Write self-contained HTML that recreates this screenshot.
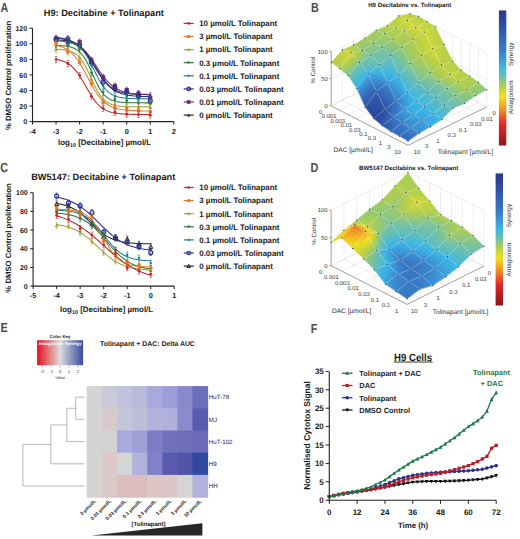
<!DOCTYPE html><html><head><meta charset="utf-8"><style>html,body{margin:0;padding:0;background:#fff;overflow:hidden}svg{display:block}text{font-family:"Liberation Sans",sans-serif;text-rendering:geometricPrecision}</style></head><body>
<svg width="520" height="539" viewBox="0 0 520 539">
<rect width="520" height="539" fill="#fff"/>
<polyline points="56.05,39.79 57.65,39.89 59.24,40.02 60.84,40.17 62.44,40.35 64.03,40.56 65.63,40.82 67.23,41.13 68.82,41.51 70.42,41.95 72.02,42.47 73.61,43.09 75.21,43.83 76.81,44.69 78.40,45.69 80.00,46.84 81.60,48.17 83.19,49.69 84.79,51.39 86.39,53.29 87.98,55.38 89.58,57.63 91.18,60.04 92.77,62.56 94.37,65.17 95.97,67.80 97.56,70.43 99.16,72.99 100.76,75.45 102.35,77.77 103.95,79.92 105.54,81.90 107.14,83.68 108.74,85.27 110.33,86.67 111.93,87.90 113.53,88.96 115.12,89.88 116.72,90.66 118.32,91.32 119.91,91.89 121.51,92.36 123.11,92.76 124.70,93.09 126.30,93.37 127.90,93.60 129.49,93.80 131.09,93.96 132.69,94.09 134.28,94.21 135.88,94.30 137.48,94.37 139.07,94.44 140.67,94.49 142.27,94.53 143.86,94.57 145.46,94.60 147.06,94.63 148.65,94.65 150.25,94.66" fill="none" stroke="#222222" stroke-width="1.05"/>
<polyline points="56.05,38.26 57.65,38.40 59.24,38.57 60.84,38.77 62.44,39.01 64.03,39.29 65.63,39.62 67.23,40.00 68.82,40.44 70.42,40.95 72.02,41.55 73.61,42.24 75.21,43.04 76.81,43.95 78.40,44.99 80.00,46.16 81.60,47.49 83.19,48.96 84.79,50.59 86.39,52.38 87.98,54.31 89.58,56.39 91.18,58.58 92.77,60.88 94.37,63.24 95.97,65.65 97.56,68.06 99.16,70.44 100.76,72.76 102.35,75.00 103.95,77.11 105.54,79.10 107.14,80.93 108.74,82.61 110.33,84.14 111.93,85.51 113.53,86.74 115.12,87.82 116.72,88.77 118.32,89.60 119.91,90.33 121.51,90.96 123.11,91.50 124.70,91.96 126.30,92.37 127.90,92.71 129.49,93.00 131.09,93.25 132.69,93.46 134.28,93.64 135.88,93.80 137.48,93.93 139.07,94.04 140.67,94.13 142.27,94.21 143.86,94.28 145.46,94.34 147.06,94.39 148.65,94.43 150.25,94.46" fill="none" stroke="#6d2a77" stroke-width="1.05"/>
<polyline points="56.05,37.41 57.65,37.59 59.24,37.80 60.84,38.05 62.44,38.35 64.03,38.69 65.63,39.09 67.23,39.56 68.82,40.11 70.42,40.75 72.02,41.49 73.61,42.34 75.21,43.31 76.81,44.42 78.40,45.68 80.00,47.09 81.60,48.67 83.19,50.42 84.79,52.34 86.39,54.41 87.98,56.63 89.58,58.99 91.18,61.44 92.77,63.97 94.37,66.53 95.97,69.10 97.56,71.63 99.16,74.09 100.76,76.45 102.35,78.68 103.95,80.77 105.54,82.69 107.14,84.45 108.74,86.04 110.33,87.47 111.93,88.74 113.53,89.86 115.12,90.84 116.72,91.70 118.32,92.44 119.91,93.08 121.51,93.64 123.11,94.11 124.70,94.52 126.30,94.87 127.90,95.17 129.49,95.42 131.09,95.63 132.69,95.82 134.28,95.97 135.88,96.10 137.48,96.21 139.07,96.31 140.67,96.39 142.27,96.45 143.86,96.51 145.46,96.56 147.06,96.60 148.65,96.63 150.25,96.66" fill="none" stroke="#2b2f8f" stroke-width="1.05"/>
<polyline points="56.05,40.95 57.65,41.01 59.24,41.10 60.84,41.20 62.44,41.33 64.03,41.50 65.63,41.70 67.23,41.96 68.82,42.27 70.42,42.66 72.02,43.14 73.61,43.74 75.21,44.46 76.81,45.35 78.40,46.41 80.00,47.70 81.60,49.22 83.19,51.00 84.79,53.07 86.39,55.42 87.98,58.04 89.58,60.92 91.18,64.00 92.77,67.22 94.37,70.50 95.97,73.77 97.56,76.93 99.16,79.92 100.76,82.69 102.35,85.19 103.95,87.40 105.54,89.33 107.14,90.99 108.74,92.40 110.33,93.58 111.93,94.56 113.53,95.36 115.12,96.02 116.72,96.56 118.32,97.00 119.91,97.35 121.51,97.64 123.11,97.87 124.70,98.05 126.30,98.20 127.90,98.32 129.49,98.41 131.09,98.49 132.69,98.55 134.28,98.59 135.88,98.63 137.48,98.66 139.07,98.69 140.67,98.71 142.27,98.72 143.86,98.74 145.46,98.75 147.06,98.75 148.65,98.76 150.25,98.77" fill="none" stroke="#1e7b89" stroke-width="1.05"/>
<polyline points="56.05,45.38 57.65,45.44 59.24,45.50 60.84,45.59 62.44,45.70 64.03,45.85 65.63,46.03 67.23,46.27 68.82,46.56 70.42,46.94 72.02,47.42 73.61,48.02 75.21,48.77 76.81,49.71 78.40,50.87 80.00,52.28 81.60,53.99 83.19,56.02 84.79,58.39 86.39,61.11 87.98,64.14 89.58,67.45 91.18,70.95 92.77,74.54 94.37,78.12 95.97,81.58 97.56,84.81 99.16,87.76 100.76,90.38 102.35,92.65 103.95,94.59 105.54,96.21 107.14,97.55 108.74,98.64 110.33,99.52 111.93,100.22 113.53,100.79 115.12,101.23 116.72,101.59 118.32,101.87 119.91,102.08 121.51,102.25 123.11,102.39 124.70,102.49 126.30,102.58 127.90,102.64 129.49,102.69 131.09,102.73 132.69,102.76 134.28,102.78 135.88,102.80 137.48,102.81 139.07,102.83 140.67,102.83 142.27,102.84 143.86,102.85 145.46,102.85 147.06,102.85 148.65,102.86 150.25,102.86" fill="none" stroke="#2b7a3b" stroke-width="1.05"/>
<polyline points="56.05,49.21 57.65,49.29 59.24,49.38 60.84,49.51 62.44,49.67 64.03,49.87 65.63,50.12 67.23,50.44 68.82,50.84 70.42,51.34 72.02,51.97 73.61,52.75 75.21,53.71 76.81,54.89 78.40,56.31 80.00,58.02 81.60,60.04 83.19,62.38 84.79,65.05 86.39,68.02 87.98,71.25 89.58,74.66 91.18,78.16 92.77,81.65 94.37,85.04 95.97,88.24 97.56,91.17 99.16,93.79 100.76,96.09 102.35,98.06 103.95,99.73 105.54,101.12 107.14,102.27 108.74,103.20 110.33,103.96 111.93,104.56 113.53,105.05 115.12,105.44 116.72,105.75 118.32,105.99 119.91,106.18 121.51,106.34 123.11,106.46 124.70,106.55 126.30,106.63 127.90,106.68 129.49,106.73 131.09,106.77 132.69,106.79 134.28,106.82 135.88,106.83 137.48,106.85 139.07,106.86 140.67,106.87 142.27,106.87 143.86,106.88 145.46,106.88 147.06,106.89 148.65,106.89 150.25,106.89" fill="none" stroke="#a5a23a" stroke-width="1.05"/>
<polyline points="56.05,45.10 57.65,45.47 59.24,45.89 60.84,46.40 62.44,46.99 64.03,47.69 65.63,48.51 67.23,49.45 68.82,50.55 70.42,51.81 72.02,53.26 73.61,54.89 75.21,56.73 76.81,58.78 78.40,61.04 80.00,63.50 81.60,66.14 83.19,68.94 84.79,71.87 86.39,74.87 87.98,77.91 89.58,80.94 91.18,83.91 92.77,86.78 94.37,89.50 95.97,92.05 97.56,94.40 99.16,96.56 100.76,98.50 102.35,100.23 103.95,101.77 105.54,103.11 107.14,104.29 108.74,105.31 110.33,106.18 111.93,106.93 113.53,107.58 115.12,108.12 116.72,108.59 118.32,108.98 119.91,109.31 121.51,109.59 123.11,109.83 124.70,110.03 126.30,110.19 127.90,110.33 129.49,110.45 131.09,110.55 132.69,110.63 134.28,110.70 135.88,110.76 137.48,110.81 139.07,110.85 140.67,110.88 142.27,110.91 143.86,110.93 145.46,110.95 147.06,110.97 148.65,110.98 150.25,111.00" fill="none" stroke="#e57a2c" stroke-width="1.05"/>
<polyline points="56.05,59.48 57.65,59.76 59.24,60.10 60.84,60.51 62.44,61.00 64.03,61.59 65.63,62.29 67.23,63.12 68.82,64.10 70.42,65.25 72.02,66.59 73.61,68.13 75.21,69.88 76.81,71.85 78.40,74.03 80.00,76.42 81.60,78.97 83.19,81.67 84.79,84.46 86.39,87.28 87.98,90.09 89.58,92.82 91.18,95.43 92.77,97.87 94.37,100.13 95.97,102.17 97.56,104.00 99.16,105.61 100.76,107.02 102.35,108.23 103.95,109.27 105.54,110.15 107.14,110.89 108.74,111.52 110.33,112.04 111.93,112.47 113.53,112.84 115.12,113.13 116.72,113.38 118.32,113.59 119.91,113.75 121.51,113.89 123.11,114.00 124.70,114.10 126.30,114.17 127.90,114.24 129.49,114.29 131.09,114.33 132.69,114.37 134.28,114.39 135.88,114.42 137.48,114.44 139.07,114.45 140.67,114.46 142.27,114.47 143.86,114.48 145.46,114.49 147.06,114.50 148.65,114.50 150.25,114.50" fill="none" stroke="#c1272d" stroke-width="1.05"/>
<line x1="56.05" y1="37.66" x2="56.05" y2="43.66" stroke="#222222" stroke-width="0.6"/>
<line x1="54.85" y1="37.66" x2="57.25" y2="37.66" stroke="#222222" stroke-width="0.6"/>
<line x1="54.85" y1="43.66" x2="57.25" y2="43.66" stroke="#222222" stroke-width="0.6"/>
<polygon points="56.05,38.86 57.85,42.10 54.25,42.10" fill="#222222"/>
<line x1="67.83" y1="38.44" x2="67.83" y2="44.44" stroke="#222222" stroke-width="0.6"/>
<line x1="66.62" y1="38.44" x2="69.03" y2="38.44" stroke="#222222" stroke-width="0.6"/>
<line x1="66.62" y1="44.44" x2="69.03" y2="44.44" stroke="#222222" stroke-width="0.6"/>
<polygon points="67.83,39.64 69.62,42.88 66.03,42.88" fill="#222222"/>
<line x1="79.60" y1="41.55" x2="79.60" y2="47.55" stroke="#222222" stroke-width="0.6"/>
<line x1="78.40" y1="41.55" x2="80.80" y2="41.55" stroke="#222222" stroke-width="0.6"/>
<line x1="78.40" y1="47.55" x2="80.80" y2="47.55" stroke="#222222" stroke-width="0.6"/>
<polygon points="79.60,42.75 81.40,45.99 77.80,45.99" fill="#222222"/>
<line x1="91.38" y1="58.67" x2="91.38" y2="64.67" stroke="#222222" stroke-width="0.6"/>
<line x1="90.17" y1="58.67" x2="92.58" y2="58.67" stroke="#222222" stroke-width="0.6"/>
<line x1="90.17" y1="64.67" x2="92.58" y2="64.67" stroke="#222222" stroke-width="0.6"/>
<polygon points="91.38,59.87 93.17,63.11 89.58,63.11" fill="#222222"/>
<line x1="103.15" y1="75.79" x2="103.15" y2="81.79" stroke="#222222" stroke-width="0.6"/>
<line x1="101.95" y1="75.79" x2="104.35" y2="75.79" stroke="#222222" stroke-width="0.6"/>
<line x1="101.95" y1="81.79" x2="104.35" y2="81.79" stroke="#222222" stroke-width="0.6"/>
<polygon points="103.15,76.99 104.95,80.23 101.35,80.23" fill="#222222"/>
<line x1="114.92" y1="85.91" x2="114.92" y2="91.91" stroke="#222222" stroke-width="0.6"/>
<line x1="113.72" y1="85.91" x2="116.12" y2="85.91" stroke="#222222" stroke-width="0.6"/>
<line x1="113.72" y1="91.91" x2="116.12" y2="91.91" stroke="#222222" stroke-width="0.6"/>
<polygon points="114.92,87.11 116.72,90.35 113.12,90.35" fill="#222222"/>
<line x1="126.70" y1="89.80" x2="126.70" y2="95.80" stroke="#222222" stroke-width="0.6"/>
<line x1="125.50" y1="89.80" x2="127.90" y2="89.80" stroke="#222222" stroke-width="0.6"/>
<line x1="125.50" y1="95.80" x2="127.90" y2="95.80" stroke="#222222" stroke-width="0.6"/>
<polygon points="126.70,91.00 128.50,94.24 124.90,94.24" fill="#222222"/>
<line x1="138.48" y1="91.36" x2="138.48" y2="97.36" stroke="#222222" stroke-width="0.6"/>
<line x1="137.28" y1="91.36" x2="139.68" y2="91.36" stroke="#222222" stroke-width="0.6"/>
<line x1="137.28" y1="97.36" x2="139.68" y2="97.36" stroke="#222222" stroke-width="0.6"/>
<polygon points="138.48,92.56 140.28,95.80 136.68,95.80" fill="#222222"/>
<line x1="150.25" y1="92.92" x2="150.25" y2="98.92" stroke="#222222" stroke-width="0.6"/>
<line x1="149.05" y1="92.92" x2="151.45" y2="92.92" stroke="#222222" stroke-width="0.6"/>
<line x1="149.05" y1="98.92" x2="151.45" y2="98.92" stroke="#222222" stroke-width="0.6"/>
<polygon points="150.25,94.12 152.05,97.36 148.45,97.36" fill="#222222"/>
<line x1="56.05" y1="35.48" x2="56.05" y2="41.48" stroke="#6d2a77" stroke-width="0.6"/>
<line x1="54.85" y1="35.48" x2="57.25" y2="35.48" stroke="#6d2a77" stroke-width="0.6"/>
<line x1="54.85" y1="41.48" x2="57.25" y2="41.48" stroke="#6d2a77" stroke-width="0.6"/>
<rect x="53.98" y="36.41" width="4.14" height="4.14" fill="#6d2a77"/>
<line x1="67.83" y1="39.29" x2="67.83" y2="45.29" stroke="#6d2a77" stroke-width="0.6"/>
<line x1="66.62" y1="39.29" x2="69.03" y2="39.29" stroke="#6d2a77" stroke-width="0.6"/>
<line x1="66.62" y1="45.29" x2="69.03" y2="45.29" stroke="#6d2a77" stroke-width="0.6"/>
<rect x="65.76" y="40.22" width="4.14" height="4.14" fill="#6d2a77"/>
<line x1="79.60" y1="38.90" x2="79.60" y2="44.90" stroke="#6d2a77" stroke-width="0.6"/>
<line x1="78.40" y1="38.90" x2="80.80" y2="38.90" stroke="#6d2a77" stroke-width="0.6"/>
<line x1="78.40" y1="44.90" x2="80.80" y2="44.90" stroke="#6d2a77" stroke-width="0.6"/>
<rect x="77.53" y="39.83" width="4.14" height="4.14" fill="#6d2a77"/>
<line x1="91.38" y1="57.43" x2="91.38" y2="63.43" stroke="#6d2a77" stroke-width="0.6"/>
<line x1="90.17" y1="57.43" x2="92.58" y2="57.43" stroke="#6d2a77" stroke-width="0.6"/>
<line x1="90.17" y1="63.43" x2="92.58" y2="63.43" stroke="#6d2a77" stroke-width="0.6"/>
<rect x="89.31" y="58.36" width="4.14" height="4.14" fill="#6d2a77"/>
<line x1="103.15" y1="74.39" x2="103.15" y2="80.39" stroke="#6d2a77" stroke-width="0.6"/>
<line x1="101.95" y1="74.39" x2="104.35" y2="74.39" stroke="#6d2a77" stroke-width="0.6"/>
<line x1="101.95" y1="80.39" x2="104.35" y2="80.39" stroke="#6d2a77" stroke-width="0.6"/>
<rect x="101.08" y="75.32" width="4.14" height="4.14" fill="#6d2a77"/>
<line x1="114.92" y1="83.03" x2="114.92" y2="89.03" stroke="#6d2a77" stroke-width="0.6"/>
<line x1="113.72" y1="83.03" x2="116.12" y2="83.03" stroke="#6d2a77" stroke-width="0.6"/>
<line x1="113.72" y1="89.03" x2="116.12" y2="89.03" stroke="#6d2a77" stroke-width="0.6"/>
<rect x="112.86" y="83.96" width="4.14" height="4.14" fill="#6d2a77"/>
<line x1="126.70" y1="87.08" x2="126.70" y2="93.08" stroke="#6d2a77" stroke-width="0.6"/>
<line x1="125.50" y1="87.08" x2="127.90" y2="87.08" stroke="#6d2a77" stroke-width="0.6"/>
<line x1="125.50" y1="93.08" x2="127.90" y2="93.08" stroke="#6d2a77" stroke-width="0.6"/>
<rect x="124.63" y="88.01" width="4.14" height="4.14" fill="#6d2a77"/>
<line x1="138.48" y1="90.58" x2="138.48" y2="96.58" stroke="#6d2a77" stroke-width="0.6"/>
<line x1="137.28" y1="90.58" x2="139.68" y2="90.58" stroke="#6d2a77" stroke-width="0.6"/>
<line x1="137.28" y1="96.58" x2="139.68" y2="96.58" stroke="#6d2a77" stroke-width="0.6"/>
<rect x="136.41" y="91.51" width="4.14" height="4.14" fill="#6d2a77"/>
<line x1="150.25" y1="94.63" x2="150.25" y2="100.63" stroke="#6d2a77" stroke-width="0.6"/>
<line x1="149.05" y1="94.63" x2="151.45" y2="94.63" stroke="#6d2a77" stroke-width="0.6"/>
<line x1="149.05" y1="100.63" x2="151.45" y2="100.63" stroke="#6d2a77" stroke-width="0.6"/>
<rect x="148.18" y="95.56" width="4.14" height="4.14" fill="#6d2a77"/>
<line x1="56.05" y1="36.18" x2="56.05" y2="42.18" stroke="#2b2f8f" stroke-width="0.6"/>
<line x1="54.85" y1="36.18" x2="57.25" y2="36.18" stroke="#2b2f8f" stroke-width="0.6"/>
<line x1="54.85" y1="42.18" x2="57.25" y2="42.18" stroke="#2b2f8f" stroke-width="0.6"/>
<circle cx="56.05" cy="39.18" r="1.98" fill="none" stroke="#2b2f8f" stroke-width="1.2"/>
<line x1="67.83" y1="35.79" x2="67.83" y2="41.79" stroke="#2b2f8f" stroke-width="0.6"/>
<line x1="66.62" y1="35.79" x2="69.03" y2="35.79" stroke="#2b2f8f" stroke-width="0.6"/>
<line x1="66.62" y1="41.79" x2="69.03" y2="41.79" stroke="#2b2f8f" stroke-width="0.6"/>
<circle cx="67.83" cy="38.79" r="1.98" fill="none" stroke="#2b2f8f" stroke-width="1.2"/>
<line x1="79.60" y1="42.02" x2="79.60" y2="48.02" stroke="#2b2f8f" stroke-width="0.6"/>
<line x1="78.40" y1="42.02" x2="80.80" y2="42.02" stroke="#2b2f8f" stroke-width="0.6"/>
<line x1="78.40" y1="48.02" x2="80.80" y2="48.02" stroke="#2b2f8f" stroke-width="0.6"/>
<circle cx="79.60" cy="45.02" r="1.98" fill="none" stroke="#2b2f8f" stroke-width="1.2"/>
<line x1="91.38" y1="59.29" x2="91.38" y2="65.29" stroke="#2b2f8f" stroke-width="0.6"/>
<line x1="90.17" y1="59.29" x2="92.58" y2="59.29" stroke="#2b2f8f" stroke-width="0.6"/>
<line x1="90.17" y1="65.29" x2="92.58" y2="65.29" stroke="#2b2f8f" stroke-width="0.6"/>
<circle cx="91.38" cy="62.29" r="1.98" fill="none" stroke="#2b2f8f" stroke-width="1.2"/>
<line x1="103.15" y1="78.98" x2="103.15" y2="84.98" stroke="#2b2f8f" stroke-width="0.6"/>
<line x1="101.95" y1="78.98" x2="104.35" y2="78.98" stroke="#2b2f8f" stroke-width="0.6"/>
<line x1="101.95" y1="84.98" x2="104.35" y2="84.98" stroke="#2b2f8f" stroke-width="0.6"/>
<circle cx="103.15" cy="81.98" r="1.98" fill="none" stroke="#2b2f8f" stroke-width="1.2"/>
<line x1="114.92" y1="85.13" x2="114.92" y2="91.13" stroke="#2b2f8f" stroke-width="0.6"/>
<line x1="113.72" y1="85.13" x2="116.12" y2="85.13" stroke="#2b2f8f" stroke-width="0.6"/>
<line x1="113.72" y1="91.13" x2="116.12" y2="91.13" stroke="#2b2f8f" stroke-width="0.6"/>
<circle cx="114.92" cy="88.13" r="1.98" fill="none" stroke="#2b2f8f" stroke-width="1.2"/>
<line x1="126.70" y1="88.79" x2="126.70" y2="94.79" stroke="#2b2f8f" stroke-width="0.6"/>
<line x1="125.50" y1="88.79" x2="127.90" y2="88.79" stroke="#2b2f8f" stroke-width="0.6"/>
<line x1="125.50" y1="94.79" x2="127.90" y2="94.79" stroke="#2b2f8f" stroke-width="0.6"/>
<circle cx="126.70" cy="91.79" r="1.98" fill="none" stroke="#2b2f8f" stroke-width="1.2"/>
<line x1="138.48" y1="92.92" x2="138.48" y2="98.92" stroke="#2b2f8f" stroke-width="0.6"/>
<line x1="137.28" y1="92.92" x2="139.68" y2="92.92" stroke="#2b2f8f" stroke-width="0.6"/>
<line x1="137.28" y1="98.92" x2="139.68" y2="98.92" stroke="#2b2f8f" stroke-width="0.6"/>
<circle cx="138.48" cy="95.92" r="1.98" fill="none" stroke="#2b2f8f" stroke-width="1.2"/>
<line x1="150.25" y1="97.90" x2="150.25" y2="103.90" stroke="#2b2f8f" stroke-width="0.6"/>
<line x1="149.05" y1="97.90" x2="151.45" y2="97.90" stroke="#2b2f8f" stroke-width="0.6"/>
<line x1="149.05" y1="103.90" x2="151.45" y2="103.90" stroke="#2b2f8f" stroke-width="0.6"/>
<circle cx="150.25" cy="100.90" r="1.98" fill="none" stroke="#2b2f8f" stroke-width="1.2"/>
<line x1="56.05" y1="37.81" x2="56.05" y2="43.81" stroke="#1e7b89" stroke-width="0.6"/>
<line x1="54.85" y1="37.81" x2="57.25" y2="37.81" stroke="#1e7b89" stroke-width="0.6"/>
<line x1="54.85" y1="43.81" x2="57.25" y2="43.81" stroke="#1e7b89" stroke-width="0.6"/>
<polygon points="56.05,39.28 57.58,40.81 56.05,42.34 54.52,40.81" fill="#1e7b89"/>
<line x1="67.83" y1="39.99" x2="67.83" y2="45.99" stroke="#1e7b89" stroke-width="0.6"/>
<line x1="66.62" y1="39.99" x2="69.03" y2="39.99" stroke="#1e7b89" stroke-width="0.6"/>
<line x1="66.62" y1="45.99" x2="69.03" y2="45.99" stroke="#1e7b89" stroke-width="0.6"/>
<polygon points="67.83,41.46 69.36,42.99 67.83,44.52 66.30,42.99" fill="#1e7b89"/>
<line x1="79.60" y1="43.10" x2="79.60" y2="49.10" stroke="#1e7b89" stroke-width="0.6"/>
<line x1="78.40" y1="43.10" x2="80.80" y2="43.10" stroke="#1e7b89" stroke-width="0.6"/>
<line x1="78.40" y1="49.10" x2="80.80" y2="49.10" stroke="#1e7b89" stroke-width="0.6"/>
<polygon points="79.60,44.57 81.13,46.10 79.60,47.63 78.07,46.10" fill="#1e7b89"/>
<line x1="91.38" y1="62.10" x2="91.38" y2="68.10" stroke="#1e7b89" stroke-width="0.6"/>
<line x1="90.17" y1="62.10" x2="92.58" y2="62.10" stroke="#1e7b89" stroke-width="0.6"/>
<line x1="90.17" y1="68.10" x2="92.58" y2="68.10" stroke="#1e7b89" stroke-width="0.6"/>
<polygon points="91.38,63.57 92.91,65.10 91.38,66.63 89.84,65.10" fill="#1e7b89"/>
<line x1="103.15" y1="83.03" x2="103.15" y2="89.03" stroke="#1e7b89" stroke-width="0.6"/>
<line x1="101.95" y1="83.03" x2="104.35" y2="83.03" stroke="#1e7b89" stroke-width="0.6"/>
<line x1="101.95" y1="89.03" x2="104.35" y2="89.03" stroke="#1e7b89" stroke-width="0.6"/>
<polygon points="103.15,84.50 104.68,86.03 103.15,87.56 101.62,86.03" fill="#1e7b89"/>
<line x1="114.92" y1="92.92" x2="114.92" y2="98.92" stroke="#1e7b89" stroke-width="0.6"/>
<line x1="113.72" y1="92.92" x2="116.12" y2="92.92" stroke="#1e7b89" stroke-width="0.6"/>
<line x1="113.72" y1="98.92" x2="116.12" y2="98.92" stroke="#1e7b89" stroke-width="0.6"/>
<polygon points="114.92,94.39 116.45,95.92 114.92,97.45 113.39,95.92" fill="#1e7b89"/>
<line x1="126.70" y1="93.93" x2="126.70" y2="99.93" stroke="#1e7b89" stroke-width="0.6"/>
<line x1="125.50" y1="93.93" x2="127.90" y2="93.93" stroke="#1e7b89" stroke-width="0.6"/>
<line x1="125.50" y1="99.93" x2="127.90" y2="99.93" stroke="#1e7b89" stroke-width="0.6"/>
<polygon points="126.70,95.40 128.23,96.93 126.70,98.46 125.17,96.93" fill="#1e7b89"/>
<line x1="138.48" y1="96.03" x2="138.48" y2="102.03" stroke="#1e7b89" stroke-width="0.6"/>
<line x1="137.28" y1="96.03" x2="139.68" y2="96.03" stroke="#1e7b89" stroke-width="0.6"/>
<line x1="137.28" y1="102.03" x2="139.68" y2="102.03" stroke="#1e7b89" stroke-width="0.6"/>
<polygon points="138.48,97.50 140.01,99.03 138.48,100.56 136.95,99.03" fill="#1e7b89"/>
<line x1="150.25" y1="96.81" x2="150.25" y2="102.81" stroke="#1e7b89" stroke-width="0.6"/>
<line x1="149.05" y1="96.81" x2="151.45" y2="96.81" stroke="#1e7b89" stroke-width="0.6"/>
<line x1="149.05" y1="102.81" x2="151.45" y2="102.81" stroke="#1e7b89" stroke-width="0.6"/>
<polygon points="150.25,98.28 151.78,99.81 150.25,101.34 148.72,99.81" fill="#1e7b89"/>
<line x1="56.05" y1="43.88" x2="56.05" y2="49.88" stroke="#2b7a3b" stroke-width="0.6"/>
<line x1="54.85" y1="43.88" x2="57.25" y2="43.88" stroke="#2b7a3b" stroke-width="0.6"/>
<line x1="54.85" y1="49.88" x2="57.25" y2="49.88" stroke="#2b7a3b" stroke-width="0.6"/>
<polygon points="56.05,48.68 57.85,45.44 54.25,45.44" fill="#2b7a3b"/>
<line x1="67.83" y1="43.18" x2="67.83" y2="49.18" stroke="#2b7a3b" stroke-width="0.6"/>
<line x1="66.62" y1="43.18" x2="69.03" y2="43.18" stroke="#2b7a3b" stroke-width="0.6"/>
<line x1="66.62" y1="49.18" x2="69.03" y2="49.18" stroke="#2b7a3b" stroke-width="0.6"/>
<polygon points="67.83,47.98 69.62,44.74 66.03,44.74" fill="#2b7a3b"/>
<line x1="79.60" y1="46.61" x2="79.60" y2="52.61" stroke="#2b7a3b" stroke-width="0.6"/>
<line x1="78.40" y1="46.61" x2="80.80" y2="46.61" stroke="#2b7a3b" stroke-width="0.6"/>
<line x1="78.40" y1="52.61" x2="80.80" y2="52.61" stroke="#2b7a3b" stroke-width="0.6"/>
<polygon points="79.60,51.41 81.40,48.17 77.80,48.17" fill="#2b7a3b"/>
<line x1="91.38" y1="70.11" x2="91.38" y2="76.11" stroke="#2b7a3b" stroke-width="0.6"/>
<line x1="90.17" y1="70.11" x2="92.58" y2="70.11" stroke="#2b7a3b" stroke-width="0.6"/>
<line x1="90.17" y1="76.11" x2="92.58" y2="76.11" stroke="#2b7a3b" stroke-width="0.6"/>
<polygon points="91.38,74.91 93.17,71.67 89.58,71.67" fill="#2b7a3b"/>
<line x1="103.15" y1="89.49" x2="103.15" y2="95.49" stroke="#2b7a3b" stroke-width="0.6"/>
<line x1="101.95" y1="89.49" x2="104.35" y2="89.49" stroke="#2b7a3b" stroke-width="0.6"/>
<line x1="101.95" y1="95.49" x2="104.35" y2="95.49" stroke="#2b7a3b" stroke-width="0.6"/>
<polygon points="103.15,94.29 104.95,91.05 101.35,91.05" fill="#2b7a3b"/>
<line x1="114.92" y1="97.20" x2="114.92" y2="103.20" stroke="#2b7a3b" stroke-width="0.6"/>
<line x1="113.72" y1="97.20" x2="116.12" y2="97.20" stroke="#2b7a3b" stroke-width="0.6"/>
<line x1="113.72" y1="103.20" x2="116.12" y2="103.20" stroke="#2b7a3b" stroke-width="0.6"/>
<polygon points="114.92,102.00 116.72,98.76 113.12,98.76" fill="#2b7a3b"/>
<line x1="126.70" y1="98.21" x2="126.70" y2="104.21" stroke="#2b7a3b" stroke-width="0.6"/>
<line x1="125.50" y1="98.21" x2="127.90" y2="98.21" stroke="#2b7a3b" stroke-width="0.6"/>
<line x1="125.50" y1="104.21" x2="127.90" y2="104.21" stroke="#2b7a3b" stroke-width="0.6"/>
<polygon points="126.70,103.01 128.50,99.77 124.90,99.77" fill="#2b7a3b"/>
<line x1="138.48" y1="100.70" x2="138.48" y2="106.70" stroke="#2b7a3b" stroke-width="0.6"/>
<line x1="137.28" y1="100.70" x2="139.68" y2="100.70" stroke="#2b7a3b" stroke-width="0.6"/>
<line x1="137.28" y1="106.70" x2="139.68" y2="106.70" stroke="#2b7a3b" stroke-width="0.6"/>
<polygon points="138.48,105.50 140.28,102.26 136.68,102.26" fill="#2b7a3b"/>
<line x1="150.25" y1="101.79" x2="150.25" y2="107.79" stroke="#2b7a3b" stroke-width="0.6"/>
<line x1="149.05" y1="101.79" x2="151.45" y2="101.79" stroke="#2b7a3b" stroke-width="0.6"/>
<line x1="149.05" y1="107.79" x2="151.45" y2="107.79" stroke="#2b7a3b" stroke-width="0.6"/>
<polygon points="150.25,106.59 152.05,103.35 148.45,103.35" fill="#2b7a3b"/>
<line x1="56.05" y1="46.53" x2="56.05" y2="52.53" stroke="#a5a23a" stroke-width="0.6"/>
<line x1="54.85" y1="46.53" x2="57.25" y2="46.53" stroke="#a5a23a" stroke-width="0.6"/>
<line x1="54.85" y1="52.53" x2="57.25" y2="52.53" stroke="#a5a23a" stroke-width="0.6"/>
<polygon points="56.05,47.73 57.85,50.97 54.25,50.97" fill="#a5a23a"/>
<line x1="67.83" y1="47.39" x2="67.83" y2="53.39" stroke="#a5a23a" stroke-width="0.6"/>
<line x1="66.62" y1="47.39" x2="69.03" y2="47.39" stroke="#a5a23a" stroke-width="0.6"/>
<line x1="66.62" y1="53.39" x2="69.03" y2="53.39" stroke="#a5a23a" stroke-width="0.6"/>
<polygon points="67.83,48.59 69.62,51.83 66.03,51.83" fill="#a5a23a"/>
<line x1="79.60" y1="54.31" x2="79.60" y2="60.31" stroke="#a5a23a" stroke-width="0.6"/>
<line x1="78.40" y1="54.31" x2="80.80" y2="54.31" stroke="#a5a23a" stroke-width="0.6"/>
<line x1="78.40" y1="60.31" x2="80.80" y2="60.31" stroke="#a5a23a" stroke-width="0.6"/>
<polygon points="79.60,55.51 81.40,58.75 77.80,58.75" fill="#a5a23a"/>
<line x1="91.38" y1="75.79" x2="91.38" y2="81.79" stroke="#a5a23a" stroke-width="0.6"/>
<line x1="90.17" y1="75.79" x2="92.58" y2="75.79" stroke="#a5a23a" stroke-width="0.6"/>
<line x1="90.17" y1="81.79" x2="92.58" y2="81.79" stroke="#a5a23a" stroke-width="0.6"/>
<polygon points="91.38,76.99 93.17,80.23 89.58,80.23" fill="#a5a23a"/>
<line x1="103.15" y1="96.03" x2="103.15" y2="102.03" stroke="#a5a23a" stroke-width="0.6"/>
<line x1="101.95" y1="96.03" x2="104.35" y2="96.03" stroke="#a5a23a" stroke-width="0.6"/>
<line x1="101.95" y1="102.03" x2="104.35" y2="102.03" stroke="#a5a23a" stroke-width="0.6"/>
<polygon points="103.15,97.23 104.95,100.47 101.35,100.47" fill="#a5a23a"/>
<line x1="114.92" y1="101.48" x2="114.92" y2="107.48" stroke="#a5a23a" stroke-width="0.6"/>
<line x1="113.72" y1="101.48" x2="116.12" y2="101.48" stroke="#a5a23a" stroke-width="0.6"/>
<line x1="113.72" y1="107.48" x2="116.12" y2="107.48" stroke="#a5a23a" stroke-width="0.6"/>
<polygon points="114.92,102.68 116.72,105.92 113.12,105.92" fill="#a5a23a"/>
<line x1="126.70" y1="103.27" x2="126.70" y2="109.27" stroke="#a5a23a" stroke-width="0.6"/>
<line x1="125.50" y1="103.27" x2="127.90" y2="103.27" stroke="#a5a23a" stroke-width="0.6"/>
<line x1="125.50" y1="109.27" x2="127.90" y2="109.27" stroke="#a5a23a" stroke-width="0.6"/>
<polygon points="126.70,104.47 128.50,107.71 124.90,107.71" fill="#a5a23a"/>
<line x1="138.48" y1="104.20" x2="138.48" y2="110.20" stroke="#a5a23a" stroke-width="0.6"/>
<line x1="137.28" y1="104.20" x2="139.68" y2="104.20" stroke="#a5a23a" stroke-width="0.6"/>
<line x1="137.28" y1="110.20" x2="139.68" y2="110.20" stroke="#a5a23a" stroke-width="0.6"/>
<polygon points="138.48,105.40 140.28,108.64 136.68,108.64" fill="#a5a23a"/>
<line x1="150.25" y1="104.67" x2="150.25" y2="110.67" stroke="#a5a23a" stroke-width="0.6"/>
<line x1="149.05" y1="104.67" x2="151.45" y2="104.67" stroke="#a5a23a" stroke-width="0.6"/>
<line x1="149.05" y1="110.67" x2="151.45" y2="110.67" stroke="#a5a23a" stroke-width="0.6"/>
<polygon points="150.25,105.87 152.05,109.11 148.45,109.11" fill="#a5a23a"/>
<line x1="56.05" y1="40.77" x2="56.05" y2="46.77" stroke="#e57a2c" stroke-width="0.6"/>
<line x1="54.85" y1="40.77" x2="57.25" y2="40.77" stroke="#e57a2c" stroke-width="0.6"/>
<line x1="54.85" y1="46.77" x2="57.25" y2="46.77" stroke="#e57a2c" stroke-width="0.6"/>
<rect x="54.43" y="42.15" width="3.24" height="3.24" fill="#e57a2c"/>
<line x1="67.83" y1="48.86" x2="67.83" y2="54.86" stroke="#e57a2c" stroke-width="0.6"/>
<line x1="66.62" y1="48.86" x2="69.03" y2="48.86" stroke="#e57a2c" stroke-width="0.6"/>
<line x1="66.62" y1="54.86" x2="69.03" y2="54.86" stroke="#e57a2c" stroke-width="0.6"/>
<rect x="66.20" y="50.24" width="3.24" height="3.24" fill="#e57a2c"/>
<line x1="79.60" y1="59.29" x2="79.60" y2="65.29" stroke="#e57a2c" stroke-width="0.6"/>
<line x1="78.40" y1="59.29" x2="80.80" y2="59.29" stroke="#e57a2c" stroke-width="0.6"/>
<line x1="78.40" y1="65.29" x2="80.80" y2="65.29" stroke="#e57a2c" stroke-width="0.6"/>
<rect x="77.98" y="60.67" width="3.24" height="3.24" fill="#e57a2c"/>
<line x1="91.38" y1="80.46" x2="91.38" y2="86.46" stroke="#e57a2c" stroke-width="0.6"/>
<line x1="90.17" y1="80.46" x2="92.58" y2="80.46" stroke="#e57a2c" stroke-width="0.6"/>
<line x1="90.17" y1="86.46" x2="92.58" y2="86.46" stroke="#e57a2c" stroke-width="0.6"/>
<rect x="89.75" y="81.84" width="3.24" height="3.24" fill="#e57a2c"/>
<line x1="103.15" y1="99.61" x2="103.15" y2="105.61" stroke="#e57a2c" stroke-width="0.6"/>
<line x1="101.95" y1="99.61" x2="104.35" y2="99.61" stroke="#e57a2c" stroke-width="0.6"/>
<line x1="101.95" y1="105.61" x2="104.35" y2="105.61" stroke="#e57a2c" stroke-width="0.6"/>
<rect x="101.53" y="100.99" width="3.24" height="3.24" fill="#e57a2c"/>
<line x1="114.92" y1="104.67" x2="114.92" y2="110.67" stroke="#e57a2c" stroke-width="0.6"/>
<line x1="113.72" y1="104.67" x2="116.12" y2="104.67" stroke="#e57a2c" stroke-width="0.6"/>
<line x1="113.72" y1="110.67" x2="116.12" y2="110.67" stroke="#e57a2c" stroke-width="0.6"/>
<rect x="113.30" y="106.05" width="3.24" height="3.24" fill="#e57a2c"/>
<line x1="126.70" y1="106.15" x2="126.70" y2="112.15" stroke="#e57a2c" stroke-width="0.6"/>
<line x1="125.50" y1="106.15" x2="127.90" y2="106.15" stroke="#e57a2c" stroke-width="0.6"/>
<line x1="125.50" y1="112.15" x2="127.90" y2="112.15" stroke="#e57a2c" stroke-width="0.6"/>
<rect x="125.08" y="107.53" width="3.24" height="3.24" fill="#e57a2c"/>
<line x1="138.48" y1="107.70" x2="138.48" y2="113.70" stroke="#e57a2c" stroke-width="0.6"/>
<line x1="137.28" y1="107.70" x2="139.68" y2="107.70" stroke="#e57a2c" stroke-width="0.6"/>
<line x1="137.28" y1="113.70" x2="139.68" y2="113.70" stroke="#e57a2c" stroke-width="0.6"/>
<rect x="136.86" y="109.08" width="3.24" height="3.24" fill="#e57a2c"/>
<line x1="150.25" y1="108.72" x2="150.25" y2="114.72" stroke="#e57a2c" stroke-width="0.6"/>
<line x1="149.05" y1="108.72" x2="151.45" y2="108.72" stroke="#e57a2c" stroke-width="0.6"/>
<line x1="149.05" y1="114.72" x2="151.45" y2="114.72" stroke="#e57a2c" stroke-width="0.6"/>
<rect x="148.63" y="110.10" width="3.24" height="3.24" fill="#e57a2c"/>
<line x1="56.05" y1="56.57" x2="56.05" y2="62.57" stroke="#c1272d" stroke-width="0.6"/>
<line x1="54.85" y1="56.57" x2="57.25" y2="56.57" stroke="#c1272d" stroke-width="0.6"/>
<line x1="54.85" y1="62.57" x2="57.25" y2="62.57" stroke="#c1272d" stroke-width="0.6"/>
<circle cx="56.05" cy="59.57" r="1.44" fill="#c1272d"/>
<line x1="67.83" y1="60.54" x2="67.83" y2="66.54" stroke="#c1272d" stroke-width="0.6"/>
<line x1="66.62" y1="60.54" x2="69.03" y2="60.54" stroke="#c1272d" stroke-width="0.6"/>
<line x1="66.62" y1="66.54" x2="69.03" y2="66.54" stroke="#c1272d" stroke-width="0.6"/>
<circle cx="67.83" cy="63.54" r="1.44" fill="#c1272d"/>
<line x1="79.60" y1="72.37" x2="79.60" y2="78.37" stroke="#c1272d" stroke-width="0.6"/>
<line x1="78.40" y1="72.37" x2="80.80" y2="72.37" stroke="#c1272d" stroke-width="0.6"/>
<line x1="78.40" y1="78.37" x2="80.80" y2="78.37" stroke="#c1272d" stroke-width="0.6"/>
<circle cx="79.60" cy="75.37" r="1.44" fill="#c1272d"/>
<line x1="91.38" y1="93.38" x2="91.38" y2="99.38" stroke="#c1272d" stroke-width="0.6"/>
<line x1="90.17" y1="93.38" x2="92.58" y2="93.38" stroke="#c1272d" stroke-width="0.6"/>
<line x1="90.17" y1="99.38" x2="92.58" y2="99.38" stroke="#c1272d" stroke-width="0.6"/>
<circle cx="91.38" cy="96.38" r="1.44" fill="#c1272d"/>
<line x1="103.15" y1="105.37" x2="103.15" y2="111.37" stroke="#c1272d" stroke-width="0.6"/>
<line x1="101.95" y1="105.37" x2="104.35" y2="105.37" stroke="#c1272d" stroke-width="0.6"/>
<line x1="101.95" y1="111.37" x2="104.35" y2="111.37" stroke="#c1272d" stroke-width="0.6"/>
<circle cx="103.15" cy="108.37" r="1.44" fill="#c1272d"/>
<line x1="114.92" y1="109.26" x2="114.92" y2="115.26" stroke="#c1272d" stroke-width="0.6"/>
<line x1="113.72" y1="109.26" x2="116.12" y2="109.26" stroke="#c1272d" stroke-width="0.6"/>
<line x1="113.72" y1="115.26" x2="116.12" y2="115.26" stroke="#c1272d" stroke-width="0.6"/>
<circle cx="114.92" cy="112.26" r="1.44" fill="#c1272d"/>
<line x1="126.70" y1="111.21" x2="126.70" y2="117.21" stroke="#c1272d" stroke-width="0.6"/>
<line x1="125.50" y1="111.21" x2="127.90" y2="111.21" stroke="#c1272d" stroke-width="0.6"/>
<line x1="125.50" y1="117.21" x2="127.90" y2="117.21" stroke="#c1272d" stroke-width="0.6"/>
<circle cx="126.70" cy="114.21" r="1.44" fill="#c1272d"/>
<line x1="138.48" y1="111.60" x2="138.48" y2="117.60" stroke="#c1272d" stroke-width="0.6"/>
<line x1="137.28" y1="111.60" x2="139.68" y2="111.60" stroke="#c1272d" stroke-width="0.6"/>
<line x1="137.28" y1="117.60" x2="139.68" y2="117.60" stroke="#c1272d" stroke-width="0.6"/>
<circle cx="138.48" cy="114.60" r="1.44" fill="#c1272d"/>
<line x1="150.25" y1="112.22" x2="150.25" y2="118.22" stroke="#c1272d" stroke-width="0.6"/>
<line x1="149.05" y1="112.22" x2="151.45" y2="112.22" stroke="#c1272d" stroke-width="0.6"/>
<line x1="149.05" y1="118.22" x2="151.45" y2="118.22" stroke="#c1272d" stroke-width="0.6"/>
<circle cx="150.25" cy="115.22" r="1.44" fill="#c1272d"/>
<line x1="32.50" y1="28.20" x2="32.50" y2="122.10" stroke="#222" stroke-width="1.1"/>
<line x1="32.00" y1="121.60" x2="173.80" y2="121.60" stroke="#222" stroke-width="1.1"/>
<line x1="29.50" y1="121.60" x2="32.50" y2="121.60" stroke="#222" stroke-width="1"/>
<text x="27.10" y="124.20" font-size="7.0" text-anchor="end" font-weight="bold" fill="#1a1a1a" >0</text>
<line x1="29.50" y1="106.03" x2="32.50" y2="106.03" stroke="#222" stroke-width="1"/>
<text x="27.10" y="108.63" font-size="7.0" text-anchor="end" font-weight="bold" fill="#1a1a1a" >20</text>
<line x1="29.50" y1="90.47" x2="32.50" y2="90.47" stroke="#222" stroke-width="1"/>
<text x="27.10" y="93.07" font-size="7.0" text-anchor="end" font-weight="bold" fill="#1a1a1a" >40</text>
<line x1="29.50" y1="74.90" x2="32.50" y2="74.90" stroke="#222" stroke-width="1"/>
<text x="27.10" y="77.50" font-size="7.0" text-anchor="end" font-weight="bold" fill="#1a1a1a" >60</text>
<line x1="29.50" y1="59.34" x2="32.50" y2="59.34" stroke="#222" stroke-width="1"/>
<text x="27.10" y="61.94" font-size="7.0" text-anchor="end" font-weight="bold" fill="#1a1a1a" >80</text>
<line x1="29.50" y1="43.77" x2="32.50" y2="43.77" stroke="#222" stroke-width="1"/>
<text x="27.10" y="46.37" font-size="7.0" text-anchor="end" font-weight="bold" fill="#1a1a1a" >100</text>
<line x1="29.50" y1="28.20" x2="32.50" y2="28.20" stroke="#222" stroke-width="1"/>
<text x="27.10" y="30.80" font-size="7.0" text-anchor="end" font-weight="bold" fill="#1a1a1a" >120</text>
<line x1="32.50" y1="121.60" x2="32.50" y2="124.60" stroke="#222" stroke-width="1"/>
<text x="32.50" y="133.90" font-size="7.3" text-anchor="middle" font-weight="bold" fill="#1a1a1a" >-4</text>
<line x1="56.05" y1="121.60" x2="56.05" y2="124.60" stroke="#222" stroke-width="1"/>
<text x="56.05" y="133.90" font-size="7.3" text-anchor="middle" font-weight="bold" fill="#1a1a1a" >-3</text>
<line x1="79.60" y1="121.60" x2="79.60" y2="124.60" stroke="#222" stroke-width="1"/>
<text x="79.60" y="133.90" font-size="7.3" text-anchor="middle" font-weight="bold" fill="#1a1a1a" >-2</text>
<line x1="103.15" y1="121.60" x2="103.15" y2="124.60" stroke="#222" stroke-width="1"/>
<text x="103.15" y="133.90" font-size="7.3" text-anchor="middle" font-weight="bold" fill="#1a1a1a" >-1</text>
<line x1="126.70" y1="121.60" x2="126.70" y2="124.60" stroke="#222" stroke-width="1"/>
<text x="126.70" y="133.90" font-size="7.3" text-anchor="middle" font-weight="bold" fill="#1a1a1a" >0</text>
<line x1="150.25" y1="121.60" x2="150.25" y2="124.60" stroke="#222" stroke-width="1"/>
<text x="150.25" y="133.90" font-size="7.3" text-anchor="middle" font-weight="bold" fill="#1a1a1a" >1</text>
<line x1="173.80" y1="121.60" x2="173.80" y2="124.60" stroke="#222" stroke-width="1"/>
<text x="173.80" y="133.90" font-size="7.3" text-anchor="middle" font-weight="bold" fill="#1a1a1a" >2</text>
<text x="43.80" y="16.20" font-size="9.2" text-anchor="start" font-weight="bold" fill="#1a1a1a" >H9: Decitabine + Tolinapant</text>
<text x="104.60" y="144.70" font-size="7.9" text-anchor="middle" font-weight="bold" fill="#1a1a1a" >log<tspan font-size="5.5" dy="2">10</tspan><tspan dy="-2"> [Decitabine] µmol/L</tspan></text>
<text x="11.20" y="75.40" font-size="7.75" text-anchor="middle" font-weight="bold" fill="#1a1a1a" transform="rotate(-90 11.2 75.4)" >% DMSO Control proliferation</text>
<line x1="183.70" y1="23.40" x2="193.70" y2="23.40" stroke="#c1272d" stroke-width="1.2"/>
<circle cx="188.70" cy="23.40" r="1.28" fill="#c1272d"/>
<text x="199.20" y="26.20" font-size="7.9" text-anchor="start" font-weight="bold" fill="#1a1a1a" >10 µmol/L Tolinapant</text>
<line x1="183.70" y1="36.50" x2="193.70" y2="36.50" stroke="#e57a2c" stroke-width="1.2"/>
<rect x="187.26" y="35.06" width="2.88" height="2.88" fill="#e57a2c"/>
<text x="199.20" y="39.30" font-size="7.9" text-anchor="start" font-weight="bold" fill="#1a1a1a" >3 µmol/L Tolinapant</text>
<line x1="183.70" y1="49.60" x2="193.70" y2="49.60" stroke="#a5a23a" stroke-width="1.2"/>
<polygon points="188.70,48.00 190.30,50.88 187.10,50.88" fill="#a5a23a"/>
<text x="199.20" y="52.40" font-size="7.9" text-anchor="start" font-weight="bold" fill="#1a1a1a" >1 µmol/L Tolinapant</text>
<line x1="183.70" y1="62.70" x2="193.70" y2="62.70" stroke="#2b7a3b" stroke-width="1.2"/>
<polygon points="188.70,64.30 190.30,61.42 187.10,61.42" fill="#2b7a3b"/>
<text x="199.20" y="65.50" font-size="7.9" text-anchor="start" font-weight="bold" fill="#1a1a1a" >0.3 µmol/L Tolinapant</text>
<line x1="183.70" y1="75.80" x2="193.70" y2="75.80" stroke="#1e7b89" stroke-width="1.2"/>
<polygon points="188.70,74.44 190.06,75.80 188.70,77.16 187.34,75.80" fill="#1e7b89"/>
<text x="199.20" y="78.60" font-size="7.9" text-anchor="start" font-weight="bold" fill="#1a1a1a" >0.1 µmol/L Tolinapant</text>
<line x1="183.70" y1="88.90" x2="193.70" y2="88.90" stroke="#2b2f8f" stroke-width="1.2"/>
<circle cx="188.70" cy="88.90" r="1.76" fill="none" stroke="#2b2f8f" stroke-width="1.2"/>
<text x="199.20" y="91.70" font-size="7.9" text-anchor="start" font-weight="bold" fill="#1a1a1a" >0.03 µmol/L Tolinapant</text>
<line x1="183.70" y1="102.00" x2="193.70" y2="102.00" stroke="#6d2a77" stroke-width="1.2"/>
<rect x="186.86" y="100.16" width="3.68" height="3.68" fill="#6d2a77"/>
<text x="199.20" y="104.80" font-size="7.9" text-anchor="start" font-weight="bold" fill="#1a1a1a" >0.01 µmol/L Tolinapant</text>
<line x1="183.70" y1="115.10" x2="193.70" y2="115.10" stroke="#222222" stroke-width="1.2"/>
<polygon points="188.70,113.50 190.30,116.38 187.10,116.38" fill="#222222"/>
<text x="199.20" y="117.90" font-size="7.9" text-anchor="start" font-weight="bold" fill="#1a1a1a" >0 µmol/L Tolinapant</text>
<text transform="translate(0.5 12.3) scale(0.82 1)" font-size="13.2" font-weight="bold" fill="#4d4d4d">A</text>
<polyline points="56.63,203.42 58.23,203.67 59.82,203.97 61.42,204.30 63.01,204.68 64.61,205.12 66.20,205.61 67.80,206.16 69.39,206.78 70.99,207.48 72.58,208.25 74.18,209.11 75.77,210.06 77.37,211.09 78.96,212.21 80.56,213.42 82.15,214.71 83.75,216.08 85.34,217.51 86.94,219.00 88.54,220.53 90.13,222.09 91.73,223.65 93.32,225.20 94.92,226.73 96.51,228.22 98.11,229.66 99.70,231.02 101.30,232.32 102.89,233.53 104.49,234.65 106.08,235.68 107.68,236.63 109.27,237.49 110.87,238.26 112.46,238.96 114.06,239.58 115.65,240.14 117.25,240.63 118.84,241.06 120.44,241.44 122.04,241.78 123.63,242.07 125.23,242.33 126.82,242.55 128.42,242.75 130.01,242.92 131.61,243.07 133.20,243.20 134.80,243.31 136.39,243.40 137.99,243.49 139.58,243.56 141.18,243.62 142.77,243.68 144.37,243.72 145.96,243.76 147.56,243.80 149.15,243.83 150.75,243.85" fill="none" stroke="#222222" stroke-width="1.05"/>
<polyline points="56.63,197.15 58.23,197.46 59.82,197.81 61.42,198.20 63.01,198.62 64.61,199.09 66.20,199.60 67.80,200.16 69.39,200.77 70.99,201.44 72.58,202.16 74.18,202.95 75.77,203.80 77.37,204.71 78.96,205.70 80.56,206.75 82.15,207.87 83.75,209.06 85.34,210.31 86.94,211.62 88.54,213.00 90.13,214.43 91.73,215.91 93.32,217.42 94.92,218.98 96.51,220.55 98.11,222.14 99.70,223.73 101.30,225.32 102.89,226.90 104.49,228.45 106.08,229.97 107.68,231.44 109.27,232.87 110.87,234.24 112.46,235.56 114.06,236.81 115.65,238.00 117.25,239.11 118.84,240.16 120.44,241.14 122.04,242.06 123.63,242.91 125.23,243.69 126.82,244.41 128.42,245.08 130.01,245.69 131.61,246.25 133.20,246.76 134.80,247.22 136.39,247.65 137.99,248.03 139.58,248.38 141.18,248.70 142.77,248.98 144.37,249.24 145.96,249.47 147.56,249.68 149.15,249.87 150.75,250.04" fill="none" stroke="#2b2f8f" stroke-width="1.05"/>
<polyline points="56.63,210.20 58.23,210.27 59.82,210.36 61.42,210.46 63.01,210.58 64.61,210.72 66.20,210.88 67.80,211.07 69.39,211.29 70.99,211.54 72.58,211.84 74.18,212.18 75.77,212.57 77.37,213.03 78.96,213.56 80.56,214.16 82.15,214.85 83.75,215.63 85.34,216.52 86.94,217.51 88.54,218.63 90.13,219.87 91.73,221.24 93.32,222.73 94.92,224.35 96.51,226.09 98.11,227.93 99.70,229.86 101.30,231.85 102.89,233.90 104.49,235.97 106.08,238.03 107.68,240.06 109.27,242.03 110.87,243.93 112.46,245.73 114.06,247.41 115.65,248.98 117.25,250.43 118.84,251.74 120.44,252.93 122.04,254.00 123.63,254.95 125.23,255.79 126.82,256.54 128.42,257.19 130.01,257.76 131.61,258.26 133.20,258.69 134.80,259.06 136.39,259.38 137.99,259.66 139.58,259.90 141.18,260.11 142.77,260.28 144.37,260.43 145.96,260.56 147.56,260.67 149.15,260.77 150.75,260.85" fill="none" stroke="#1e7b89" stroke-width="1.05"/>
<polyline points="56.63,213.14 58.23,213.27 59.82,213.43 61.42,213.60 63.01,213.80 64.61,214.02 66.20,214.27 67.80,214.55 69.39,214.87 70.99,215.22 72.58,215.62 74.18,216.07 75.77,216.57 77.37,217.13 78.96,217.76 80.56,218.45 82.15,219.21 83.75,220.05 85.34,220.98 86.94,221.99 88.54,223.10 90.13,224.29 91.73,225.58 93.32,226.96 94.92,228.44 96.51,229.99 98.11,231.63 99.70,233.34 101.30,235.12 102.89,236.94 104.49,238.80 106.08,240.67 107.68,242.56 109.27,244.43 110.87,246.28 112.46,248.09 114.06,249.84 115.65,251.53 117.25,253.14 118.84,254.68 120.44,256.12 122.04,257.47 123.63,258.73 125.23,259.90 126.82,260.98 128.42,261.96 130.01,262.86 131.61,263.68 133.20,264.42 134.80,265.09 136.39,265.69 137.99,266.23 139.58,266.71 141.18,267.15 142.77,267.53 144.37,267.88 145.96,268.18 147.56,268.45 149.15,268.69 150.75,268.91" fill="none" stroke="#2b7a3b" stroke-width="1.05"/>
<polyline points="56.63,224.64 58.23,224.86 59.82,225.12 61.42,225.40 63.01,225.71 64.61,226.07 66.20,226.46 67.80,226.91 69.39,227.40 70.99,227.94 72.58,228.54 74.18,229.20 75.77,229.93 77.37,230.73 78.96,231.60 80.56,232.54 82.15,233.56 83.75,234.65 85.34,235.81 86.94,237.04 88.54,238.34 90.13,239.71 91.73,241.12 93.32,242.57 94.92,244.07 96.51,245.58 98.11,247.10 99.70,248.62 101.30,250.13 102.89,251.61 104.49,253.05 106.08,254.45 107.68,255.79 109.27,257.07 110.87,258.28 112.46,259.42 114.06,260.48 115.65,261.47 117.25,262.39 118.84,263.23 120.44,264.01 122.04,264.71 123.63,265.36 125.23,265.94 126.82,266.46 128.42,266.94 130.01,267.36 131.61,267.74 133.20,268.08 134.80,268.39 136.39,268.66 137.99,268.90 139.58,269.12 141.18,269.31 142.77,269.48 144.37,269.63 145.96,269.76 147.56,269.88 149.15,269.98 150.75,270.07" fill="none" stroke="#a5a23a" stroke-width="1.05"/>
<polyline points="56.63,209.31 58.23,209.35 59.82,209.40 61.42,209.45 63.01,209.52 64.61,209.60 66.20,209.70 67.80,209.82 69.39,209.97 70.99,210.15 72.58,210.36 74.18,210.62 75.77,210.94 77.37,211.31 78.96,211.76 80.56,212.30 82.15,212.94 83.75,213.70 85.34,214.60 86.94,215.65 88.54,216.88 90.13,218.29 91.73,219.91 93.32,221.74 94.92,223.78 96.51,226.03 98.11,228.48 99.70,231.08 101.30,233.82 102.89,236.63 104.49,239.47 106.08,242.29 107.68,245.03 109.27,247.65 110.87,250.10 112.46,252.36 114.06,254.41 115.65,256.25 117.25,257.88 118.84,259.30 120.44,260.54 122.04,261.60 123.63,262.50 125.23,263.27 126.82,263.92 128.42,264.46 130.01,264.92 131.61,265.30 133.20,265.61 134.80,265.87 136.39,266.09 137.99,266.27 139.58,266.42 141.18,266.54 142.77,266.64 144.37,266.73 145.96,266.79 147.56,266.85 149.15,266.90 150.75,266.94" fill="none" stroke="#e57a2c" stroke-width="1.05"/>
<polyline points="56.63,215.81 58.23,216.28 59.82,216.78 61.42,217.31 63.01,217.88 64.61,218.48 66.20,219.12 67.80,219.80 69.39,220.52 70.99,221.28 72.58,222.08 74.18,222.93 75.77,223.82 77.37,224.75 78.96,225.73 80.56,226.75 82.15,227.82 83.75,228.92 85.34,230.07 86.94,231.26 88.54,232.49 90.13,233.76 91.73,235.05 93.32,236.38 94.92,237.74 96.51,239.12 98.11,240.52 99.70,241.93 101.30,243.36 102.89,244.79 104.49,246.23 106.08,247.66 107.68,249.09 109.27,250.51 110.87,251.91 112.46,253.29 114.06,254.65 115.65,255.98 117.25,257.28 118.84,258.55 120.44,259.78 122.04,260.97 123.63,262.13 125.23,263.24 126.82,264.31 128.42,265.33 130.01,266.31 131.61,267.25 133.20,268.14 134.80,268.99 136.39,269.80 137.99,270.56 139.58,271.29 141.18,271.97 142.77,272.61 144.37,273.22 145.96,273.79 147.56,274.33 149.15,274.83 150.75,275.30" fill="none" stroke="#c1272d" stroke-width="1.05"/>
<line x1="56.63" y1="200.91" x2="56.63" y2="206.91" stroke="#222222" stroke-width="0.6"/>
<line x1="55.43" y1="200.91" x2="57.83" y2="200.91" stroke="#222222" stroke-width="0.6"/>
<line x1="55.43" y1="206.91" x2="57.83" y2="206.91" stroke="#222222" stroke-width="0.6"/>
<polygon points="56.63,201.93 58.61,205.49 54.65,205.49" fill="none" stroke="#222222" stroke-width="1"/>
<line x1="68.40" y1="203.39" x2="68.40" y2="209.39" stroke="#222222" stroke-width="0.6"/>
<line x1="67.20" y1="203.39" x2="69.60" y2="203.39" stroke="#222222" stroke-width="0.6"/>
<line x1="67.20" y1="209.39" x2="69.60" y2="209.39" stroke="#222222" stroke-width="0.6"/>
<polygon points="68.40,204.41 70.38,207.97 66.42,207.97" fill="none" stroke="#222222" stroke-width="1"/>
<line x1="80.16" y1="209.03" x2="80.16" y2="215.03" stroke="#222222" stroke-width="0.6"/>
<line x1="78.96" y1="209.03" x2="81.36" y2="209.03" stroke="#222222" stroke-width="0.6"/>
<line x1="78.96" y1="215.03" x2="81.36" y2="215.03" stroke="#222222" stroke-width="0.6"/>
<polygon points="80.16,210.05 82.14,213.62 78.18,213.62" fill="none" stroke="#222222" stroke-width="1"/>
<line x1="91.93" y1="220.84" x2="91.93" y2="226.84" stroke="#222222" stroke-width="0.6"/>
<line x1="90.73" y1="220.84" x2="93.13" y2="220.84" stroke="#222222" stroke-width="0.6"/>
<line x1="90.73" y1="226.84" x2="93.13" y2="226.84" stroke="#222222" stroke-width="0.6"/>
<polygon points="91.93,221.86 93.91,225.43 89.95,225.43" fill="none" stroke="#222222" stroke-width="1"/>
<line x1="103.69" y1="233.78" x2="103.69" y2="239.78" stroke="#222222" stroke-width="0.6"/>
<line x1="102.49" y1="233.78" x2="104.89" y2="233.78" stroke="#222222" stroke-width="0.6"/>
<line x1="102.49" y1="239.78" x2="104.89" y2="239.78" stroke="#222222" stroke-width="0.6"/>
<polygon points="103.69,234.80 105.67,238.37 101.71,238.37" fill="none" stroke="#222222" stroke-width="1"/>
<line x1="115.46" y1="234.72" x2="115.46" y2="240.72" stroke="#222222" stroke-width="0.6"/>
<line x1="114.26" y1="234.72" x2="116.66" y2="234.72" stroke="#222222" stroke-width="0.6"/>
<line x1="114.26" y1="240.72" x2="116.66" y2="240.72" stroke="#222222" stroke-width="0.6"/>
<polygon points="115.46,235.74 117.44,239.30 113.48,239.30" fill="none" stroke="#222222" stroke-width="1"/>
<line x1="127.22" y1="236.21" x2="127.22" y2="242.21" stroke="#222222" stroke-width="0.6"/>
<line x1="126.02" y1="236.21" x2="128.42" y2="236.21" stroke="#222222" stroke-width="0.6"/>
<line x1="126.02" y1="242.21" x2="128.42" y2="242.21" stroke="#222222" stroke-width="0.6"/>
<polygon points="127.22,237.23 129.20,240.80 125.24,240.80" fill="none" stroke="#222222" stroke-width="1"/>
<line x1="138.99" y1="241.26" x2="138.99" y2="247.26" stroke="#222222" stroke-width="0.6"/>
<line x1="137.79" y1="241.26" x2="140.19" y2="241.26" stroke="#222222" stroke-width="0.6"/>
<line x1="137.79" y1="247.26" x2="140.19" y2="247.26" stroke="#222222" stroke-width="0.6"/>
<polygon points="138.99,242.28 140.97,245.84 137.01,245.84" fill="none" stroke="#222222" stroke-width="1"/>
<line x1="150.75" y1="243.78" x2="150.75" y2="249.78" stroke="#222222" stroke-width="0.6"/>
<line x1="149.55" y1="243.78" x2="151.95" y2="243.78" stroke="#222222" stroke-width="0.6"/>
<line x1="149.55" y1="249.78" x2="151.95" y2="249.78" stroke="#222222" stroke-width="0.6"/>
<polygon points="150.75,244.80 152.73,248.36 148.77,248.36" fill="none" stroke="#222222" stroke-width="1"/>
<line x1="56.63" y1="193.06" x2="56.63" y2="199.06" stroke="#2b2f8f" stroke-width="0.6"/>
<line x1="55.43" y1="193.06" x2="57.83" y2="193.06" stroke="#2b2f8f" stroke-width="0.6"/>
<line x1="55.43" y1="199.06" x2="57.83" y2="199.06" stroke="#2b2f8f" stroke-width="0.6"/>
<circle cx="56.63" cy="196.06" r="1.98" fill="none" stroke="#2b2f8f" stroke-width="1.2"/>
<line x1="68.40" y1="199.97" x2="68.40" y2="205.97" stroke="#2b2f8f" stroke-width="0.6"/>
<line x1="67.20" y1="199.97" x2="69.60" y2="199.97" stroke="#2b2f8f" stroke-width="0.6"/>
<line x1="67.20" y1="205.97" x2="69.60" y2="205.97" stroke="#2b2f8f" stroke-width="0.6"/>
<circle cx="68.40" cy="202.97" r="1.98" fill="none" stroke="#2b2f8f" stroke-width="1.2"/>
<line x1="80.16" y1="202.78" x2="80.16" y2="208.78" stroke="#2b2f8f" stroke-width="0.6"/>
<line x1="78.96" y1="202.78" x2="81.36" y2="202.78" stroke="#2b2f8f" stroke-width="0.6"/>
<line x1="78.96" y1="208.78" x2="81.36" y2="208.78" stroke="#2b2f8f" stroke-width="0.6"/>
<circle cx="80.16" cy="205.78" r="1.98" fill="none" stroke="#2b2f8f" stroke-width="1.2"/>
<line x1="91.93" y1="209.50" x2="91.93" y2="215.50" stroke="#2b2f8f" stroke-width="0.6"/>
<line x1="90.73" y1="209.50" x2="93.13" y2="209.50" stroke="#2b2f8f" stroke-width="0.6"/>
<line x1="90.73" y1="215.50" x2="93.13" y2="215.50" stroke="#2b2f8f" stroke-width="0.6"/>
<circle cx="91.93" cy="212.50" r="1.98" fill="none" stroke="#2b2f8f" stroke-width="1.2"/>
<line x1="103.69" y1="229.11" x2="103.69" y2="235.11" stroke="#2b2f8f" stroke-width="0.6"/>
<line x1="102.49" y1="229.11" x2="104.89" y2="229.11" stroke="#2b2f8f" stroke-width="0.6"/>
<line x1="102.49" y1="235.11" x2="104.89" y2="235.11" stroke="#2b2f8f" stroke-width="0.6"/>
<circle cx="103.69" cy="232.11" r="1.98" fill="none" stroke="#2b2f8f" stroke-width="1.2"/>
<line x1="115.46" y1="234.72" x2="115.46" y2="240.72" stroke="#2b2f8f" stroke-width="0.6"/>
<line x1="114.26" y1="234.72" x2="116.66" y2="234.72" stroke="#2b2f8f" stroke-width="0.6"/>
<line x1="114.26" y1="240.72" x2="116.66" y2="240.72" stroke="#2b2f8f" stroke-width="0.6"/>
<circle cx="115.46" cy="237.72" r="1.98" fill="none" stroke="#2b2f8f" stroke-width="1.2"/>
<line x1="127.22" y1="239.11" x2="127.22" y2="245.11" stroke="#2b2f8f" stroke-width="0.6"/>
<line x1="126.02" y1="239.11" x2="128.42" y2="239.11" stroke="#2b2f8f" stroke-width="0.6"/>
<line x1="126.02" y1="245.11" x2="128.42" y2="245.11" stroke="#2b2f8f" stroke-width="0.6"/>
<circle cx="127.22" cy="242.11" r="1.98" fill="none" stroke="#2b2f8f" stroke-width="1.2"/>
<line x1="138.99" y1="243.69" x2="138.99" y2="249.69" stroke="#2b2f8f" stroke-width="0.6"/>
<line x1="137.79" y1="243.69" x2="140.19" y2="243.69" stroke="#2b2f8f" stroke-width="0.6"/>
<line x1="137.79" y1="249.69" x2="140.19" y2="249.69" stroke="#2b2f8f" stroke-width="0.6"/>
<circle cx="138.99" cy="246.69" r="1.98" fill="none" stroke="#2b2f8f" stroke-width="1.2"/>
<line x1="150.75" y1="249.57" x2="150.75" y2="255.57" stroke="#2b2f8f" stroke-width="0.6"/>
<line x1="149.55" y1="249.57" x2="151.95" y2="249.57" stroke="#2b2f8f" stroke-width="0.6"/>
<line x1="149.55" y1="255.57" x2="151.95" y2="255.57" stroke="#2b2f8f" stroke-width="0.6"/>
<circle cx="150.75" cy="252.57" r="1.98" fill="none" stroke="#2b2f8f" stroke-width="1.2"/>
<line x1="56.63" y1="207.45" x2="56.63" y2="213.45" stroke="#1e7b89" stroke-width="0.6"/>
<line x1="55.43" y1="207.45" x2="57.83" y2="207.45" stroke="#1e7b89" stroke-width="0.6"/>
<line x1="55.43" y1="213.45" x2="57.83" y2="213.45" stroke="#1e7b89" stroke-width="0.6"/>
<polygon points="56.63,208.92 58.16,210.45 56.63,211.98 55.10,210.45" fill="#1e7b89"/>
<line x1="68.40" y1="208.15" x2="68.40" y2="214.15" stroke="#1e7b89" stroke-width="0.6"/>
<line x1="67.20" y1="208.15" x2="69.60" y2="208.15" stroke="#1e7b89" stroke-width="0.6"/>
<line x1="67.20" y1="214.15" x2="69.60" y2="214.15" stroke="#1e7b89" stroke-width="0.6"/>
<polygon points="68.40,209.62 69.93,211.15 68.40,212.68 66.87,211.15" fill="#1e7b89"/>
<line x1="80.16" y1="211.00" x2="80.16" y2="217.00" stroke="#1e7b89" stroke-width="0.6"/>
<line x1="78.96" y1="211.00" x2="81.36" y2="211.00" stroke="#1e7b89" stroke-width="0.6"/>
<line x1="78.96" y1="217.00" x2="81.36" y2="217.00" stroke="#1e7b89" stroke-width="0.6"/>
<polygon points="80.16,212.47 81.69,214.00 80.16,215.53 78.63,214.00" fill="#1e7b89"/>
<line x1="91.93" y1="217.91" x2="91.93" y2="223.91" stroke="#1e7b89" stroke-width="0.6"/>
<line x1="90.73" y1="217.91" x2="93.13" y2="217.91" stroke="#1e7b89" stroke-width="0.6"/>
<line x1="90.73" y1="223.91" x2="93.13" y2="223.91" stroke="#1e7b89" stroke-width="0.6"/>
<polygon points="91.93,219.38 93.46,220.91 91.93,222.44 90.40,220.91" fill="#1e7b89"/>
<line x1="103.69" y1="231.93" x2="103.69" y2="237.93" stroke="#1e7b89" stroke-width="0.6"/>
<line x1="102.49" y1="231.93" x2="104.89" y2="231.93" stroke="#1e7b89" stroke-width="0.6"/>
<line x1="102.49" y1="237.93" x2="104.89" y2="237.93" stroke="#1e7b89" stroke-width="0.6"/>
<polygon points="103.69,233.40 105.22,234.93 103.69,236.46 102.16,234.93" fill="#1e7b89"/>
<line x1="115.46" y1="247.14" x2="115.46" y2="253.14" stroke="#1e7b89" stroke-width="0.6"/>
<line x1="114.26" y1="247.14" x2="116.66" y2="247.14" stroke="#1e7b89" stroke-width="0.6"/>
<line x1="114.26" y1="253.14" x2="116.66" y2="253.14" stroke="#1e7b89" stroke-width="0.6"/>
<polygon points="115.46,248.61 116.99,250.14 115.46,251.67 113.93,250.14" fill="#1e7b89"/>
<line x1="127.22" y1="252.09" x2="127.22" y2="258.09" stroke="#1e7b89" stroke-width="0.6"/>
<line x1="126.02" y1="252.09" x2="128.42" y2="252.09" stroke="#1e7b89" stroke-width="0.6"/>
<line x1="126.02" y1="258.09" x2="128.42" y2="258.09" stroke="#1e7b89" stroke-width="0.6"/>
<polygon points="127.22,253.56 128.75,255.09 127.22,256.62 125.69,255.09" fill="#1e7b89"/>
<line x1="138.99" y1="255.08" x2="138.99" y2="261.08" stroke="#1e7b89" stroke-width="0.6"/>
<line x1="137.79" y1="255.08" x2="140.19" y2="255.08" stroke="#1e7b89" stroke-width="0.6"/>
<line x1="137.79" y1="261.08" x2="140.19" y2="261.08" stroke="#1e7b89" stroke-width="0.6"/>
<polygon points="138.99,256.55 140.52,258.08 138.99,259.61 137.46,258.08" fill="#1e7b89"/>
<line x1="150.75" y1="260.12" x2="150.75" y2="266.12" stroke="#1e7b89" stroke-width="0.6"/>
<line x1="149.55" y1="260.12" x2="151.95" y2="260.12" stroke="#1e7b89" stroke-width="0.6"/>
<line x1="149.55" y1="266.12" x2="151.95" y2="266.12" stroke="#1e7b89" stroke-width="0.6"/>
<polygon points="150.75,261.59 152.28,263.12 150.75,264.65 149.22,263.12" fill="#1e7b89"/>
<line x1="56.63" y1="209.31" x2="56.63" y2="215.31" stroke="#2b7a3b" stroke-width="0.6"/>
<line x1="55.43" y1="209.31" x2="57.83" y2="209.31" stroke="#2b7a3b" stroke-width="0.6"/>
<line x1="55.43" y1="215.31" x2="57.83" y2="215.31" stroke="#2b7a3b" stroke-width="0.6"/>
<polygon points="56.63,214.11 58.43,210.87 54.83,210.87" fill="#2b7a3b"/>
<line x1="68.40" y1="212.12" x2="68.40" y2="218.12" stroke="#2b7a3b" stroke-width="0.6"/>
<line x1="67.20" y1="212.12" x2="69.60" y2="212.12" stroke="#2b7a3b" stroke-width="0.6"/>
<line x1="67.20" y1="218.12" x2="69.60" y2="218.12" stroke="#2b7a3b" stroke-width="0.6"/>
<polygon points="68.40,216.92 70.20,213.68 66.60,213.68" fill="#2b7a3b"/>
<line x1="80.16" y1="215.85" x2="80.16" y2="221.85" stroke="#2b7a3b" stroke-width="0.6"/>
<line x1="78.96" y1="215.85" x2="81.36" y2="215.85" stroke="#2b7a3b" stroke-width="0.6"/>
<line x1="78.96" y1="221.85" x2="81.36" y2="221.85" stroke="#2b7a3b" stroke-width="0.6"/>
<polygon points="80.16,220.65 81.96,217.41 78.36,217.41" fill="#2b7a3b"/>
<line x1="91.93" y1="222.86" x2="91.93" y2="228.86" stroke="#2b7a3b" stroke-width="0.6"/>
<line x1="90.73" y1="222.86" x2="93.13" y2="222.86" stroke="#2b7a3b" stroke-width="0.6"/>
<line x1="90.73" y1="228.86" x2="93.13" y2="228.86" stroke="#2b7a3b" stroke-width="0.6"/>
<polygon points="91.93,227.66 93.73,224.42 90.13,224.42" fill="#2b7a3b"/>
<line x1="103.69" y1="234.53" x2="103.69" y2="240.53" stroke="#2b7a3b" stroke-width="0.6"/>
<line x1="102.49" y1="234.53" x2="104.89" y2="234.53" stroke="#2b7a3b" stroke-width="0.6"/>
<line x1="102.49" y1="240.53" x2="104.89" y2="240.53" stroke="#2b7a3b" stroke-width="0.6"/>
<polygon points="103.69,239.33 105.49,236.09 101.89,236.09" fill="#2b7a3b"/>
<line x1="115.46" y1="247.61" x2="115.46" y2="253.61" stroke="#2b7a3b" stroke-width="0.6"/>
<line x1="114.26" y1="247.61" x2="116.66" y2="247.61" stroke="#2b7a3b" stroke-width="0.6"/>
<line x1="114.26" y1="253.61" x2="116.66" y2="253.61" stroke="#2b7a3b" stroke-width="0.6"/>
<polygon points="115.46,252.41 117.26,249.17 113.66,249.17" fill="#2b7a3b"/>
<line x1="127.22" y1="259.56" x2="127.22" y2="265.56" stroke="#2b7a3b" stroke-width="0.6"/>
<line x1="126.02" y1="259.56" x2="128.42" y2="259.56" stroke="#2b7a3b" stroke-width="0.6"/>
<line x1="126.02" y1="265.56" x2="128.42" y2="265.56" stroke="#2b7a3b" stroke-width="0.6"/>
<polygon points="127.22,264.36 129.02,261.12 125.42,261.12" fill="#2b7a3b"/>
<line x1="138.99" y1="263.49" x2="138.99" y2="269.49" stroke="#2b7a3b" stroke-width="0.6"/>
<line x1="137.79" y1="263.49" x2="140.19" y2="263.49" stroke="#2b7a3b" stroke-width="0.6"/>
<line x1="137.79" y1="269.49" x2="140.19" y2="269.49" stroke="#2b7a3b" stroke-width="0.6"/>
<polygon points="138.99,268.29 140.79,265.05 137.19,265.05" fill="#2b7a3b"/>
<line x1="150.75" y1="265.35" x2="150.75" y2="271.35" stroke="#2b7a3b" stroke-width="0.6"/>
<line x1="149.55" y1="265.35" x2="151.95" y2="265.35" stroke="#2b7a3b" stroke-width="0.6"/>
<line x1="149.55" y1="271.35" x2="151.95" y2="271.35" stroke="#2b7a3b" stroke-width="0.6"/>
<polygon points="150.75,270.15 152.55,266.91 148.95,266.91" fill="#2b7a3b"/>
<line x1="56.63" y1="222.58" x2="56.63" y2="228.58" stroke="#a5a23a" stroke-width="0.6"/>
<line x1="55.43" y1="222.58" x2="57.83" y2="222.58" stroke="#a5a23a" stroke-width="0.6"/>
<line x1="55.43" y1="228.58" x2="57.83" y2="228.58" stroke="#a5a23a" stroke-width="0.6"/>
<polygon points="56.63,223.78 58.43,227.02 54.83,227.02" fill="#a5a23a"/>
<line x1="68.40" y1="222.58" x2="68.40" y2="228.58" stroke="#a5a23a" stroke-width="0.6"/>
<line x1="67.20" y1="222.58" x2="69.60" y2="222.58" stroke="#a5a23a" stroke-width="0.6"/>
<line x1="67.20" y1="228.58" x2="69.60" y2="228.58" stroke="#a5a23a" stroke-width="0.6"/>
<polygon points="68.40,223.78 70.20,227.02 66.60,227.02" fill="#a5a23a"/>
<line x1="80.16" y1="229.86" x2="80.16" y2="235.86" stroke="#a5a23a" stroke-width="0.6"/>
<line x1="78.96" y1="229.86" x2="81.36" y2="229.86" stroke="#a5a23a" stroke-width="0.6"/>
<line x1="78.96" y1="235.86" x2="81.36" y2="235.86" stroke="#a5a23a" stroke-width="0.6"/>
<polygon points="80.16,231.06 81.96,234.30 78.36,234.30" fill="#a5a23a"/>
<line x1="91.93" y1="238.30" x2="91.93" y2="244.30" stroke="#a5a23a" stroke-width="0.6"/>
<line x1="90.73" y1="238.30" x2="93.13" y2="238.30" stroke="#a5a23a" stroke-width="0.6"/>
<line x1="90.73" y1="244.30" x2="93.13" y2="244.30" stroke="#a5a23a" stroke-width="0.6"/>
<polygon points="91.93,239.50 93.73,242.74 90.13,242.74" fill="#a5a23a"/>
<line x1="103.69" y1="249.57" x2="103.69" y2="255.57" stroke="#a5a23a" stroke-width="0.6"/>
<line x1="102.49" y1="249.57" x2="104.89" y2="249.57" stroke="#a5a23a" stroke-width="0.6"/>
<line x1="102.49" y1="255.57" x2="104.89" y2="255.57" stroke="#a5a23a" stroke-width="0.6"/>
<polygon points="103.69,250.77 105.49,254.01 101.89,254.01" fill="#a5a23a"/>
<line x1="115.46" y1="257.98" x2="115.46" y2="263.98" stroke="#a5a23a" stroke-width="0.6"/>
<line x1="114.26" y1="257.98" x2="116.66" y2="257.98" stroke="#a5a23a" stroke-width="0.6"/>
<line x1="114.26" y1="263.98" x2="116.66" y2="263.98" stroke="#a5a23a" stroke-width="0.6"/>
<polygon points="115.46,259.18 117.26,262.42 113.66,262.42" fill="#a5a23a"/>
<line x1="127.22" y1="263.59" x2="127.22" y2="269.59" stroke="#a5a23a" stroke-width="0.6"/>
<line x1="126.02" y1="263.59" x2="128.42" y2="263.59" stroke="#a5a23a" stroke-width="0.6"/>
<line x1="126.02" y1="269.59" x2="128.42" y2="269.59" stroke="#a5a23a" stroke-width="0.6"/>
<polygon points="127.22,264.79 129.02,268.03 125.42,268.03" fill="#a5a23a"/>
<line x1="138.99" y1="266.04" x2="138.99" y2="272.04" stroke="#a5a23a" stroke-width="0.6"/>
<line x1="137.79" y1="266.04" x2="140.19" y2="266.04" stroke="#a5a23a" stroke-width="0.6"/>
<line x1="137.79" y1="272.04" x2="140.19" y2="272.04" stroke="#a5a23a" stroke-width="0.6"/>
<polygon points="138.99,267.24 140.79,270.48 137.19,270.48" fill="#a5a23a"/>
<line x1="150.75" y1="267.22" x2="150.75" y2="273.22" stroke="#a5a23a" stroke-width="0.6"/>
<line x1="149.55" y1="267.22" x2="151.95" y2="267.22" stroke="#a5a23a" stroke-width="0.6"/>
<line x1="149.55" y1="273.22" x2="151.95" y2="273.22" stroke="#a5a23a" stroke-width="0.6"/>
<polygon points="150.75,268.42 152.55,271.66 148.95,271.66" fill="#a5a23a"/>
<line x1="56.63" y1="204.64" x2="56.63" y2="210.64" stroke="#e57a2c" stroke-width="0.6"/>
<line x1="55.43" y1="204.64" x2="57.83" y2="204.64" stroke="#e57a2c" stroke-width="0.6"/>
<line x1="55.43" y1="210.64" x2="57.83" y2="210.64" stroke="#e57a2c" stroke-width="0.6"/>
<rect x="55.01" y="206.02" width="3.24" height="3.24" fill="#e57a2c"/>
<line x1="68.40" y1="208.66" x2="68.40" y2="214.66" stroke="#e57a2c" stroke-width="0.6"/>
<line x1="67.20" y1="208.66" x2="69.60" y2="208.66" stroke="#e57a2c" stroke-width="0.6"/>
<line x1="67.20" y1="214.66" x2="69.60" y2="214.66" stroke="#e57a2c" stroke-width="0.6"/>
<rect x="66.78" y="210.04" width="3.24" height="3.24" fill="#e57a2c"/>
<line x1="80.16" y1="210.43" x2="80.16" y2="216.43" stroke="#e57a2c" stroke-width="0.6"/>
<line x1="78.96" y1="210.43" x2="81.36" y2="210.43" stroke="#e57a2c" stroke-width="0.6"/>
<line x1="78.96" y1="216.43" x2="81.36" y2="216.43" stroke="#e57a2c" stroke-width="0.6"/>
<rect x="78.54" y="211.81" width="3.24" height="3.24" fill="#e57a2c"/>
<line x1="91.93" y1="214.54" x2="91.93" y2="220.54" stroke="#e57a2c" stroke-width="0.6"/>
<line x1="90.73" y1="214.54" x2="93.13" y2="214.54" stroke="#e57a2c" stroke-width="0.6"/>
<line x1="90.73" y1="220.54" x2="93.13" y2="220.54" stroke="#e57a2c" stroke-width="0.6"/>
<rect x="90.31" y="215.92" width="3.24" height="3.24" fill="#e57a2c"/>
<line x1="103.69" y1="237.05" x2="103.69" y2="243.05" stroke="#e57a2c" stroke-width="0.6"/>
<line x1="102.49" y1="237.05" x2="104.89" y2="237.05" stroke="#e57a2c" stroke-width="0.6"/>
<line x1="102.49" y1="243.05" x2="104.89" y2="243.05" stroke="#e57a2c" stroke-width="0.6"/>
<rect x="102.07" y="238.43" width="3.24" height="3.24" fill="#e57a2c"/>
<line x1="115.46" y1="252.09" x2="115.46" y2="258.09" stroke="#e57a2c" stroke-width="0.6"/>
<line x1="114.26" y1="252.09" x2="116.66" y2="252.09" stroke="#e57a2c" stroke-width="0.6"/>
<line x1="114.26" y1="258.09" x2="116.66" y2="258.09" stroke="#e57a2c" stroke-width="0.6"/>
<rect x="113.84" y="253.47" width="3.24" height="3.24" fill="#e57a2c"/>
<line x1="127.22" y1="260.40" x2="127.22" y2="266.40" stroke="#e57a2c" stroke-width="0.6"/>
<line x1="126.02" y1="260.40" x2="128.42" y2="260.40" stroke="#e57a2c" stroke-width="0.6"/>
<line x1="126.02" y1="266.40" x2="128.42" y2="266.40" stroke="#e57a2c" stroke-width="0.6"/>
<rect x="125.60" y="261.78" width="3.24" height="3.24" fill="#e57a2c"/>
<line x1="138.99" y1="262.55" x2="138.99" y2="268.55" stroke="#e57a2c" stroke-width="0.6"/>
<line x1="137.79" y1="262.55" x2="140.19" y2="262.55" stroke="#e57a2c" stroke-width="0.6"/>
<line x1="137.79" y1="268.55" x2="140.19" y2="268.55" stroke="#e57a2c" stroke-width="0.6"/>
<rect x="137.37" y="263.93" width="3.24" height="3.24" fill="#e57a2c"/>
<line x1="150.75" y1="265.54" x2="150.75" y2="271.54" stroke="#e57a2c" stroke-width="0.6"/>
<line x1="149.55" y1="265.54" x2="151.95" y2="265.54" stroke="#e57a2c" stroke-width="0.6"/>
<line x1="149.55" y1="271.54" x2="151.95" y2="271.54" stroke="#e57a2c" stroke-width="0.6"/>
<rect x="149.13" y="266.92" width="3.24" height="3.24" fill="#e57a2c"/>
<line x1="56.63" y1="212.49" x2="56.63" y2="218.49" stroke="#c1272d" stroke-width="0.6"/>
<line x1="55.43" y1="212.49" x2="57.83" y2="212.49" stroke="#c1272d" stroke-width="0.6"/>
<line x1="55.43" y1="218.49" x2="57.83" y2="218.49" stroke="#c1272d" stroke-width="0.6"/>
<circle cx="56.63" cy="215.49" r="1.44" fill="#c1272d"/>
<line x1="68.40" y1="216.32" x2="68.40" y2="222.32" stroke="#c1272d" stroke-width="0.6"/>
<line x1="67.20" y1="216.32" x2="69.60" y2="216.32" stroke="#c1272d" stroke-width="0.6"/>
<line x1="67.20" y1="222.32" x2="69.60" y2="222.32" stroke="#c1272d" stroke-width="0.6"/>
<circle cx="68.40" cy="219.32" r="1.44" fill="#c1272d"/>
<line x1="80.16" y1="225.47" x2="80.16" y2="231.47" stroke="#c1272d" stroke-width="0.6"/>
<line x1="78.96" y1="225.47" x2="81.36" y2="225.47" stroke="#c1272d" stroke-width="0.6"/>
<line x1="78.96" y1="231.47" x2="81.36" y2="231.47" stroke="#c1272d" stroke-width="0.6"/>
<circle cx="80.16" cy="228.47" r="1.44" fill="#c1272d"/>
<line x1="91.93" y1="232.10" x2="91.93" y2="238.10" stroke="#c1272d" stroke-width="0.6"/>
<line x1="90.73" y1="232.10" x2="93.13" y2="232.10" stroke="#c1272d" stroke-width="0.6"/>
<line x1="90.73" y1="238.10" x2="93.13" y2="238.10" stroke="#c1272d" stroke-width="0.6"/>
<circle cx="91.93" cy="235.10" r="1.44" fill="#c1272d"/>
<line x1="103.69" y1="241.82" x2="103.69" y2="247.82" stroke="#c1272d" stroke-width="0.6"/>
<line x1="102.49" y1="241.82" x2="104.89" y2="241.82" stroke="#c1272d" stroke-width="0.6"/>
<line x1="102.49" y1="247.82" x2="104.89" y2="247.82" stroke="#c1272d" stroke-width="0.6"/>
<circle cx="103.69" cy="244.82" r="1.44" fill="#c1272d"/>
<line x1="115.46" y1="250.50" x2="115.46" y2="256.50" stroke="#c1272d" stroke-width="0.6"/>
<line x1="114.26" y1="250.50" x2="116.66" y2="250.50" stroke="#c1272d" stroke-width="0.6"/>
<line x1="114.26" y1="256.50" x2="116.66" y2="256.50" stroke="#c1272d" stroke-width="0.6"/>
<circle cx="115.46" cy="253.50" r="1.44" fill="#c1272d"/>
<line x1="127.22" y1="264.70" x2="127.22" y2="270.70" stroke="#c1272d" stroke-width="0.6"/>
<line x1="126.02" y1="264.70" x2="128.42" y2="264.70" stroke="#c1272d" stroke-width="0.6"/>
<line x1="126.02" y1="270.70" x2="128.42" y2="270.70" stroke="#c1272d" stroke-width="0.6"/>
<circle cx="127.22" cy="267.70" r="1.44" fill="#c1272d"/>
<line x1="138.99" y1="268.06" x2="138.99" y2="274.06" stroke="#c1272d" stroke-width="0.6"/>
<line x1="137.79" y1="268.06" x2="140.19" y2="268.06" stroke="#c1272d" stroke-width="0.6"/>
<line x1="137.79" y1="274.06" x2="140.19" y2="274.06" stroke="#c1272d" stroke-width="0.6"/>
<circle cx="138.99" cy="271.06" r="1.44" fill="#c1272d"/>
<line x1="150.75" y1="271.33" x2="150.75" y2="277.33" stroke="#c1272d" stroke-width="0.6"/>
<line x1="149.55" y1="271.33" x2="151.95" y2="271.33" stroke="#c1272d" stroke-width="0.6"/>
<line x1="149.55" y1="277.33" x2="151.95" y2="277.33" stroke="#c1272d" stroke-width="0.6"/>
<circle cx="150.75" cy="274.33" r="1.44" fill="#c1272d"/>
<line x1="33.10" y1="192.70" x2="33.10" y2="286.60" stroke="#222" stroke-width="1.1"/>
<line x1="32.60" y1="286.10" x2="174.28" y2="286.10" stroke="#222" stroke-width="1.1"/>
<line x1="30.10" y1="286.10" x2="33.10" y2="286.10" stroke="#222" stroke-width="1"/>
<text x="27.70" y="288.70" font-size="7.0" text-anchor="end" font-weight="bold" fill="#1a1a1a" >0</text>
<line x1="30.10" y1="267.42" x2="33.10" y2="267.42" stroke="#222" stroke-width="1"/>
<text x="27.70" y="270.02" font-size="7.0" text-anchor="end" font-weight="bold" fill="#1a1a1a" >20</text>
<line x1="30.10" y1="248.74" x2="33.10" y2="248.74" stroke="#222" stroke-width="1"/>
<text x="27.70" y="251.34" font-size="7.0" text-anchor="end" font-weight="bold" fill="#1a1a1a" >40</text>
<line x1="30.10" y1="230.06" x2="33.10" y2="230.06" stroke="#222" stroke-width="1"/>
<text x="27.70" y="232.66" font-size="7.0" text-anchor="end" font-weight="bold" fill="#1a1a1a" >60</text>
<line x1="30.10" y1="211.38" x2="33.10" y2="211.38" stroke="#222" stroke-width="1"/>
<text x="27.70" y="213.98" font-size="7.0" text-anchor="end" font-weight="bold" fill="#1a1a1a" >80</text>
<line x1="30.10" y1="192.70" x2="33.10" y2="192.70" stroke="#222" stroke-width="1"/>
<text x="27.70" y="195.30" font-size="7.0" text-anchor="end" font-weight="bold" fill="#1a1a1a" >100</text>
<line x1="33.10" y1="286.10" x2="33.10" y2="289.10" stroke="#222" stroke-width="1"/>
<text x="33.10" y="298.40" font-size="7.3" text-anchor="middle" font-weight="bold" fill="#1a1a1a" >-5</text>
<line x1="56.63" y1="286.10" x2="56.63" y2="289.10" stroke="#222" stroke-width="1"/>
<text x="56.63" y="298.40" font-size="7.3" text-anchor="middle" font-weight="bold" fill="#1a1a1a" >-4</text>
<line x1="80.16" y1="286.10" x2="80.16" y2="289.10" stroke="#222" stroke-width="1"/>
<text x="80.16" y="298.40" font-size="7.3" text-anchor="middle" font-weight="bold" fill="#1a1a1a" >-3</text>
<line x1="103.69" y1="286.10" x2="103.69" y2="289.10" stroke="#222" stroke-width="1"/>
<text x="103.69" y="298.40" font-size="7.3" text-anchor="middle" font-weight="bold" fill="#1a1a1a" >-2</text>
<line x1="127.22" y1="286.10" x2="127.22" y2="289.10" stroke="#222" stroke-width="1"/>
<text x="127.22" y="298.40" font-size="7.3" text-anchor="middle" font-weight="bold" fill="#1a1a1a" >-1</text>
<line x1="150.75" y1="286.10" x2="150.75" y2="289.10" stroke="#222" stroke-width="1"/>
<text x="150.75" y="298.40" font-size="7.3" text-anchor="middle" font-weight="bold" fill="#1a1a1a" >0</text>
<line x1="174.28" y1="286.10" x2="174.28" y2="289.10" stroke="#222" stroke-width="1"/>
<text x="174.28" y="298.40" font-size="7.3" text-anchor="middle" font-weight="bold" fill="#1a1a1a" >1</text>
<text x="31.20" y="179.50" font-size="9.2" text-anchor="start" font-weight="bold" fill="#1a1a1a" >BW5147: Decitabine + Tolinapant</text>
<text x="106.60" y="311.50" font-size="7.9" text-anchor="middle" font-weight="bold" fill="#1a1a1a" >log<tspan font-size="5.5" dy="2">10</tspan><tspan dy="-2"> [Decitabine] µmol/L</tspan></text>
<text x="11.40" y="238.00" font-size="7.75" text-anchor="middle" font-weight="bold" fill="#1a1a1a" transform="rotate(-90 11.4 238)" >% DMSO Control proliferation</text>
<line x1="183.75" y1="187.50" x2="193.75" y2="187.50" stroke="#c1272d" stroke-width="1.2"/>
<circle cx="188.75" cy="187.50" r="1.28" fill="#c1272d"/>
<text x="199.25" y="190.30" font-size="7.9" text-anchor="start" font-weight="bold" fill="#1a1a1a" >10 µmol/L Tolinapant</text>
<line x1="183.75" y1="200.60" x2="193.75" y2="200.60" stroke="#e57a2c" stroke-width="1.2"/>
<rect x="187.31" y="199.16" width="2.88" height="2.88" fill="#e57a2c"/>
<text x="199.25" y="203.40" font-size="7.9" text-anchor="start" font-weight="bold" fill="#1a1a1a" >3 µmol/L Tolinapant</text>
<line x1="183.75" y1="213.70" x2="193.75" y2="213.70" stroke="#a5a23a" stroke-width="1.2"/>
<polygon points="188.75,212.10 190.35,214.98 187.15,214.98" fill="#a5a23a"/>
<text x="199.25" y="216.50" font-size="7.9" text-anchor="start" font-weight="bold" fill="#1a1a1a" >1 µmol/L Tolinapant</text>
<line x1="183.75" y1="226.80" x2="193.75" y2="226.80" stroke="#2b7a3b" stroke-width="1.2"/>
<polygon points="188.75,228.40 190.35,225.52 187.15,225.52" fill="#2b7a3b"/>
<text x="199.25" y="229.60" font-size="7.9" text-anchor="start" font-weight="bold" fill="#1a1a1a" >0.3 µmol/L Tolinapant</text>
<line x1="183.75" y1="239.90" x2="193.75" y2="239.90" stroke="#1e7b89" stroke-width="1.2"/>
<polygon points="188.75,238.54 190.11,239.90 188.75,241.26 187.39,239.90" fill="#1e7b89"/>
<text x="199.25" y="242.70" font-size="7.9" text-anchor="start" font-weight="bold" fill="#1a1a1a" >0.1 µmol/L Tolinapant</text>
<line x1="183.75" y1="253.00" x2="193.75" y2="253.00" stroke="#2b2f8f" stroke-width="1.2"/>
<circle cx="188.75" cy="253.00" r="1.76" fill="none" stroke="#2b2f8f" stroke-width="1.2"/>
<text x="199.25" y="255.80" font-size="7.9" text-anchor="start" font-weight="bold" fill="#1a1a1a" >0.03 µmol/L Tolinapant</text>
<line x1="183.75" y1="266.10" x2="193.75" y2="266.10" stroke="#222222" stroke-width="1.2"/>
<polygon points="188.75,264.34 190.51,267.51 186.99,267.51" fill="none" stroke="#222222" stroke-width="1"/>
<text x="199.25" y="268.90" font-size="7.9" text-anchor="start" font-weight="bold" fill="#1a1a1a" >0 µmol/L Tolinapant</text>
<text transform="translate(0.3 171.8) scale(0.82 1)" font-size="13.2" font-weight="bold" fill="#4d4d4d">C</text>
<path d="M331.20 105.80L410.00 67.30 M339.73 110.20L418.53 71.70 M348.27 114.60L427.07 76.10 M356.80 119.00L435.60 80.50 M365.33 123.40L444.13 84.90 M373.87 127.80L452.67 89.30 M382.40 132.20L461.20 93.70 M390.93 136.60L469.73 98.10 M399.47 141.00L478.27 102.50 M408.00 145.40L486.80 106.90 M331.20 105.80L408.00 145.40 M342.46 100.30L419.26 139.90 M353.71 94.80L430.51 134.40 M364.97 89.30L441.77 128.90 M376.23 83.80L453.03 123.40 M387.49 78.30L464.29 117.90 M398.74 72.80L475.54 112.40 M410.00 67.30L486.80 106.90 M331.20 105.80L331.20 51.60 M342.46 100.30L342.46 46.10 M353.71 94.80L353.71 40.60 M364.97 89.30L364.97 35.10 M376.23 83.80L376.23 29.60 M387.49 78.30L387.49 24.10 M398.74 72.80L398.74 18.60 M410.00 67.30L410.00 13.10 M331.20 105.80L410.00 67.30L486.80 106.90 M331.20 78.70L410.00 40.20L486.80 79.80 M331.20 51.60L410.00 13.10L486.80 52.70 M410.00 67.30L410.00 13.10 M418.53 71.70L418.53 17.50 M427.07 76.10L427.07 21.90 M435.60 80.50L435.60 26.30 M444.13 84.90L444.13 30.70 M452.67 89.30L452.67 35.10 M461.20 93.70L461.20 39.50 M469.73 98.10L469.73 43.90 M478.27 102.50L478.27 48.30 M486.80 106.90L486.80 52.70" stroke="#dcdcdc" stroke-width="0.5" fill="none"/>
<path d="M398.7 15.9L407.3 20.5L418.5 16.3L410.0 13.9Z" fill="#c0d244" stroke="#c0d244" stroke-width="0.8"/>
<path d="M407.3 20.5L415.8 27.7L427.1 21.6L418.5 16.3Z" fill="#c6d440" stroke="#c6d440" stroke-width="0.8"/>
<path d="M387.5 25.7L396.0 28.1L407.3 20.5L398.7 15.9Z" fill="#bed246" stroke="#bed246" stroke-width="0.8"/>
<path d="M415.8 27.7L424.3 32.1L435.6 26.8L427.1 21.6Z" fill="#c6d43f" stroke="#c6d43f" stroke-width="0.8"/>
<path d="M396.0 28.1L404.6 30.8L415.8 27.7L407.3 20.5Z" fill="#c6d43f" stroke="#c6d43f" stroke-width="0.8"/>
<path d="M376.2 30.3L384.8 33.4L396.0 28.1L387.5 25.7Z" fill="#aece54" stroke="#aece54" stroke-width="0.8"/>
<path d="M424.3 32.1L432.9 48.7L444.1 44.5L435.6 26.8Z" fill="#c2d343" stroke="#c2d343" stroke-width="0.8"/>
<path d="M404.6 30.8L413.1 39.1L424.3 32.1L415.8 27.7Z" fill="#c4d441" stroke="#c4d441" stroke-width="0.8"/>
<path d="M384.8 33.4L393.3 39.1L404.6 30.8L396.0 28.1Z" fill="#b0ce50" stroke="#b0ce50" stroke-width="0.8"/>
<path d="M365.0 38.1L373.5 43.4L384.8 33.4L376.2 30.3Z" fill="#a1cb65" stroke="#a1cb65" stroke-width="0.8"/>
<path d="M432.9 48.7L441.4 65.0L452.7 61.3L444.1 44.5Z" fill="#bcd147" stroke="#bcd147" stroke-width="0.8"/>
<path d="M413.1 39.1L421.6 55.2L432.9 48.7L424.3 32.1Z" fill="#c2d342" stroke="#c2d342" stroke-width="0.8"/>
<path d="M393.3 39.1L401.8 47.2L413.1 39.1L404.6 30.8Z" fill="#abcd57" stroke="#abcd57" stroke-width="0.8"/>
<path d="M373.5 43.4L382.0 47.2L393.3 39.1L384.8 33.4Z" fill="#98c973" stroke="#98c973" stroke-width="0.8"/>
<path d="M441.4 65.0L449.9 74.4L461.2 70.2L452.7 61.3Z" fill="#bcd147" stroke="#bcd147" stroke-width="0.8"/>
<path d="M353.7 45.0L362.2 50.5L373.5 43.4L365.0 38.1Z" fill="#9dca6c" stroke="#9dca6c" stroke-width="0.8"/>
<path d="M421.6 55.2L430.2 72.7L441.4 65.0L432.9 48.7Z" fill="#bad148" stroke="#bad148" stroke-width="0.8"/>
<path d="M401.8 47.2L410.4 63.6L421.6 55.2L413.1 39.1Z" fill="#a6cc5e" stroke="#a6cc5e" stroke-width="0.8"/>
<path d="M382.0 47.2L390.6 55.2L401.8 47.2L393.3 39.1Z" fill="#8cc685" stroke="#8cc685" stroke-width="0.8"/>
<path d="M449.9 74.4L458.5 81.6L469.7 76.1L461.2 70.2Z" fill="#bad148" stroke="#bad148" stroke-width="0.8"/>
<path d="M362.2 50.5L370.8 55.2L382.0 47.2L373.5 43.4Z" fill="#87c68c" stroke="#87c68c" stroke-width="0.8"/>
<path d="M430.2 72.7L438.7 81.4L449.9 74.4L441.4 65.0Z" fill="#b0ce50" stroke="#b0ce50" stroke-width="0.8"/>
<path d="M342.5 50.0L351.0 52.7L362.2 50.5L353.7 45.0Z" fill="#b8d04a" stroke="#b8d04a" stroke-width="0.8"/>
<path d="M410.4 63.6L418.9 82.4L430.2 72.7L421.6 55.2Z" fill="#95c877" stroke="#95c877" stroke-width="0.8"/>
<path d="M390.6 55.2L399.1 74.9L410.4 63.6L401.8 47.2Z" fill="#78c3a0" stroke="#78c3a0" stroke-width="0.8"/>
<path d="M458.5 81.6L467.0 89.7L478.3 82.3L469.7 76.1Z" fill="#aece53" stroke="#aece53" stroke-width="0.8"/>
<path d="M370.8 55.2L379.3 64.6L390.6 55.2L382.0 47.2Z" fill="#72c1a8" stroke="#72c1a8" stroke-width="0.8"/>
<path d="M438.7 81.4L447.2 88.3L458.5 81.6L449.9 74.4Z" fill="#a6cc5e" stroke="#a6cc5e" stroke-width="0.8"/>
<path d="M351.0 52.7L359.5 62.3L370.8 55.2L362.2 50.5Z" fill="#9dca6c" stroke="#9dca6c" stroke-width="0.8"/>
<path d="M418.9 82.4L427.4 92.3L438.7 81.4L430.2 72.7Z" fill="#7bc39d" stroke="#7bc39d" stroke-width="0.8"/>
<path d="M331.2 62.3L339.7 68.6L351.0 52.7L342.5 50.0Z" fill="#c0d244" stroke="#c0d244" stroke-width="0.8"/>
<path d="M399.1 74.9L407.6 92.1L418.9 82.4L410.4 63.6Z" fill="#62bebb" stroke="#62bebb" stroke-width="0.8"/>
<path d="M467.0 89.7L475.5 95.7L486.8 89.8L478.3 82.3Z" fill="#98c973" stroke="#98c973" stroke-width="0.8"/>
<path d="M379.3 64.6L387.8 82.6L399.1 74.9L390.6 55.2Z" fill="#4ebad1" stroke="#4ebad1" stroke-width="0.8"/>
<path d="M447.2 88.3L455.8 95.6L467.0 89.7L458.5 81.6Z" fill="#9aca6f" stroke="#9aca6f" stroke-width="0.8"/>
<path d="M359.5 62.3L368.1 73.6L379.3 64.6L370.8 55.2Z" fill="#66bfb7" stroke="#66bfb7" stroke-width="0.8"/>
<path d="M427.4 92.3L436.0 97.4L447.2 88.3L438.7 81.4Z" fill="#71c1aa" stroke="#71c1aa" stroke-width="0.8"/>
<path d="M339.7 68.6L348.3 75.6L359.5 62.3L351.0 52.7Z" fill="#a4cc61" stroke="#a4cc61" stroke-width="0.8"/>
<path d="M407.6 92.1L416.2 100.8L427.4 92.3L418.9 82.4Z" fill="#52bacd" stroke="#52bacd" stroke-width="0.8"/>
<path d="M387.8 82.6L396.4 101.1L407.6 92.1L399.1 74.9Z" fill="#3ba1db" stroke="#3ba1db" stroke-width="0.8"/>
<path d="M455.8 95.6L464.3 103.5L475.5 95.7L467.0 89.7Z" fill="#8ec781" stroke="#8ec781" stroke-width="0.8"/>
<path d="M368.1 73.6L376.6 91.3L387.8 82.6L379.3 64.6Z" fill="#3b9bd8" stroke="#3b9bd8" stroke-width="0.8"/>
<path d="M436.0 97.4L444.5 105.0L455.8 95.6L447.2 88.3Z" fill="#72c1a8" stroke="#72c1a8" stroke-width="0.8"/>
<path d="M348.3 75.6L356.8 88.3L368.1 73.6L359.5 62.3Z" fill="#57bcc7" stroke="#57bcc7" stroke-width="0.8"/>
<path d="M416.2 100.8L424.7 106.7L436.0 97.4L427.4 92.3Z" fill="#50bacf" stroke="#50bacf" stroke-width="0.8"/>
<path d="M396.4 101.1L404.9 109.3L416.2 100.8L407.6 92.1Z" fill="#3ba1db" stroke="#3ba1db" stroke-width="0.8"/>
<path d="M376.6 91.3L385.1 109.1L396.4 101.1L387.8 82.6Z" fill="#366dbd" stroke="#366dbd" stroke-width="0.8"/>
<path d="M444.5 105.0L453.0 108.2L464.3 103.5L455.8 95.6Z" fill="#71c1aa" stroke="#71c1aa" stroke-width="0.8"/>
<path d="M356.8 88.3L365.3 107.2L376.6 91.3L368.1 73.6Z" fill="#3977c4" stroke="#3977c4" stroke-width="0.8"/>
<path d="M424.7 106.7L433.2 113.6L444.5 105.0L436.0 97.4Z" fill="#52bacd" stroke="#52bacd" stroke-width="0.8"/>
<path d="M404.9 109.3L413.4 114.9L424.7 106.7L416.2 100.8Z" fill="#3cb1e3" stroke="#3cb1e3" stroke-width="0.8"/>
<path d="M385.1 109.1L393.7 117.0L404.9 109.3L396.4 101.1Z" fill="#3873c1" stroke="#3873c1" stroke-width="0.8"/>
<path d="M365.3 107.2L373.9 118.6L385.1 109.1L376.6 91.3Z" fill="#2e4fa7" stroke="#2e4fa7" stroke-width="0.8"/>
<path d="M433.2 113.6L441.8 119.4L453.0 108.2L444.5 105.0Z" fill="#54bbcb" stroke="#54bbcb" stroke-width="0.8"/>
<path d="M413.4 114.9L422.0 120.0L433.2 113.6L424.7 106.7Z" fill="#3cafe2" stroke="#3cafe2" stroke-width="0.8"/>
<path d="M393.7 117.0L402.2 122.4L413.4 114.9L404.9 109.3Z" fill="#3b92d3" stroke="#3b92d3" stroke-width="0.8"/>
<path d="M373.9 118.6L382.4 125.7L393.7 117.0L385.1 109.1Z" fill="#2f55ac" stroke="#2f55ac" stroke-width="0.8"/>
<path d="M422.0 120.0L430.5 126.7L441.8 119.4L433.2 113.6Z" fill="#3cb0e3" stroke="#3cb0e3" stroke-width="0.8"/>
<path d="M402.2 122.4L410.7 127.9L422.0 120.0L413.4 114.9Z" fill="#3b98d6" stroke="#3b98d6" stroke-width="0.8"/>
<path d="M382.4 125.7L390.9 131.5L402.2 122.4L393.7 117.0Z" fill="#356bbc" stroke="#356bbc" stroke-width="0.8"/>
<path d="M410.7 127.9L419.3 133.0L430.5 126.7L422.0 120.0Z" fill="#3b98d6" stroke="#3b98d6" stroke-width="0.8"/>
<path d="M390.9 131.5L399.5 136.1L410.7 127.9L402.2 122.4Z" fill="#3875c3" stroke="#3875c3" stroke-width="0.8"/>
<path d="M399.5 136.1L408.0 141.0L419.3 133.0L410.7 127.9Z" fill="#3875c3" stroke="#3875c3" stroke-width="0.8"/>
<path d="M407.7 14.3L409.5 14.9L411.7 14.4L410.0 13.9Z" fill="#b9d149"/>
<path d="M409.5 14.9L411.2 15.4L413.4 14.9L411.7 14.4Z" fill="#b9d149"/>
<path d="M405.5 14.7L407.2 15.4L409.5 14.9L407.7 14.3Z" fill="#bbd148"/>
<path d="M411.2 15.4L412.9 16.0L415.1 15.3L413.4 14.9Z" fill="#bad149"/>
<path d="M407.2 15.4L408.9 16.0L411.2 15.4L409.5 14.9Z" fill="#bcd147"/>
<path d="M403.2 15.1L405.0 15.8L407.2 15.4L405.5 14.7Z" fill="#bdd246"/>
<path d="M412.9 16.0L414.6 16.6L416.8 15.8L415.1 15.3Z" fill="#bad149"/>
<path d="M408.9 16.0L410.6 16.7L412.9 16.0L411.2 15.4Z" fill="#bdd246"/>
<path d="M405.0 15.8L406.7 16.6L408.9 16.0L407.2 15.4Z" fill="#bed245"/>
<path d="M401.0 15.5L402.7 16.3L405.0 15.8L403.2 15.1Z" fill="#bfd245"/>
<path d="M414.6 16.6L416.3 17.1L418.5 16.3L416.8 15.8Z" fill="#bad148"/>
<path d="M410.6 16.7L412.3 17.3L414.6 16.6L412.9 16.0Z" fill="#bed246"/>
<path d="M406.7 16.6L408.4 17.3L410.6 16.7L408.9 16.0Z" fill="#c0d244"/>
<path d="M402.7 16.3L404.4 17.2L406.7 16.6L405.0 15.8Z" fill="#c1d343"/>
<path d="M416.3 17.1L418.0 18.3L420.2 17.4L418.5 16.3Z" fill="#bad148"/>
<path d="M398.7 15.9L400.4 16.8L402.7 16.3L401.0 15.5Z" fill="#c1d344"/>
<path d="M412.3 17.3L414.0 18.0L416.3 17.1L414.6 16.6Z" fill="#bfd245"/>
<path d="M408.4 17.3L410.1 18.1L412.3 17.3L410.6 16.7Z" fill="#c2d343"/>
<path d="M404.4 17.2L406.1 18.0L408.4 17.3L406.7 16.6Z" fill="#c3d342"/>
<path d="M418.0 18.3L419.7 19.4L421.9 18.4L420.2 17.4Z" fill="#bbd148"/>
<path d="M400.4 16.8L402.2 17.7L404.4 17.2L402.7 16.3Z" fill="#c4d341"/>
<path d="M414.0 18.0L415.7 19.2L418.0 18.3L416.3 17.1Z" fill="#bfd244"/>
<path d="M396.5 17.9L398.2 18.7L400.4 16.8L398.7 15.9Z" fill="#c0d244"/>
<path d="M410.1 18.1L411.8 18.8L414.0 18.0L412.3 17.3Z" fill="#c3d342"/>
<path d="M406.1 18.0L407.8 18.8L410.1 18.1L408.4 17.3Z" fill="#c5d440"/>
<path d="M419.7 19.4L421.4 20.6L423.7 19.5L421.9 18.4Z" fill="#bbd148"/>
<path d="M402.2 17.7L403.9 18.7L406.1 18.0L404.4 17.2Z" fill="#c6d43f"/>
<path d="M415.7 19.2L417.4 20.4L419.7 19.4L418.0 18.3Z" fill="#c0d244"/>
<path d="M398.2 18.7L399.9 19.5L402.2 17.7L400.4 16.8Z" fill="#c3d342"/>
<path d="M411.8 18.8L413.5 20.1L415.7 19.2L414.0 18.0Z" fill="#c4d441"/>
<path d="M394.2 19.8L395.9 20.6L398.2 18.7L396.5 17.9Z" fill="#bdd247"/>
<path d="M407.8 18.8L409.5 19.7L411.8 18.8L410.1 18.1Z" fill="#c8d53e"/>
<path d="M421.4 20.6L423.1 21.7L425.4 20.6L423.7 19.5Z" fill="#bbd148"/>
<path d="M403.9 18.7L405.6 19.6L407.8 18.8L406.1 18.0Z" fill="#c9d53d"/>
<path d="M417.4 20.4L419.2 21.6L421.4 20.6L419.7 19.4Z" fill="#c0d344"/>
<path d="M399.9 19.5L401.6 20.4L403.9 18.7L402.2 17.7Z" fill="#c6d43f"/>
<path d="M413.5 20.1L415.2 21.4L417.4 20.4L415.7 19.2Z" fill="#c5d440"/>
<path d="M395.9 20.6L397.7 21.3L399.9 19.5L398.2 18.7Z" fill="#bfd245"/>
<path d="M409.5 19.7L411.2 21.0L413.5 20.1L411.8 18.8Z" fill="#c9d53d"/>
<path d="M392.0 21.8L393.7 22.4L395.9 20.6L394.2 19.8Z" fill="#b9d149"/>
<path d="M423.1 21.7L424.8 22.8L427.1 21.6L425.4 20.6Z" fill="#bbd148"/>
<path d="M405.6 19.6L407.3 20.5L409.5 19.7L407.8 18.8Z" fill="#ccd63b"/>
<path d="M419.2 21.6L420.9 22.9L423.1 21.7L421.4 20.6Z" fill="#c1d343"/>
<path d="M401.6 20.4L403.3 21.2L405.6 19.6L403.9 18.7Z" fill="#c9d53d"/>
<path d="M415.2 21.4L416.9 22.7L419.2 21.6L417.4 20.4Z" fill="#c6d440"/>
<path d="M397.7 21.3L399.4 22.1L401.6 20.4L399.9 19.5Z" fill="#c2d342"/>
<path d="M411.2 21.0L412.9 22.4L415.2 21.4L413.5 20.1Z" fill="#cad53c"/>
<path d="M393.7 22.4L395.4 23.1L397.7 21.3L395.9 20.6Z" fill="#bcd147"/>
<path d="M424.8 22.8L426.5 23.9L428.8 22.7L427.1 21.6Z" fill="#bbd148"/>
<path d="M407.3 20.5L409.0 22.0L411.2 21.0L409.5 19.7Z" fill="#ced739"/>
<path d="M389.7 23.8L391.4 24.3L393.7 22.4L392.0 21.8Z" fill="#b6d04c"/>
<path d="M420.9 22.9L422.6 24.1L424.8 22.8L423.1 21.7Z" fill="#c1d343"/>
<path d="M403.3 21.2L405.0 22.0L407.3 20.5L405.6 19.6Z" fill="#ccd63b"/>
<path d="M416.9 22.7L418.6 24.0L420.9 22.9L419.2 21.6Z" fill="#c7d43f"/>
<path d="M399.4 22.1L401.1 22.8L403.3 21.2L401.6 20.4Z" fill="#c5d440"/>
<path d="M412.9 22.4L414.6 23.8L416.9 22.7L415.2 21.4Z" fill="#ccd63b"/>
<path d="M426.5 23.9L428.2 24.9L430.5 23.7L428.8 22.7Z" fill="#bbd148"/>
<path d="M395.4 23.1L397.1 23.8L399.4 22.1L397.7 21.3Z" fill="#bed246"/>
<path d="M409.0 22.0L410.7 23.4L412.9 22.4L411.2 21.0Z" fill="#d0d738"/>
<path d="M422.6 24.1L424.3 25.0L426.5 23.9L424.8 22.8Z" fill="#c1d343"/>
<path d="M391.4 24.3L393.2 24.9L395.4 23.1L393.7 22.4Z" fill="#b8d04a"/>
<path d="M405.0 22.0L406.7 23.3L409.0 22.0L407.3 20.5Z" fill="#ced739"/>
<path d="M387.5 25.7L389.2 26.2L391.4 24.3L389.7 23.8Z" fill="#b2cf4e"/>
<path d="M418.6 24.0L420.3 25.3L422.6 24.1L420.9 22.9Z" fill="#c8d53e"/>
<path d="M401.1 22.8L402.8 23.6L405.0 22.0L403.3 21.2Z" fill="#c7d53e"/>
<path d="M414.6 23.8L416.4 25.1L418.6 24.0L416.9 22.7Z" fill="#cdd63a"/>
<path d="M397.1 23.8L398.8 24.4L401.1 22.8L399.4 22.1Z" fill="#c0d344"/>
<path d="M428.2 24.9L429.9 25.9L432.2 24.8L430.5 23.7Z" fill="#bbd148"/>
<path d="M410.7 23.4L412.4 24.8L414.6 23.8L412.9 22.4Z" fill="#d1d737"/>
<path d="M393.2 24.9L394.9 25.5L397.1 23.8L395.4 23.1Z" fill="#bad148"/>
<path d="M424.3 25.0L426.0 26.0L428.2 24.9L426.5 23.9Z" fill="#c1d343"/>
<path d="M406.7 23.3L408.4 24.6L410.7 23.4L409.0 22.0Z" fill="#d0d738"/>
<path d="M389.2 26.2L390.9 26.7L393.2 24.9L391.4 24.3Z" fill="#b4cf4d"/>
<path d="M420.3 25.3L422.0 26.2L424.3 25.0L422.6 24.1Z" fill="#c8d53e"/>
<path d="M402.8 23.6L404.5 24.6L406.7 23.3L405.0 22.0Z" fill="#c9d53d"/>
<path d="M385.2 26.6L386.9 27.1L389.2 26.2L387.5 25.7Z" fill="#b0ce50"/>
<path d="M416.4 25.1L418.1 26.5L420.3 25.3L418.6 24.0Z" fill="#ced63a"/>
<path d="M398.8 24.4L400.5 25.1L402.8 23.6L401.1 22.8Z" fill="#c3d342"/>
<path d="M429.9 25.9L431.6 26.9L433.9 25.8L432.2 24.8Z" fill="#bbd148"/>
<path d="M412.4 24.8L414.1 26.3L416.4 25.1L414.6 23.8Z" fill="#d3d836"/>
<path d="M394.9 25.5L396.6 26.0L398.8 24.4L397.1 23.8Z" fill="#bcd147"/>
<path d="M426.0 26.0L427.7 27.0L429.9 25.9L428.2 24.9Z" fill="#c0d344"/>
<path d="M408.4 24.6L410.1 25.8L412.4 24.8L410.7 23.4Z" fill="#d1d737"/>
<path d="M422.0 26.2L423.7 27.2L426.0 26.0L424.3 25.0Z" fill="#c7d43f"/>
<path d="M390.9 26.7L392.6 27.2L394.9 25.5L393.2 24.9Z" fill="#b6d04c"/>
<path d="M404.5 24.6L406.2 25.7L408.4 24.6L406.7 23.3Z" fill="#cad53c"/>
<path d="M386.9 27.1L388.6 27.7L390.9 26.7L389.2 26.2Z" fill="#b1ce4f"/>
<path d="M418.1 26.5L419.8 27.4L422.0 26.2L420.3 25.3Z" fill="#ced63a"/>
<path d="M431.6 26.9L433.3 27.9L435.6 26.8L433.9 25.8Z" fill="#bad148"/>
<path d="M400.5 25.1L402.2 26.0L404.5 24.6L402.8 23.6Z" fill="#c4d441"/>
<path d="M383.0 27.6L384.7 28.1L386.9 27.1L385.2 26.6Z" fill="#aece53"/>
<path d="M414.1 26.3L415.8 27.7L418.1 26.5L416.4 25.1Z" fill="#d4d835"/>
<path d="M396.6 26.0L398.3 26.6L400.5 25.1L398.8 24.4Z" fill="#bed245"/>
<path d="M427.7 27.0L429.4 28.0L431.6 26.9L429.9 25.9Z" fill="#c0d244"/>
<path d="M410.1 25.8L411.9 27.1L414.1 26.3L412.4 24.8Z" fill="#d3d836"/>
<path d="M392.6 27.2L394.3 27.6L396.6 26.0L394.9 25.5Z" fill="#b8d04a"/>
<path d="M423.7 27.2L425.4 28.1L427.7 27.0L426.0 26.0Z" fill="#c6d43f"/>
<path d="M406.2 25.7L407.9 26.8L410.1 25.8L408.4 24.6Z" fill="#ccd63b"/>
<path d="M388.6 27.7L390.4 28.2L392.6 27.2L390.9 26.7Z" fill="#b3cf4e"/>
<path d="M419.8 27.4L421.5 28.3L423.7 27.2L422.0 26.2Z" fill="#cdd63a"/>
<path d="M433.3 27.9L435.1 31.4L437.3 30.4L435.6 26.8Z" fill="#bad149"/>
<path d="M402.2 26.0L403.9 26.9L406.2 25.7L404.5 24.6Z" fill="#c5d440"/>
<path d="M384.7 28.1L386.4 28.6L388.6 27.7L386.9 27.1Z" fill="#afce51"/>
<path d="M415.8 27.7L417.5 28.6L419.8 27.4L418.1 26.5Z" fill="#d4d835"/>
<path d="M398.3 26.6L400.0 27.3L402.2 26.0L400.5 25.1Z" fill="#bfd244"/>
<path d="M429.4 28.0L431.1 29.0L433.3 27.9L431.6 26.9Z" fill="#bfd244"/>
<path d="M380.7 28.5L382.4 29.0L384.7 28.1L383.0 27.6Z" fill="#accd56"/>
<path d="M411.9 27.1L413.6 28.3L415.8 27.7L414.1 26.3Z" fill="#d4d835"/>
<path d="M394.3 27.6L396.0 28.1L398.3 26.6L396.6 26.0Z" fill="#bad149"/>
<path d="M425.4 28.1L427.1 29.1L429.4 28.0L427.7 27.0Z" fill="#c5d440"/>
<path d="M407.9 26.8L409.6 27.9L411.9 27.1L410.1 25.8Z" fill="#cdd63a"/>
<path d="M390.4 28.2L392.1 28.7L394.3 27.6L392.6 27.2Z" fill="#b4cf4d"/>
<path d="M421.5 28.3L423.2 29.2L425.4 28.1L423.7 27.2Z" fill="#ccd63b"/>
<path d="M403.9 26.9L405.6 27.8L407.9 26.8L406.2 25.7Z" fill="#c6d43f"/>
<path d="M435.1 31.4L436.8 34.9L439.0 33.9L437.3 30.4Z" fill="#b8d04a"/>
<path d="M386.4 28.6L388.1 29.2L390.4 28.2L388.6 27.7Z" fill="#b0ce50"/>
<path d="M417.5 28.6L419.2 29.5L421.5 28.3L419.8 27.4Z" fill="#d3d836"/>
<path d="M431.1 29.0L432.8 32.4L435.1 31.4L433.3 27.9Z" fill="#bfd245"/>
<path d="M400.0 27.3L401.7 28.0L403.9 26.9L402.2 26.0Z" fill="#c0d244"/>
<path d="M382.4 29.0L384.1 29.6L386.4 28.6L384.7 28.1Z" fill="#adcd55"/>
<path d="M413.6 28.3L415.3 29.4L417.5 28.6L415.8 27.7Z" fill="#d4d835"/>
<path d="M427.1 29.1L428.8 30.0L431.1 29.0L429.4 28.0Z" fill="#c4d441"/>
<path d="M396.0 28.1L397.7 28.7L400.0 27.3L398.3 26.6Z" fill="#bad148"/>
<path d="M378.5 29.4L380.2 30.0L382.4 29.0L380.7 28.5Z" fill="#aacd59"/>
<path d="M409.6 27.9L411.3 28.9L413.6 28.3L411.9 27.1Z" fill="#ced63a"/>
<path d="M392.1 28.7L393.8 29.2L396.0 28.1L394.3 27.6Z" fill="#b6d04c"/>
<path d="M423.2 29.2L424.9 30.2L427.1 29.1L425.4 28.1Z" fill="#cad53c"/>
<path d="M405.6 27.8L407.3 28.7L409.6 27.9L407.9 26.8Z" fill="#c7d43f"/>
<path d="M436.8 34.9L438.5 38.4L440.7 37.4L439.0 33.9Z" fill="#b7d04b"/>
<path d="M388.1 29.2L389.8 29.7L392.1 28.7L390.4 28.2Z" fill="#b2ce4f"/>
<path d="M419.2 29.5L420.9 30.4L423.2 29.2L421.5 28.3Z" fill="#d1d737"/>
<path d="M432.8 32.4L434.5 35.8L436.8 34.9L435.1 31.4Z" fill="#bed246"/>
<path d="M401.7 28.0L403.4 28.7L405.6 27.8L403.9 26.9Z" fill="#c0d344"/>
<path d="M384.1 29.6L385.9 30.2L388.1 29.2L386.4 28.6Z" fill="#aece54"/>
<path d="M415.3 29.4L417.0 30.4L419.2 29.5L417.5 28.6Z" fill="#d2d836"/>
<path d="M428.8 30.0L430.6 33.4L432.8 32.4L431.1 29.0Z" fill="#c4d441"/>
<path d="M397.7 28.7L399.4 29.2L401.7 28.0L400.0 27.3Z" fill="#bbd148"/>
<path d="M380.2 30.0L381.9 30.6L384.1 29.6L382.4 29.0Z" fill="#aacd59"/>
<path d="M411.3 28.9L413.0 30.1L415.3 29.4L413.6 28.3Z" fill="#ced63a"/>
<path d="M393.8 29.2L395.5 29.8L397.7 28.7L396.0 28.1Z" fill="#b6d04b"/>
<path d="M424.9 30.2L426.6 31.1L428.8 30.0L427.1 29.1Z" fill="#c9d53d"/>
<path d="M376.2 30.3L377.9 30.9L380.2 30.0L378.5 29.4Z" fill="#a7cc5c"/>
<path d="M407.3 28.7L409.1 29.6L411.3 28.9L409.6 27.9Z" fill="#c8d53e"/>
<path d="M438.5 38.4L440.2 41.9L442.4 41.0L440.7 37.4Z" fill="#b5d04c"/>
<path d="M389.8 29.7L391.5 30.2L393.8 29.2L392.1 28.7Z" fill="#b3cf4e"/>
<path d="M420.9 30.4L422.6 31.2L424.9 30.2L423.2 29.2Z" fill="#d0d738"/>
<path d="M403.4 28.7L405.1 29.5L407.3 28.7L405.6 27.8Z" fill="#c1d343"/>
<path d="M434.5 35.8L436.2 39.3L438.5 38.4L436.8 34.9Z" fill="#bcd147"/>
<path d="M385.9 30.2L387.6 30.7L389.8 29.7L388.1 29.2Z" fill="#afce52"/>
<path d="M417.0 30.4L418.7 31.4L420.9 30.4L419.2 29.5Z" fill="#d1d737"/>
<path d="M399.4 29.2L401.1 29.7L403.4 28.7L401.7 28.0Z" fill="#bbd148"/>
<path d="M430.6 33.4L432.3 36.8L434.5 35.8L432.8 32.4Z" fill="#c3d342"/>
<path d="M413.0 30.1L414.7 31.3L417.0 30.4L415.3 29.4Z" fill="#ccd63b"/>
<path d="M381.9 30.6L383.6 31.2L385.9 30.2L384.1 29.6Z" fill="#abcd58"/>
<path d="M395.5 29.8L397.2 30.5L399.4 29.2L397.7 28.7Z" fill="#b6d04b"/>
<path d="M426.6 31.1L428.3 34.4L430.6 33.4L428.8 30.0Z" fill="#c9d53e"/>
<path d="M409.1 29.6L410.8 30.9L413.0 30.1L411.3 28.9Z" fill="#c7d53f"/>
<path d="M440.2 41.9L441.9 45.3L444.1 44.5L442.4 41.0Z" fill="#b4cf4d"/>
<path d="M377.9 30.9L379.6 31.5L381.9 30.6L380.2 30.0Z" fill="#a8cc5c"/>
<path d="M391.5 30.2L393.2 31.0L395.5 29.8L393.8 29.2Z" fill="#b3cf4e"/>
<path d="M422.6 31.2L424.3 32.1L426.6 31.1L424.9 30.2Z" fill="#ced739"/>
<path d="M374.0 31.9L375.7 32.6L377.9 30.9L376.2 30.3Z" fill="#a6cc5e"/>
<path d="M436.2 39.3L437.9 42.7L440.2 41.9L438.5 38.4Z" fill="#bbd148"/>
<path d="M405.1 29.5L406.8 30.2L409.1 29.6L407.3 28.7Z" fill="#c1d343"/>
<path d="M387.6 30.7L389.3 31.3L391.5 30.2L389.8 29.7Z" fill="#b0ce51"/>
<path d="M418.7 31.4L420.4 32.5L422.6 31.2L420.9 30.4Z" fill="#cfd739"/>
<path d="M401.1 29.7L402.8 30.3L405.1 29.5L403.4 28.7Z" fill="#bbd148"/>
<path d="M432.3 36.8L434.0 40.2L436.2 39.3L434.5 35.8Z" fill="#c2d343"/>
<path d="M383.6 31.2L385.3 31.8L387.6 30.7L385.9 30.2Z" fill="#abcd57"/>
<path d="M414.7 31.3L416.4 32.5L418.7 31.4L417.0 30.4Z" fill="#cad53c"/>
<path d="M397.2 30.5L398.9 31.1L401.1 29.7L399.4 29.2Z" fill="#b6d04b"/>
<path d="M428.3 34.4L430.0 37.8L432.3 36.8L430.6 33.4Z" fill="#c8d53e"/>
<path d="M441.9 45.3L443.6 48.7L445.8 47.9L444.1 44.5Z" fill="#b3cf4e"/>
<path d="M379.6 31.5L381.3 32.2L383.6 31.2L381.9 30.6Z" fill="#a8cc5c"/>
<path d="M410.8 30.9L412.5 32.3L414.7 31.3L413.0 30.1Z" fill="#c6d440"/>
<path d="M393.2 31.0L394.9 31.8L397.2 30.5L395.5 29.8Z" fill="#b3cf4e"/>
<path d="M424.3 32.1L426.0 35.4L428.3 34.4L426.6 31.1Z" fill="#ced63a"/>
<path d="M375.7 32.6L377.4 33.3L379.6 31.5L377.9 30.9Z" fill="#a6cc5f"/>
<path d="M437.9 42.7L439.6 46.2L441.9 45.3L440.2 41.9Z" fill="#bad148"/>
<path d="M406.8 30.2L408.5 31.7L410.8 30.9L409.1 29.6Z" fill="#c1d343"/>
<path d="M389.3 31.3L391.0 32.2L393.2 31.0L391.5 30.2Z" fill="#b0ce50"/>
<path d="M420.4 32.5L422.1 33.5L424.3 32.1L422.6 31.2Z" fill="#ced63a"/>
<path d="M371.7 33.4L373.4 34.2L375.7 32.6L374.0 31.9Z" fill="#a6cc5f"/>
<path d="M402.8 30.3L404.6 30.8L406.8 30.2L405.1 29.5Z" fill="#bbd148"/>
<path d="M434.0 40.2L435.7 43.6L437.9 42.7L436.2 39.3Z" fill="#c1d343"/>
<path d="M385.3 31.8L387.0 32.3L389.3 31.3L387.6 30.7Z" fill="#accd56"/>
<path d="M416.4 32.5L418.1 33.7L420.4 32.5L418.7 31.4Z" fill="#c9d53d"/>
<path d="M398.9 31.1L400.6 31.8L402.8 30.3L401.1 29.7Z" fill="#b6d04b"/>
<path d="M430.0 37.8L431.7 41.1L434.0 40.2L432.3 36.8Z" fill="#c8d53e"/>
<path d="M443.6 48.7L445.3 52.0L447.5 51.2L445.8 47.9Z" fill="#b3cf4e"/>
<path d="M381.3 32.2L383.1 32.8L385.3 31.8L383.6 31.2Z" fill="#a8cc5c"/>
<path d="M412.5 32.3L414.2 33.6L416.4 32.5L414.7 31.3Z" fill="#c4d441"/>
<path d="M394.9 31.8L396.6 32.5L398.9 31.1L397.2 30.5Z" fill="#b3cf4e"/>
<path d="M426.0 35.4L427.8 38.7L430.0 37.8L428.3 34.4Z" fill="#cdd63a"/>
<path d="M439.6 46.2L441.3 49.5L443.6 48.7L441.9 45.3Z" fill="#b9d149"/>
<path d="M377.4 33.3L379.1 34.0L381.3 32.2L379.6 31.5Z" fill="#a5cc5f"/>
<path d="M408.5 31.7L410.2 33.2L412.5 32.3L410.8 30.9Z" fill="#bfd245"/>
<path d="M391.0 32.2L392.7 33.1L394.9 31.8L393.2 31.0Z" fill="#b0ce50"/>
<path d="M422.1 33.5L423.8 36.8L426.0 35.4L424.3 32.1Z" fill="#cdd63a"/>
<path d="M373.4 34.2L375.1 35.0L377.4 33.3L375.7 32.6Z" fill="#a5cc61"/>
<path d="M435.7 43.6L437.4 47.0L439.6 46.2L437.9 42.7Z" fill="#c0d344"/>
<path d="M404.6 30.8L406.3 32.4L408.5 31.7L406.8 30.2Z" fill="#bad148"/>
<path d="M418.1 33.7L419.8 34.9L422.1 33.5L420.4 32.5Z" fill="#c7d53f"/>
<path d="M387.0 32.3L388.7 33.4L391.0 32.2L389.3 31.3Z" fill="#accd56"/>
<path d="M369.5 35.0L371.2 35.9L373.4 34.2L371.7 33.4Z" fill="#a5cc5f"/>
<path d="M400.6 31.8L402.3 32.4L404.6 30.8L402.8 30.3Z" fill="#b6d04b"/>
<path d="M431.7 41.1L433.4 44.5L435.7 43.6L434.0 40.2Z" fill="#c7d53f"/>
<path d="M445.3 52.0L447.0 55.4L449.3 54.6L447.5 51.2Z" fill="#b2cf4e"/>
<path d="M383.1 32.8L384.8 33.4L387.0 32.3L385.3 31.8Z" fill="#a8cc5b"/>
<path d="M414.2 33.6L415.9 35.0L418.1 33.7L416.4 32.5Z" fill="#c2d342"/>
<path d="M396.6 32.5L398.3 33.3L400.6 31.8L398.9 31.1Z" fill="#b3cf4e"/>
<path d="M427.8 38.7L429.5 42.0L431.7 41.1L430.0 37.8Z" fill="#cdd63a"/>
<path d="M441.3 49.5L443.0 52.8L445.3 52.0L443.6 48.7Z" fill="#b8d04a"/>
<path d="M379.1 34.0L380.8 34.7L383.1 32.8L381.3 32.2Z" fill="#a5cc60"/>
<path d="M410.2 33.2L411.9 34.7L414.2 33.6L412.5 32.3Z" fill="#bed246"/>
<path d="M392.7 33.1L394.4 34.0L396.6 32.5L394.9 31.8Z" fill="#b0ce50"/>
<path d="M423.8 36.8L425.5 40.1L427.8 38.7L426.0 35.4Z" fill="#cdd63a"/>
<path d="M437.4 47.0L439.1 50.3L441.3 49.5L439.6 46.2Z" fill="#bfd245"/>
<path d="M375.1 35.0L376.8 35.8L379.1 34.0L377.4 33.3Z" fill="#a3cb62"/>
<path d="M406.3 32.4L408.0 34.1L410.2 33.2L408.5 31.7Z" fill="#b9d049"/>
<path d="M419.8 34.9L421.5 38.2L423.8 36.8L422.1 33.5Z" fill="#c7d43f"/>
<path d="M388.7 33.4L390.4 34.4L392.7 33.1L391.0 32.2Z" fill="#accd56"/>
<path d="M371.2 35.9L372.9 36.7L375.1 35.0L373.4 34.2Z" fill="#a3cb62"/>
<path d="M402.3 32.4L404.0 34.1L406.3 32.4L404.6 30.8Z" fill="#b6d04c"/>
<path d="M433.4 44.5L435.1 47.8L437.4 47.0L435.7 43.6Z" fill="#c7d43f"/>
<path d="M447.0 55.4L448.7 58.7L451.0 57.9L449.3 54.6Z" fill="#b2cf4e"/>
<path d="M415.9 35.0L417.6 36.3L419.8 34.9L418.1 33.7Z" fill="#c1d343"/>
<path d="M384.8 33.4L386.5 34.5L388.7 33.4L387.0 32.3Z" fill="#a8cc5b"/>
<path d="M367.2 36.5L368.9 37.5L371.2 35.9L369.5 35.0Z" fill="#a5cc60"/>
<path d="M398.3 33.3L400.0 34.1L402.3 32.4L400.6 31.8Z" fill="#b3cf4e"/>
<path d="M429.5 42.0L431.2 45.4L433.4 44.5L431.7 41.1Z" fill="#cdd63a"/>
<path d="M380.8 34.7L382.5 35.4L384.8 33.4L383.1 32.8Z" fill="#a5cc61"/>
<path d="M443.0 52.8L444.8 56.1L447.0 55.4L445.3 52.0Z" fill="#b7d04b"/>
<path d="M411.9 34.7L413.6 36.2L415.9 35.0L414.2 33.6Z" fill="#bcd147"/>
<path d="M394.4 34.0L396.1 34.9L398.3 33.3L396.6 32.5Z" fill="#b0ce50"/>
<path d="M425.5 40.1L427.2 43.4L429.5 42.0L427.8 38.7Z" fill="#cdd63a"/>
<path d="M439.1 50.3L440.8 53.6L443.0 52.8L441.3 49.5Z" fill="#bed246"/>
<path d="M376.8 35.8L378.6 36.6L380.8 34.7L379.1 34.0Z" fill="#a2cb64"/>
<path d="M408.0 34.1L409.7 35.8L411.9 34.7L410.2 33.2Z" fill="#b7d04b"/>
<path d="M421.5 38.2L423.3 41.5L425.5 40.1L423.8 36.8Z" fill="#c7d53f"/>
<path d="M390.4 34.4L392.1 35.4L394.4 34.0L392.7 33.1Z" fill="#accd56"/>
<path d="M372.9 36.7L374.6 37.6L376.8 35.8L375.1 35.0Z" fill="#a2cb65"/>
<path d="M435.1 47.8L436.8 51.1L439.1 50.3L437.4 47.0Z" fill="#c5d440"/>
<path d="M404.0 34.1L405.7 35.7L408.0 34.1L406.3 32.4Z" fill="#b4cf4d"/>
<path d="M417.6 36.3L419.3 39.6L421.5 38.2L419.8 34.9Z" fill="#c0d344"/>
<path d="M448.7 58.7L450.4 62.0L452.7 61.3L451.0 57.9Z" fill="#b2ce4f"/>
<path d="M386.5 34.5L388.2 35.7L390.4 34.4L388.7 33.4Z" fill="#a8cc5b"/>
<path d="M368.9 37.5L370.6 38.5L372.9 36.7L371.2 35.9Z" fill="#a2cb64"/>
<path d="M400.0 34.1L401.8 35.7L404.0 34.1L402.3 32.4Z" fill="#b2cf4e"/>
<path d="M431.2 45.4L432.9 48.7L435.1 47.8L433.4 44.5Z" fill="#cdd63a"/>
<path d="M382.5 35.4L384.2 36.5L386.5 34.5L384.8 33.4Z" fill="#a4cc61"/>
<path d="M444.8 56.1L446.5 59.5L448.7 58.7L447.0 55.4Z" fill="#b6d04b"/>
<path d="M413.6 36.2L415.3 37.7L417.6 36.3L415.9 35.0Z" fill="#bad148"/>
<path d="M365.0 38.1L366.7 39.1L368.9 37.5L367.2 36.5Z" fill="#a5cc61"/>
<path d="M396.1 34.9L397.8 35.7L400.0 34.1L398.3 33.3Z" fill="#b0ce50"/>
<path d="M427.2 43.4L428.9 46.7L431.2 45.4L429.5 42.0Z" fill="#cdd63a"/>
<path d="M378.6 36.6L380.3 37.4L382.5 35.4L380.8 34.7Z" fill="#a1cb66"/>
<path d="M440.8 53.6L442.5 56.9L444.8 56.1L443.0 52.8Z" fill="#bcd147"/>
<path d="M409.7 35.8L411.4 37.4L413.6 36.2L411.9 34.7Z" fill="#b6d04c"/>
<path d="M392.1 35.4L393.8 36.4L396.1 34.9L394.4 34.0Z" fill="#accd56"/>
<path d="M423.3 41.5L425.0 44.7L427.2 43.4L425.5 40.1Z" fill="#c8d53e"/>
<path d="M374.6 37.6L376.3 38.5L378.6 36.6L376.8 35.8Z" fill="#a0cb68"/>
<path d="M436.8 51.1L438.5 54.4L440.8 53.6L439.1 50.3Z" fill="#c3d342"/>
<path d="M405.7 35.7L407.4 37.4L409.7 35.8L408.0 34.1Z" fill="#b2cf4e"/>
<path d="M450.4 62.0L452.1 63.8L454.4 63.1L452.7 61.3Z" fill="#b2cf4e"/>
<path d="M419.3 39.6L421.0 42.8L423.3 41.5L421.5 38.2Z" fill="#c1d343"/>
<path d="M388.2 35.7L389.9 36.8L392.1 35.4L390.4 34.4Z" fill="#a8cc5b"/>
<path d="M370.6 38.5L372.3 39.5L374.6 37.6L372.9 36.7Z" fill="#a0cb68"/>
<path d="M401.8 35.7L403.5 37.4L405.7 35.7L404.0 34.1Z" fill="#b1ce4f"/>
<path d="M432.9 48.7L434.6 51.9L436.8 51.1L435.1 47.8Z" fill="#cbd63b"/>
<path d="M384.2 36.5L385.9 37.5L388.2 35.7L386.5 34.5Z" fill="#a4cb62"/>
<path d="M415.3 37.7L417.0 40.9L419.3 39.6L417.6 36.3Z" fill="#bad148"/>
<path d="M446.5 59.5L448.2 62.8L450.4 62.0L448.7 58.7Z" fill="#b5cf4c"/>
<path d="M366.7 39.1L368.4 40.2L370.6 38.5L368.9 37.5Z" fill="#a1cb66"/>
<path d="M397.8 35.7L399.5 37.4L401.8 35.7L400.0 34.1Z" fill="#afce51"/>
<path d="M428.9 46.7L430.6 50.0L432.9 48.7L431.2 45.4Z" fill="#ced63a"/>
<path d="M380.3 37.4L382.0 38.4L384.2 36.5L382.5 35.4Z" fill="#a0cb67"/>
<path d="M442.5 56.9L444.2 60.2L446.5 59.5L444.8 56.1Z" fill="#bad148"/>
<path d="M411.4 37.4L413.1 39.1L415.3 37.7L413.6 36.2Z" fill="#b4cf4d"/>
<path d="M362.7 39.5L364.4 40.5L366.7 39.1L365.0 38.1Z" fill="#a4cc61"/>
<path d="M425.0 44.7L426.7 48.0L428.9 46.7L427.2 43.4Z" fill="#c8d53e"/>
<path d="M393.8 36.4L395.5 37.4L397.8 35.7L396.1 34.9Z" fill="#accd56"/>
<path d="M376.3 38.5L378.0 39.4L380.3 37.4L378.6 36.6Z" fill="#9eca6b"/>
<path d="M407.4 37.4L409.1 39.1L411.4 37.4L409.7 35.8Z" fill="#b1ce4f"/>
<path d="M438.5 54.4L440.2 57.7L442.5 56.9L440.8 53.6Z" fill="#c1d343"/>
<path d="M452.1 63.8L453.8 65.6L456.1 64.8L454.4 63.1Z" fill="#b4cf4d"/>
<path d="M389.9 36.8L391.6 37.9L393.8 36.4L392.1 35.4Z" fill="#a8cc5b"/>
<path d="M421.0 42.8L422.7 46.1L425.0 44.7L423.3 41.5Z" fill="#c2d342"/>
<path d="M372.3 39.5L374.0 40.4L376.3 38.5L374.6 37.6Z" fill="#9dca6c"/>
<path d="M403.5 37.4L405.2 39.0L407.4 37.4L405.7 35.7Z" fill="#afce51"/>
<path d="M434.6 51.9L436.3 55.2L438.5 54.4L436.8 51.1Z" fill="#c8d53e"/>
<path d="M448.2 62.8L449.9 64.6L452.1 63.8L450.4 62.0Z" fill="#b6d04c"/>
<path d="M385.9 37.5L387.6 38.6L389.9 36.8L388.2 35.7Z" fill="#a3cb62"/>
<path d="M417.0 40.9L418.8 44.2L421.0 42.8L419.3 39.6Z" fill="#bbd148"/>
<path d="M368.4 40.2L370.1 41.3L372.3 39.5L370.6 38.5Z" fill="#9eca6b"/>
<path d="M430.6 50.0L432.3 53.3L434.6 51.9L432.9 48.7Z" fill="#ccd63b"/>
<path d="M399.5 37.4L401.2 39.0L403.5 37.4L401.8 35.7Z" fill="#adcd54"/>
<path d="M382.0 38.4L383.7 39.4L385.9 37.5L384.2 36.5Z" fill="#9fca69"/>
<path d="M413.1 39.1L414.8 42.3L417.0 40.9L415.3 37.7Z" fill="#b4cf4d"/>
<path d="M444.2 60.2L445.9 63.5L448.2 62.8L446.5 59.5Z" fill="#b9d049"/>
<path d="M364.4 40.5L366.1 41.6L368.4 40.2L366.7 39.1Z" fill="#a1cb66"/>
<path d="M426.7 48.0L428.4 51.3L430.6 50.0L428.9 46.7Z" fill="#c9d53e"/>
<path d="M395.5 37.4L397.3 39.0L399.5 37.4L397.8 35.7Z" fill="#abcd57"/>
<path d="M378.0 39.4L379.7 40.3L382.0 38.4L380.3 37.4Z" fill="#9cca6d"/>
<path d="M409.1 39.1L410.8 40.7L413.1 39.1L411.4 37.4Z" fill="#afce51"/>
<path d="M440.2 57.7L442.0 61.0L444.2 60.2L442.5 56.9Z" fill="#bfd245"/>
<path d="M360.5 40.8L362.2 41.9L364.4 40.5L362.7 39.5Z" fill="#a4cc61"/>
<path d="M453.8 65.6L455.5 67.4L457.8 66.6L456.1 64.8Z" fill="#b6d04c"/>
<path d="M422.7 46.1L424.4 49.3L426.7 48.0L425.0 44.7Z" fill="#c3d342"/>
<path d="M391.6 37.9L393.3 39.1L395.5 37.4L393.8 36.4Z" fill="#a8cc5b"/>
<path d="M374.0 40.4L375.8 41.4L378.0 39.4L376.3 38.5Z" fill="#9ac970"/>
<path d="M405.2 39.0L406.9 40.7L409.1 39.1L407.4 37.4Z" fill="#adcd54"/>
<path d="M436.3 55.2L438.0 58.5L440.2 57.7L438.5 54.4Z" fill="#c6d440"/>
<path d="M387.6 38.6L389.3 39.6L391.6 37.9L389.9 36.8Z" fill="#a3cb63"/>
<path d="M449.9 64.6L451.6 66.4L453.8 65.6L452.1 63.8Z" fill="#b7d04b"/>
<path d="M418.8 44.2L420.5 47.4L422.7 46.1L421.0 42.8Z" fill="#bcd147"/>
<path d="M370.1 41.3L371.8 42.3L374.0 40.4L372.3 39.5Z" fill="#9ac970"/>
<path d="M432.3 53.3L434.0 56.6L436.3 55.2L434.6 51.9Z" fill="#c9d53e"/>
<path d="M401.2 39.0L402.9 40.7L405.2 39.0L403.5 37.4Z" fill="#abcd57"/>
<path d="M445.9 63.5L447.6 65.4L449.9 64.6L448.2 62.8Z" fill="#b9d049"/>
<path d="M383.7 39.4L385.4 40.3L387.6 38.6L385.9 37.5Z" fill="#9eca6b"/>
<path d="M414.8 42.3L416.5 45.5L418.8 44.2L417.0 40.9Z" fill="#b5d04c"/>
<path d="M366.1 41.6L367.8 42.7L370.1 41.3L368.4 40.2Z" fill="#9dca6c"/>
<path d="M428.4 51.3L430.1 54.6L432.3 53.3L430.6 50.0Z" fill="#c7d43f"/>
<path d="M397.3 39.0L399.0 40.7L401.2 39.0L399.5 37.4Z" fill="#a9cd5a"/>
<path d="M379.7 40.3L381.4 41.2L383.7 39.4L382.0 38.4Z" fill="#9ac970"/>
<path d="M410.8 40.7L412.5 43.9L414.8 42.3L413.1 39.1Z" fill="#afce52"/>
<path d="M442.0 61.0L443.7 64.3L445.9 63.5L444.2 60.2Z" fill="#bcd147"/>
<path d="M455.5 67.4L457.2 69.2L459.5 68.4L457.8 66.6Z" fill="#b7d04b"/>
<path d="M362.2 41.9L363.9 43.0L366.1 41.6L364.4 40.5Z" fill="#a1cb66"/>
<path d="M424.4 49.3L426.1 52.6L428.4 51.3L426.7 48.0Z" fill="#c4d441"/>
<path d="M393.3 39.1L395.0 40.7L397.3 39.0L395.5 37.4Z" fill="#a7cc5d"/>
<path d="M375.8 41.4L377.5 42.2L379.7 40.3L378.0 39.4Z" fill="#97c974"/>
<path d="M406.9 40.7L408.6 42.3L410.8 40.7L409.1 39.1Z" fill="#abcd57"/>
<path d="M438.0 58.5L439.7 61.8L442.0 61.0L440.2 57.7Z" fill="#c3d342"/>
<path d="M358.2 42.2L359.9 43.3L362.2 41.9L360.5 40.8Z" fill="#a4cc61"/>
<path d="M389.3 39.6L391.0 40.7L393.3 39.1L391.6 37.9Z" fill="#a3cb63"/>
<path d="M451.6 66.4L453.3 68.2L455.5 67.4L453.8 65.6Z" fill="#b9d049"/>
<path d="M420.5 47.4L422.2 50.7L424.4 49.3L422.7 46.1Z" fill="#bed246"/>
<path d="M371.8 42.3L373.5 43.4L375.8 41.4L374.0 40.4Z" fill="#97c975"/>
<path d="M402.9 40.7L404.6 42.3L406.9 40.7L405.2 39.0Z" fill="#a9cd5a"/>
<path d="M434.0 56.6L435.7 59.9L438.0 58.5L436.3 55.2Z" fill="#c5d440"/>
<path d="M385.4 40.3L387.1 41.3L389.3 39.6L387.6 38.6Z" fill="#9cca6c"/>
<path d="M447.6 65.4L449.3 67.2L451.6 66.4L449.9 64.6Z" fill="#bad148"/>
<path d="M416.5 45.5L418.2 48.8L420.5 47.4L418.8 44.2Z" fill="#b7d04b"/>
<path d="M367.8 42.7L369.5 43.7L371.8 42.3L370.1 41.3Z" fill="#99c972"/>
<path d="M430.1 54.6L431.8 58.0L434.0 56.6L432.3 53.3Z" fill="#c3d342"/>
<path d="M399.0 40.7L400.7 42.3L402.9 40.7L401.2 39.0Z" fill="#a7cc5d"/>
<path d="M381.4 41.2L383.1 42.1L385.4 40.3L383.7 39.4Z" fill="#98c973"/>
<path d="M412.5 43.9L414.2 47.2L416.5 45.5L414.8 42.3Z" fill="#b0ce50"/>
<path d="M443.7 64.3L445.4 66.1L447.6 65.4L445.9 63.5Z" fill="#bcd147"/>
<path d="M363.9 43.0L365.6 44.1L367.8 42.7L366.1 41.6Z" fill="#9dca6c"/>
<path d="M426.1 52.6L427.8 56.0L430.1 54.6L428.4 51.3Z" fill="#c2d342"/>
<path d="M457.2 69.2L458.9 71.0L461.2 70.2L459.5 68.4Z" fill="#b9d049"/>
<path d="M395.0 40.7L396.7 42.3L399.0 40.7L397.3 39.0Z" fill="#a5cc5f"/>
<path d="M408.6 42.3L410.3 45.6L412.5 43.9L410.8 40.7Z" fill="#abcd58"/>
<path d="M377.5 42.2L379.2 43.1L381.4 41.2L379.7 40.3Z" fill="#95c877"/>
<path d="M439.7 61.8L441.4 65.0L443.7 64.3L442.0 61.0Z" fill="#c0d244"/>
<path d="M359.9 43.3L361.6 44.4L363.9 43.0L362.2 41.9Z" fill="#a1cb66"/>
<path d="M453.3 68.2L455.0 70.1L457.2 69.2L455.5 67.4Z" fill="#bad148"/>
<path d="M391.0 40.7L392.8 42.3L395.0 40.7L393.3 39.1Z" fill="#a1cb65"/>
<path d="M422.2 50.7L423.9 53.9L426.1 52.6L424.4 49.3Z" fill="#bfd245"/>
<path d="M373.5 43.4L375.2 44.2L377.5 42.2L375.8 41.4Z" fill="#93c87a"/>
<path d="M404.6 42.3L406.3 43.9L408.6 42.3L406.9 40.7Z" fill="#a7cc5d"/>
<path d="M435.7 59.9L437.5 63.3L439.7 61.8L438.0 58.5Z" fill="#c2d343"/>
<path d="M356.0 43.6L357.7 44.7L359.9 43.3L358.2 42.2Z" fill="#a4cc61"/>
<path d="M387.1 41.3L388.8 42.3L391.0 40.7L389.3 39.6Z" fill="#9bca6e"/>
<path d="M449.3 67.2L451.0 69.1L453.3 68.2L451.6 66.4Z" fill="#bcd147"/>
<path d="M418.2 48.8L419.9 52.0L422.2 50.7L420.5 47.4Z" fill="#b8d04a"/>
<path d="M369.5 43.7L371.3 44.8L373.5 43.4L371.8 42.3Z" fill="#95c877"/>
<path d="M431.8 58.0L433.5 61.4L435.7 59.9L434.0 56.6Z" fill="#c0d244"/>
<path d="M400.7 42.3L402.4 43.9L404.6 42.3L402.9 40.7Z" fill="#a5cc5f"/>
<path d="M383.1 42.1L384.8 43.0L387.1 41.3L385.4 40.3Z" fill="#96c976"/>
<path d="M414.2 47.2L416.0 50.4L418.2 48.8L416.5 45.5Z" fill="#b2ce4f"/>
<path d="M445.4 66.1L447.1 68.0L449.3 67.2L447.6 65.4Z" fill="#bed246"/>
<path d="M458.9 71.0L460.7 72.3L462.9 71.4L461.2 70.2Z" fill="#b9d049"/>
<path d="M365.6 44.1L367.3 45.2L369.5 43.7L367.8 42.7Z" fill="#99c972"/>
<path d="M427.8 56.0L429.5 59.4L431.8 58.0L430.1 54.6Z" fill="#bed246"/>
<path d="M396.7 42.3L398.4 43.9L400.7 42.3L399.0 40.7Z" fill="#a3cb62"/>
<path d="M379.2 43.1L380.9 43.9L383.1 42.1L381.4 41.2Z" fill="#92c87b"/>
<path d="M410.3 45.6L412.0 48.8L414.2 47.2L412.5 43.9Z" fill="#abcd57"/>
<path d="M441.4 65.0L443.1 66.9L445.4 66.1L443.7 64.3Z" fill="#bfd245"/>
<path d="M361.6 44.4L363.3 45.5L365.6 44.1L363.9 43.0Z" fill="#9dca6c"/>
<path d="M423.9 53.9L425.6 57.3L427.8 56.0L426.1 52.6Z" fill="#bdd246"/>
<path d="M455.0 70.1L456.7 71.9L458.9 71.0L457.2 69.2Z" fill="#bcd147"/>
<path d="M392.8 42.3L394.5 43.9L396.7 42.3L395.0 40.7Z" fill="#9fcb68"/>
<path d="M406.3 43.9L408.0 47.2L410.3 45.6L408.6 42.3Z" fill="#a6cc5e"/>
<path d="M375.2 44.2L376.9 44.9L379.2 43.1L377.5 42.2Z" fill="#90c77f"/>
<path d="M437.5 63.3L439.2 66.6L441.4 65.0L439.7 61.8Z" fill="#bed245"/>
<path d="M357.7 44.7L359.4 45.8L361.6 44.4L359.9 43.3Z" fill="#a1cb66"/>
<path d="M451.0 69.1L452.7 70.9L455.0 70.1L453.3 68.2Z" fill="#bed246"/>
<path d="M388.8 42.3L390.5 43.9L392.8 42.3L391.0 40.7Z" fill="#99c971"/>
<path d="M419.9 52.0L421.6 55.2L423.9 53.9L422.2 50.7Z" fill="#bad149"/>
<path d="M371.3 44.8L373.0 45.6L375.2 44.2L373.5 43.4Z" fill="#91c87d"/>
<path d="M433.5 61.4L435.2 64.7L437.5 63.3L435.7 59.9Z" fill="#bcd147"/>
<path d="M402.4 43.9L404.1 45.6L406.3 43.9L404.6 42.3Z" fill="#a3cb62"/>
<path d="M384.8 43.0L386.5 43.9L388.8 42.3L387.1 41.3Z" fill="#94c879"/>
<path d="M416.0 50.4L417.7 53.6L419.9 52.0L418.2 48.8Z" fill="#b3cf4e"/>
<path d="M353.7 45.0L355.4 46.1L357.7 44.7L356.0 43.6Z" fill="#a4cc61"/>
<path d="M447.1 68.0L448.8 69.9L451.0 69.1L449.3 67.2Z" fill="#bfd245"/>
<path d="M460.7 72.3L462.4 73.5L464.6 72.6L462.9 71.4Z" fill="#b7d04b"/>
<path d="M367.3 45.2L369.0 46.2L371.3 44.8L369.5 43.7Z" fill="#95c877"/>
<path d="M429.5 59.4L431.2 62.8L433.5 61.4L431.8 58.0Z" fill="#bad148"/>
<path d="M398.4 43.9L400.1 45.6L402.4 43.9L400.7 42.3Z" fill="#a1cb65"/>
<path d="M380.9 43.9L382.6 44.7L384.8 43.0L383.1 42.1Z" fill="#8fc77f"/>
<path d="M412.0 48.8L413.7 52.1L416.0 50.4L414.2 47.2Z" fill="#accd56"/>
<path d="M443.1 66.9L444.8 68.8L447.1 68.0L445.4 66.1Z" fill="#c1d343"/>
<path d="M456.7 71.9L458.4 73.2L460.7 72.3L458.9 71.0Z" fill="#bcd147"/>
<path d="M363.3 45.5L365.0 46.6L367.3 45.2L365.6 44.1Z" fill="#99c972"/>
<path d="M425.6 57.3L427.3 60.8L429.5 59.4L427.8 56.0Z" fill="#b9d049"/>
<path d="M394.5 43.9L396.2 45.6L398.4 43.9L396.7 42.3Z" fill="#9dca6b"/>
<path d="M376.9 44.9L378.6 45.7L380.9 43.9L379.2 43.1Z" fill="#8cc784"/>
<path d="M408.0 47.2L409.7 50.5L412.0 48.8L410.3 45.6Z" fill="#a6cc5e"/>
<path d="M439.2 66.6L440.9 68.4L443.1 66.9L441.4 65.0Z" fill="#bdd246"/>
<path d="M359.4 45.8L361.1 46.9L363.3 45.5L361.6 44.4Z" fill="#9dca6c"/>
<path d="M421.6 55.2L423.3 58.7L425.6 57.3L423.9 53.9Z" fill="#b8d04a"/>
<path d="M452.7 70.9L454.4 72.7L456.7 71.9L455.0 70.1Z" fill="#bfd245"/>
<path d="M390.5 43.9L392.2 45.6L394.5 43.9L392.8 42.3Z" fill="#97c974"/>
<path d="M373.0 45.6L374.7 46.4L376.9 44.9L375.2 44.2Z" fill="#8dc783"/>
<path d="M404.1 45.6L405.8 48.8L408.0 47.2L406.3 43.9Z" fill="#a2cb64"/>
<path d="M435.2 64.7L436.9 68.1L439.2 66.6L437.5 63.3Z" fill="#b8d04a"/>
<path d="M386.5 43.9L388.2 45.6L390.5 43.9L388.8 42.3Z" fill="#92c87c"/>
<path d="M417.7 53.6L419.4 56.9L421.6 55.2L419.9 52.0Z" fill="#b4cf4d"/>
<path d="M448.8 69.9L450.5 71.7L452.7 70.9L451.0 69.1Z" fill="#c1d343"/>
<path d="M355.4 46.1L357.1 47.2L359.4 45.8L357.7 44.7Z" fill="#a1cb66"/>
<path d="M462.4 73.5L464.1 74.8L466.3 73.8L464.6 72.6Z" fill="#b5cf4c"/>
<path d="M369.0 46.2L370.7 47.1L373.0 45.6L371.3 44.8Z" fill="#91c87d"/>
<path d="M431.2 62.8L432.9 66.2L435.2 64.7L433.5 61.4Z" fill="#b6d04c"/>
<path d="M400.1 45.6L401.8 47.2L404.1 45.6L402.4 43.9Z" fill="#a0cb68"/>
<path d="M351.5 46.0L353.2 47.0L355.4 46.1L353.7 45.0Z" fill="#a8cc5c"/>
<path d="M382.6 44.7L384.3 45.6L386.5 43.9L384.8 43.0Z" fill="#8dc783"/>
<path d="M413.7 52.1L415.4 55.3L417.7 53.6L416.0 50.4Z" fill="#adcd54"/>
<path d="M444.8 68.8L446.5 70.7L448.8 69.9L447.1 68.0Z" fill="#c2d342"/>
<path d="M365.0 46.6L366.8 47.6L369.0 46.2L367.3 45.2Z" fill="#95c877"/>
<path d="M458.4 73.2L460.1 74.5L462.4 73.5L460.7 72.3Z" fill="#bad149"/>
<path d="M396.2 45.6L397.9 47.2L400.1 45.6L398.4 43.9Z" fill="#9bca6e"/>
<path d="M427.3 60.8L429.0 64.3L431.2 62.8L429.5 59.4Z" fill="#b4cf4d"/>
<path d="M378.6 45.7L380.3 46.4L382.6 44.7L380.9 43.9Z" fill="#89c689"/>
<path d="M409.7 50.5L411.5 53.7L413.7 52.1L412.0 48.8Z" fill="#a6cc5e"/>
<path d="M440.9 68.4L442.6 70.3L444.8 68.8L443.1 66.9Z" fill="#bfd245"/>
<path d="M454.4 72.7L456.2 74.1L458.4 73.2L456.7 71.9Z" fill="#bfd245"/>
<path d="M361.1 46.9L362.8 48.0L365.0 46.6L363.3 45.5Z" fill="#99c972"/>
<path d="M423.3 58.7L425.0 62.2L427.3 60.8L425.6 57.3Z" fill="#b3cf4d"/>
<path d="M392.2 45.6L393.9 47.2L396.2 45.6L394.5 43.9Z" fill="#94c878"/>
<path d="M374.7 46.4L376.4 47.2L378.6 45.7L376.9 44.9Z" fill="#89c689"/>
<path d="M436.9 68.1L438.6 69.9L440.9 68.4L439.2 66.6Z" fill="#b7d04b"/>
<path d="M405.8 48.8L407.5 52.1L409.7 50.5L408.0 47.2Z" fill="#a1cb65"/>
<path d="M419.4 56.9L421.1 60.4L423.3 58.7L421.6 55.2Z" fill="#b2cf4e"/>
<path d="M388.2 45.6L390.0 47.2L392.2 45.6L390.5 43.9Z" fill="#8fc780"/>
<path d="M450.5 71.7L452.2 73.6L454.4 72.7L452.7 70.9Z" fill="#c2d342"/>
<path d="M357.1 47.2L358.8 48.3L361.1 46.9L359.4 45.8Z" fill="#9dca6c"/>
<path d="M464.1 74.8L465.8 76.0L468.0 75.0L466.3 73.8Z" fill="#b3cf4d"/>
<path d="M370.7 47.1L372.4 47.9L374.7 46.4L373.0 45.6Z" fill="#8cc784"/>
<path d="M401.8 47.2L403.5 50.5L405.8 48.8L404.1 45.6Z" fill="#9eca6a"/>
<path d="M432.9 66.2L434.7 69.6L436.9 68.1L435.2 64.7Z" fill="#b2cf4e"/>
<path d="M353.2 47.0L354.9 48.0L357.1 47.2L355.4 46.1Z" fill="#a5cc60"/>
<path d="M384.3 45.6L386.0 47.2L388.2 45.6L386.5 43.9Z" fill="#8ac688"/>
<path d="M415.4 55.3L417.1 58.5L419.4 56.9L417.7 53.6Z" fill="#aece53"/>
<path d="M446.5 70.7L448.2 72.6L450.5 71.7L448.8 69.9Z" fill="#c4d441"/>
<path d="M366.8 47.6L368.5 48.5L370.7 47.1L369.0 46.2Z" fill="#91c87d"/>
<path d="M460.1 74.5L461.8 75.8L464.1 74.8L462.4 73.5Z" fill="#b8d04a"/>
<path d="M397.9 47.2L399.6 48.8L401.8 47.2L400.1 45.6Z" fill="#99c971"/>
<path d="M429.0 64.3L430.7 67.7L432.9 66.2L431.2 62.8Z" fill="#b0ce50"/>
<path d="M349.2 47.0L350.9 47.9L353.2 47.0L351.5 46.0Z" fill="#afce52"/>
<path d="M380.3 46.4L382.0 47.2L384.3 45.6L382.6 44.7Z" fill="#85c58e"/>
<path d="M411.5 53.7L413.2 57.0L415.4 55.3L413.7 52.1Z" fill="#a6cc5e"/>
<path d="M442.6 70.3L444.3 72.1L446.5 70.7L444.8 68.8Z" fill="#c0d344"/>
<path d="M456.2 74.1L457.9 75.4L460.1 74.5L458.4 73.2Z" fill="#bcd147"/>
<path d="M362.8 48.0L364.5 49.1L366.8 47.6L365.0 46.6Z" fill="#95c877"/>
<path d="M393.9 47.2L395.6 48.8L397.9 47.2L396.2 45.6Z" fill="#92c87c"/>
<path d="M425.0 62.2L426.7 65.7L429.0 64.3L427.3 60.8Z" fill="#afce52"/>
<path d="M376.4 47.2L378.1 48.0L380.3 46.4L378.6 45.7Z" fill="#85c58f"/>
<path d="M438.6 69.9L440.3 71.8L442.6 70.3L440.9 68.4Z" fill="#b7d04a"/>
<path d="M407.5 52.1L409.2 55.4L411.5 53.7L409.7 50.5Z" fill="#a1cb66"/>
<path d="M421.1 60.4L422.8 64.0L425.0 62.2L423.3 58.7Z" fill="#adcd55"/>
<path d="M452.2 73.6L453.9 75.0L456.2 74.1L454.4 72.7Z" fill="#c2d343"/>
<path d="M390.0 47.2L391.7 48.8L393.9 47.2L392.2 45.6Z" fill="#8cc685"/>
<path d="M358.8 48.3L360.5 49.4L362.8 48.0L361.1 46.9Z" fill="#99c972"/>
<path d="M372.4 47.9L374.1 48.7L376.4 47.2L374.7 46.4Z" fill="#88c68a"/>
<path d="M434.7 69.6L436.4 71.4L438.6 69.9L436.9 68.1Z" fill="#b0ce50"/>
<path d="M465.8 76.0L467.5 77.2L469.7 76.1L468.0 75.0Z" fill="#b2ce4f"/>
<path d="M403.5 50.5L405.2 53.7L407.5 52.1L405.8 48.8Z" fill="#9cca6d"/>
<path d="M417.1 58.5L418.8 62.2L421.1 60.4L419.4 56.9Z" fill="#abcd57"/>
<path d="M354.9 48.0L356.6 49.0L358.8 48.3L357.1 47.2Z" fill="#a2cb64"/>
<path d="M386.0 47.2L387.7 48.8L390.0 47.2L388.2 45.6Z" fill="#86c58c"/>
<path d="M448.2 72.6L449.9 74.4L452.2 73.6L450.5 71.7Z" fill="#c6d440"/>
<path d="M368.5 48.5L370.2 49.4L372.4 47.9L370.7 47.1Z" fill="#8cc685"/>
<path d="M399.6 48.8L401.3 52.2L403.5 50.5L401.8 47.2Z" fill="#97c975"/>
<path d="M461.8 75.8L463.5 77.1L465.8 76.0L464.1 74.8Z" fill="#b6d04c"/>
<path d="M430.7 67.7L432.4 71.2L434.7 69.6L432.9 66.2Z" fill="#abcd57"/>
<path d="M350.9 47.9L352.6 48.7L354.9 48.0L353.2 47.0Z" fill="#aece52"/>
<path d="M382.0 47.2L383.7 48.8L386.0 47.2L384.3 45.6Z" fill="#82c493"/>
<path d="M413.2 57.0L414.9 60.2L417.1 58.5L415.4 55.3Z" fill="#a6cc5e"/>
<path d="M444.3 72.1L446.0 74.0L448.2 72.6L446.5 70.7Z" fill="#c1d343"/>
<path d="M364.5 49.1L366.2 50.0L368.5 48.5L366.8 47.6Z" fill="#90c77e"/>
<path d="M457.9 75.4L459.6 76.8L461.8 75.8L460.1 74.5Z" fill="#bad148"/>
<path d="M395.6 48.8L397.3 50.4L399.6 48.8L397.9 47.2Z" fill="#8fc77f"/>
<path d="M426.7 65.7L428.4 69.2L430.7 67.7L429.0 64.3Z" fill="#a9cd5a"/>
<path d="M347.0 48.0L348.7 48.8L350.9 47.9L349.2 47.0Z" fill="#b5cf4c"/>
<path d="M378.1 48.0L379.8 48.8L382.0 47.2L380.3 46.4Z" fill="#81c494"/>
<path d="M440.3 71.8L442.0 73.6L444.3 72.1L442.6 70.3Z" fill="#b8d04a"/>
<path d="M409.2 55.4L410.9 58.6L413.2 57.0L411.5 53.7Z" fill="#a0cb68"/>
<path d="M391.7 48.8L393.4 50.4L395.6 48.8L393.9 47.2Z" fill="#89c689"/>
<path d="M422.8 64.0L424.5 67.5L426.7 65.7L425.0 62.2Z" fill="#a7cc5d"/>
<path d="M453.9 75.0L455.6 76.4L457.9 75.4L456.2 74.1Z" fill="#bfd245"/>
<path d="M360.5 49.4L362.2 50.5L364.5 49.1L362.8 48.0Z" fill="#95c877"/>
<path d="M467.5 77.2L469.2 78.6L471.4 77.4L469.7 76.1Z" fill="#b0ce50"/>
<path d="M374.1 48.7L375.8 49.6L378.1 48.0L376.4 47.2Z" fill="#83c591"/>
<path d="M436.4 71.4L438.1 73.2L440.3 71.8L438.6 69.9Z" fill="#b0ce50"/>
<path d="M405.2 53.7L406.9 57.0L409.2 55.4L407.5 52.1Z" fill="#9bca6f"/>
<path d="M418.8 62.2L420.5 65.8L422.8 64.0L421.1 60.4Z" fill="#a4cc61"/>
<path d="M356.6 49.0L358.3 49.9L360.5 49.4L358.8 48.3Z" fill="#a0cb68"/>
<path d="M387.7 48.8L389.4 50.4L391.7 48.8L390.0 47.2Z" fill="#83c591"/>
<path d="M449.9 74.4L451.6 75.9L453.9 75.0L452.2 73.6Z" fill="#c5d440"/>
<path d="M370.2 49.4L371.9 50.3L374.1 48.7L372.4 47.9Z" fill="#87c68b"/>
<path d="M401.3 52.2L403.0 55.6L405.2 53.7L403.5 50.5Z" fill="#94c878"/>
<path d="M432.4 71.2L434.1 72.9L436.4 71.4L434.7 69.6Z" fill="#a8cc5c"/>
<path d="M463.5 77.1L465.2 78.3L467.5 77.2L465.8 76.0Z" fill="#b3cf4d"/>
<path d="M414.9 60.2L416.6 63.9L418.8 62.2L417.1 58.5Z" fill="#a3cb63"/>
<path d="M352.6 48.7L354.3 49.6L356.6 49.0L354.9 48.0Z" fill="#aece53"/>
<path d="M383.7 48.8L385.5 50.4L387.7 48.8L386.0 47.2Z" fill="#7ec498"/>
<path d="M446.0 74.0L447.7 75.8L449.9 74.4L448.2 72.6Z" fill="#c3d342"/>
<path d="M366.2 50.0L367.9 50.9L370.2 49.4L368.5 48.5Z" fill="#8bc685"/>
<path d="M397.3 50.4L399.0 53.9L401.3 52.2L399.6 48.8Z" fill="#8cc784"/>
<path d="M459.6 76.8L461.3 78.1L463.5 77.1L461.8 75.8Z" fill="#b8d04a"/>
<path d="M428.4 69.2L430.2 72.7L432.4 71.2L430.7 67.7Z" fill="#a3cb62"/>
<path d="M348.7 48.8L350.4 49.5L352.6 48.7L350.9 47.9Z" fill="#b6d04b"/>
<path d="M379.8 48.8L381.5 50.5L383.7 48.8L382.0 47.2Z" fill="#7dc39a"/>
<path d="M442.0 73.6L443.7 75.4L446.0 74.0L444.3 72.1Z" fill="#b9d04a"/>
<path d="M410.9 58.6L412.6 61.9L414.9 60.2L413.2 57.0Z" fill="#9fca69"/>
<path d="M393.4 50.4L395.1 52.0L397.3 50.4L395.6 48.8Z" fill="#86c58d"/>
<path d="M424.5 67.5L426.2 71.1L428.4 69.2L426.7 65.7Z" fill="#a1cb66"/>
<path d="M455.6 76.4L457.3 77.8L459.6 76.8L457.9 75.4Z" fill="#bcd147"/>
<path d="M362.2 50.5L364.0 51.4L366.2 50.0L364.5 49.1Z" fill="#90c77e"/>
<path d="M344.7 49.0L346.4 49.7L348.7 48.8L347.0 48.0Z" fill="#bbd148"/>
<path d="M469.2 78.6L470.9 79.9L473.1 78.6L471.4 77.4Z" fill="#aece53"/>
<path d="M375.8 49.6L377.5 50.4L379.8 48.8L378.1 48.0Z" fill="#7fc497"/>
<path d="M438.1 73.2L439.8 75.0L442.0 73.6L440.3 71.8Z" fill="#b0ce50"/>
<path d="M406.9 57.0L408.7 60.3L410.9 58.6L409.2 55.4Z" fill="#99c971"/>
<path d="M420.5 65.8L422.2 69.4L424.5 67.5L422.8 64.0Z" fill="#9eca6a"/>
<path d="M358.3 49.9L360.0 50.9L362.2 50.5L360.5 49.4Z" fill="#9dca6b"/>
<path d="M389.4 50.4L391.1 52.0L393.4 50.4L391.7 48.8Z" fill="#80c496"/>
<path d="M451.6 75.9L453.4 77.3L455.6 76.4L453.9 75.0Z" fill="#c2d343"/>
<path d="M465.2 78.3L466.9 79.7L469.2 78.6L467.5 77.2Z" fill="#b1ce4f"/>
<path d="M371.9 50.3L373.6 51.1L375.8 49.6L374.1 48.7Z" fill="#82c492"/>
<path d="M403.0 55.6L404.7 59.0L406.9 57.0L405.2 53.7Z" fill="#92c87c"/>
<path d="M434.1 72.9L435.8 74.7L438.1 73.2L436.4 71.4Z" fill="#a7cc5d"/>
<path d="M416.6 63.9L418.3 67.5L420.5 65.8L418.8 62.2Z" fill="#9cca6d"/>
<path d="M447.7 75.8L449.4 77.3L451.6 75.9L449.9 74.4Z" fill="#c2d343"/>
<path d="M354.3 49.6L356.0 50.5L358.3 49.9L356.6 49.0Z" fill="#aece53"/>
<path d="M385.5 50.4L387.2 52.0L389.4 50.4L387.7 48.8Z" fill="#7ac39e"/>
<path d="M367.9 50.9L369.6 51.8L371.9 50.3L370.2 49.4Z" fill="#86c58d"/>
<path d="M399.0 53.9L400.7 57.5L403.0 55.6L401.3 52.2Z" fill="#89c689"/>
<path d="M430.2 72.7L431.9 74.4L434.1 72.9L432.4 71.2Z" fill="#a0cb68"/>
<path d="M461.3 78.1L463.0 79.4L465.2 78.3L463.5 77.1Z" fill="#b5cf4c"/>
<path d="M350.4 49.5L352.1 50.3L354.3 49.6L352.6 48.7Z" fill="#b8d04a"/>
<path d="M381.5 50.5L383.2 52.1L385.5 50.4L383.7 48.8Z" fill="#79c3a0"/>
<path d="M412.6 61.9L414.3 65.6L416.6 63.9L414.9 60.2Z" fill="#9bca6e"/>
<path d="M443.7 75.4L445.4 77.2L447.7 75.8L446.0 74.0Z" fill="#b9d149"/>
<path d="M395.1 52.0L396.8 55.7L399.0 53.9L397.3 50.4Z" fill="#82c492"/>
<path d="M426.2 71.1L427.9 74.6L430.2 72.7L428.4 69.2Z" fill="#9bca6f"/>
<path d="M457.3 77.8L459.0 79.2L461.3 78.1L459.6 76.8Z" fill="#bad149"/>
<path d="M364.0 51.4L365.7 52.4L367.9 50.9L366.2 50.0Z" fill="#8bc686"/>
<path d="M346.4 49.7L348.1 50.3L350.4 49.5L348.7 48.8Z" fill="#bed245"/>
<path d="M377.5 50.4L379.2 52.1L381.5 50.5L379.8 48.8Z" fill="#7bc39d"/>
<path d="M439.8 75.0L441.5 76.8L443.7 75.4L442.0 73.6Z" fill="#b0ce50"/>
<path d="M470.9 79.9L472.6 81.2L474.9 79.9L473.1 78.6Z" fill="#accd56"/>
<path d="M408.7 60.3L410.4 63.6L412.6 61.9L410.9 58.6Z" fill="#98c973"/>
<path d="M360.0 50.9L361.7 52.1L364.0 51.4L362.2 50.5Z" fill="#98c973"/>
<path d="M391.1 52.0L392.8 53.6L395.1 52.0L393.4 50.4Z" fill="#7cc39b"/>
<path d="M422.2 69.4L423.9 73.0L426.2 71.1L424.5 67.5Z" fill="#98c973"/>
<path d="M453.4 77.3L455.1 78.8L457.3 77.8L455.6 76.4Z" fill="#bfd245"/>
<path d="M342.5 50.0L344.2 50.5L346.4 49.7L344.7 49.0Z" fill="#c0d344"/>
<path d="M373.6 51.1L375.3 52.0L377.5 50.4L375.8 49.6Z" fill="#7dc499"/>
<path d="M466.9 79.7L468.6 81.1L470.9 79.9L469.2 78.6Z" fill="#afce51"/>
<path d="M404.7 59.0L406.4 62.4L408.7 60.3L406.9 57.0Z" fill="#8fc780"/>
<path d="M435.8 74.7L437.5 76.5L439.8 75.0L438.1 73.2Z" fill="#a6cc5e"/>
<path d="M418.3 67.5L420.0 71.2L422.2 69.4L420.5 65.8Z" fill="#95c876"/>
<path d="M449.4 77.3L451.1 78.7L453.4 77.3L451.6 75.9Z" fill="#bed245"/>
<path d="M356.0 50.5L357.7 51.4L360.0 50.9L358.3 49.9Z" fill="#adcd54"/>
<path d="M387.2 52.0L388.9 53.6L391.1 52.0L389.4 50.4Z" fill="#77c2a3"/>
<path d="M463.0 79.4L464.7 80.9L466.9 79.7L465.2 78.3Z" fill="#b3cf4e"/>
<path d="M369.6 51.8L371.3 52.7L373.6 51.1L371.9 50.3Z" fill="#81c494"/>
<path d="M400.7 57.5L402.4 61.0L404.7 59.0L403.0 55.6Z" fill="#85c58e"/>
<path d="M431.9 74.4L433.6 76.2L435.8 74.7L434.1 72.9Z" fill="#9eca6a"/>
<path d="M445.4 77.2L447.1 78.6L449.4 77.3L447.7 75.8Z" fill="#b8d04a"/>
<path d="M352.1 50.3L353.8 51.1L356.0 50.5L354.3 49.6Z" fill="#bad149"/>
<path d="M383.2 52.1L384.9 53.8L387.2 52.0L385.5 50.4Z" fill="#75c2a5"/>
<path d="M414.3 65.6L416.0 69.3L418.3 67.5L416.6 63.9Z" fill="#94c879"/>
<path d="M396.8 55.7L398.5 59.4L400.7 57.5L399.0 53.9Z" fill="#7dc49a"/>
<path d="M427.9 74.6L429.6 76.4L431.9 74.4L430.2 72.7Z" fill="#97c975"/>
<path d="M365.7 52.4L367.4 53.3L369.6 51.8L367.9 50.9Z" fill="#85c58e"/>
<path d="M459.0 79.2L460.7 80.5L463.0 79.4L461.3 78.1Z" fill="#b7d04b"/>
<path d="M348.1 50.3L349.8 51.0L352.1 50.3L350.4 49.5Z" fill="#c2d343"/>
<path d="M379.2 52.1L380.9 53.8L383.2 52.1L381.5 50.5Z" fill="#77c2a3"/>
<path d="M410.4 63.6L412.1 67.3L414.3 65.6L412.6 61.9Z" fill="#93c87a"/>
<path d="M441.5 76.8L443.2 78.6L445.4 77.2L443.7 75.4Z" fill="#b0ce50"/>
<path d="M472.6 81.2L474.3 82.5L476.6 81.1L474.9 79.9Z" fill="#aacd59"/>
<path d="M392.8 53.6L394.5 57.4L396.8 55.7L395.1 52.0Z" fill="#78c2a1"/>
<path d="M361.7 52.1L363.4 53.2L365.7 52.4L364.0 51.4Z" fill="#91c87d"/>
<path d="M423.9 73.0L425.6 76.6L427.9 74.6L426.2 71.1Z" fill="#91c87c"/>
<path d="M455.1 78.8L456.8 80.2L459.0 79.2L457.3 77.8Z" fill="#bcd147"/>
<path d="M375.3 52.0L377.0 53.8L379.2 52.1L377.5 50.4Z" fill="#79c3a0"/>
<path d="M344.2 50.5L345.9 51.1L348.1 50.3L346.4 49.7Z" fill="#c6d440"/>
<path d="M406.4 62.4L408.1 65.8L410.4 63.6L408.7 60.3Z" fill="#8dc783"/>
<path d="M437.5 76.5L439.2 78.2L441.5 76.8L439.8 75.0Z" fill="#a6cc5f"/>
<path d="M468.6 81.1L470.4 82.5L472.6 81.2L470.9 79.9Z" fill="#adcd55"/>
<path d="M357.7 51.4L359.5 52.7L361.7 52.1L360.0 50.9Z" fill="#a8cc5c"/>
<path d="M388.9 53.6L390.6 55.2L392.8 53.6L391.1 52.0Z" fill="#74c2a7"/>
<path d="M420.0 71.2L421.7 74.9L423.9 73.0L422.2 69.4Z" fill="#8fc780"/>
<path d="M451.1 78.7L452.8 80.1L455.1 78.8L453.4 77.3Z" fill="#bbd148"/>
<path d="M371.3 52.7L373.0 53.6L375.3 52.0L373.6 51.1Z" fill="#7cc39c"/>
<path d="M464.7 80.9L466.4 82.4L468.6 81.1L466.9 79.7Z" fill="#b0ce50"/>
<path d="M340.2 52.5L341.9 53.1L344.2 50.5L342.5 50.0Z" fill="#c1d343"/>
<path d="M402.4 61.0L404.2 64.6L406.4 62.4L404.7 59.0Z" fill="#81c494"/>
<path d="M433.6 76.2L435.3 77.9L437.5 76.5L435.8 74.7Z" fill="#9dca6c"/>
<path d="M353.8 51.1L355.5 51.8L357.7 51.4L356.0 50.5Z" fill="#bbd148"/>
<path d="M447.1 78.6L448.9 80.1L451.1 78.7L449.4 77.3Z" fill="#b5cf4c"/>
<path d="M384.9 53.8L386.6 55.5L388.9 53.6L387.2 52.0Z" fill="#72c1a8"/>
<path d="M416.0 69.3L417.7 73.0L420.0 71.2L418.3 67.5Z" fill="#8dc783"/>
<path d="M398.5 59.4L400.2 63.0L402.4 61.0L400.7 57.5Z" fill="#78c2a0"/>
<path d="M429.6 76.4L431.3 78.2L433.6 76.2L431.9 74.4Z" fill="#94c878"/>
<path d="M460.7 80.5L462.4 82.1L464.7 80.9L463.0 79.4Z" fill="#b4cf4d"/>
<path d="M367.4 53.3L369.1 54.3L371.3 52.7L369.6 51.8Z" fill="#7fc496"/>
<path d="M443.2 78.6L444.9 80.0L447.1 78.6L445.4 77.2Z" fill="#aece53"/>
<path d="M474.3 82.5L476.0 83.8L478.3 82.3L476.6 81.1Z" fill="#a7cc5c"/>
<path d="M349.8 51.0L351.5 51.6L353.8 51.1L352.1 50.3Z" fill="#c5d440"/>
<path d="M380.9 53.8L382.7 55.6L384.9 53.8L383.2 52.1Z" fill="#74c2a6"/>
<path d="M412.1 67.3L413.8 71.1L416.0 69.3L414.3 65.6Z" fill="#8cc685"/>
<path d="M425.6 76.6L427.4 78.4L429.6 76.4L427.9 74.6Z" fill="#8dc783"/>
<path d="M363.4 53.2L365.1 54.3L367.4 53.3L365.7 52.4Z" fill="#89c688"/>
<path d="M394.5 57.4L396.2 61.2L398.5 59.4L396.8 55.7Z" fill="#73c1a8"/>
<path d="M456.8 80.2L458.5 81.6L460.7 80.5L459.0 79.2Z" fill="#b9d049"/>
<path d="M408.1 65.8L409.8 69.5L412.1 67.3L410.4 63.6Z" fill="#87c68b"/>
<path d="M345.9 51.1L347.6 51.6L349.8 51.0L348.1 50.3Z" fill="#cbd63c"/>
<path d="M377.0 53.8L378.7 55.6L380.9 53.8L379.2 52.1Z" fill="#75c2a5"/>
<path d="M439.2 78.2L440.9 80.0L443.2 78.6L441.5 76.8Z" fill="#a5cc60"/>
<path d="M470.4 82.5L472.1 83.9L474.3 82.5L472.6 81.2Z" fill="#aacd59"/>
<path d="M390.6 55.2L392.3 59.2L394.5 57.4L392.8 53.6Z" fill="#70c1ab"/>
<path d="M359.5 52.7L361.2 54.0L363.4 53.2L361.7 52.1Z" fill="#9dca6b"/>
<path d="M421.7 74.9L423.4 78.5L425.6 76.6L423.9 73.0Z" fill="#88c68a"/>
<path d="M452.8 80.1L454.5 81.6L456.8 80.2L455.1 78.8Z" fill="#b8d04a"/>
<path d="M373.0 53.6L374.7 55.4L377.0 53.8L375.3 52.0Z" fill="#77c2a3"/>
<path d="M341.9 53.1L343.6 53.8L345.9 51.1L344.2 50.5Z" fill="#c7d43f"/>
<path d="M404.2 64.6L405.9 68.1L408.1 65.8L406.4 62.4Z" fill="#7ec499"/>
<path d="M435.3 77.9L437.0 79.7L439.2 78.2L437.5 76.5Z" fill="#9bca6e"/>
<path d="M466.4 82.4L468.1 83.8L470.4 82.5L468.6 81.1Z" fill="#aece54"/>
<path d="M355.5 51.8L357.2 53.4L359.5 52.7L357.7 51.4Z" fill="#b6d04b"/>
<path d="M386.6 55.5L388.3 57.1L390.6 55.2L388.9 53.6Z" fill="#6fc1ab"/>
<path d="M448.9 80.1L450.6 81.5L452.8 80.1L451.1 78.7Z" fill="#b2ce4f"/>
<path d="M417.7 73.0L419.4 76.7L421.7 74.9L420.0 71.2Z" fill="#86c58d"/>
<path d="M400.2 63.0L401.9 66.7L404.2 64.6L402.4 61.0Z" fill="#74c2a6"/>
<path d="M431.3 78.2L433.0 80.0L435.3 77.9L433.6 76.2Z" fill="#92c87b"/>
<path d="M462.4 82.1L464.1 83.6L466.4 82.4L464.7 80.9Z" fill="#b2ce4f"/>
<path d="M338.0 54.9L339.7 55.7L341.9 53.1L340.2 52.5Z" fill="#bdd246"/>
<path d="M369.1 54.3L370.8 55.2L373.0 53.6L371.3 52.7Z" fill="#7ac39f"/>
<path d="M476.0 83.8L477.7 85.2L480.0 83.8L478.3 82.3Z" fill="#a3cb63"/>
<path d="M351.5 51.6L353.2 52.3L355.5 51.8L353.8 51.1Z" fill="#c9d53e"/>
<path d="M444.9 80.0L446.6 81.4L448.9 80.1L447.1 78.6Z" fill="#aacd58"/>
<path d="M382.7 55.6L384.4 57.3L386.6 55.5L384.9 53.8Z" fill="#71c1aa"/>
<path d="M413.8 71.1L415.5 74.9L417.7 73.0L416.0 69.3Z" fill="#84c590"/>
<path d="M427.4 78.4L429.1 80.3L431.3 78.2L429.6 76.4Z" fill="#8ac688"/>
<path d="M365.1 54.3L366.8 55.5L369.1 54.3L367.4 53.3Z" fill="#82c493"/>
<path d="M396.2 61.2L397.9 65.0L400.2 63.0L398.5 59.4Z" fill="#6ec0ad"/>
<path d="M458.5 81.6L460.2 83.3L462.4 82.1L460.7 80.5Z" fill="#b6d04c"/>
<path d="M409.8 69.5L411.5 73.2L413.8 71.1L412.1 67.3Z" fill="#80c496"/>
<path d="M440.9 80.0L442.6 81.4L444.9 80.0L443.2 78.6Z" fill="#a2cb64"/>
<path d="M472.1 83.9L473.8 85.3L476.0 83.8L474.3 82.5Z" fill="#a8cc5c"/>
<path d="M347.6 51.6L349.3 52.2L351.5 51.6L349.8 51.0Z" fill="#d1d738"/>
<path d="M378.7 55.6L380.4 57.3L382.7 55.6L380.9 53.8Z" fill="#72c1a8"/>
<path d="M423.4 78.5L425.1 80.4L427.4 78.4L425.6 76.6Z" fill="#83c592"/>
<path d="M361.2 54.0L362.9 55.4L365.1 54.3L363.4 53.2Z" fill="#93c87a"/>
<path d="M392.3 59.2L394.0 63.1L396.2 61.2L394.5 57.4Z" fill="#6ac0b1"/>
<path d="M454.5 81.6L456.2 83.0L458.5 81.6L456.8 80.2Z" fill="#b5cf4c"/>
<path d="M405.9 68.1L407.6 71.7L409.8 69.5L408.1 65.8Z" fill="#78c2a1"/>
<path d="M343.6 53.8L345.3 54.5L347.6 51.6L345.9 51.1Z" fill="#cdd63a"/>
<path d="M374.7 55.4L376.4 57.3L378.7 55.6L377.0 53.8Z" fill="#74c2a6"/>
<path d="M437.0 79.7L438.7 81.4L440.9 80.0L439.2 78.2Z" fill="#9ac970"/>
<path d="M468.1 83.8L469.8 85.3L472.1 83.9L470.4 82.5Z" fill="#abcd58"/>
<path d="M388.3 57.1L390.0 61.0L392.3 59.2L390.6 55.2Z" fill="#6bc0b1"/>
<path d="M357.2 53.4L358.9 54.9L361.2 54.0L359.5 52.7Z" fill="#aacd58"/>
<path d="M450.6 81.5L452.3 82.9L454.5 81.6L452.8 80.1Z" fill="#aece53"/>
<path d="M419.4 76.7L421.1 80.5L423.4 78.5L421.7 74.9Z" fill="#7ec498"/>
<path d="M401.9 66.7L403.6 70.4L405.9 68.1L404.2 64.6Z" fill="#71c1aa"/>
<path d="M433.0 80.0L434.7 81.8L437.0 79.7L435.3 77.9Z" fill="#90c77f"/>
<path d="M339.7 55.7L341.4 56.6L343.6 53.8L341.9 53.1Z" fill="#c2d343"/>
<path d="M370.8 55.2L372.5 57.1L374.7 55.4L373.0 53.6Z" fill="#75c2a5"/>
<path d="M464.1 83.6L465.8 85.1L468.1 83.8L466.4 82.4Z" fill="#afce52"/>
<path d="M353.2 52.3L354.9 54.0L357.2 53.4L355.5 51.8Z" fill="#c4d341"/>
<path d="M384.4 57.3L386.1 59.0L388.3 57.1L386.6 55.5Z" fill="#6ec0ad"/>
<path d="M446.6 81.4L448.3 82.8L450.6 81.5L448.9 80.1Z" fill="#a6cc5e"/>
<path d="M477.7 85.2L479.4 86.7L481.7 85.3L480.0 83.8Z" fill="#9bca6e"/>
<path d="M415.5 74.9L417.2 78.6L419.4 76.7L417.7 73.0Z" fill="#7cc39b"/>
<path d="M366.8 55.5L368.5 56.6L370.8 55.2L369.1 54.3Z" fill="#7bc39d"/>
<path d="M397.9 65.0L399.6 68.8L401.9 66.7L400.2 63.0Z" fill="#6abfb2"/>
<path d="M429.1 80.3L430.8 82.1L433.0 80.0L431.3 78.2Z" fill="#86c58c"/>
<path d="M335.7 57.4L337.4 58.3L339.7 55.7L338.0 54.9Z" fill="#bad149"/>
<path d="M460.2 83.3L461.9 84.9L464.1 83.6L462.4 82.1Z" fill="#b3cf4e"/>
<path d="M473.8 85.3L475.5 86.6L477.7 85.2L476.0 83.8Z" fill="#a3cb63"/>
<path d="M349.3 52.2L351.0 52.7L353.2 52.3L351.5 51.6Z" fill="#d6d933"/>
<path d="M380.4 57.3L382.1 59.1L384.4 57.3L382.7 55.6Z" fill="#6fc1ab"/>
<path d="M411.5 73.2L413.2 76.9L415.5 74.9L413.8 71.1Z" fill="#78c2a0"/>
<path d="M442.6 81.4L444.4 82.8L446.6 81.4L444.9 80.0Z" fill="#9fca69"/>
<path d="M425.1 80.4L426.8 82.3L429.1 80.3L427.4 78.4Z" fill="#7fc497"/>
<path d="M456.2 83.0L457.9 84.6L460.2 83.3L458.5 81.6Z" fill="#b2cf4f"/>
<path d="M362.9 55.4L364.6 56.7L366.8 55.5L365.1 54.3Z" fill="#89c689"/>
<path d="M394.0 63.1L395.7 67.0L397.9 65.0L396.2 61.2Z" fill="#65beb7"/>
<path d="M407.6 71.7L409.3 75.4L411.5 73.2L409.8 69.5Z" fill="#72c1a8"/>
<path d="M438.7 81.4L440.4 82.8L442.6 81.4L440.9 80.0Z" fill="#97c974"/>
<path d="M469.8 85.3L471.5 86.7L473.8 85.3L472.1 83.9Z" fill="#a8cc5c"/>
<path d="M345.3 54.5L347.0 55.2L349.3 52.2L347.6 51.6Z" fill="#d3d836"/>
<path d="M376.4 57.3L378.2 59.1L380.4 57.3L378.7 55.6Z" fill="#71c1aa"/>
<path d="M358.9 54.9L360.6 56.4L362.9 55.4L361.2 54.0Z" fill="#9dca6c"/>
<path d="M390.0 61.0L391.7 64.9L394.0 63.1L392.3 59.2Z" fill="#64beb9"/>
<path d="M421.1 80.5L422.9 82.4L425.1 80.4L423.4 78.5Z" fill="#79c3a0"/>
<path d="M452.3 82.9L454.0 84.3L456.2 83.0L454.5 81.6Z" fill="#aacd58"/>
<path d="M403.6 70.4L405.3 73.9L407.6 71.7L405.9 68.1Z" fill="#6cc0af"/>
<path d="M434.7 81.8L436.4 83.6L438.7 81.4L437.0 79.7Z" fill="#8dc782"/>
<path d="M341.4 56.6L343.1 57.4L345.3 54.5L343.6 53.8Z" fill="#c6d43f"/>
<path d="M372.5 57.1L374.2 59.0L376.4 57.3L374.7 55.4Z" fill="#72c1a8"/>
<path d="M465.8 85.1L467.6 86.7L469.8 85.3L468.1 83.8Z" fill="#abcd57"/>
<path d="M479.4 86.7L481.1 88.1L483.4 86.8L481.7 85.3Z" fill="#94c879"/>
<path d="M386.1 59.0L387.8 62.8L390.0 61.0L388.3 57.1Z" fill="#68bfb4"/>
<path d="M354.9 54.0L356.7 55.7L358.9 54.9L357.2 53.4Z" fill="#b6d04c"/>
<path d="M448.3 82.8L450.0 84.3L452.3 82.9L450.6 81.5Z" fill="#a2cb64"/>
<path d="M417.2 78.6L418.9 82.4L421.1 80.5L419.4 76.7Z" fill="#75c2a5"/>
<path d="M430.8 82.1L432.5 83.9L434.7 81.8L433.0 80.0Z" fill="#83c591"/>
<path d="M368.5 56.6L370.2 58.6L372.5 57.1L370.8 55.2Z" fill="#75c2a5"/>
<path d="M399.6 68.8L401.4 72.7L403.6 70.4L401.9 66.7Z" fill="#65bfb7"/>
<path d="M337.4 58.3L339.1 59.3L341.4 56.6L339.7 55.7Z" fill="#bdd246"/>
<path d="M461.9 84.9L463.6 86.5L465.8 85.1L464.1 83.6Z" fill="#b0ce51"/>
<path d="M382.1 59.1L383.8 60.9L386.1 59.0L384.4 57.3Z" fill="#6dc0af"/>
<path d="M351.0 52.7L352.7 54.6L354.9 54.0L353.2 52.3Z" fill="#d1d738"/>
<path d="M413.2 76.9L414.9 80.6L417.2 78.6L415.5 74.9Z" fill="#72c1a8"/>
<path d="M444.4 82.8L446.1 84.2L448.3 82.8L446.6 81.4Z" fill="#9bca6f"/>
<path d="M475.5 86.6L477.2 88.0L479.4 86.7L477.7 85.2Z" fill="#9cca6c"/>
<path d="M333.5 59.8L335.2 60.9L337.4 58.3L335.7 57.4Z" fill="#b6d04c"/>
<path d="M364.6 56.7L366.3 58.0L368.5 56.6L366.8 55.5Z" fill="#7ec498"/>
<path d="M395.7 67.0L397.4 71.0L399.6 68.8L397.9 65.0Z" fill="#60bdbd"/>
<path d="M426.8 82.3L428.5 84.2L430.8 82.1L429.1 80.3Z" fill="#7bc39d"/>
<path d="M457.9 84.6L459.6 86.1L461.9 84.9L460.2 83.3Z" fill="#afce52"/>
<path d="M471.5 86.7L473.2 88.1L475.5 86.6L473.8 85.3Z" fill="#a3cb62"/>
<path d="M347.0 55.2L348.7 55.9L351.0 52.7L349.3 52.2Z" fill="#d8d932"/>
<path d="M378.2 59.1L379.9 60.9L382.1 59.1L380.4 57.3Z" fill="#6ec0ad"/>
<path d="M409.3 75.4L411.0 79.0L413.2 76.9L411.5 73.2Z" fill="#6dc0ae"/>
<path d="M440.4 82.8L442.1 84.2L444.4 82.8L442.6 81.4Z" fill="#93c87a"/>
<path d="M360.6 56.4L362.3 57.9L364.6 56.7L362.9 55.4Z" fill="#8fc780"/>
<path d="M454.0 84.3L455.7 85.9L457.9 84.6L456.2 83.0Z" fill="#a7cc5d"/>
<path d="M391.7 64.9L393.4 68.7L395.7 67.0L394.0 63.1Z" fill="#5dbdc1"/>
<path d="M422.9 82.4L424.6 84.3L426.8 82.3L425.1 80.4Z" fill="#74c2a6"/>
<path d="M405.3 73.9L407.0 77.5L409.3 75.4L407.6 71.7Z" fill="#67bfb5"/>
<path d="M436.4 83.6L438.1 84.9L440.4 82.8L438.7 81.4Z" fill="#8bc686"/>
<path d="M467.6 86.7L469.3 88.2L471.5 86.7L469.8 85.3Z" fill="#a8cc5c"/>
<path d="M343.1 57.4L344.8 58.3L347.0 55.2L345.3 54.5Z" fill="#cbd63c"/>
<path d="M374.2 59.0L375.9 60.9L378.2 59.1L376.4 57.3Z" fill="#6fc1ab"/>
<path d="M481.1 88.1L482.8 89.5L485.1 88.3L483.4 86.8Z" fill="#8dc783"/>
<path d="M356.7 55.7L358.4 57.4L360.6 56.4L358.9 54.9Z" fill="#a6cc5e"/>
<path d="M387.8 62.8L389.5 66.6L391.7 64.9L390.0 61.0Z" fill="#5fbdbf"/>
<path d="M418.9 82.4L420.6 84.4L422.9 82.4L421.1 80.5Z" fill="#70c1aa"/>
<path d="M450.0 84.3L451.7 85.7L454.0 84.3L452.3 82.9Z" fill="#9fca69"/>
<path d="M401.4 72.7L403.1 76.1L405.3 73.9L403.6 70.4Z" fill="#61bebc"/>
<path d="M432.5 83.9L434.2 85.8L436.4 83.6L434.7 81.8Z" fill="#80c495"/>
<path d="M339.1 59.3L340.8 60.3L343.1 57.4L341.4 56.6Z" fill="#c0d244"/>
<path d="M370.2 58.6L371.9 60.5L374.2 59.0L372.5 57.1Z" fill="#71c1aa"/>
<path d="M463.6 86.5L465.3 88.1L467.6 86.7L465.8 85.1Z" fill="#accd56"/>
<path d="M383.8 60.9L385.5 64.6L387.8 62.8L386.1 59.0Z" fill="#65bfb7"/>
<path d="M477.2 88.0L478.9 89.4L481.1 88.1L479.4 86.7Z" fill="#96c976"/>
<path d="M352.7 54.6L354.4 56.6L356.7 55.7L354.9 54.0Z" fill="#c0d344"/>
<path d="M414.9 80.6L416.6 84.3L418.9 82.4L417.2 78.6Z" fill="#6dc0af"/>
<path d="M446.1 84.2L447.8 85.6L450.0 84.3L448.3 82.8Z" fill="#97c974"/>
<path d="M428.5 84.2L430.2 86.1L432.5 83.9L430.8 82.1Z" fill="#77c2a3"/>
<path d="M366.3 58.0L368.0 60.1L370.2 58.6L368.5 56.6Z" fill="#75c2a5"/>
<path d="M397.4 71.0L399.1 74.9L401.4 72.7L399.6 68.8Z" fill="#5abcc4"/>
<path d="M335.2 60.9L336.9 62.1L339.1 59.3L337.4 58.3Z" fill="#b8d04a"/>
<path d="M459.6 86.1L461.3 87.7L463.6 86.5L461.9 84.9Z" fill="#accd56"/>
<path d="M379.9 60.9L381.6 62.8L383.8 60.9L382.1 59.1Z" fill="#6bc0b0"/>
<path d="M348.7 55.9L350.4 57.7L352.7 54.6L351.0 52.7Z" fill="#d3d836"/>
<path d="M411.0 79.0L412.7 82.6L414.9 80.6L413.2 76.9Z" fill="#68bfb4"/>
<path d="M442.1 84.2L443.8 85.6L446.1 84.2L444.4 82.8Z" fill="#8fc780"/>
<path d="M473.2 88.1L474.9 89.4L477.2 88.0L475.5 86.6Z" fill="#9eca6b"/>
<path d="M362.3 57.9L364.0 59.5L366.3 58.0L364.6 56.7Z" fill="#82c493"/>
<path d="M331.2 62.3L332.9 63.5L335.2 60.9L333.5 59.8Z" fill="#b2cf4f"/>
<path d="M393.4 68.7L395.1 72.6L397.4 71.0L395.7 67.0Z" fill="#56bbc9"/>
<path d="M455.7 85.9L457.4 87.4L459.6 86.1L457.9 84.6Z" fill="#a5cc60"/>
<path d="M424.6 84.3L426.3 86.3L428.5 84.2L426.8 82.3Z" fill="#71c1aa"/>
<path d="M407.0 77.5L408.7 81.1L411.0 79.0L409.3 75.4Z" fill="#62bebb"/>
<path d="M438.1 84.9L439.8 86.2L442.1 84.2L440.4 82.8Z" fill="#87c68b"/>
<path d="M469.3 88.2L471.0 89.5L473.2 88.1L471.5 86.7Z" fill="#a4cb62"/>
<path d="M344.8 58.3L346.5 59.1L348.7 55.9L347.0 55.2Z" fill="#cfd738"/>
<path d="M375.9 60.9L377.6 62.8L379.9 60.9L378.2 59.1Z" fill="#6dc0af"/>
<path d="M358.4 57.4L360.1 59.2L362.3 57.9L360.6 56.4Z" fill="#96c976"/>
<path d="M451.7 85.7L453.4 87.2L455.7 85.9L454.0 84.3Z" fill="#9cca6d"/>
<path d="M482.8 89.5L484.5 91.0L486.8 89.8L485.1 88.3Z" fill="#85c58e"/>
<path d="M389.5 66.6L391.2 70.4L393.4 68.7L391.7 64.9Z" fill="#55bbc9"/>
<path d="M420.6 84.4L422.3 86.4L424.6 84.3L422.9 82.4Z" fill="#6cc0af"/>
<path d="M434.2 85.8L435.9 87.0L438.1 84.9L436.4 83.6Z" fill="#7ec499"/>
<path d="M403.1 76.1L404.8 79.6L407.0 77.5L405.3 73.9Z" fill="#5cbdc2"/>
<path d="M340.8 60.3L342.5 61.3L344.8 58.3L343.1 57.4Z" fill="#c3d342"/>
<path d="M371.9 60.5L373.6 62.5L375.9 60.9L374.2 59.0Z" fill="#6dc0ae"/>
<path d="M465.3 88.1L467.0 89.7L469.3 88.2L467.6 86.7Z" fill="#a8cc5b"/>
<path d="M478.9 89.4L480.6 90.8L482.8 89.5L481.1 88.1Z" fill="#8fc77f"/>
<path d="M385.5 64.6L387.2 68.3L389.5 66.6L387.8 62.8Z" fill="#5abcc4"/>
<path d="M416.6 84.3L418.4 86.3L420.6 84.4L418.9 82.4Z" fill="#68bfb4"/>
<path d="M354.4 56.6L356.1 58.5L358.4 57.4L356.7 55.7Z" fill="#b0ce50"/>
<path d="M447.8 85.6L449.5 87.0L451.7 85.7L450.0 84.3Z" fill="#93c87a"/>
<path d="M399.1 74.9L400.8 78.3L403.1 76.1L401.4 72.7Z" fill="#55bbc9"/>
<path d="M430.2 86.1L431.9 87.9L434.2 85.8L432.5 83.9Z" fill="#74c2a6"/>
<path d="M336.9 62.1L338.6 63.2L340.8 60.3L339.1 59.3Z" fill="#bad149"/>
<path d="M368.0 60.1L369.7 62.1L371.9 60.5L370.2 58.6Z" fill="#6fc1ac"/>
<path d="M461.3 87.7L463.1 89.3L465.3 88.1L463.6 86.5Z" fill="#a8cc5b"/>
<path d="M381.6 62.8L383.3 66.4L385.5 64.6L383.8 60.9Z" fill="#63beba"/>
<path d="M474.9 89.4L476.6 90.7L478.9 89.4L477.2 88.0Z" fill="#98c973"/>
<path d="M350.4 57.7L352.2 59.5L354.4 56.6L352.7 54.6Z" fill="#c2d343"/>
<path d="M412.7 82.6L414.4 86.3L416.6 84.3L414.9 80.6Z" fill="#62bebb"/>
<path d="M443.8 85.6L445.5 87.0L447.8 85.6L446.1 84.2Z" fill="#8bc685"/>
<path d="M364.0 59.5L365.7 61.6L368.0 60.1L366.3 58.0Z" fill="#76c2a4"/>
<path d="M395.1 72.6L396.9 76.5L399.1 74.9L397.4 71.0Z" fill="#4fbad1"/>
<path d="M332.9 63.5L334.6 64.8L336.9 62.1L335.2 60.9Z" fill="#b3cf4e"/>
<path d="M426.3 86.3L428.0 88.2L430.2 86.1L428.5 84.2Z" fill="#6dc0ae"/>
<path d="M457.4 87.4L459.1 89.0L461.3 87.7L459.6 86.1Z" fill="#a3cb63"/>
<path d="M408.7 81.1L410.4 84.6L412.7 82.6L411.0 79.0Z" fill="#5dbdc0"/>
<path d="M439.8 86.2L441.6 87.5L443.8 85.6L442.1 84.2Z" fill="#84c590"/>
<path d="M346.5 59.1L348.2 60.8L350.4 57.7L348.7 55.9Z" fill="#cad53c"/>
<path d="M377.6 62.8L379.3 64.6L381.6 62.8L379.9 60.9Z" fill="#6abfb2"/>
<path d="M471.0 89.5L472.7 90.7L474.9 89.4L473.2 88.1Z" fill="#9fca69"/>
<path d="M360.1 59.2L361.8 60.9L364.0 59.5L362.3 57.9Z" fill="#85c58e"/>
<path d="M391.2 70.4L392.9 74.2L395.1 72.6L393.4 68.7Z" fill="#4cb9d4"/>
<path d="M453.4 87.2L455.1 88.7L457.4 87.4L455.7 85.9Z" fill="#9bca6e"/>
<path d="M422.3 86.4L424.0 88.3L426.3 86.3L424.6 84.3Z" fill="#68bfb4"/>
<path d="M435.9 87.0L437.6 88.2L439.8 86.2L438.1 84.9Z" fill="#7cc39c"/>
<path d="M404.8 79.6L406.5 83.1L408.7 81.1L407.0 77.5Z" fill="#57bcc7"/>
<path d="M342.5 61.3L344.2 62.3L346.5 59.1L344.8 58.3Z" fill="#c6d43f"/>
<path d="M373.6 62.5L375.4 64.5L377.6 62.8L375.9 60.9Z" fill="#69bfb3"/>
<path d="M467.0 89.7L468.7 90.9L471.0 89.5L469.3 88.2Z" fill="#a4cc61"/>
<path d="M356.1 58.5L357.8 60.4L360.1 59.2L358.4 57.4Z" fill="#9cca6d"/>
<path d="M387.2 68.3L388.9 72.1L391.2 70.4L389.5 66.6Z" fill="#4ebad1"/>
<path d="M418.4 86.3L420.1 88.2L422.3 86.4L420.6 84.4Z" fill="#64beb8"/>
<path d="M449.5 87.0L451.2 88.5L453.4 87.2L451.7 85.7Z" fill="#91c87d"/>
<path d="M480.6 90.8L482.3 92.1L484.5 91.0L482.8 89.5Z" fill="#89c689"/>
<path d="M431.9 87.9L433.6 89.1L435.9 87.0L434.2 85.8Z" fill="#72c1a9"/>
<path d="M400.8 78.3L402.5 81.8L404.8 79.6L403.1 76.1Z" fill="#51bace"/>
<path d="M463.1 89.3L464.8 90.9L467.0 89.7L465.3 88.1Z" fill="#a5cc60"/>
<path d="M338.6 63.2L340.3 64.3L342.5 61.3L340.8 60.3Z" fill="#bcd147"/>
<path d="M369.7 62.1L371.4 64.1L373.6 62.5L371.9 60.5Z" fill="#69bfb2"/>
<path d="M476.6 90.7L478.3 92.0L480.6 90.8L478.9 89.4Z" fill="#92c87b"/>
<path d="M383.3 66.4L385.0 70.1L387.2 68.3L385.5 64.6Z" fill="#55bbca"/>
<path d="M414.4 86.3L416.1 88.1L418.4 86.3L416.6 84.3Z" fill="#5ebdbf"/>
<path d="M352.2 59.5L353.9 61.4L356.1 58.5L354.4 56.6Z" fill="#b1ce4f"/>
<path d="M445.5 87.0L447.2 88.3L449.5 87.0L447.8 85.6Z" fill="#87c68b"/>
<path d="M396.9 76.5L398.6 79.9L400.8 78.3L399.1 74.9Z" fill="#49b9d8"/>
<path d="M334.6 64.8L336.3 66.1L338.6 63.2L336.9 62.1Z" fill="#b3cf4e"/>
<path d="M365.7 61.6L367.4 63.7L369.7 62.1L368.0 60.1Z" fill="#6ec0ad"/>
<path d="M428.0 88.2L429.7 90.1L431.9 87.9L430.2 86.1Z" fill="#6ac0b2"/>
<path d="M459.1 89.0L460.8 90.5L463.1 89.3L461.3 87.7Z" fill="#a1cb66"/>
<path d="M410.4 84.6L412.1 88.2L414.4 86.3L412.7 82.6Z" fill="#58bcc6"/>
<path d="M441.6 87.5L443.3 88.8L445.5 87.0L443.8 85.6Z" fill="#81c494"/>
<path d="M472.7 90.7L474.4 92.0L476.6 90.7L474.9 89.4Z" fill="#9ac970"/>
<path d="M379.3 64.6L381.0 68.2L383.3 66.4L381.6 62.8Z" fill="#60bdbd"/>
<path d="M348.2 60.8L349.9 62.5L352.2 59.5L350.4 57.7Z" fill="#bbd148"/>
<path d="M361.8 60.9L363.5 63.1L365.7 61.6L364.0 59.5Z" fill="#76c2a4"/>
<path d="M392.9 74.2L394.6 78.0L396.9 76.5L395.1 72.6Z" fill="#43b7de"/>
<path d="M424.0 88.3L425.7 90.3L428.0 88.2L426.3 86.3Z" fill="#64beb8"/>
<path d="M455.1 88.7L456.8 90.2L459.1 89.0L457.4 87.4Z" fill="#9aca6f"/>
<path d="M437.6 88.2L439.3 89.5L441.6 87.5L439.8 86.2Z" fill="#79c39f"/>
<path d="M375.4 64.5L377.1 66.4L379.3 64.6L377.6 62.8Z" fill="#65bfb7"/>
<path d="M406.5 83.1L408.2 86.6L410.4 84.6L408.7 81.1Z" fill="#52bbcd"/>
<path d="M344.2 62.3L345.9 63.9L348.2 60.8L346.5 59.1Z" fill="#c1d343"/>
<path d="M468.7 90.9L470.4 92.1L472.7 90.7L471.0 89.5Z" fill="#a0cb67"/>
<path d="M388.9 72.1L390.6 75.8L392.9 74.2L391.2 70.4Z" fill="#43b7df"/>
<path d="M357.8 60.4L359.5 62.3L361.8 60.9L360.1 59.2Z" fill="#89c689"/>
<path d="M420.1 88.2L421.8 90.1L424.0 88.3L422.3 86.4Z" fill="#60bebd"/>
<path d="M451.2 88.5L452.9 90.0L455.1 88.7L453.4 87.2Z" fill="#91c87c"/>
<path d="M433.6 89.1L435.3 90.3L437.6 88.2L435.9 87.0Z" fill="#71c1a9"/>
<path d="M464.8 90.9L466.5 92.1L468.7 90.9L467.0 89.7Z" fill="#a2cb65"/>
<path d="M402.5 81.8L404.2 85.2L406.5 83.1L404.8 79.6Z" fill="#4cb9d3"/>
<path d="M340.3 64.3L342.0 65.4L344.2 62.3L342.5 61.3Z" fill="#bdd246"/>
<path d="M371.4 64.1L373.1 66.2L375.4 64.5L373.6 62.5Z" fill="#63beb9"/>
<path d="M353.9 61.4L355.6 63.2L357.8 60.4L356.1 58.5Z" fill="#9dca6b"/>
<path d="M385.0 70.1L386.7 73.7L388.9 72.1L387.2 68.3Z" fill="#47b8da"/>
<path d="M416.1 88.1L417.8 90.0L420.1 88.2L418.4 86.3Z" fill="#5cbdc2"/>
<path d="M447.2 88.3L448.9 89.8L451.2 88.5L449.5 87.0Z" fill="#86c58d"/>
<path d="M478.3 92.0L480.0 93.3L482.3 92.1L480.6 90.8Z" fill="#8cc784"/>
<path d="M398.6 79.9L400.3 83.4L402.5 81.8L400.8 78.3Z" fill="#44b8dd"/>
<path d="M336.3 66.1L338.0 67.4L340.3 64.3L338.6 63.2Z" fill="#b4cf4d"/>
<path d="M429.7 90.1L431.4 91.2L433.6 89.1L431.9 87.9Z" fill="#68bfb4"/>
<path d="M460.8 90.5L462.5 92.1L464.8 90.9L463.1 89.3Z" fill="#9fca69"/>
<path d="M367.4 63.7L369.1 65.8L371.4 64.1L369.7 62.1Z" fill="#66bfb7"/>
<path d="M412.1 88.2L413.8 90.0L416.1 88.1L414.4 86.3Z" fill="#55bbca"/>
<path d="M474.4 92.0L476.1 93.3L478.3 92.0L476.6 90.7Z" fill="#95c877"/>
<path d="M443.3 88.8L445.0 90.2L447.2 88.3L445.5 87.0Z" fill="#7dc499"/>
<path d="M349.9 62.5L351.6 64.2L353.9 61.4L352.2 59.5Z" fill="#abcd58"/>
<path d="M381.0 68.2L382.7 71.8L385.0 70.1L383.3 66.4Z" fill="#50bacf"/>
<path d="M394.6 78.0L396.3 81.5L398.6 79.9L396.9 76.5Z" fill="#3cb5e6"/>
<path d="M363.5 63.1L365.2 65.2L367.4 63.7L365.7 61.6Z" fill="#6cc0af"/>
<path d="M425.7 90.3L427.4 92.3L429.7 90.1L428.0 88.2Z" fill="#60bdbd"/>
<path d="M456.8 90.2L458.5 91.7L460.8 90.5L459.1 89.0Z" fill="#99c971"/>
<path d="M377.1 66.4L378.8 70.0L381.0 68.2L379.3 64.6Z" fill="#5abcc4"/>
<path d="M439.3 89.5L441.0 90.7L443.3 88.8L441.6 87.5Z" fill="#77c2a2"/>
<path d="M408.2 86.6L409.9 90.1L412.1 88.2L410.4 84.6Z" fill="#4ebad2"/>
<path d="M345.9 63.9L347.6 65.5L349.9 62.5L348.2 60.8Z" fill="#b4cf4d"/>
<path d="M470.4 92.1L472.1 93.3L474.4 92.0L472.7 90.7Z" fill="#9cca6d"/>
<path d="M390.6 75.8L392.4 79.5L394.6 78.0L392.9 74.2Z" fill="#3cb3e4"/>
<path d="M421.8 90.1L423.5 92.1L425.7 90.3L424.0 88.3Z" fill="#5cbdc1"/>
<path d="M359.5 62.3L361.2 64.6L363.5 63.1L361.8 60.9Z" fill="#77c2a3"/>
<path d="M452.9 90.0L454.6 91.5L456.8 90.2L455.1 88.7Z" fill="#92c87c"/>
<path d="M435.3 90.3L437.1 91.5L439.3 89.5L437.6 88.2Z" fill="#71c1aa"/>
<path d="M342.0 65.4L343.7 67.0L345.9 63.9L344.2 62.3Z" fill="#b8d04a"/>
<path d="M373.1 66.2L374.8 68.2L377.1 66.4L375.4 64.5Z" fill="#5dbdc0"/>
<path d="M404.2 85.2L405.9 88.6L408.2 86.6L406.5 83.1Z" fill="#48b8d9"/>
<path d="M466.5 92.1L468.2 93.4L470.4 92.1L468.7 90.9Z" fill="#9eca6b"/>
<path d="M386.7 73.7L388.4 77.4L390.6 75.8L388.9 72.1Z" fill="#3cb4e5"/>
<path d="M355.6 63.2L357.3 65.0L359.5 62.3L357.8 60.4Z" fill="#89c689"/>
<path d="M417.8 90.0L419.5 91.9L421.8 90.1L420.1 88.2Z" fill="#59bcc5"/>
<path d="M448.9 89.8L450.6 91.3L452.9 90.0L451.2 88.5Z" fill="#87c68b"/>
<path d="M462.5 92.1L464.2 93.4L466.5 92.1L464.8 90.9Z" fill="#9cca6d"/>
<path d="M400.3 83.4L402.0 86.9L404.2 85.2L402.5 81.8Z" fill="#3fb7e3"/>
<path d="M338.0 67.4L339.7 68.6L342.0 65.4L340.3 64.3Z" fill="#b4cf4d"/>
<path d="M369.1 65.8L370.9 67.9L373.1 66.2L371.4 64.1Z" fill="#5ebdc0"/>
<path d="M431.4 91.2L433.1 92.3L435.3 90.3L433.6 89.1Z" fill="#68bfb3"/>
<path d="M413.8 90.0L415.6 91.9L417.8 90.0L416.1 88.1Z" fill="#53bbcc"/>
<path d="M445.0 90.2L446.7 91.6L448.9 89.8L447.2 88.3Z" fill="#7dc39a"/>
<path d="M351.6 64.2L353.3 65.9L355.6 63.2L353.9 61.4Z" fill="#98c972"/>
<path d="M476.1 93.3L477.8 94.5L480.0 93.3L478.3 92.0Z" fill="#90c77f"/>
<path d="M382.7 71.8L384.4 75.4L386.7 73.7L385.0 70.1Z" fill="#40b7e2"/>
<path d="M396.3 81.5L398.0 85.1L400.3 83.4L398.6 79.9Z" fill="#3cb1e3"/>
<path d="M427.4 92.3L429.1 93.3L431.4 91.2L429.7 90.1Z" fill="#5fbdbf"/>
<path d="M458.5 91.7L460.3 93.2L462.5 92.1L460.8 90.5Z" fill="#98c972"/>
<path d="M365.2 65.2L366.9 67.4L369.1 65.8L367.4 63.7Z" fill="#62bebb"/>
<path d="M409.9 90.1L411.6 91.9L413.8 90.0L412.1 88.2Z" fill="#4bb9d5"/>
<path d="M378.8 70.0L380.5 73.6L382.7 71.8L381.0 68.2Z" fill="#47b8da"/>
<path d="M441.0 90.7L442.7 92.0L445.0 90.2L443.3 88.8Z" fill="#75c2a5"/>
<path d="M472.1 93.3L473.8 94.5L476.1 93.3L474.4 92.0Z" fill="#97c974"/>
<path d="M347.6 65.5L349.4 67.1L351.6 64.2L349.9 62.5Z" fill="#a4cc62"/>
<path d="M392.4 79.5L394.1 83.1L396.3 81.5L394.6 78.0Z" fill="#3cace1"/>
<path d="M423.5 92.1L425.2 94.0L427.4 92.3L425.7 90.3Z" fill="#59bcc5"/>
<path d="M361.2 64.6L362.9 66.8L365.2 65.2L363.5 63.1Z" fill="#6ac0b1"/>
<path d="M454.6 91.5L456.3 92.9L458.5 91.7L456.8 90.2Z" fill="#92c87c"/>
<path d="M374.8 68.2L376.5 71.8L378.8 70.0L377.1 66.4Z" fill="#50bad0"/>
<path d="M437.1 91.5L438.8 92.6L441.0 90.7L439.3 89.5Z" fill="#70c1ab"/>
<path d="M468.2 93.4L469.9 94.7L472.1 93.3L470.4 92.1Z" fill="#9ac970"/>
<path d="M343.7 67.0L345.4 68.5L347.6 65.5L345.9 63.9Z" fill="#accd56"/>
<path d="M405.9 88.6L407.6 92.1L409.9 90.1L408.2 86.6Z" fill="#43b8de"/>
<path d="M388.4 77.4L390.1 81.1L392.4 79.5L390.6 75.8Z" fill="#3cabe0"/>
<path d="M419.5 91.9L421.2 93.8L423.5 92.1L421.8 90.1Z" fill="#56bbc8"/>
<path d="M357.3 65.0L359.0 67.3L361.2 64.6L359.5 62.3Z" fill="#76c2a4"/>
<path d="M450.6 91.3L452.3 92.7L454.6 91.5L452.9 90.0Z" fill="#89c689"/>
<path d="M370.9 67.9L372.6 70.0L374.8 68.2L373.1 66.2Z" fill="#56bbc9"/>
<path d="M339.7 68.6L341.4 70.0L343.7 67.0L342.0 65.4Z" fill="#b0ce51"/>
<path d="M402.0 86.9L403.7 90.4L405.9 88.6L404.2 85.2Z" fill="#3cb4e5"/>
<path d="M433.1 92.3L434.8 93.4L437.1 91.5L435.3 90.3Z" fill="#69bfb3"/>
<path d="M464.2 93.4L465.9 94.8L468.2 93.4L466.5 92.1Z" fill="#98c973"/>
<path d="M415.6 91.9L417.3 93.7L419.5 91.9L417.8 90.0Z" fill="#52bacd"/>
<path d="M446.7 91.6L448.4 93.1L450.6 91.3L448.9 89.8Z" fill="#7fc497"/>
<path d="M353.3 65.9L355.0 67.6L357.3 65.0L355.6 63.2Z" fill="#86c58d"/>
<path d="M384.4 75.4L386.1 79.0L388.4 77.4L386.7 73.7Z" fill="#3caee2"/>
<path d="M460.3 93.2L462.0 94.7L464.2 93.4L462.5 92.1Z" fill="#96c976"/>
<path d="M398.0 85.1L399.7 88.6L402.0 86.9L400.3 83.4Z" fill="#3cade1"/>
<path d="M366.9 67.4L368.6 69.6L370.9 67.9L369.1 65.8Z" fill="#58bcc6"/>
<path d="M429.1 93.3L430.8 94.4L433.1 92.3L431.4 91.2Z" fill="#60bdbd"/>
<path d="M442.7 92.0L444.4 93.5L446.7 91.6L445.0 90.2Z" fill="#75c2a5"/>
<path d="M411.6 91.9L413.3 93.7L415.6 91.9L413.8 90.0Z" fill="#4bb9d5"/>
<path d="M349.4 67.1L351.1 68.7L353.3 65.9L351.6 64.2Z" fill="#93c879"/>
<path d="M380.5 73.6L382.2 77.2L384.4 75.4L382.7 71.8Z" fill="#3cb1e3"/>
<path d="M473.8 94.5L475.5 95.7L477.8 94.5L476.1 93.3Z" fill="#93c87a"/>
<path d="M394.1 83.1L395.8 86.7L398.0 85.1L396.3 81.5Z" fill="#3ba7de"/>
<path d="M425.2 94.0L426.9 95.1L429.1 93.3L427.4 92.3Z" fill="#57bcc7"/>
<path d="M456.3 92.9L458.0 94.4L460.3 93.2L458.5 91.7Z" fill="#92c87c"/>
<path d="M362.9 66.8L364.6 69.1L366.9 67.4L365.2 65.2Z" fill="#5ebdbf"/>
<path d="M469.9 94.7L471.6 96.0L473.8 94.5L472.1 93.3Z" fill="#96c976"/>
<path d="M407.6 92.1L409.3 93.8L411.6 91.9L409.9 90.1Z" fill="#42b7e0"/>
<path d="M345.4 68.5L347.1 70.0L349.4 67.1L347.6 65.5Z" fill="#9dca6b"/>
<path d="M376.5 71.8L378.2 75.4L380.5 73.6L378.8 70.0Z" fill="#3cb5e5"/>
<path d="M438.8 92.6L440.5 93.8L442.7 92.0L441.0 90.7Z" fill="#6fc1ac"/>
<path d="M390.1 81.1L391.8 84.7L394.1 83.1L392.4 79.5Z" fill="#3ba3dc"/>
<path d="M421.2 93.8L422.9 95.7L425.2 94.0L423.5 92.1Z" fill="#54bbcb"/>
<path d="M359.0 67.3L360.7 69.6L362.9 66.8L361.2 64.6Z" fill="#69bfb3"/>
<path d="M452.3 92.7L454.0 94.2L456.3 92.9L454.6 91.5Z" fill="#8ac687"/>
<path d="M372.6 70.0L374.3 73.6L376.5 71.8L374.8 68.2Z" fill="#45b8db"/>
<path d="M465.9 94.8L467.6 96.1L469.9 94.7L468.2 93.4Z" fill="#94c879"/>
<path d="M341.4 70.0L343.1 71.4L345.4 68.5L343.7 67.0Z" fill="#a3cb63"/>
<path d="M403.7 90.4L405.4 93.9L407.6 92.1L405.9 88.6Z" fill="#3cb1e3"/>
<path d="M434.8 93.4L436.5 94.5L438.8 92.6L437.1 91.5Z" fill="#69bfb3"/>
<path d="M417.3 93.7L419.0 95.6L421.2 93.8L419.5 91.9Z" fill="#50bacf"/>
<path d="M448.4 93.1L450.1 94.6L452.3 92.7L450.6 91.3Z" fill="#81c495"/>
<path d="M355.0 67.6L356.7 70.0L359.0 67.3L357.3 65.0Z" fill="#74c2a6"/>
<path d="M386.1 79.0L387.8 82.6L390.1 81.1L388.4 77.4Z" fill="#3ba3dc"/>
<path d="M368.6 69.6L370.3 71.8L372.6 70.0L370.9 67.9Z" fill="#4ebad1"/>
<path d="M399.7 88.6L401.4 92.1L403.7 90.4L402.0 86.9Z" fill="#3ca8df"/>
<path d="M430.8 94.4L432.5 95.4L434.8 93.4L433.1 92.3Z" fill="#61bebc"/>
<path d="M462.0 94.7L463.7 96.1L465.9 94.8L464.2 93.4Z" fill="#92c87b"/>
<path d="M444.4 93.5L446.1 94.9L448.4 93.1L446.7 91.6Z" fill="#77c2a3"/>
<path d="M382.2 77.2L383.9 80.8L386.1 79.0L384.4 75.4Z" fill="#3ba4dd"/>
<path d="M413.3 93.7L415.0 95.5L417.3 93.7L415.6 91.9Z" fill="#4ab9d6"/>
<path d="M351.1 68.7L352.8 70.3L355.0 67.6L353.3 65.9Z" fill="#83c591"/>
<path d="M395.8 86.7L397.5 90.3L399.7 88.6L398.0 85.1Z" fill="#3ba1db"/>
<path d="M426.9 95.1L428.6 96.1L430.8 94.4L429.1 93.3Z" fill="#59bcc5"/>
<path d="M458.0 94.4L459.7 95.9L462.0 94.7L460.3 93.2Z" fill="#90c77e"/>
<path d="M364.6 69.1L366.4 71.3L368.6 69.6L366.9 67.4Z" fill="#52bbcd"/>
<path d="M440.5 93.8L442.2 95.3L444.4 93.5L442.7 92.0Z" fill="#6fc1ab"/>
<path d="M409.3 93.8L411.1 95.6L413.3 93.7L411.6 91.9Z" fill="#42b7df"/>
<path d="M347.1 70.0L348.8 71.5L351.1 68.7L349.4 67.1Z" fill="#8fc780"/>
<path d="M378.2 75.4L379.9 78.9L382.2 77.2L380.5 73.6Z" fill="#3ba6de"/>
<path d="M471.6 96.0L473.3 97.3L475.5 95.7L473.8 94.5Z" fill="#92c87b"/>
<path d="M391.8 84.7L393.5 88.3L395.8 86.7L394.1 83.1Z" fill="#3b9dd9"/>
<path d="M422.9 95.7L424.6 96.8L426.9 95.1L425.2 94.0Z" fill="#53bbcc"/>
<path d="M454.0 94.2L455.8 95.6L458.0 94.4L456.3 92.9Z" fill="#8cc685"/>
<path d="M360.7 69.6L362.4 71.9L364.6 69.1L362.9 66.8Z" fill="#5cbdc2"/>
<path d="M467.6 96.1L469.3 97.5L471.6 96.0L469.9 94.7Z" fill="#90c77e"/>
<path d="M405.4 93.9L407.1 95.6L409.3 93.8L407.6 92.1Z" fill="#3cb0e3"/>
<path d="M374.3 73.6L376.0 77.1L378.2 75.4L376.5 71.8Z" fill="#3cace1"/>
<path d="M343.1 71.4L344.9 72.8L347.1 70.0L345.4 68.5Z" fill="#96c975"/>
<path d="M436.5 94.5L438.2 95.6L440.5 93.8L438.8 92.6Z" fill="#69bfb3"/>
<path d="M419.0 95.6L420.7 97.4L422.9 95.7L421.2 93.8Z" fill="#4fbad1"/>
<path d="M387.8 82.6L389.6 86.3L391.8 84.7L390.1 81.1Z" fill="#3b9ad7"/>
<path d="M450.1 94.6L451.8 96.0L454.0 94.2L452.3 92.7Z" fill="#83c592"/>
<path d="M356.7 70.0L358.4 72.4L360.7 69.6L359.0 67.3Z" fill="#67bfb5"/>
<path d="M370.3 71.8L372.0 75.3L374.3 73.6L372.6 70.0Z" fill="#3cb6e6"/>
<path d="M463.7 96.1L465.4 97.5L467.6 96.1L465.9 94.8Z" fill="#8ec781"/>
<path d="M401.4 92.1L403.1 95.7L405.4 93.9L403.7 90.4Z" fill="#3ba4dd"/>
<path d="M432.5 95.4L434.3 96.4L436.5 94.5L434.8 93.4Z" fill="#62bebb"/>
<path d="M415.0 95.5L416.7 97.3L419.0 95.6L417.3 93.7Z" fill="#4ab9d6"/>
<path d="M383.9 80.8L385.6 84.3L387.8 82.6L386.1 79.0Z" fill="#3b98d6"/>
<path d="M446.1 94.9L447.8 96.4L450.1 94.6L448.4 93.1Z" fill="#79c3a0"/>
<path d="M352.8 70.3L354.5 72.7L356.7 70.0L355.0 67.6Z" fill="#73c1a8"/>
<path d="M397.5 90.3L399.2 93.9L401.4 92.1L399.7 88.6Z" fill="#3b9cd9"/>
<path d="M428.6 96.1L430.3 97.2L432.5 95.4L430.8 94.4Z" fill="#5abcc4"/>
<path d="M366.4 71.3L368.1 73.6L370.3 71.8L368.6 69.6Z" fill="#46b8da"/>
<path d="M459.7 95.9L461.4 97.4L463.7 96.1L462.0 94.7Z" fill="#8cc784"/>
<path d="M442.2 95.3L443.9 96.8L446.1 94.9L444.4 93.5Z" fill="#71c1aa"/>
<path d="M348.8 71.5L350.5 73.0L352.8 70.3L351.1 68.7Z" fill="#80c495"/>
<path d="M379.9 78.9L381.6 82.5L383.9 80.8L382.2 77.2Z" fill="#3b98d6"/>
<path d="M411.1 95.6L412.8 97.3L415.0 95.5L413.3 93.7Z" fill="#43b8de"/>
<path d="M393.5 88.3L395.2 92.0L397.5 90.3L395.8 86.7Z" fill="#3b96d6"/>
<path d="M424.6 96.8L426.3 97.9L428.6 96.1L426.9 95.1Z" fill="#54bbcb"/>
<path d="M455.8 95.6L457.5 97.2L459.7 95.9L458.0 94.4Z" fill="#8ac687"/>
<path d="M362.4 71.9L364.1 74.2L366.4 71.3L364.6 69.1Z" fill="#4ebad1"/>
<path d="M407.1 95.6L408.8 97.3L411.1 95.6L409.3 93.8Z" fill="#3cb2e4"/>
<path d="M344.9 72.8L346.6 74.2L348.8 71.5L347.1 70.0Z" fill="#8ac687"/>
<path d="M376.0 77.1L377.7 80.7L379.9 78.9L378.2 75.4Z" fill="#3b9bd8"/>
<path d="M438.2 95.6L439.9 97.1L442.2 95.3L440.5 93.8Z" fill="#6abfb2"/>
<path d="M469.3 97.5L471.0 98.8L473.3 97.3L471.6 96.0Z" fill="#8cc784"/>
<path d="M420.7 97.4L422.4 98.5L424.6 96.8L422.9 95.7Z" fill="#4ebad1"/>
<path d="M451.8 96.0L453.5 97.5L455.8 95.6L454.0 94.2Z" fill="#84c58f"/>
<path d="M389.6 86.3L391.3 90.0L393.5 88.3L391.8 84.7Z" fill="#3b92d4"/>
<path d="M358.4 72.4L360.1 74.7L362.4 71.9L360.7 69.6Z" fill="#59bcc5"/>
<path d="M465.4 97.5L467.1 98.9L469.3 97.5L467.6 96.1Z" fill="#8ac687"/>
<path d="M403.1 95.7L404.8 97.4L407.1 95.6L405.4 93.9Z" fill="#3ba3dc"/>
<path d="M372.0 75.3L373.7 78.9L376.0 77.1L374.3 73.6Z" fill="#3ba3dc"/>
<path d="M434.3 96.4L436.0 97.4L438.2 95.6L436.5 94.5Z" fill="#63beba"/>
<path d="M385.6 84.3L387.3 88.0L389.6 86.3L387.8 82.6Z" fill="#3b8dd1"/>
<path d="M416.7 97.3L418.4 99.1L420.7 97.4L419.0 95.6Z" fill="#4ab9d6"/>
<path d="M447.8 96.4L449.5 97.9L451.8 96.0L450.1 94.6Z" fill="#7bc39d"/>
<path d="M354.5 72.7L356.2 75.1L358.4 72.4L356.7 70.0Z" fill="#65beb7"/>
<path d="M368.1 73.6L369.8 77.1L372.0 75.3L370.3 71.8Z" fill="#3cafe2"/>
<path d="M399.2 93.9L400.9 97.5L403.1 95.7L401.4 92.1Z" fill="#3b97d6"/>
<path d="M430.3 97.2L432.0 98.2L434.3 96.4L432.5 95.4Z" fill="#5bbcc2"/>
<path d="M461.4 97.4L463.1 98.9L465.4 97.5L463.7 96.1Z" fill="#88c689"/>
<path d="M412.8 97.3L414.5 99.0L416.7 97.3L415.0 95.5Z" fill="#44b8dd"/>
<path d="M350.5 73.0L352.2 75.4L354.5 72.7L352.8 70.3Z" fill="#71c1aa"/>
<path d="M381.6 82.5L383.3 86.1L385.6 84.3L383.9 80.8Z" fill="#3a89cf"/>
<path d="M443.9 96.8L445.6 98.3L447.8 96.4L446.1 94.9Z" fill="#72c1a8"/>
<path d="M395.2 92.0L396.9 95.6L399.2 93.9L397.5 90.3Z" fill="#3b90d2"/>
<path d="M426.3 97.9L428.0 99.0L430.3 97.2L428.6 96.1Z" fill="#55bbca"/>
<path d="M364.1 74.2L365.8 76.5L368.1 73.6L366.4 71.3Z" fill="#41b7e0"/>
<path d="M457.5 97.2L459.2 98.8L461.4 97.4L459.7 95.9Z" fill="#86c58c"/>
<path d="M377.7 80.7L379.4 84.3L381.6 82.5L379.9 78.9Z" fill="#3b8bd0"/>
<path d="M346.6 74.2L348.3 75.6L350.5 73.0L348.8 71.5Z" fill="#7dc49a"/>
<path d="M408.8 97.3L410.5 99.0L412.8 97.3L411.1 95.6Z" fill="#3cb4e5"/>
<path d="M439.9 97.1L441.6 98.6L443.9 96.8L442.2 95.3Z" fill="#6bc0b0"/>
<path d="M422.4 98.5L424.1 99.6L426.3 97.9L424.6 96.8Z" fill="#4fbad0"/>
<path d="M453.5 97.5L455.2 98.9L457.5 97.2L455.8 95.6Z" fill="#84c590"/>
<path d="M391.3 90.0L393.0 93.7L395.2 92.0L393.5 88.3Z" fill="#3b8bd0"/>
<path d="M360.1 74.7L361.8 77.1L364.1 74.2L362.4 71.9Z" fill="#4cb9d4"/>
<path d="M404.8 97.4L406.5 99.1L408.8 97.3L407.1 95.6Z" fill="#3ba7de"/>
<path d="M373.7 78.9L375.4 82.5L377.7 80.7L376.0 77.1Z" fill="#3b91d3"/>
<path d="M436.0 97.4L437.7 98.9L439.9 97.1L438.2 95.6Z" fill="#64beb9"/>
<path d="M467.1 98.9L468.8 100.4L471.0 98.8L469.3 97.5Z" fill="#86c58c"/>
<path d="M418.4 99.1L420.1 100.2L422.4 98.5L420.7 97.4Z" fill="#4ab9d6"/>
<path d="M387.3 88.0L389.0 91.7L391.3 90.0L389.6 86.3Z" fill="#3a86cd"/>
<path d="M449.5 97.9L451.2 99.4L453.5 97.5L451.8 96.0Z" fill="#7dc39a"/>
<path d="M356.2 75.1L357.9 77.6L360.1 74.7L358.4 72.4Z" fill="#57bcc7"/>
<path d="M400.9 97.5L402.6 99.2L404.8 97.4L403.1 95.7Z" fill="#3b97d6"/>
<path d="M463.1 98.9L464.8 100.4L467.1 98.9L465.4 97.5Z" fill="#84c58f"/>
<path d="M369.8 77.1L371.5 80.7L373.7 78.9L372.0 75.3Z" fill="#3b9ad8"/>
<path d="M432.0 98.2L433.7 99.3L436.0 97.4L434.3 96.4Z" fill="#5dbdc1"/>
<path d="M383.3 86.1L385.1 89.7L387.3 88.0L385.6 84.3Z" fill="#3a7ec9"/>
<path d="M414.5 99.0L416.2 100.8L418.4 99.1L416.7 97.3Z" fill="#45b8dc"/>
<path d="M352.2 75.4L353.9 77.9L356.2 75.1L354.5 72.7Z" fill="#63beba"/>
<path d="M445.6 98.3L447.3 99.8L449.5 97.9L447.8 96.4Z" fill="#74c2a6"/>
<path d="M365.8 76.5L367.5 80.1L369.8 77.1L368.1 73.6Z" fill="#3caae0"/>
<path d="M396.9 95.6L398.6 99.3L400.9 97.5L399.2 93.9Z" fill="#3a8acf"/>
<path d="M428.0 99.0L429.8 100.0L432.0 98.2L430.3 97.2Z" fill="#56bbc8"/>
<path d="M459.2 98.8L460.9 100.3L463.1 98.9L461.4 97.4Z" fill="#83c592"/>
<path d="M410.5 99.0L412.2 100.8L414.5 99.0L412.8 97.3Z" fill="#3cb6e6"/>
<path d="M379.4 84.3L381.1 87.8L383.3 86.1L381.6 82.5Z" fill="#3a7bc7"/>
<path d="M348.3 75.6L350.0 78.2L352.2 75.4L350.5 73.0Z" fill="#70c1ab"/>
<path d="M441.6 98.6L443.3 100.1L445.6 98.3L443.9 96.8Z" fill="#6dc0af"/>
<path d="M424.1 99.6L425.8 100.7L428.0 99.0L426.3 97.9Z" fill="#50bacf"/>
<path d="M455.2 98.9L456.9 100.3L459.2 98.8L457.5 97.2Z" fill="#80c496"/>
<path d="M361.8 77.1L363.6 79.4L365.8 76.5L364.1 74.2Z" fill="#3eb6e3"/>
<path d="M393.0 93.7L394.7 97.4L396.9 95.6L395.2 92.0Z" fill="#3a84cc"/>
<path d="M375.4 82.5L377.1 86.0L379.4 84.3L377.7 80.7Z" fill="#3a7ec9"/>
<path d="M406.5 99.1L408.3 100.8L410.5 99.0L408.8 97.3Z" fill="#3cabe0"/>
<path d="M437.7 98.9L439.4 100.5L441.6 98.6L439.9 97.1Z" fill="#65bfb7"/>
<path d="M451.2 99.4L453.0 100.6L455.2 98.9L453.5 97.5Z" fill="#7cc39b"/>
<path d="M420.1 100.2L421.8 101.4L424.1 99.6L422.4 98.5Z" fill="#4ab9d6"/>
<path d="M389.0 91.7L390.7 95.3L393.0 93.7L391.3 90.0Z" fill="#3a7ec9"/>
<path d="M357.9 77.6L359.6 80.0L361.8 77.1L360.1 74.7Z" fill="#49b9d7"/>
<path d="M402.6 99.2L404.3 100.8L406.5 99.1L404.8 97.4Z" fill="#3b9cd9"/>
<path d="M433.7 99.3L435.4 100.8L437.7 98.9L436.0 97.4Z" fill="#5ebdbf"/>
<path d="M371.5 80.7L373.2 84.2L375.4 82.5L373.7 78.9Z" fill="#3a86cd"/>
<path d="M464.8 100.4L466.5 101.9L468.8 100.4L467.1 98.9Z" fill="#81c495"/>
<path d="M416.2 100.8L417.9 102.0L420.1 100.2L418.4 99.1Z" fill="#45b8db"/>
<path d="M385.1 89.7L386.8 93.4L389.0 91.7L387.3 88.0Z" fill="#3979c6"/>
<path d="M447.3 99.8L449.0 101.3L451.2 99.4L449.5 97.9Z" fill="#75c2a5"/>
<path d="M353.9 77.9L355.6 80.4L357.9 77.6L356.2 75.1Z" fill="#55bbca"/>
<path d="M398.6 99.3L400.3 100.9L402.6 99.2L400.9 97.5Z" fill="#3a8acf"/>
<path d="M460.9 100.3L462.6 101.9L464.8 100.4L463.1 98.9Z" fill="#7fc497"/>
<path d="M367.5 80.1L369.2 83.7L371.5 80.7L369.8 77.1Z" fill="#3b94d4"/>
<path d="M429.8 100.0L431.5 101.1L433.7 99.3L432.0 98.2Z" fill="#57bcc7"/>
<path d="M381.1 87.8L382.8 91.4L385.1 89.7L383.3 86.1Z" fill="#3875c3"/>
<path d="M412.2 100.8L413.9 102.5L416.2 100.8L414.5 99.0Z" fill="#3eb6e3"/>
<path d="M350.0 78.2L351.7 80.7L353.9 77.9L352.2 75.4Z" fill="#61bebc"/>
<path d="M443.3 100.1L445.0 101.6L447.3 99.8L445.6 98.3Z" fill="#6ec0ad"/>
<path d="M425.8 100.7L427.5 101.9L429.8 100.0L428.0 99.0Z" fill="#51bace"/>
<path d="M456.9 100.3L458.6 101.7L460.9 100.3L459.2 98.8Z" fill="#7cc39b"/>
<path d="M363.6 79.4L365.3 83.1L367.5 80.1L365.8 76.5Z" fill="#3ba7de"/>
<path d="M394.7 97.4L396.4 101.1L398.6 99.3L396.9 95.6Z" fill="#3a7dc8"/>
<path d="M408.3 100.8L410.0 102.5L412.2 100.8L410.5 99.0Z" fill="#3caee2"/>
<path d="M377.1 86.0L378.8 89.6L381.1 87.8L379.4 84.3Z" fill="#3874c2"/>
<path d="M439.4 100.5L441.1 102.0L443.3 100.1L441.6 98.6Z" fill="#67bfb5"/>
<path d="M421.8 101.4L423.5 102.5L425.8 100.7L424.1 99.6Z" fill="#4bb9d5"/>
<path d="M359.6 80.0L361.3 82.4L363.6 79.4L361.8 77.1Z" fill="#3cb6e6"/>
<path d="M390.7 95.3L392.4 99.0L394.7 97.4L393.0 93.7Z" fill="#3979c6"/>
<path d="M453.0 100.6L454.7 101.8L456.9 100.3L455.2 98.9Z" fill="#79c3a0"/>
<path d="M373.2 84.2L374.9 87.8L377.1 86.0L375.4 82.5Z" fill="#3977c4"/>
<path d="M404.3 100.8L406.0 102.5L408.3 100.8L406.5 99.1Z" fill="#3ba1db"/>
<path d="M435.4 100.8L437.1 102.3L439.4 100.5L437.7 98.9Z" fill="#5fbdbe"/>
<path d="M449.0 101.3L450.7 102.3L453.0 100.6L451.2 99.4Z" fill="#75c2a5"/>
<path d="M417.9 102.0L419.6 103.1L421.8 101.4L420.1 100.2Z" fill="#46b8db"/>
<path d="M386.8 93.4L388.5 97.0L390.7 95.3L389.0 91.7Z" fill="#3875c3"/>
<path d="M355.6 80.4L357.3 82.9L359.6 80.0L357.9 77.6Z" fill="#47b8da"/>
<path d="M400.3 100.9L402.0 102.6L404.3 100.8L402.6 99.2Z" fill="#3b91d3"/>
<path d="M431.5 101.1L433.2 102.6L435.4 100.8L433.7 99.3Z" fill="#58bcc6"/>
<path d="M369.2 83.7L370.9 87.3L373.2 84.2L371.5 80.7Z" fill="#3a7ec9"/>
<path d="M462.6 101.9L464.3 103.5L466.5 101.9L464.8 100.4Z" fill="#7bc39d"/>
<path d="M413.9 102.5L415.6 103.7L417.9 102.0L416.2 100.8Z" fill="#40b7e2"/>
<path d="M382.8 91.4L384.5 95.1L386.8 93.4L385.1 89.7Z" fill="#3771c0"/>
<path d="M351.7 80.7L353.4 83.2L355.6 80.4L353.9 77.9Z" fill="#53bbcc"/>
<path d="M445.0 101.6L446.7 103.1L449.0 101.3L447.3 99.8Z" fill="#6fc1ab"/>
<path d="M458.6 101.7L460.3 103.0L462.6 101.9L460.9 100.3Z" fill="#79c3a0"/>
<path d="M427.5 101.9L429.2 103.0L431.5 101.1L429.8 100.0Z" fill="#51bace"/>
<path d="M396.4 101.1L398.1 102.7L400.3 100.9L398.6 99.3Z" fill="#3a7dc9"/>
<path d="M365.3 83.1L367.0 86.7L369.2 83.7L367.5 80.1Z" fill="#3b90d2"/>
<path d="M378.8 89.6L380.5 93.2L382.8 91.4L381.1 87.8Z" fill="#366dbd"/>
<path d="M410.0 102.5L411.7 104.2L413.9 102.5L412.2 100.8Z" fill="#3cb2e4"/>
<path d="M441.1 102.0L442.8 103.5L445.0 101.6L443.3 100.1Z" fill="#68bfb4"/>
<path d="M454.7 101.8L456.4 103.0L458.6 101.7L456.9 100.3Z" fill="#76c2a4"/>
<path d="M423.5 102.5L425.2 103.7L427.5 101.9L425.8 100.7Z" fill="#4bb9d5"/>
<path d="M361.3 82.4L363.0 86.1L365.3 83.1L363.6 79.4Z" fill="#3ba5dd"/>
<path d="M392.4 99.0L394.1 102.7L396.4 101.1L394.7 97.4Z" fill="#3875c3"/>
<path d="M406.0 102.5L407.7 104.2L410.0 102.5L408.3 100.8Z" fill="#3ba7de"/>
<path d="M374.9 87.8L376.6 91.3L378.8 89.6L377.1 86.0Z" fill="#366dbd"/>
<path d="M437.1 102.3L438.8 103.7L441.1 102.0L439.4 100.5Z" fill="#60bebd"/>
<path d="M419.6 103.1L421.3 104.3L423.5 102.5L421.8 101.4Z" fill="#46b8db"/>
<path d="M357.3 82.9L359.1 85.3L361.3 82.4L359.6 80.0Z" fill="#3cb4e5"/>
<path d="M388.5 97.0L390.2 100.6L392.4 99.0L390.7 95.3Z" fill="#3771c0"/>
<path d="M450.7 102.3L452.4 103.3L454.7 101.8L453.0 100.6Z" fill="#73c1a8"/>
<path d="M370.9 87.3L372.6 90.9L374.9 87.8L373.2 84.2Z" fill="#3772c1"/>
<path d="M402.0 102.6L403.8 104.3L406.0 102.5L404.3 100.8Z" fill="#3b98d7"/>
<path d="M433.2 102.6L434.9 104.0L437.1 102.3L435.4 100.8Z" fill="#58bcc6"/>
<path d="M415.6 103.7L417.3 104.8L419.6 103.1L417.9 102.0Z" fill="#40b7e1"/>
<path d="M384.5 95.1L386.2 98.7L388.5 97.0L386.8 93.4Z" fill="#366dbd"/>
<path d="M446.7 103.1L448.5 104.0L450.7 102.3L449.0 101.3Z" fill="#6fc1ac"/>
<path d="M353.4 83.2L355.1 85.7L357.3 82.9L355.6 80.4Z" fill="#44b8dc"/>
<path d="M429.2 103.0L430.9 104.4L433.2 102.6L431.5 101.1Z" fill="#52bacd"/>
<path d="M460.3 103.0L462.0 104.4L464.3 103.5L462.6 101.9Z" fill="#75c2a5"/>
<path d="M398.1 102.7L399.8 104.4L402.0 102.6L400.3 100.9Z" fill="#3a86cd"/>
<path d="M367.0 86.7L368.7 90.4L370.9 87.3L369.2 83.7Z" fill="#397ac7"/>
<path d="M411.7 104.2L413.4 105.3L415.6 103.7L413.9 102.5Z" fill="#3cb4e5"/>
<path d="M380.5 93.2L382.3 96.7L384.5 95.1L382.8 91.4Z" fill="#3569ba"/>
<path d="M442.8 103.5L444.5 105.0L446.7 103.1L445.0 101.6Z" fill="#6abfb2"/>
<path d="M456.4 103.0L458.1 104.2L460.3 103.0L458.6 101.7Z" fill="#73c1a7"/>
<path d="M394.1 102.7L395.8 104.3L398.1 102.7L396.4 101.1Z" fill="#3876c3"/>
<path d="M425.2 103.7L427.0 104.8L429.2 103.0L427.5 101.9Z" fill="#4cb9d4"/>
<path d="M363.0 86.1L364.7 89.8L367.0 86.7L365.3 83.1Z" fill="#3b8bd0"/>
<path d="M376.6 91.3L378.3 94.9L380.5 93.2L378.8 89.6Z" fill="#3465b7"/>
<path d="M407.7 104.2L409.4 105.9L411.7 104.2L410.0 102.5Z" fill="#3cace1"/>
<path d="M438.8 103.7L440.5 105.2L442.8 103.5L441.1 102.0Z" fill="#61bebb"/>
<path d="M452.4 103.3L454.1 104.3L456.4 103.0L454.7 101.8Z" fill="#71c1aa"/>
<path d="M359.1 85.3L360.8 89.1L363.0 86.1L361.3 82.4Z" fill="#3ba2dc"/>
<path d="M421.3 104.3L423.0 105.5L425.2 103.7L423.5 102.5Z" fill="#46b8db"/>
<path d="M390.2 100.6L391.9 104.3L394.1 102.7L392.4 99.0Z" fill="#366dbd"/>
<path d="M403.8 104.3L405.5 105.9L407.7 104.2L406.0 102.5Z" fill="#3b9fda"/>
<path d="M372.6 90.9L374.3 94.5L376.6 91.3L374.9 87.8Z" fill="#3467b8"/>
<path d="M434.9 104.0L436.6 105.5L438.8 103.7L437.1 102.3Z" fill="#59bcc5"/>
<path d="M417.3 104.8L419.0 106.0L421.3 104.3L419.6 103.1Z" fill="#40b7e1"/>
<path d="M355.1 85.7L356.8 88.3L359.1 85.3L357.3 82.9Z" fill="#3cb2e4"/>
<path d="M386.2 98.7L387.9 102.3L390.2 100.6L388.5 97.0Z" fill="#3569ba"/>
<path d="M448.5 104.0L450.2 104.8L452.4 103.3L450.7 102.3Z" fill="#6dc0ae"/>
<path d="M430.9 104.4L432.6 105.8L434.9 104.0L433.2 102.6Z" fill="#52bacd"/>
<path d="M368.7 90.4L370.4 94.0L372.6 90.9L370.9 87.3Z" fill="#366ebe"/>
<path d="M399.8 104.4L401.5 106.0L403.8 104.3L402.0 102.6Z" fill="#3b8fd2"/>
<path d="M413.4 105.3L415.1 106.5L417.3 104.8L415.6 103.7Z" fill="#3cb4e5"/>
<path d="M382.3 96.7L384.0 100.3L386.2 98.7L384.5 95.1Z" fill="#3465b7"/>
<path d="M444.5 105.0L446.2 105.7L448.5 104.0L446.7 103.1Z" fill="#6abfb2"/>
<path d="M427.0 104.8L428.7 106.2L430.9 104.4L429.2 103.0Z" fill="#4cb9d4"/>
<path d="M395.8 104.3L397.5 105.9L399.8 104.4L398.1 102.7Z" fill="#3a7bc7"/>
<path d="M458.1 104.2L459.8 105.4L462.0 104.4L460.3 103.0Z" fill="#71c1aa"/>
<path d="M364.7 89.8L366.4 93.5L368.7 90.4L367.0 86.7Z" fill="#3977c4"/>
<path d="M409.4 105.9L411.1 107.0L413.4 105.3L411.7 104.2Z" fill="#3cafe2"/>
<path d="M378.3 94.9L380.0 98.4L382.3 96.7L380.5 93.2Z" fill="#3361b4"/>
<path d="M440.5 105.2L442.2 106.7L444.5 105.0L442.8 103.5Z" fill="#63beba"/>
<path d="M454.1 104.3L455.8 105.3L458.1 104.2L456.4 103.0Z" fill="#6ec0ad"/>
<path d="M391.9 104.3L393.6 105.9L395.8 104.3L394.1 102.7Z" fill="#366ebe"/>
<path d="M360.8 89.1L362.5 92.8L364.7 89.8L363.0 86.1Z" fill="#3a87ce"/>
<path d="M423.0 105.5L424.7 106.7L427.0 104.8L425.2 103.7Z" fill="#46b8db"/>
<path d="M374.3 94.5L376.0 97.8L378.3 94.9L376.6 91.3Z" fill="#325fb3"/>
<path d="M405.5 105.9L407.2 107.6L409.4 105.9L407.7 104.2Z" fill="#3ba6de"/>
<path d="M436.6 105.5L438.3 107.0L440.5 105.2L438.8 103.7Z" fill="#5abcc4"/>
<path d="M356.8 88.3L358.5 92.1L360.8 89.1L359.1 85.3Z" fill="#3b9fda"/>
<path d="M419.0 106.0L420.7 107.1L423.0 105.5L421.3 104.3Z" fill="#41b7e1"/>
<path d="M387.9 102.3L389.6 105.9L391.9 104.3L390.2 100.6Z" fill="#3464b7"/>
<path d="M450.2 104.8L451.9 105.6L454.1 104.3L452.4 103.3Z" fill="#6bc0b0"/>
<path d="M432.6 105.8L434.3 107.3L436.6 105.5L434.9 104.0Z" fill="#52bacd"/>
<path d="M401.5 106.0L403.2 107.6L405.5 105.9L403.8 104.3Z" fill="#3b98d6"/>
<path d="M370.4 94.0L372.1 97.7L374.3 94.5L372.6 90.9Z" fill="#3362b5"/>
<path d="M415.1 106.5L416.8 107.7L419.0 106.0L417.3 104.8Z" fill="#3cb5e6"/>
<path d="M384.0 100.3L385.7 103.9L387.9 102.3L386.2 98.7Z" fill="#3260b4"/>
<path d="M446.2 105.7L447.9 106.3L450.2 104.8L448.5 104.0Z" fill="#68bfb4"/>
<path d="M428.7 106.2L430.4 107.6L432.6 105.8L430.9 104.4Z" fill="#4bb9d5"/>
<path d="M366.4 93.5L368.1 97.2L370.4 94.0L368.7 90.4Z" fill="#356abb"/>
<path d="M397.5 105.9L399.2 107.6L401.5 106.0L399.8 104.4Z" fill="#3a84cc"/>
<path d="M411.1 107.0L412.8 108.2L415.1 106.5L413.4 105.3Z" fill="#3cb0e3"/>
<path d="M442.2 106.7L444.0 107.5L446.2 105.7L444.5 105.0Z" fill="#63beba"/>
<path d="M380.0 98.4L381.7 102.0L384.0 100.3L382.3 96.7Z" fill="#315db1"/>
<path d="M424.7 106.7L426.4 108.0L428.7 106.2L427.0 104.8Z" fill="#46b8db"/>
<path d="M393.6 105.9L395.3 107.5L397.5 105.9L395.8 104.3Z" fill="#3874c2"/>
<path d="M455.8 105.3L457.5 106.3L459.8 105.4L458.1 104.2Z" fill="#6cc0af"/>
<path d="M362.5 92.8L364.2 96.5L366.4 93.5L364.7 89.8Z" fill="#3874c2"/>
<path d="M407.2 107.6L408.9 108.7L411.1 107.0L409.4 105.9Z" fill="#3cabe0"/>
<path d="M376.0 97.8L377.8 101.1L380.0 98.4L378.3 94.9Z" fill="#315bb0"/>
<path d="M438.3 107.0L440.0 108.5L442.2 106.7L440.5 105.2Z" fill="#5abcc4"/>
<path d="M389.6 105.9L391.3 107.5L393.6 105.9L391.9 104.3Z" fill="#3466b8"/>
<path d="M451.9 105.6L453.6 106.4L455.8 105.3L454.1 104.3Z" fill="#6abfb2"/>
<path d="M358.5 92.1L360.2 95.8L362.5 92.8L360.8 89.1Z" fill="#3a83cc"/>
<path d="M420.7 107.1L422.5 108.3L424.7 106.7L423.0 105.5Z" fill="#41b7e0"/>
<path d="M372.1 97.7L373.8 100.7L376.0 97.8L374.3 94.5Z" fill="#315ab0"/>
<path d="M434.3 107.3L436.0 108.7L438.3 107.0L436.6 105.5Z" fill="#52bacd"/>
<path d="M403.2 107.6L404.9 109.3L407.2 107.6L405.5 105.9Z" fill="#3ba1db"/>
<path d="M416.8 107.7L418.5 108.8L420.7 107.1L419.0 106.0Z" fill="#3cb6e6"/>
<path d="M385.7 103.9L387.4 107.5L389.6 105.9L387.9 102.3Z" fill="#315cb1"/>
<path d="M447.9 106.3L449.6 106.9L451.9 105.6L450.2 104.8Z" fill="#66bfb6"/>
<path d="M399.2 107.6L401.0 109.2L403.2 107.6L401.5 106.0Z" fill="#3b8ed1"/>
<path d="M430.4 107.6L432.1 109.1L434.3 107.3L432.6 105.8Z" fill="#4ab9d6"/>
<path d="M368.1 97.2L369.8 100.9L372.1 97.7L370.4 94.0Z" fill="#325eb2"/>
<path d="M412.8 108.2L414.5 109.3L416.8 107.7L415.1 106.5Z" fill="#3cb1e4"/>
<path d="M381.7 102.0L383.4 105.5L385.7 103.9L384.0 100.3Z" fill="#3058ae"/>
<path d="M444.0 107.5L445.7 108.2L447.9 106.3L446.2 105.7Z" fill="#62bebb"/>
<path d="M426.4 108.0L428.1 109.4L430.4 107.6L428.7 106.2Z" fill="#44b8dc"/>
<path d="M364.2 96.5L365.9 100.3L368.1 97.2L366.4 93.5Z" fill="#3467b8"/>
<path d="M395.3 107.5L397.0 109.1L399.2 107.6L397.5 105.9Z" fill="#3979c6"/>
<path d="M408.9 108.7L410.6 109.9L412.8 108.2L411.1 107.0Z" fill="#3cace1"/>
<path d="M440.0 108.5L441.7 109.3L444.0 107.5L442.2 106.7Z" fill="#5abcc3"/>
<path d="M377.8 101.1L379.5 104.4L381.7 102.0L380.0 98.4Z" fill="#3057ad"/>
<path d="M422.5 108.3L424.2 109.6L426.4 108.0L424.7 106.7Z" fill="#40b7e1"/>
<path d="M391.3 107.5L393.0 109.1L395.3 107.5L393.6 105.9Z" fill="#366cbd"/>
<path d="M360.2 95.8L361.9 99.6L364.2 96.5L362.5 92.8Z" fill="#3771c0"/>
<path d="M453.6 106.4L455.3 107.3L457.5 106.3L455.8 105.3Z" fill="#68bfb4"/>
<path d="M436.0 108.7L437.7 110.2L440.0 108.5L438.3 107.0Z" fill="#52bacd"/>
<path d="M404.9 109.3L406.6 110.4L408.9 108.7L407.2 107.6Z" fill="#3ba6de"/>
<path d="M373.8 100.7L375.5 103.8L377.8 101.1L376.0 97.8Z" fill="#3057ad"/>
<path d="M387.4 107.5L389.1 109.1L391.3 107.5L389.6 105.9Z" fill="#325eb2"/>
<path d="M449.6 106.9L451.3 107.6L453.6 106.4L451.9 105.6Z" fill="#65beb8"/>
<path d="M418.5 108.8L420.2 110.0L422.5 108.3L420.7 107.1Z" fill="#3cb6e6"/>
<path d="M369.8 100.9L371.5 103.6L373.8 100.7L372.1 97.7Z" fill="#3056ac"/>
<path d="M401.0 109.2L402.7 110.8L404.9 109.3L403.2 107.6Z" fill="#3b99d7"/>
<path d="M432.1 109.1L433.8 110.5L436.0 108.7L434.3 107.3Z" fill="#4ab9d6"/>
<path d="M414.5 109.3L416.2 110.5L418.5 108.8L416.8 107.7Z" fill="#3cb2e4"/>
<path d="M445.7 108.2L447.4 109.0L449.6 106.9L447.9 106.3Z" fill="#61bebc"/>
<path d="M383.4 105.5L385.1 109.1L387.4 107.5L385.7 103.9Z" fill="#2f54ab"/>
<path d="M397.0 109.1L398.7 110.7L401.0 109.2L399.2 107.6Z" fill="#3a83cb"/>
<path d="M365.9 100.3L367.6 104.0L369.8 100.9L368.1 97.2Z" fill="#3159af"/>
<path d="M428.1 109.4L429.8 110.8L432.1 109.1L430.4 107.6Z" fill="#43b8de"/>
<path d="M410.6 109.9L412.3 111.0L414.5 109.3L412.8 108.2Z" fill="#3cade2"/>
<path d="M379.5 104.4L381.2 107.7L383.4 105.5L381.7 102.0Z" fill="#2f52aa"/>
<path d="M441.7 109.3L443.4 110.1L445.7 108.2L444.0 107.5Z" fill="#5abcc4"/>
<path d="M424.2 109.6L425.9 110.9L428.1 109.4L426.4 108.0Z" fill="#3eb7e3"/>
<path d="M361.9 99.6L363.6 103.4L365.9 100.3L364.2 96.5Z" fill="#3363b6"/>
<path d="M393.0 109.1L394.7 110.7L397.0 109.1L395.3 107.5Z" fill="#3873c1"/>
<path d="M437.7 110.2L439.4 111.1L441.7 109.3L440.0 108.5Z" fill="#52bbcd"/>
<path d="M406.6 110.4L408.3 111.5L410.6 109.9L408.9 108.7Z" fill="#3ca8df"/>
<path d="M375.5 103.8L377.2 106.8L379.5 104.4L377.8 101.1Z" fill="#2f53aa"/>
<path d="M420.2 110.0L421.9 111.2L424.2 109.6L422.5 108.3Z" fill="#3cb6e6"/>
<path d="M389.1 109.1L390.8 110.7L393.0 109.1L391.3 107.5Z" fill="#3465b7"/>
<path d="M451.3 107.6L453.0 108.2L455.3 107.3L453.6 106.4Z" fill="#63beb9"/>
<path d="M402.7 110.8L404.4 111.9L406.6 110.4L404.9 109.3Z" fill="#3b9fda"/>
<path d="M433.8 110.5L435.5 111.9L437.7 110.2L436.0 108.7Z" fill="#49b9d7"/>
<path d="M371.5 103.6L373.2 106.4L375.5 103.8L373.8 100.7Z" fill="#2f52aa"/>
<path d="M447.4 109.0L449.1 109.7L451.3 107.6L449.6 106.9Z" fill="#60bdbd"/>
<path d="M385.1 109.1L386.8 110.7L389.1 109.1L387.4 107.5Z" fill="#3056ac"/>
<path d="M416.2 110.5L418.0 111.6L420.2 110.0L418.5 108.8Z" fill="#3cb3e5"/>
<path d="M367.6 104.0L369.3 106.6L371.5 103.6L369.8 100.9Z" fill="#2e51a9"/>
<path d="M398.7 110.7L400.4 112.4L402.7 110.8L401.0 109.2Z" fill="#3b8ed1"/>
<path d="M429.8 110.8L431.5 112.2L433.8 110.5L432.1 109.1Z" fill="#42b7df"/>
<path d="M412.3 111.0L414.0 112.1L416.2 110.5L414.5 109.3Z" fill="#3cafe2"/>
<path d="M443.4 110.1L445.1 111.0L447.4 109.0L445.7 108.2Z" fill="#5abcc4"/>
<path d="M381.2 107.7L382.9 111.0L385.1 109.1L383.4 105.5Z" fill="#2e4fa6"/>
<path d="M394.7 110.7L396.5 112.3L398.7 110.7L397.0 109.1Z" fill="#3979c6"/>
<path d="M363.6 103.4L365.3 107.2L367.6 104.0L365.9 100.3Z" fill="#2f55ab"/>
<path d="M425.9 110.9L427.6 112.3L429.8 110.8L428.1 109.4Z" fill="#3db6e5"/>
<path d="M439.4 111.1L441.2 112.1L443.4 110.1L441.7 109.3Z" fill="#53bbcc"/>
<path d="M408.3 111.5L410.0 112.7L412.3 111.0L410.6 109.9Z" fill="#3ca9e0"/>
<path d="M377.2 106.8L378.9 109.8L381.2 107.7L379.5 104.4Z" fill="#2e4fa7"/>
<path d="M421.9 111.2L423.6 112.4L425.9 110.9L424.2 109.6Z" fill="#3cb4e5"/>
<path d="M390.8 110.7L392.5 112.3L394.7 110.7L393.0 109.1Z" fill="#366cbd"/>
<path d="M435.5 111.9L437.2 112.9L439.4 111.1L437.7 110.2Z" fill="#4ab9d6"/>
<path d="M404.4 111.9L406.1 113.1L408.3 111.5L406.6 110.4Z" fill="#3ba1db"/>
<path d="M373.2 106.4L375.0 109.2L377.2 106.8L375.5 103.8Z" fill="#2e4fa7"/>
<path d="M418.0 111.6L419.7 112.8L421.9 111.2L420.2 110.0Z" fill="#3cb3e4"/>
<path d="M386.8 110.7L388.5 112.2L390.8 110.7L389.1 109.1Z" fill="#325eb2"/>
<path d="M449.1 109.7L450.8 110.5L453.0 108.2L451.3 107.6Z" fill="#5fbdbf"/>
<path d="M400.4 112.4L402.1 113.5L404.4 111.9L402.7 110.8Z" fill="#3b95d5"/>
<path d="M369.3 106.6L371.0 109.1L373.2 106.4L371.5 103.6Z" fill="#2e4ea6"/>
<path d="M431.5 112.2L433.2 113.6L435.5 111.9L433.8 110.5Z" fill="#41b7e0"/>
<path d="M445.1 111.0L446.8 111.8L449.1 109.7L447.4 109.0Z" fill="#5abcc4"/>
<path d="M382.9 111.0L384.6 112.5L386.8 110.7L385.1 109.1Z" fill="#2e50a8"/>
<path d="M414.0 112.1L415.7 113.3L418.0 111.6L416.2 110.5Z" fill="#3cb0e3"/>
<path d="M365.3 107.2L367.0 109.5L369.3 106.6L367.6 104.0Z" fill="#2d4da4"/>
<path d="M396.5 112.3L398.2 113.9L400.4 112.4L398.7 110.7Z" fill="#3a84cc"/>
<path d="M427.6 112.3L429.3 113.6L431.5 112.2L429.8 110.8Z" fill="#3cb5e6"/>
<path d="M441.2 112.1L442.9 113.0L445.1 111.0L443.4 110.1Z" fill="#54bbcb"/>
<path d="M410.0 112.7L411.7 113.8L414.0 112.1L412.3 111.0Z" fill="#3cabe0"/>
<path d="M378.9 109.8L380.6 112.9L382.9 111.0L381.2 107.7Z" fill="#2d4ca3"/>
<path d="M392.5 112.3L394.2 113.9L396.5 112.3L394.7 110.7Z" fill="#3874c2"/>
<path d="M423.6 112.4L425.3 113.7L427.6 112.3L425.9 110.9Z" fill="#3cb3e4"/>
<path d="M406.1 113.1L407.8 114.2L410.0 112.7L408.3 111.5Z" fill="#3ba3dc"/>
<path d="M437.2 112.9L438.9 114.0L441.2 112.1L439.4 111.1Z" fill="#4bb9d4"/>
<path d="M375.0 109.2L376.7 112.0L378.9 109.8L377.2 106.8Z" fill="#2d4ca3"/>
<path d="M419.7 112.8L421.4 113.9L423.6 112.4L421.9 111.2Z" fill="#3cb1e3"/>
<path d="M388.5 112.2L390.2 113.8L392.5 112.3L390.8 110.7Z" fill="#3466b8"/>
<path d="M433.2 113.6L434.9 114.8L437.2 112.9L435.5 111.9Z" fill="#42b7e0"/>
<path d="M402.1 113.5L403.8 114.6L406.1 113.1L404.4 111.9Z" fill="#3b98d6"/>
<path d="M371.0 109.1L372.7 111.6L375.0 109.2L373.2 106.4Z" fill="#2d4ca3"/>
<path d="M415.7 113.3L417.4 114.4L419.7 112.8L418.0 111.6Z" fill="#3cb0e3"/>
<path d="M384.6 112.5L386.3 114.1L388.5 112.2L386.8 110.7Z" fill="#3058ae"/>
<path d="M446.8 111.8L448.5 112.7L450.8 110.5L449.1 109.7Z" fill="#5abcc4"/>
<path d="M398.2 113.9L399.9 115.0L402.1 113.5L400.4 112.4Z" fill="#3b8cd0"/>
<path d="M367.0 109.5L368.7 111.8L371.0 109.1L369.3 106.6Z" fill="#2d4ba1"/>
<path d="M429.3 113.6L431.0 114.9L433.2 113.6L431.5 112.2Z" fill="#3cb4e5"/>
<path d="M442.9 113.0L444.6 114.0L446.8 111.8L445.1 111.0Z" fill="#54bbca"/>
<path d="M380.6 112.9L382.3 114.4L384.6 112.5L382.9 111.0Z" fill="#2e4da4"/>
<path d="M411.7 113.8L413.4 114.9L415.7 113.3L414.0 112.1Z" fill="#3cade1"/>
<path d="M394.2 113.9L395.9 115.5L398.2 113.9L396.5 112.3Z" fill="#3a7bc7"/>
<path d="M425.3 113.7L427.0 114.9L429.3 113.6L427.6 112.3Z" fill="#3cb1e3"/>
<path d="M438.9 114.0L440.6 115.0L442.9 113.0L441.2 112.1Z" fill="#4dbad3"/>
<path d="M407.8 114.2L409.5 115.3L411.7 113.8L410.0 112.7Z" fill="#3ba5dd"/>
<path d="M376.7 112.0L378.4 114.8L380.6 112.9L378.9 109.8Z" fill="#2d49a0"/>
<path d="M390.2 113.8L392.0 115.4L394.2 113.9L392.5 112.3Z" fill="#366ebe"/>
<path d="M421.4 113.9L423.1 115.1L425.3 113.7L423.6 112.4Z" fill="#3cafe2"/>
<path d="M403.8 114.6L405.5 115.7L407.8 114.2L406.1 113.1Z" fill="#3b9ad8"/>
<path d="M372.7 111.6L374.4 114.2L376.7 112.0L375.0 109.2Z" fill="#2d49a0"/>
<path d="M434.9 114.8L436.7 115.9L438.9 114.0L437.2 112.9Z" fill="#44b8dd"/>
<path d="M417.4 114.4L419.1 115.4L421.4 113.9L419.7 112.8Z" fill="#3cade1"/>
<path d="M386.3 114.1L388.0 115.6L390.2 113.8L388.5 112.2Z" fill="#3260b3"/>
<path d="M431.0 114.9L432.7 116.1L434.9 114.8L433.2 113.6Z" fill="#3cb5e5"/>
<path d="M399.9 115.0L401.6 116.1L403.8 114.6L402.1 113.5Z" fill="#3b8fd2"/>
<path d="M368.7 111.8L370.5 114.0L372.7 111.6L371.0 109.1Z" fill="#2d499f"/>
<path d="M444.6 114.0L446.3 114.9L448.5 112.7L446.8 111.8Z" fill="#55bbca"/>
<path d="M413.4 114.9L415.2 115.9L417.4 114.4L415.7 113.3Z" fill="#3cace1"/>
<path d="M382.3 114.4L384.0 115.9L386.3 114.1L384.6 112.5Z" fill="#2f53aa"/>
<path d="M395.9 115.5L397.6 116.5L399.9 115.0L398.2 113.9Z" fill="#3a82cb"/>
<path d="M427.0 114.9L428.7 116.2L431.0 114.9L429.3 113.6Z" fill="#3cb0e3"/>
<path d="M440.6 115.0L442.3 116.1L444.6 114.0L442.9 113.0Z" fill="#4fbad1"/>
<path d="M378.4 114.8L380.1 116.3L382.3 114.4L380.6 112.9Z" fill="#2d4aa1"/>
<path d="M409.5 115.3L411.2 116.4L413.4 114.9L411.7 113.8Z" fill="#3ba7de"/>
<path d="M392.0 115.4L393.7 117.0L395.9 115.5L394.2 113.9Z" fill="#3876c3"/>
<path d="M423.1 115.1L424.8 116.3L427.0 114.9L425.3 113.7Z" fill="#3cade1"/>
<path d="M405.5 115.7L407.2 116.8L409.5 115.3L407.8 114.2Z" fill="#3b9dd9"/>
<path d="M436.7 115.9L438.4 117.1L440.6 115.0L438.9 114.0Z" fill="#47b8da"/>
<path d="M374.4 114.2L376.1 116.7L378.4 114.8L376.7 112.0Z" fill="#2c479d"/>
<path d="M388.0 115.6L389.7 117.2L392.0 115.4L390.2 113.8Z" fill="#3467b9"/>
<path d="M419.1 115.4L420.8 116.5L423.1 115.1L421.4 113.9Z" fill="#3cabe0"/>
<path d="M401.6 116.1L403.3 117.2L405.5 115.7L403.8 114.6Z" fill="#3b92d3"/>
<path d="M432.7 116.1L434.4 117.3L436.7 115.9L434.9 114.8Z" fill="#3db6e5"/>
<path d="M370.5 114.0L372.2 116.3L374.4 114.2L372.7 111.6Z" fill="#2c469c"/>
<path d="M415.2 115.9L416.9 116.9L419.1 115.4L417.4 114.4Z" fill="#3caae0"/>
<path d="M384.0 115.9L385.7 117.4L388.0 115.6L386.3 114.1Z" fill="#315aaf"/>
<path d="M397.6 116.5L399.3 117.6L401.6 116.1L399.9 115.0Z" fill="#3a86cd"/>
<path d="M428.7 116.2L430.4 117.4L432.7 116.1L431.0 114.9Z" fill="#3cb0e3"/>
<path d="M411.2 116.4L412.9 117.5L415.2 115.9L413.4 114.9Z" fill="#3ba7de"/>
<path d="M442.3 116.1L444.0 117.1L446.3 114.9L444.6 114.0Z" fill="#50bacf"/>
<path d="M380.1 116.3L381.8 117.8L384.0 115.9L382.3 114.4Z" fill="#2e4fa7"/>
<path d="M393.7 117.0L395.4 118.1L397.6 116.5L395.9 115.5Z" fill="#3a7ac7"/>
<path d="M424.8 116.3L426.5 117.4L428.7 116.2L427.0 114.9Z" fill="#3cabe0"/>
<path d="M438.4 117.1L440.1 118.2L442.3 116.1L440.6 115.0Z" fill="#49b9d7"/>
<path d="M376.1 116.7L377.8 118.1L380.1 116.3L378.4 114.8Z" fill="#2d489e"/>
<path d="M407.2 116.8L408.9 117.9L411.2 116.4L409.5 115.3Z" fill="#3b9fda"/>
<path d="M389.7 117.2L391.4 118.7L393.7 117.0L392.0 115.4Z" fill="#376fbf"/>
<path d="M420.8 116.5L422.5 117.6L424.8 116.3L423.1 115.1Z" fill="#3ca9df"/>
<path d="M434.4 117.3L436.1 118.4L438.4 117.1L436.7 115.9Z" fill="#40b7e1"/>
<path d="M403.3 117.2L405.0 118.3L407.2 116.8L405.5 115.7Z" fill="#3b95d5"/>
<path d="M372.2 116.3L373.9 118.6L376.1 116.7L374.4 114.2Z" fill="#2c4499"/>
<path d="M385.7 117.4L387.4 119.0L389.7 117.2L388.0 115.6Z" fill="#3361b4"/>
<path d="M416.9 116.9L418.6 118.0L420.8 116.5L419.1 115.4Z" fill="#3ba7de"/>
<path d="M399.3 117.6L401.0 118.7L403.3 117.2L401.6 116.1Z" fill="#3a89cf"/>
<path d="M430.4 117.4L432.1 118.6L434.4 117.3L432.7 116.1Z" fill="#3cb2e4"/>
<path d="M412.9 117.5L414.6 118.5L416.9 116.9L415.2 115.9Z" fill="#3ba5dd"/>
<path d="M381.8 117.8L383.5 119.2L385.7 117.4L384.0 115.9Z" fill="#2f55ac"/>
<path d="M426.5 117.4L428.2 118.7L430.4 117.4L428.7 116.2Z" fill="#3cabe0"/>
<path d="M395.4 118.1L397.1 119.2L399.3 117.6L397.6 116.5Z" fill="#3a7dc8"/>
<path d="M408.9 117.9L410.7 119.0L412.9 117.5L411.2 116.4Z" fill="#3ba0db"/>
<path d="M377.8 118.1L379.5 119.6L381.8 117.8L380.1 116.3Z" fill="#2d4ca3"/>
<path d="M440.1 118.2L441.8 119.4L444.0 117.1L442.3 116.1Z" fill="#4bb9d4"/>
<path d="M391.4 118.7L393.1 119.8L395.4 118.1L393.7 117.0Z" fill="#3874c2"/>
<path d="M422.5 117.6L424.2 118.7L426.5 117.4L424.8 116.3Z" fill="#3ba6de"/>
<path d="M436.1 118.4L437.8 119.6L440.1 118.2L438.4 117.1Z" fill="#43b7de"/>
<path d="M373.9 118.6L375.6 120.0L377.8 118.1L376.1 116.7Z" fill="#2c459a"/>
<path d="M405.0 118.3L406.7 119.4L408.9 117.9L407.2 116.8Z" fill="#3b98d6"/>
<path d="M387.4 119.0L389.2 120.5L391.4 118.7L389.7 117.2Z" fill="#3568b9"/>
<path d="M418.6 118.0L420.3 119.0L422.5 117.6L420.8 116.5Z" fill="#3ba4dd"/>
<path d="M401.0 118.7L402.7 119.8L405.0 118.3L403.3 117.2Z" fill="#3b8cd0"/>
<path d="M432.1 118.6L433.9 119.8L436.1 118.4L434.4 117.3Z" fill="#3cb4e5"/>
<path d="M383.5 119.2L385.2 120.7L387.4 119.0L385.7 117.4Z" fill="#315bb0"/>
<path d="M414.6 118.5L416.3 119.5L418.6 118.0L416.9 116.9Z" fill="#3ba2dc"/>
<path d="M397.1 119.2L398.8 120.3L401.0 118.7L399.3 117.6Z" fill="#3a80ca"/>
<path d="M428.2 118.7L429.9 120.0L432.1 118.6L430.4 117.4Z" fill="#3caee2"/>
<path d="M410.7 119.0L412.4 120.0L414.6 118.5L412.9 117.5Z" fill="#3b9fda"/>
<path d="M379.5 119.6L381.2 121.0L383.5 119.2L381.8 117.8Z" fill="#2e50a8"/>
<path d="M424.2 118.7L425.9 120.0L428.2 118.7L426.5 117.4Z" fill="#3ba6de"/>
<path d="M393.1 119.8L394.8 120.9L397.1 119.2L395.4 118.1Z" fill="#3876c4"/>
<path d="M406.7 119.4L408.4 120.5L410.7 119.0L408.9 117.9Z" fill="#3b99d7"/>
<path d="M437.8 119.6L439.5 120.8L441.8 119.4L440.1 118.2Z" fill="#46b8db"/>
<path d="M375.6 120.0L377.3 121.4L379.5 119.6L377.8 118.1Z" fill="#2d489e"/>
<path d="M389.2 120.5L390.9 121.6L393.1 119.8L391.4 118.7Z" fill="#366dbd"/>
<path d="M420.3 119.0L422.0 120.0L424.2 118.7L422.5 117.6Z" fill="#3ba2db"/>
<path d="M433.9 119.8L435.6 121.1L437.8 119.6L436.1 118.4Z" fill="#3db6e5"/>
<path d="M402.7 119.8L404.4 120.9L406.7 119.4L405.0 118.3Z" fill="#3b90d2"/>
<path d="M385.2 120.7L386.9 122.2L389.2 120.5L387.4 119.0Z" fill="#3361b4"/>
<path d="M416.3 119.5L418.0 120.5L420.3 119.0L418.6 118.0Z" fill="#3ba0db"/>
<path d="M429.9 120.0L431.6 121.2L433.9 119.8L432.1 118.6Z" fill="#3cb0e3"/>
<path d="M398.8 120.3L400.5 121.3L402.7 119.8L401.0 118.7Z" fill="#3a84cc"/>
<path d="M381.2 121.0L382.9 122.5L385.2 120.7L383.5 119.2Z" fill="#2f54ab"/>
<path d="M412.4 120.0L414.1 121.1L416.3 119.5L414.6 118.5Z" fill="#3b9dd9"/>
<path d="M394.8 120.9L396.5 122.0L398.8 120.3L397.1 119.2Z" fill="#3979c6"/>
<path d="M425.9 120.0L427.6 121.3L429.9 120.0L428.2 118.7Z" fill="#3ca9df"/>
<path d="M408.4 120.5L410.1 121.6L412.4 120.0L410.7 119.0Z" fill="#3b98d7"/>
<path d="M377.3 121.4L379.0 122.9L381.2 121.0L379.5 119.6Z" fill="#2d4ba2"/>
<path d="M422.0 120.0L423.7 121.3L425.9 120.0L424.2 118.7Z" fill="#3ba2db"/>
<path d="M390.9 121.6L392.6 122.7L394.8 120.9L393.1 119.8Z" fill="#376fbf"/>
<path d="M404.4 120.9L406.1 122.0L408.4 120.5L406.7 119.4Z" fill="#3b92d3"/>
<path d="M435.6 121.1L437.3 122.3L439.5 120.8L437.8 119.6Z" fill="#40b7e1"/>
<path d="M386.9 122.2L388.6 123.3L390.9 121.6L389.2 120.5Z" fill="#3465b7"/>
<path d="M418.0 120.5L419.7 121.6L422.0 120.0L420.3 119.0Z" fill="#3b9ed9"/>
<path d="M431.6 121.2L433.3 122.5L435.6 121.1L433.9 119.8Z" fill="#3cb2e4"/>
<path d="M400.5 121.3L402.2 122.4L404.4 120.9L402.7 119.8Z" fill="#3a88ce"/>
<path d="M382.9 122.5L384.7 124.0L386.9 122.2L385.2 120.7Z" fill="#3159af"/>
<path d="M414.1 121.1L415.8 122.1L418.0 120.5L416.3 119.5Z" fill="#3b9cd8"/>
<path d="M427.6 121.3L429.4 122.6L431.6 121.2L429.9 120.0Z" fill="#3cace1"/>
<path d="M396.5 122.0L398.2 123.1L400.5 121.3L398.8 120.3Z" fill="#3a7bc7"/>
<path d="M379.0 122.9L380.7 124.3L382.9 122.5L381.2 121.0Z" fill="#2e4ea6"/>
<path d="M410.1 121.6L411.8 122.6L414.1 121.1L412.4 120.0Z" fill="#3b98d6"/>
<path d="M392.6 122.7L394.3 123.8L396.5 122.0L394.8 120.9Z" fill="#3772c1"/>
<path d="M423.7 121.3L425.4 122.7L427.6 121.3L425.9 120.0Z" fill="#3ba4dd"/>
<path d="M406.1 122.0L407.9 123.1L410.1 121.6L408.4 120.5Z" fill="#3b92d3"/>
<path d="M419.7 121.6L421.4 122.8L423.7 121.3L422.0 120.0Z" fill="#3b9ed9"/>
<path d="M388.6 123.3L390.3 124.5L392.6 122.7L390.9 121.6Z" fill="#3568b9"/>
<path d="M402.2 122.4L403.9 123.5L406.1 122.0L404.4 120.9Z" fill="#3a8acf"/>
<path d="M433.3 122.5L435.0 123.8L437.3 122.3L435.6 121.1Z" fill="#3cb5e5"/>
<path d="M384.7 124.0L386.4 125.1L388.6 123.3L386.9 122.2Z" fill="#325db2"/>
<path d="M415.8 122.1L417.5 123.1L419.7 121.6L418.0 120.5Z" fill="#3b9ad8"/>
<path d="M429.4 122.6L431.1 123.9L433.3 122.5L431.6 121.2Z" fill="#3caee2"/>
<path d="M398.2 123.1L399.9 124.2L402.2 122.4L400.5 121.3Z" fill="#3a7ec9"/>
<path d="M380.7 124.3L382.4 125.7L384.7 124.0L382.9 122.5Z" fill="#2f52a9"/>
<path d="M411.8 122.6L413.5 123.7L415.8 122.1L414.1 121.1Z" fill="#3b97d6"/>
<path d="M425.4 122.7L427.1 124.0L429.4 122.6L427.6 121.3Z" fill="#3ba7de"/>
<path d="M394.3 123.8L396.0 124.9L398.2 123.1L396.5 122.0Z" fill="#3874c2"/>
<path d="M407.9 123.1L409.6 124.2L411.8 122.6L410.1 121.6Z" fill="#3b92d4"/>
<path d="M390.3 124.5L392.0 125.6L394.3 123.8L392.6 122.7Z" fill="#356bbc"/>
<path d="M421.4 122.8L423.1 124.1L425.4 122.7L423.7 121.3Z" fill="#3ba0db"/>
<path d="M403.9 123.5L405.6 124.6L407.9 123.1L406.1 122.0Z" fill="#3b8cd0"/>
<path d="M417.5 123.1L419.2 124.4L421.4 122.8L419.7 121.6Z" fill="#3b9ad8"/>
<path d="M386.4 125.1L388.1 126.2L390.3 124.5L388.6 123.3Z" fill="#3361b4"/>
<path d="M399.9 124.2L401.6 125.3L403.9 123.5L402.2 122.4Z" fill="#3a81ca"/>
<path d="M431.1 123.9L432.8 125.2L435.0 123.8L433.3 122.5Z" fill="#3cb1e3"/>
<path d="M382.4 125.7L384.1 126.8L386.4 125.1L384.7 124.0Z" fill="#3056ac"/>
<path d="M413.5 123.7L415.2 124.7L417.5 123.1L415.8 122.1Z" fill="#3b97d6"/>
<path d="M427.1 124.0L428.8 125.4L431.1 123.9L429.4 122.6Z" fill="#3caae0"/>
<path d="M396.0 124.9L397.7 126.0L399.9 124.2L398.2 123.1Z" fill="#3977c4"/>
<path d="M409.6 124.2L411.3 125.2L413.5 123.7L411.8 122.6Z" fill="#3b93d4"/>
<path d="M423.1 124.1L424.8 125.4L427.1 124.0L425.4 122.7Z" fill="#3ba2dc"/>
<path d="M392.0 125.6L393.7 126.7L396.0 124.9L394.3 123.8Z" fill="#366ebe"/>
<path d="M405.6 124.6L407.3 125.7L409.6 124.2L407.9 123.1Z" fill="#3b8dd1"/>
<path d="M388.1 126.2L389.8 127.4L392.0 125.6L390.3 124.5Z" fill="#3364b7"/>
<path d="M419.2 124.4L420.9 125.6L423.1 124.1L421.4 122.8Z" fill="#3b9cd8"/>
<path d="M401.6 125.3L403.4 126.4L405.6 124.6L403.9 123.5Z" fill="#3a83cb"/>
<path d="M415.2 124.7L416.9 125.9L419.2 124.4L417.5 123.1Z" fill="#3b97d6"/>
<path d="M384.1 126.8L385.8 128.0L388.1 126.2L386.4 125.1Z" fill="#3159af"/>
<path d="M397.7 126.0L399.4 127.1L401.6 125.3L399.9 124.2Z" fill="#3979c6"/>
<path d="M428.8 125.4L430.5 126.7L432.8 125.2L431.1 123.9Z" fill="#3cade1"/>
<path d="M411.3 125.2L413.0 126.3L415.2 124.7L413.5 123.7Z" fill="#3b93d4"/>
<path d="M424.8 125.4L426.6 126.7L428.8 125.4L427.1 124.0Z" fill="#3ba5dd"/>
<path d="M393.7 126.7L395.4 127.8L397.7 126.0L396.0 124.9Z" fill="#3771c0"/>
<path d="M407.3 125.7L409.0 126.8L411.3 125.2L409.6 124.2Z" fill="#3b8fd2"/>
<path d="M420.9 125.6L422.6 126.8L424.8 125.4L423.1 124.1Z" fill="#3b9dd9"/>
<path d="M389.8 127.4L391.5 128.5L393.7 126.7L392.0 125.6Z" fill="#3467b9"/>
<path d="M403.4 126.4L405.1 127.4L407.3 125.7L405.6 124.6Z" fill="#3a85cc"/>
<path d="M385.8 128.0L387.5 129.1L389.8 127.4L388.1 126.2Z" fill="#325db2"/>
<path d="M416.9 125.9L418.6 127.0L420.9 125.6L419.2 124.4Z" fill="#3b97d6"/>
<path d="M399.4 127.1L401.1 128.1L403.4 126.4L401.6 125.3Z" fill="#397ac6"/>
<path d="M413.0 126.3L414.7 127.4L416.9 125.9L415.2 124.7Z" fill="#3b93d4"/>
<path d="M395.4 127.8L397.1 128.8L399.4 127.1L397.7 126.0Z" fill="#3773c1"/>
<path d="M426.6 126.7L428.3 128.0L430.5 126.7L428.8 125.4Z" fill="#3ba7de"/>
<path d="M409.0 126.8L410.7 127.9L413.0 126.3L411.3 125.2Z" fill="#3b90d2"/>
<path d="M422.6 126.8L424.3 128.0L426.6 126.7L424.8 125.4Z" fill="#3b9fda"/>
<path d="M391.5 128.5L393.2 129.6L395.4 127.8L393.7 126.7Z" fill="#356bbb"/>
<path d="M405.1 127.4L406.8 128.5L409.0 126.8L407.3 125.7Z" fill="#3a87ce"/>
<path d="M418.6 127.0L420.3 128.2L422.6 126.8L420.9 125.6Z" fill="#3b98d6"/>
<path d="M387.5 129.1L389.2 130.3L391.5 128.5L389.8 127.4Z" fill="#3361b4"/>
<path d="M401.1 128.1L402.8 129.1L405.1 127.4L403.4 126.4Z" fill="#3a7bc7"/>
<path d="M414.7 127.4L416.4 128.5L418.6 127.0L416.9 125.9Z" fill="#3b93d4"/>
<path d="M397.1 128.8L398.8 129.8L401.1 128.1L399.4 127.1Z" fill="#3874c2"/>
<path d="M410.7 127.9L412.4 128.9L414.7 127.4L413.0 126.3Z" fill="#3b90d2"/>
<path d="M393.2 129.6L394.9 130.6L397.1 128.8L395.4 127.8Z" fill="#366dbd"/>
<path d="M424.3 128.0L426.0 129.2L428.3 128.0L426.6 126.7Z" fill="#3ba0db"/>
<path d="M406.8 128.5L408.5 129.6L410.7 127.9L409.0 126.8Z" fill="#3a89ce"/>
<path d="M420.3 128.2L422.1 129.3L424.3 128.0L422.6 126.8Z" fill="#3b98d7"/>
<path d="M389.2 130.3L390.9 131.5L393.2 129.6L391.5 128.5Z" fill="#3465b7"/>
<path d="M402.8 129.1L404.5 130.2L406.8 128.5L405.1 127.4Z" fill="#3a7cc8"/>
<path d="M416.4 128.5L418.1 129.6L420.3 128.2L418.6 127.0Z" fill="#3b92d4"/>
<path d="M398.8 129.8L400.6 130.8L402.8 129.1L401.1 128.1Z" fill="#3875c3"/>
<path d="M412.4 128.9L414.1 130.0L416.4 128.5L414.7 127.4Z" fill="#3b8fd2"/>
<path d="M394.9 130.6L396.6 131.6L398.8 129.8L397.1 128.8Z" fill="#366ebe"/>
<path d="M408.5 129.6L410.2 130.6L412.4 128.9L410.7 127.9Z" fill="#3a89ce"/>
<path d="M390.9 131.5L392.6 132.4L394.9 130.6L393.2 129.6Z" fill="#3467b9"/>
<path d="M422.1 129.3L423.8 130.5L426.0 129.2L424.3 128.0Z" fill="#3b99d7"/>
<path d="M404.5 130.2L406.2 131.2L408.5 129.6L406.8 128.5Z" fill="#3a7dc8"/>
<path d="M418.1 129.6L419.8 130.7L422.1 129.3L420.3 128.2Z" fill="#3b92d3"/>
<path d="M400.6 130.8L402.3 131.8L404.5 130.2L402.8 129.1Z" fill="#3876c3"/>
<path d="M414.1 130.0L415.8 131.0L418.1 129.6L416.4 128.5Z" fill="#3b8dd1"/>
<path d="M396.6 131.6L398.3 132.5L400.6 130.8L398.8 129.8Z" fill="#366fbe"/>
<path d="M410.2 130.6L411.9 131.6L414.1 130.0L412.4 128.9Z" fill="#3a87cd"/>
<path d="M392.6 132.4L394.3 133.3L396.6 131.6L394.9 130.6Z" fill="#3568b9"/>
<path d="M406.2 131.2L407.9 132.2L410.2 130.6L408.5 129.6Z" fill="#3a7dc8"/>
<path d="M419.8 130.7L421.5 131.8L423.8 130.5L422.1 129.3Z" fill="#3b92d3"/>
<path d="M402.3 131.8L404.0 132.8L406.2 131.2L404.5 130.2Z" fill="#3977c4"/>
<path d="M415.8 131.0L417.6 132.0L419.8 130.7L418.1 129.6Z" fill="#3b8cd0"/>
<path d="M398.3 132.5L400.0 133.5L402.3 131.8L400.6 130.8Z" fill="#3770bf"/>
<path d="M411.9 131.6L413.6 132.6L415.8 131.0L414.1 130.0Z" fill="#3a85cc"/>
<path d="M394.3 133.3L396.1 134.3L398.3 132.5L396.6 131.6Z" fill="#3569ba"/>
<path d="M407.9 132.2L409.6 133.2L411.9 131.6L410.2 130.6Z" fill="#3a7cc8"/>
<path d="M404.0 132.8L405.7 133.8L407.9 132.2L406.2 131.2Z" fill="#3977c4"/>
<path d="M417.6 132.0L419.3 133.0L421.5 131.8L419.8 130.7Z" fill="#3a8acf"/>
<path d="M400.0 133.5L401.7 134.5L404.0 132.8L402.3 131.8Z" fill="#3771c0"/>
<path d="M413.6 132.6L415.3 133.6L417.6 132.0L415.8 131.0Z" fill="#3a83cb"/>
<path d="M396.1 134.3L397.8 135.2L400.0 133.5L398.3 132.5Z" fill="#356abb"/>
<path d="M409.6 133.2L411.3 134.2L413.6 132.6L411.9 131.6Z" fill="#3a7bc7"/>
<path d="M405.7 133.8L407.4 134.8L409.6 133.2L407.9 132.2Z" fill="#3876c3"/>
<path d="M401.7 134.5L403.4 135.5L405.7 133.8L404.0 132.8Z" fill="#3771c0"/>
<path d="M415.3 133.6L417.0 134.6L419.3 133.0L417.6 132.0Z" fill="#3a81ca"/>
<path d="M397.8 135.2L399.5 136.1L401.7 134.5L400.0 133.5Z" fill="#356bbc"/>
<path d="M411.3 134.2L413.0 135.2L415.3 133.6L413.6 132.6Z" fill="#397ac6"/>
<path d="M407.4 134.8L409.1 135.8L411.3 134.2L409.6 133.2Z" fill="#3875c3"/>
<path d="M403.4 135.5L405.1 136.4L407.4 134.8L405.7 133.8Z" fill="#3770bf"/>
<path d="M399.5 136.1L401.2 137.1L403.4 135.5L401.7 134.5Z" fill="#356bbc"/>
<path d="M413.0 135.2L414.8 136.2L417.0 134.6L415.3 133.6Z" fill="#3979c6"/>
<path d="M409.1 135.8L410.8 136.8L413.0 135.2L411.3 134.2Z" fill="#3874c2"/>
<path d="M405.1 136.4L406.8 137.4L409.1 135.8L407.4 134.8Z" fill="#366fbe"/>
<path d="M401.2 137.1L402.9 138.1L405.1 136.4L403.4 135.5Z" fill="#356abb"/>
<path d="M410.8 136.8L412.5 137.8L414.8 136.2L413.0 135.2Z" fill="#3773c1"/>
<path d="M406.8 137.4L408.5 138.4L410.8 136.8L409.1 135.8Z" fill="#366ebe"/>
<path d="M402.9 138.1L404.6 139.0L406.8 137.4L405.1 136.4Z" fill="#3569ba"/>
<path d="M408.5 138.4L410.3 139.4L412.5 137.8L410.8 136.8Z" fill="#366dbd"/>
<path d="M404.6 139.0L406.3 140.0L408.5 138.4L406.8 137.4Z" fill="#3568b9"/>
<path d="M406.3 140.0L408.0 141.0L410.3 139.4L408.5 138.4Z" fill="#3467b9"/>
<polyline points="331.20,62.28 333.45,59.82 335.70,57.37 337.95,54.91 340.21,52.46 342.46,50.00 344.71,49.00 346.96,48.00 349.21,47.00 351.46,45.99 353.71,44.99 355.97,43.61 358.22,42.23 360.47,40.84 362.72,39.46 364.97,38.08 367.22,36.53 369.47,34.97 371.73,33.42 373.98,31.86 376.23,30.30 378.48,29.39 380.73,28.47 382.98,27.56 385.23,26.64 387.49,25.73 389.74,23.76 391.99,21.79 394.24,19.82 396.49,17.86 398.74,15.89 400.99,15.49 403.25,15.10 405.50,14.70 407.75,14.31 410.00,13.91" fill="none" stroke="#ffffff" stroke-opacity="0.5" stroke-width="0.6"/>
<polyline points="339.73,68.63 341.98,65.45 344.24,62.27 346.49,59.08 348.74,55.90 350.99,52.72 353.24,52.27 355.49,51.82 357.74,51.37 360.00,50.92 362.25,50.47 364.50,49.06 366.75,47.65 369.00,46.23 371.25,44.82 373.50,43.40 375.76,41.40 378.01,39.40 380.26,37.40 382.51,35.40 384.76,33.40 387.01,32.35 389.26,31.29 391.52,30.23 393.77,29.18 396.02,28.12 398.27,26.60 400.52,25.08 402.77,23.55 405.02,22.03 407.28,20.51 409.53,19.67 411.78,18.83 414.03,17.99 416.28,17.15 418.53,16.31" fill="none" stroke="#ffffff" stroke-opacity="0.5" stroke-width="0.6"/>
<polyline points="348.27,75.63 350.52,72.97 352.77,70.31 355.02,67.65 357.27,64.99 359.52,62.33 361.78,60.90 364.03,59.47 366.28,58.05 368.53,56.62 370.78,55.20 373.03,53.60 375.28,52.00 377.54,50.40 379.79,48.80 382.04,47.21 384.29,45.58 386.54,43.94 388.79,42.31 391.04,40.68 393.30,39.05 395.55,37.40 397.80,35.74 400.05,34.09 402.30,32.44 404.55,30.79 406.80,30.17 409.06,29.56 411.31,28.95 413.56,28.34 415.81,27.73 418.06,26.51 420.31,25.29 422.56,24.07 424.82,22.85 427.07,21.63" fill="none" stroke="#ffffff" stroke-opacity="0.5" stroke-width="0.6"/>
<polyline points="356.80,88.27 359.05,85.33 361.30,82.38 363.55,79.44 365.81,76.50 368.06,73.55 370.31,71.77 372.56,69.99 374.81,68.21 377.06,66.42 379.31,64.64 381.57,62.76 383.82,60.88 386.07,59.00 388.32,57.12 390.57,55.24 392.82,53.63 395.07,52.02 397.33,50.41 399.58,48.80 401.83,47.19 404.08,45.57 406.33,43.95 408.58,42.33 410.83,40.71 413.09,39.09 415.34,37.70 417.59,36.30 419.84,34.91 422.09,33.52 424.34,32.13 426.59,31.07 428.85,30.01 431.10,28.96 433.35,27.90 435.60,26.84" fill="none" stroke="#ffffff" stroke-opacity="0.5" stroke-width="0.6"/>
<polyline points="365.33,107.19 367.58,104.02 369.84,100.85 372.09,97.68 374.34,94.51 376.59,91.34 378.84,89.59 381.09,87.84 383.34,86.09 385.60,84.34 387.85,82.59 390.10,81.06 392.35,79.52 394.60,77.99 396.85,76.46 399.10,74.92 401.36,72.65 403.61,70.38 405.86,68.11 408.11,65.84 410.36,63.57 412.61,61.89 414.86,60.22 417.12,58.54 419.37,56.87 421.62,55.20 423.87,53.89 426.12,52.58 428.37,51.28 430.62,49.97 432.88,48.67 435.13,47.84 437.38,47.01 439.63,46.18 441.88,45.35 444.13,44.52" fill="none" stroke="#ffffff" stroke-opacity="0.5" stroke-width="0.6"/>
<polyline points="373.87,118.59 376.12,116.68 378.37,114.78 380.62,112.88 382.87,110.98 385.12,109.08 387.38,107.48 389.63,105.88 391.88,104.28 394.13,102.68 396.38,101.08 398.63,99.28 400.88,97.47 403.14,95.67 405.39,93.86 407.64,92.06 409.89,90.12 412.14,88.19 414.39,86.25 416.64,84.32 418.90,82.39 421.15,80.45 423.40,78.52 425.65,76.58 427.90,74.65 430.15,72.71 432.40,71.18 434.66,69.65 436.91,68.11 439.16,66.58 441.41,65.04 443.66,64.29 445.91,63.54 448.16,62.78 450.42,62.03 452.67,61.28" fill="none" stroke="#ffffff" stroke-opacity="0.5" stroke-width="0.6"/>
<polyline points="382.40,125.70 384.65,123.96 386.90,122.22 389.15,120.48 391.41,118.74 393.66,117.00 395.91,115.45 398.16,113.91 400.41,112.36 402.66,110.82 404.91,109.28 407.17,107.58 409.42,105.88 411.67,104.19 413.92,102.49 416.17,100.79 418.42,99.10 420.67,97.40 422.93,95.71 425.18,94.01 427.43,92.31 429.68,90.13 431.93,87.95 434.18,85.76 436.43,83.58 438.69,81.39 440.94,80.00 443.19,78.61 445.44,77.22 447.69,75.82 449.94,74.43 452.19,73.58 454.45,72.73 456.70,71.88 458.95,71.03 461.20,70.18" fill="none" stroke="#ffffff" stroke-opacity="0.5" stroke-width="0.6"/>
<polyline points="390.93,131.45 393.18,129.65 395.44,127.84 397.69,126.04 399.94,124.23 402.19,122.43 404.44,120.93 406.69,119.43 408.94,117.92 411.20,116.42 413.45,114.92 415.70,113.27 417.95,111.62 420.20,109.96 422.45,108.31 424.70,106.66 426.96,104.81 429.21,102.96 431.46,101.11 433.71,99.27 435.96,97.42 438.21,95.60 440.46,93.79 442.72,91.97 444.97,90.16 447.22,88.34 449.47,87.00 451.72,85.66 453.97,84.33 456.22,82.99 458.48,81.65 460.73,80.55 462.98,79.45 465.23,78.35 467.48,77.25 469.73,76.15" fill="none" stroke="#ffffff" stroke-opacity="0.5" stroke-width="0.6"/>
<polyline points="399.47,136.12 401.72,134.48 403.97,132.84 406.22,131.20 408.47,129.55 410.72,127.91 412.98,126.32 415.23,124.74 417.48,123.15 419.73,121.56 421.98,119.97 424.23,118.70 426.48,117.43 428.74,116.15 430.99,114.88 433.24,113.61 435.49,111.89 437.74,110.17 439.99,108.45 442.24,106.73 444.50,105.02 446.75,103.14 449.00,101.26 451.25,99.37 453.50,97.49 455.75,95.61 458.00,94.43 460.26,93.24 462.51,92.05 464.76,90.87 467.01,89.68 469.26,88.21 471.51,86.74 473.76,85.27 476.02,83.81 478.27,82.34" fill="none" stroke="#ffffff" stroke-opacity="0.5" stroke-width="0.6"/>
<polyline points="408.00,140.96 410.25,139.37 412.50,137.78 414.75,136.19 417.01,134.60 419.26,133.02 421.51,131.75 423.76,130.49 426.01,129.23 428.26,127.97 430.51,126.70 432.77,125.24 435.02,123.77 437.27,122.30 439.52,120.83 441.77,119.36 444.02,117.13 446.27,114.91 448.53,112.68 450.78,110.45 453.03,108.22 455.28,107.28 457.53,106.33 459.78,105.38 462.03,104.43 464.29,103.48 466.54,101.93 468.79,100.37 471.04,98.82 473.29,97.26 475.54,95.71 477.79,94.52 480.05,93.33 482.30,92.15 484.55,90.96 486.80,89.77" fill="none" stroke="#ffffff" stroke-opacity="0.5" stroke-width="0.6"/>
<polyline points="331.20,62.28 332.91,63.55 334.61,64.82 336.32,66.09 338.03,67.36 339.73,68.63 341.44,70.03 343.15,71.43 344.85,72.83 346.56,74.23 348.27,75.63 349.97,78.16 351.68,80.69 353.39,83.21 355.09,85.74 356.80,88.27 358.51,92.05 360.21,95.84 361.92,99.62 363.63,103.41 365.33,107.19 367.04,109.47 368.75,111.75 370.45,114.03 372.16,116.31 373.87,118.59 375.57,120.01 377.28,121.43 378.99,122.85 380.69,124.27 382.40,125.70 384.11,126.85 385.81,128.00 387.52,129.15 389.23,130.30 390.93,131.45 392.64,132.39 394.35,133.32 396.05,134.25 397.76,135.19 399.47,136.12 401.17,137.09 402.88,138.06 404.59,139.02 406.29,139.99 408.00,140.96" fill="none" stroke="#ffffff" stroke-opacity="0.5" stroke-width="0.6"/>
<polyline points="342.46,50.00 344.16,50.55 345.87,51.09 347.58,51.63 349.28,52.18 350.99,52.72 352.70,54.64 354.40,56.56 356.11,58.48 357.82,60.40 359.52,62.33 361.23,64.57 362.94,66.82 364.64,69.06 366.35,71.31 368.06,73.55 369.76,77.11 371.47,80.67 373.18,84.23 374.88,87.78 376.59,91.34 378.30,94.89 380.00,98.44 381.71,101.98 383.42,105.53 385.12,109.08 386.83,110.66 388.54,112.24 390.24,113.83 391.95,115.41 393.66,117.00 395.36,118.08 397.07,119.17 398.78,120.26 400.48,121.34 402.19,122.43 403.90,123.52 405.60,124.62 407.31,125.72 409.02,126.82 410.72,127.91 412.43,128.93 414.14,129.95 415.84,130.97 417.55,132.00 419.26,133.02" fill="none" stroke="#ffffff" stroke-opacity="0.5" stroke-width="0.6"/>
<polyline points="353.71,44.99 355.42,46.09 357.13,47.18 358.83,48.28 360.54,49.38 362.25,50.47 363.95,51.42 365.66,52.36 367.37,53.31 369.07,54.25 370.78,55.20 372.49,57.09 374.19,58.98 375.90,60.86 377.61,62.75 379.31,64.64 381.02,68.23 382.73,71.82 384.43,75.41 386.14,79.00 387.85,82.59 389.55,86.29 391.26,89.99 392.97,93.69 394.67,97.38 396.38,101.08 398.09,102.72 399.79,104.36 401.50,106.00 403.21,107.64 404.91,109.28 406.62,110.41 408.33,111.53 410.03,112.66 411.74,113.79 413.45,114.92 415.15,115.93 416.86,116.94 418.57,117.95 420.27,118.96 421.98,119.97 423.69,121.32 425.39,122.67 427.10,124.01 428.81,125.36 430.51,126.70" fill="none" stroke="#ffffff" stroke-opacity="0.5" stroke-width="0.6"/>
<polyline points="364.97,38.08 366.68,39.15 368.38,40.21 370.09,41.27 371.80,42.34 373.50,43.40 375.21,44.16 376.92,44.92 378.62,45.68 380.33,46.45 382.04,47.21 383.74,48.81 385.45,50.42 387.16,52.03 388.86,53.63 390.57,55.24 392.28,59.17 393.98,63.11 395.69,67.05 397.40,70.99 399.10,74.92 400.81,78.35 402.52,81.78 404.22,85.20 405.93,88.63 407.64,92.06 409.34,93.81 411.05,95.55 412.76,97.30 414.46,99.05 416.17,100.79 417.88,101.97 419.58,103.14 421.29,104.31 423.00,105.49 424.70,106.66 426.41,108.05 428.12,109.44 429.82,110.83 431.53,112.22 433.24,113.61 434.94,114.76 436.65,115.91 438.36,117.06 440.06,118.21 441.77,119.36" fill="none" stroke="#ffffff" stroke-opacity="0.5" stroke-width="0.6"/>
<polyline points="376.23,30.30 377.94,30.92 379.64,31.54 381.35,32.16 383.06,32.78 384.76,33.40 386.47,34.53 388.18,35.66 389.88,36.79 391.59,37.92 393.30,39.05 395.00,40.68 396.71,42.31 398.42,43.93 400.12,45.56 401.83,47.19 403.54,50.47 405.24,53.74 406.95,57.02 408.66,60.29 410.36,63.57 412.07,67.33 413.78,71.10 415.48,74.86 417.19,78.62 418.90,82.39 420.60,84.37 422.31,86.36 424.02,88.34 425.72,90.33 427.43,92.31 429.14,93.33 430.84,94.36 432.55,95.38 434.26,96.40 435.96,97.42 437.67,98.94 439.38,100.46 441.08,101.98 442.79,103.50 444.50,105.02 446.20,105.66 447.91,106.30 449.62,106.94 451.32,107.58 453.03,108.22" fill="none" stroke="#ffffff" stroke-opacity="0.5" stroke-width="0.6"/>
<polyline points="387.49,25.73 389.19,26.20 390.90,26.68 392.61,27.16 394.31,27.64 396.02,28.12 397.73,28.65 399.43,29.19 401.14,29.72 402.85,30.25 404.55,30.79 406.26,32.45 407.97,34.11 409.67,35.77 411.38,37.43 413.09,39.09 414.79,42.31 416.50,45.53 418.21,48.75 419.91,51.97 421.62,55.20 423.33,58.70 425.03,62.20 426.74,65.71 428.45,69.21 430.15,72.71 431.86,74.45 433.57,76.18 435.27,77.92 436.98,79.66 438.69,81.39 440.39,82.78 442.10,84.17 443.81,85.56 445.51,86.95 447.22,88.34 448.93,89.80 450.63,91.25 452.34,92.70 454.05,94.16 455.75,95.61 457.46,97.19 459.17,98.76 460.87,100.34 462.58,101.91 464.29,103.48" fill="none" stroke="#ffffff" stroke-opacity="0.5" stroke-width="0.6"/>
<polyline points="398.74,15.89 400.45,16.81 402.16,17.74 403.86,18.66 405.57,19.58 407.28,20.51 408.98,21.95 410.69,23.39 412.40,24.84 414.10,26.28 415.81,27.73 417.52,28.61 419.22,29.49 420.93,30.37 422.64,31.25 424.34,32.13 426.05,35.43 427.76,38.74 429.46,42.05 431.17,45.36 432.88,48.67 434.58,51.94 436.29,55.22 438.00,58.49 439.70,61.77 441.41,65.04 443.12,66.92 444.82,68.80 446.53,70.68 448.24,72.55 449.94,74.43 451.65,75.87 453.36,77.32 455.06,78.76 456.77,80.21 458.48,81.65 460.18,83.26 461.89,84.86 463.60,86.47 465.30,88.07 467.01,89.68 468.72,90.89 470.42,92.09 472.13,93.30 473.84,94.50 475.54,95.71" fill="none" stroke="#ffffff" stroke-opacity="0.5" stroke-width="0.6"/>
<polyline points="410.00,13.91 411.71,14.39 413.41,14.87 415.12,15.35 416.83,15.83 418.53,16.31 420.24,17.37 421.95,18.44 423.65,19.50 425.36,20.56 427.07,21.63 428.77,22.67 430.48,23.71 432.19,24.76 433.89,25.80 435.60,26.84 437.31,30.38 439.01,33.91 440.72,37.45 442.43,40.99 444.13,44.52 445.84,47.87 447.55,51.22 449.25,54.58 450.96,57.93 452.67,61.28 454.37,63.06 456.08,64.84 457.79,66.62 459.49,68.40 461.20,70.18 462.91,71.37 464.61,72.57 466.32,73.76 468.03,74.95 469.73,76.15 471.44,77.39 473.15,78.62 474.85,79.86 476.56,81.10 478.27,82.34 479.97,83.82 481.68,85.31 483.39,86.80 485.09,88.29 486.80,89.77" fill="none" stroke="#ffffff" stroke-opacity="0.5" stroke-width="0.6"/>
<circle cx="331.2" cy="62.3" r="0.65" fill="#263545"/>
<circle cx="342.5" cy="50.0" r="0.65" fill="#263545"/>
<circle cx="353.7" cy="45.0" r="0.65" fill="#263545"/>
<circle cx="365.0" cy="38.1" r="0.65" fill="#263545"/>
<circle cx="376.2" cy="30.3" r="0.65" fill="#263545"/>
<circle cx="387.5" cy="25.7" r="0.65" fill="#263545"/>
<circle cx="398.7" cy="15.9" r="0.65" fill="#263545"/>
<circle cx="410.0" cy="13.9" r="0.65" fill="#263545"/>
<circle cx="339.7" cy="68.6" r="0.65" fill="#263545"/>
<circle cx="351.0" cy="52.7" r="0.65" fill="#263545"/>
<circle cx="362.2" cy="50.5" r="0.65" fill="#263545"/>
<circle cx="373.5" cy="43.4" r="0.65" fill="#263545"/>
<circle cx="384.8" cy="33.4" r="0.65" fill="#263545"/>
<circle cx="396.0" cy="28.1" r="0.65" fill="#263545"/>
<circle cx="407.3" cy="20.5" r="0.65" fill="#263545"/>
<circle cx="418.5" cy="16.3" r="0.65" fill="#263545"/>
<circle cx="348.3" cy="75.6" r="0.65" fill="#263545"/>
<circle cx="359.5" cy="62.3" r="0.65" fill="#263545"/>
<circle cx="370.8" cy="55.2" r="0.65" fill="#263545"/>
<circle cx="382.0" cy="47.2" r="0.65" fill="#263545"/>
<circle cx="393.3" cy="39.1" r="0.65" fill="#263545"/>
<circle cx="404.6" cy="30.8" r="0.65" fill="#263545"/>
<circle cx="415.8" cy="27.7" r="0.65" fill="#263545"/>
<circle cx="427.1" cy="21.6" r="0.65" fill="#263545"/>
<circle cx="356.8" cy="88.3" r="0.65" fill="#263545"/>
<circle cx="368.1" cy="73.6" r="0.65" fill="#263545"/>
<circle cx="379.3" cy="64.6" r="0.65" fill="#263545"/>
<circle cx="390.6" cy="55.2" r="0.65" fill="#263545"/>
<circle cx="401.8" cy="47.2" r="0.65" fill="#263545"/>
<circle cx="413.1" cy="39.1" r="0.65" fill="#263545"/>
<circle cx="424.3" cy="32.1" r="0.65" fill="#263545"/>
<circle cx="435.6" cy="26.8" r="0.65" fill="#263545"/>
<circle cx="365.3" cy="107.2" r="0.65" fill="#263545"/>
<circle cx="376.6" cy="91.3" r="0.65" fill="#263545"/>
<circle cx="387.8" cy="82.6" r="0.65" fill="#263545"/>
<circle cx="399.1" cy="74.9" r="0.65" fill="#263545"/>
<circle cx="410.4" cy="63.6" r="0.65" fill="#263545"/>
<circle cx="421.6" cy="55.2" r="0.65" fill="#263545"/>
<circle cx="432.9" cy="48.7" r="0.65" fill="#263545"/>
<circle cx="444.1" cy="44.5" r="0.65" fill="#263545"/>
<circle cx="373.9" cy="118.6" r="0.65" fill="#263545"/>
<circle cx="385.1" cy="109.1" r="0.65" fill="#263545"/>
<circle cx="396.4" cy="101.1" r="0.65" fill="#263545"/>
<circle cx="407.6" cy="92.1" r="0.65" fill="#263545"/>
<circle cx="418.9" cy="82.4" r="0.65" fill="#263545"/>
<circle cx="430.2" cy="72.7" r="0.65" fill="#263545"/>
<circle cx="441.4" cy="65.0" r="0.65" fill="#263545"/>
<circle cx="452.7" cy="61.3" r="0.65" fill="#263545"/>
<circle cx="382.4" cy="125.7" r="0.65" fill="#263545"/>
<circle cx="393.7" cy="117.0" r="0.65" fill="#263545"/>
<circle cx="404.9" cy="109.3" r="0.65" fill="#263545"/>
<circle cx="416.2" cy="100.8" r="0.65" fill="#263545"/>
<circle cx="427.4" cy="92.3" r="0.65" fill="#263545"/>
<circle cx="438.7" cy="81.4" r="0.65" fill="#263545"/>
<circle cx="449.9" cy="74.4" r="0.65" fill="#263545"/>
<circle cx="461.2" cy="70.2" r="0.65" fill="#263545"/>
<circle cx="390.9" cy="131.5" r="0.65" fill="#263545"/>
<circle cx="402.2" cy="122.4" r="0.65" fill="#263545"/>
<circle cx="413.4" cy="114.9" r="0.65" fill="#263545"/>
<circle cx="424.7" cy="106.7" r="0.65" fill="#263545"/>
<circle cx="436.0" cy="97.4" r="0.65" fill="#263545"/>
<circle cx="447.2" cy="88.3" r="0.65" fill="#263545"/>
<circle cx="458.5" cy="81.6" r="0.65" fill="#263545"/>
<circle cx="469.7" cy="76.1" r="0.65" fill="#263545"/>
<circle cx="399.5" cy="136.1" r="0.65" fill="#263545"/>
<circle cx="410.7" cy="127.9" r="0.65" fill="#263545"/>
<circle cx="422.0" cy="120.0" r="0.65" fill="#263545"/>
<circle cx="433.2" cy="113.6" r="0.65" fill="#263545"/>
<circle cx="444.5" cy="105.0" r="0.65" fill="#263545"/>
<circle cx="455.8" cy="95.6" r="0.65" fill="#263545"/>
<circle cx="467.0" cy="89.7" r="0.65" fill="#263545"/>
<circle cx="478.3" cy="82.3" r="0.65" fill="#263545"/>
<circle cx="408.0" cy="141.0" r="0.65" fill="#263545"/>
<circle cx="419.3" cy="133.0" r="0.65" fill="#263545"/>
<circle cx="430.5" cy="126.7" r="0.65" fill="#263545"/>
<circle cx="441.8" cy="119.4" r="0.65" fill="#263545"/>
<circle cx="453.0" cy="108.2" r="0.65" fill="#263545"/>
<circle cx="464.3" cy="103.5" r="0.65" fill="#263545"/>
<circle cx="475.5" cy="95.7" r="0.65" fill="#263545"/>
<circle cx="486.8" cy="89.8" r="0.65" fill="#263545"/>
<line x1="331.20" y1="105.80" x2="331.20" y2="51.60" stroke="#555" stroke-width="0.5"/>
<line x1="329.20" y1="105.80" x2="331.20" y2="105.80" stroke="#555" stroke-width="0.5"/>
<text x="327.70" y="107.90" font-size="5.9" text-anchor="end" font-weight="normal" fill="#333" >0</text>
<line x1="329.20" y1="78.70" x2="331.20" y2="78.70" stroke="#555" stroke-width="0.5"/>
<text x="327.70" y="80.80" font-size="5.9" text-anchor="end" font-weight="normal" fill="#333" >50</text>
<line x1="329.20" y1="51.60" x2="331.20" y2="51.60" stroke="#555" stroke-width="0.5"/>
<text x="327.70" y="53.70" font-size="5.9" text-anchor="end" font-weight="normal" fill="#333" >100</text>
<line x1="331.20" y1="105.80" x2="408.00" y2="145.40" stroke="#555" stroke-width="0.5"/>
<line x1="408.00" y1="145.40" x2="486.80" y2="106.90" stroke="#555" stroke-width="0.5"/>
<text x="320.70" y="114.00" font-size="5.9" text-anchor="middle" font-weight="normal" fill="#333" >0</text>
<text x="329.23" y="118.40" font-size="5.9" text-anchor="middle" font-weight="normal" fill="#333" >0.001</text>
<text x="337.77" y="122.80" font-size="5.9" text-anchor="middle" font-weight="normal" fill="#333" >0.003</text>
<text x="346.30" y="127.20" font-size="5.9" text-anchor="middle" font-weight="normal" fill="#333" >0.01</text>
<text x="354.83" y="131.60" font-size="5.9" text-anchor="middle" font-weight="normal" fill="#333" >0.03</text>
<text x="363.37" y="136.00" font-size="5.9" text-anchor="middle" font-weight="normal" fill="#333" >0.1</text>
<text x="371.90" y="140.40" font-size="5.9" text-anchor="middle" font-weight="normal" fill="#333" >0.3</text>
<text x="380.43" y="144.80" font-size="5.9" text-anchor="middle" font-weight="normal" fill="#333" >1</text>
<text x="388.97" y="149.20" font-size="5.9" text-anchor="middle" font-weight="normal" fill="#333" >3</text>
<text x="397.50" y="153.60" font-size="5.9" text-anchor="middle" font-weight="normal" fill="#333" >10</text>
<text x="413.80" y="153.90" font-size="5.9" text-anchor="start" font-weight="normal" fill="#333" >10</text>
<text x="425.06" y="148.40" font-size="5.9" text-anchor="start" font-weight="normal" fill="#333" >3</text>
<text x="436.31" y="142.90" font-size="5.9" text-anchor="start" font-weight="normal" fill="#333" >1</text>
<text x="447.57" y="137.40" font-size="5.9" text-anchor="start" font-weight="normal" fill="#333" >0.3</text>
<text x="458.83" y="131.90" font-size="5.9" text-anchor="start" font-weight="normal" fill="#333" >0.1</text>
<text x="470.09" y="126.40" font-size="5.9" text-anchor="start" font-weight="normal" fill="#333" >0.03</text>
<text x="481.34" y="120.90" font-size="5.9" text-anchor="start" font-weight="normal" fill="#333" >0.01</text>
<text x="492.60" y="115.40" font-size="5.9" text-anchor="start" font-weight="normal" fill="#333" >0</text>
<defs><linearGradient id="cb10" x1="0" x2="0" y1="0" y2="1"><stop offset="0.000" stop-color="#2a388a"/><stop offset="0.120" stop-color="#2e50a8"/><stop offset="0.300" stop-color="#3a7cc8"/><stop offset="0.420" stop-color="#3cb6e6"/><stop offset="0.500" stop-color="#76c2a4"/><stop offset="0.560" stop-color="#b0ce50"/><stop offset="0.640" stop-color="#f0e020"/><stop offset="0.740" stop-color="#f08c28"/><stop offset="0.840" stop-color="#e02828"/><stop offset="1.000" stop-color="#8a1818"/></linearGradient></defs>
<rect x="498.9" y="10.4" width="7.4" height="135.1" fill="url(#cb10)"/>
<text x="513.30" y="54.20" font-size="6.4" text-anchor="middle" font-weight="normal" fill="#333" transform="rotate(-90 513.3 54.2)" >Synergy</text>
<text x="513.30" y="97.30" font-size="6.4" text-anchor="middle" font-weight="normal" fill="#333" transform="rotate(-90 513.3 97.3)" >Antagonism</text>
<text x="409.75" y="7.40" font-size="6.15" text-anchor="middle" font-weight="bold" fill="#1a1a1a" >H9 Decitabine vs. Tolinapant</text>
<text x="353.20" y="152.40" font-size="6.6" text-anchor="middle" font-weight="normal" fill="#333" >DAC [µmol/L]</text>
<text x="465.40" y="154.30" font-size="6.6" text-anchor="middle" font-weight="normal" fill="#333" >Tolinapant [µmol/L]</text>
<text x="315.20" y="70.00" font-size="6.1" text-anchor="middle" font-weight="normal" fill="#333" transform="rotate(-90 315.2 70)" >% Control</text>
<text transform="translate(311.1 12.3) scale(0.82 1)" font-size="13.2" font-weight="bold" fill="#4d4d4d">B</text>
<path d="M331.10 265.70L408.00 227.40 M341.96 271.23L418.86 232.93 M352.81 276.76L429.71 238.46 M363.67 282.29L440.57 243.99 M374.53 287.81L451.43 249.51 M385.39 293.34L462.29 255.04 M396.24 298.87L473.14 260.57 M407.10 304.40L484.00 266.10 M331.10 265.70L407.10 304.40 M343.92 259.32L419.92 298.02 M356.73 252.93L432.73 291.63 M369.55 246.55L445.55 285.25 M382.37 240.17L458.37 278.87 M395.18 233.78L471.18 272.48 M408.00 227.40L484.00 266.10 M331.10 265.70L331.10 210.00 M343.92 259.32L343.92 203.62 M356.73 252.93L356.73 197.23 M369.55 246.55L369.55 190.85 M382.37 240.17L382.37 184.47 M395.18 233.78L395.18 178.08 M408.00 227.40L408.00 171.70 M331.10 265.70L408.00 227.40L484.00 266.10 M331.10 237.85L408.00 199.55L484.00 238.25 M331.10 210.00L408.00 171.70L484.00 210.40 M408.00 227.40L408.00 171.70 M418.86 232.93L418.86 177.23 M429.71 238.46L429.71 182.76 M440.57 243.99L440.57 188.29 M451.43 249.51L451.43 193.81 M462.29 255.04L462.29 199.34 M473.14 260.57L473.14 204.87 M484.00 266.10L484.00 210.40" stroke="#dcdcdc" stroke-width="0.5" fill="none"/>
<path d="M395.2 185.9L406.0 192.5L418.9 188.4L408.0 172.8Z" fill="#aece53" stroke="#aece53" stroke-width="0.8"/>
<path d="M406.0 192.5L416.9 202.2L429.7 201.3L418.9 188.4Z" fill="#bed246" stroke="#bed246" stroke-width="0.8"/>
<path d="M382.4 199.8L393.2 206.7L406.0 192.5L395.2 185.9Z" fill="#a9cc5b" stroke="#a9cc5b" stroke-width="0.8"/>
<path d="M416.9 202.2L427.8 218.2L440.6 214.6L429.7 201.3Z" fill="#b8d04a" stroke="#b8d04a" stroke-width="0.8"/>
<path d="M393.2 206.7L404.1 214.1L416.9 202.2L406.0 192.5Z" fill="#b4cf4d" stroke="#b4cf4d" stroke-width="0.8"/>
<path d="M369.6 209.2L380.4 214.5L393.2 206.7L382.4 199.8Z" fill="#9aca6f" stroke="#9aca6f" stroke-width="0.8"/>
<path d="M427.8 218.2L438.6 227.0L451.4 220.7L440.6 214.6Z" fill="#9dca6c" stroke="#9dca6c" stroke-width="0.8"/>
<path d="M404.1 214.1L414.9 230.6L427.8 218.2L416.9 202.2Z" fill="#a1cb65" stroke="#a1cb65" stroke-width="0.8"/>
<path d="M380.4 214.5L391.3 223.1L404.1 214.1L393.2 206.7Z" fill="#91c87d" stroke="#91c87d" stroke-width="0.8"/>
<path d="M356.7 220.1L367.6 226.7L380.4 214.5L369.6 209.2Z" fill="#a2cb65" stroke="#a2cb65" stroke-width="0.8"/>
<path d="M438.6 227.0L449.5 235.2L462.3 227.2L451.4 220.7Z" fill="#9fca69" stroke="#9fca69" stroke-width="0.8"/>
<path d="M414.9 230.6L425.8 240.8L438.6 227.0L427.8 218.2Z" fill="#72c1a8" stroke="#72c1a8" stroke-width="0.8"/>
<path d="M391.3 223.1L402.1 239.7L414.9 230.6L404.1 214.1Z" fill="#72c1a8" stroke="#72c1a8" stroke-width="0.8"/>
<path d="M367.6 226.7L378.4 233.4L391.3 223.1L380.4 214.5Z" fill="#98c973" stroke="#98c973" stroke-width="0.8"/>
<path d="M343.9 230.4L354.8 224.7L367.6 226.7L356.7 220.1Z" fill="#dedb2e" stroke="#dedb2e" stroke-width="0.8"/>
<path d="M449.5 235.2L460.3 243.6L473.1 235.6L462.3 227.2Z" fill="#9ac970" stroke="#9ac970" stroke-width="0.8"/>
<path d="M425.8 240.8L436.7 249.4L449.5 235.2L438.6 227.0Z" fill="#71c1aa" stroke="#71c1aa" stroke-width="0.8"/>
<path d="M402.1 239.7L413.0 251.2L425.8 240.8L414.9 230.6Z" fill="#4cb9d3" stroke="#4cb9d3" stroke-width="0.8"/>
<path d="M378.4 233.4L389.3 249.5L402.1 239.7L391.3 223.1Z" fill="#5dbdc1" stroke="#5dbdc1" stroke-width="0.8"/>
<path d="M354.8 224.7L365.6 231.4L378.4 233.4L367.6 226.7Z" fill="#f0d621" stroke="#f0d621" stroke-width="0.8"/>
<path d="M331.1 242.3L342.0 237.8L354.8 224.7L343.9 230.4Z" fill="#f0da21" stroke="#f0da21" stroke-width="0.8"/>
<path d="M460.3 243.6L471.2 254.3L484.0 246.4L473.1 235.6Z" fill="#7dc49a" stroke="#7dc49a" stroke-width="0.8"/>
<path d="M436.7 249.4L447.5 256.6L460.3 243.6L449.5 235.2Z" fill="#6bc0b0" stroke="#6bc0b0" stroke-width="0.8"/>
<path d="M413.0 251.2L423.8 260.3L436.7 249.4L425.8 240.8Z" fill="#3cafe2" stroke="#3cafe2" stroke-width="0.8"/>
<path d="M389.3 249.5L400.2 260.1L413.0 251.2L402.1 239.7Z" fill="#3b9fda" stroke="#3b9fda" stroke-width="0.8"/>
<path d="M365.6 231.4L376.5 250.3L389.3 249.5L378.4 233.4Z" fill="#95c877" stroke="#95c877" stroke-width="0.8"/>
<path d="M342.0 237.8L352.8 248.4L365.6 231.4L354.8 224.7Z" fill="#f0ae25" stroke="#f0ae25" stroke-width="0.8"/>
<path d="M447.5 256.6L458.4 266.8L471.2 254.3L460.3 243.6Z" fill="#5bbcc3" stroke="#5bbcc3" stroke-width="0.8"/>
<path d="M423.8 260.3L434.7 268.0L447.5 256.6L436.7 249.4Z" fill="#3ba6de" stroke="#3ba6de" stroke-width="0.8"/>
<path d="M400.2 260.1L411.0 268.9L423.8 260.3L413.0 251.2Z" fill="#3a80ca" stroke="#3a80ca" stroke-width="0.8"/>
<path d="M376.5 250.3L387.3 264.4L400.2 260.1L389.3 249.5Z" fill="#3caae0" stroke="#3caae0" stroke-width="0.8"/>
<path d="M352.8 248.4L363.7 258.9L376.5 250.3L365.6 231.4Z" fill="#d0d738" stroke="#d0d738" stroke-width="0.8"/>
<path d="M434.7 268.0L445.6 276.9L458.4 266.8L447.5 256.6Z" fill="#3caae0" stroke="#3caae0" stroke-width="0.8"/>
<path d="M411.0 268.9L421.9 275.9L434.7 268.0L423.8 260.3Z" fill="#3a7dc9" stroke="#3a7dc9" stroke-width="0.8"/>
<path d="M387.3 264.4L398.2 274.1L411.0 268.9L400.2 260.1Z" fill="#3a84cc" stroke="#3a84cc" stroke-width="0.8"/>
<path d="M363.7 258.9L374.5 269.7L387.3 264.4L376.5 250.3Z" fill="#6dc0ae" stroke="#6dc0ae" stroke-width="0.8"/>
<path d="M421.9 275.9L432.7 285.5L445.6 276.9L434.7 268.0Z" fill="#3b8fd2" stroke="#3b8fd2" stroke-width="0.8"/>
<path d="M398.2 274.1L409.1 281.3L421.9 275.9L411.0 268.9Z" fill="#3979c6" stroke="#3979c6" stroke-width="0.8"/>
<path d="M374.5 269.7L385.4 284.1L398.2 274.1L387.3 264.4Z" fill="#3cabe0" stroke="#3cabe0" stroke-width="0.8"/>
<path d="M409.1 281.3L419.9 289.1L432.7 285.5L421.9 275.9Z" fill="#3a7ec9" stroke="#3a7ec9" stroke-width="0.8"/>
<path d="M385.4 284.1L396.2 291.4L409.1 281.3L398.2 274.1Z" fill="#3a88ce" stroke="#3a88ce" stroke-width="0.8"/>
<path d="M396.2 291.4L407.1 298.8L419.9 289.1L409.1 281.3Z" fill="#397ac6" stroke="#397ac6" stroke-width="0.8"/>
<path d="M405.4 175.4L407.6 178.2L410.2 175.9L408.0 172.8Z" fill="#a8cc5b"/>
<path d="M407.6 178.2L409.8 180.9L412.3 179.0L410.2 175.9Z" fill="#aacd59"/>
<path d="M402.9 178.0L405.0 180.4L407.6 178.2L405.4 175.4Z" fill="#aacd59"/>
<path d="M409.8 180.9L412.0 183.7L414.5 182.1L412.3 179.0Z" fill="#accd56"/>
<path d="M405.0 180.4L407.2 182.8L409.8 180.9L407.6 178.2Z" fill="#abcd57"/>
<path d="M400.3 180.7L402.5 182.7L405.0 180.4L402.9 178.0Z" fill="#accd56"/>
<path d="M412.0 183.7L414.1 186.4L416.7 185.3L414.5 182.1Z" fill="#adcd54"/>
<path d="M407.2 182.8L409.4 185.2L412.0 183.7L409.8 180.9Z" fill="#adcd55"/>
<path d="M402.5 182.7L404.7 184.7L407.2 182.8L405.0 180.4Z" fill="#adcd55"/>
<path d="M397.7 183.3L399.9 185.0L402.5 182.7L400.3 180.7Z" fill="#adcd54"/>
<path d="M414.1 186.4L416.3 189.2L418.9 188.4L416.7 185.3Z" fill="#afce51"/>
<path d="M409.4 185.2L411.6 187.6L414.1 186.4L412.0 183.7Z" fill="#aece53"/>
<path d="M404.7 184.7L406.8 186.8L409.4 185.2L407.2 182.8Z" fill="#aece54"/>
<path d="M399.9 185.0L402.1 186.6L404.7 184.7L402.5 182.7Z" fill="#aece53"/>
<path d="M395.2 185.9L397.4 187.2L399.9 185.0L397.7 183.3Z" fill="#afce51"/>
<path d="M416.3 189.2L418.5 191.7L421.0 191.0L418.9 188.4Z" fill="#b1ce4f"/>
<path d="M411.6 187.6L413.7 190.0L416.3 189.2L414.1 186.4Z" fill="#afce51"/>
<path d="M406.8 186.8L409.0 188.8L411.6 187.6L409.4 185.2Z" fill="#afce52"/>
<path d="M402.1 186.6L404.3 188.3L406.8 186.8L404.7 184.7Z" fill="#afce52"/>
<path d="M397.4 187.2L399.5 188.5L402.1 186.6L399.9 185.0Z" fill="#afce51"/>
<path d="M392.6 188.7L394.8 190.0L397.4 187.2L395.2 185.9Z" fill="#b0ce50"/>
<path d="M418.5 191.7L420.6 194.1L423.2 193.5L421.0 191.0Z" fill="#b4cf4d"/>
<path d="M413.7 190.0L415.9 192.4L418.5 191.7L416.3 189.2Z" fill="#b2cf4e"/>
<path d="M409.0 188.8L411.2 190.9L413.7 190.0L411.6 187.6Z" fill="#b0ce51"/>
<path d="M404.3 188.3L406.4 190.0L409.0 188.8L406.8 186.8Z" fill="#afce51"/>
<path d="M399.5 188.5L401.7 189.9L404.3 188.3L402.1 186.6Z" fill="#b0ce51"/>
<path d="M394.8 190.0L397.0 191.3L399.5 188.5L397.4 187.2Z" fill="#afce51"/>
<path d="M390.1 191.4L392.2 192.8L394.8 190.0L392.6 188.7Z" fill="#afce51"/>
<path d="M420.6 194.1L422.8 196.6L425.4 196.1L423.2 193.5Z" fill="#b6d04c"/>
<path d="M415.9 192.4L418.1 194.7L420.6 194.1L418.5 191.7Z" fill="#b6d04c"/>
<path d="M411.2 190.9L413.3 193.1L415.9 192.4L413.7 190.0Z" fill="#b3cf4e"/>
<path d="M406.4 190.0L408.6 191.7L411.2 190.9L409.0 188.8Z" fill="#b0ce50"/>
<path d="M401.7 189.9L403.9 191.2L406.4 190.0L404.3 188.3Z" fill="#b0ce50"/>
<path d="M397.0 191.3L399.1 192.7L401.7 189.9L399.5 188.5Z" fill="#afce52"/>
<path d="M392.2 192.8L394.4 194.1L397.0 191.3L394.8 190.0Z" fill="#adcd54"/>
<path d="M422.8 196.6L425.0 199.0L427.5 198.7L425.4 196.1Z" fill="#b8d04a"/>
<path d="M387.5 194.2L389.7 195.6L392.2 192.8L390.1 191.4Z" fill="#afce52"/>
<path d="M418.1 194.7L420.2 197.0L422.8 196.6L420.6 194.1Z" fill="#bad148"/>
<path d="M413.3 193.1L415.5 195.3L418.1 194.7L415.9 192.4Z" fill="#b8d04a"/>
<path d="M408.6 191.7L410.8 193.8L413.3 193.1L411.2 190.9Z" fill="#b4cf4d"/>
<path d="M403.9 191.2L406.0 192.5L408.6 191.7L406.4 190.0Z" fill="#b0ce50"/>
<path d="M399.1 192.7L401.3 194.0L403.9 191.2L401.7 189.9Z" fill="#aece53"/>
<path d="M394.4 194.1L396.6 195.5L399.1 192.7L397.0 191.3Z" fill="#accd56"/>
<path d="M425.0 199.0L427.2 201.5L429.7 201.3L427.5 198.7Z" fill="#bbd148"/>
<path d="M389.7 195.6L391.8 196.9L394.4 194.1L392.2 192.8Z" fill="#accd56"/>
<path d="M420.2 197.0L422.4 199.3L425.0 199.0L422.8 196.6Z" fill="#bed246"/>
<path d="M384.9 197.0L387.1 198.4L389.7 195.6L387.5 194.2Z" fill="#aece53"/>
<path d="M415.5 195.3L417.7 197.5L420.2 197.0L418.1 194.7Z" fill="#bed246"/>
<path d="M410.8 193.8L412.9 195.8L415.5 195.3L413.3 193.1Z" fill="#bbd148"/>
<path d="M406.0 192.5L408.2 194.5L410.8 193.8L408.6 191.7Z" fill="#b4cf4d"/>
<path d="M401.3 194.0L403.5 195.4L406.0 192.5L403.9 191.2Z" fill="#adcd54"/>
<path d="M396.6 195.5L398.7 196.8L401.3 194.0L399.1 192.7Z" fill="#aacd59"/>
<path d="M427.2 201.5L429.3 204.3L431.9 204.0L429.7 201.3Z" fill="#bbd148"/>
<path d="M391.8 196.9L394.0 198.3L396.6 195.5L394.4 194.1Z" fill="#a9cc5b"/>
<path d="M422.4 199.3L424.6 201.7L427.2 201.5L425.0 199.0Z" fill="#c2d342"/>
<path d="M387.1 198.4L389.3 199.7L391.8 196.9L389.7 195.6Z" fill="#aacd59"/>
<path d="M417.7 197.5L419.9 199.7L422.4 199.3L420.2 197.0Z" fill="#c4d441"/>
<path d="M382.4 199.8L384.5 201.2L387.1 198.4L384.9 197.0Z" fill="#adcd54"/>
<path d="M412.9 195.8L415.1 197.9L417.7 197.5L415.5 195.3Z" fill="#c2d342"/>
<path d="M408.2 194.5L410.4 196.4L412.9 195.8L410.8 193.8Z" fill="#bdd246"/>
<path d="M403.5 195.4L405.6 197.2L408.2 194.5L406.0 192.5Z" fill="#b2cf4e"/>
<path d="M398.7 196.8L400.9 198.2L403.5 195.4L401.3 194.0Z" fill="#a8cc5b"/>
<path d="M429.3 204.3L431.5 207.0L434.1 206.6L431.9 204.0Z" fill="#b8d04a"/>
<path d="M424.6 201.7L426.8 204.5L429.3 204.3L427.2 201.5Z" fill="#c1d343"/>
<path d="M394.0 198.3L396.2 199.7L398.7 196.8L396.6 195.5Z" fill="#a6cc5f"/>
<path d="M389.3 199.7L391.4 201.1L394.0 198.3L391.8 196.9Z" fill="#a6cc5f"/>
<path d="M419.9 199.7L422.0 201.9L424.6 201.7L422.4 199.3Z" fill="#c9d53d"/>
<path d="M384.5 201.2L386.7 202.6L389.3 199.7L387.1 198.4Z" fill="#a8cc5b"/>
<path d="M415.1 197.9L417.3 200.0L419.9 199.7L417.7 197.5Z" fill="#c9d53d"/>
<path d="M379.8 201.7L382.0 203.0L384.5 201.2L382.4 199.8Z" fill="#aacd58"/>
<path d="M410.4 196.4L412.6 198.3L415.1 197.9L412.9 195.8Z" fill="#c6d43f"/>
<path d="M405.6 197.2L407.8 199.1L410.4 196.4L408.2 194.5Z" fill="#bbd148"/>
<path d="M400.9 198.2L403.1 200.0L405.6 197.2L403.5 195.4Z" fill="#accd56"/>
<path d="M431.5 207.0L433.7 209.8L436.2 209.3L434.1 206.6Z" fill="#b5cf4c"/>
<path d="M396.2 199.7L398.4 201.0L400.9 198.2L398.7 196.8Z" fill="#a3cb63"/>
<path d="M426.8 204.5L428.9 207.4L431.5 207.0L429.3 204.3Z" fill="#bcd147"/>
<path d="M391.4 201.1L393.6 202.5L396.2 199.7L394.0 198.3Z" fill="#a2cb65"/>
<path d="M422.0 201.9L424.2 204.8L426.8 204.5L424.6 201.7Z" fill="#c8d53e"/>
<path d="M386.7 202.6L388.9 203.9L391.4 201.1L389.3 199.7Z" fill="#a3cb63"/>
<path d="M417.3 200.0L419.5 202.0L422.0 201.9L419.9 199.7Z" fill="#d0d738"/>
<path d="M382.0 203.0L384.1 204.3L386.7 202.6L384.5 201.2Z" fill="#a5cc60"/>
<path d="M412.6 198.3L414.7 200.3L417.3 200.0L415.1 197.9Z" fill="#cfd739"/>
<path d="M377.2 203.6L379.4 204.8L382.0 203.0L379.8 201.7Z" fill="#a5cc60"/>
<path d="M407.8 199.1L410.0 200.9L412.6 198.3L410.4 196.4Z" fill="#c4d441"/>
<path d="M433.7 209.8L435.8 212.5L438.4 211.9L436.2 209.3Z" fill="#b2cf4f"/>
<path d="M403.1 200.0L405.3 201.7L407.8 199.1L405.6 197.2Z" fill="#b4cf4d"/>
<path d="M398.4 201.0L400.5 202.7L403.1 200.0L400.9 198.2Z" fill="#a5cc5f"/>
<path d="M428.9 207.4L431.1 210.3L433.7 209.8L431.5 207.0Z" fill="#b6d04b"/>
<path d="M393.6 202.5L395.8 203.9L398.4 201.0L396.2 199.7Z" fill="#9eca6a"/>
<path d="M424.2 204.8L426.4 207.8L428.9 207.4L426.8 204.5Z" fill="#c0d244"/>
<path d="M388.9 203.9L391.1 205.3L393.6 202.5L391.4 201.1Z" fill="#9eca6a"/>
<path d="M419.5 202.0L421.6 205.1L424.2 204.8L422.0 201.9Z" fill="#cfd739"/>
<path d="M384.1 204.3L386.3 205.6L388.9 203.9L386.7 202.6Z" fill="#a0cb67"/>
<path d="M414.7 200.3L416.9 202.2L419.5 202.0L417.3 200.0Z" fill="#d8d932"/>
<path d="M379.4 204.8L381.6 206.1L384.1 204.3L382.0 203.0Z" fill="#a1cb65"/>
<path d="M410.0 200.9L412.2 202.8L414.7 200.3L412.6 198.3Z" fill="#cdd63a"/>
<path d="M374.7 205.5L376.8 206.6L379.4 204.8L377.2 203.6Z" fill="#a0cb67"/>
<path d="M405.3 201.7L407.4 203.5L410.0 200.9L407.8 199.1Z" fill="#bcd147"/>
<path d="M435.8 212.5L438.0 215.3L440.6 214.6L438.4 211.9Z" fill="#afce52"/>
<path d="M400.5 202.7L402.7 204.4L405.3 201.7L403.1 200.0Z" fill="#adcd54"/>
<path d="M431.1 210.3L433.3 213.1L435.8 212.5L433.7 209.8Z" fill="#b1ce4f"/>
<path d="M395.8 203.9L398.0 205.4L400.5 202.7L398.4 201.0Z" fill="#9fca69"/>
<path d="M426.4 207.8L428.5 210.8L431.1 210.3L428.9 207.4Z" fill="#b8d04a"/>
<path d="M391.1 205.3L393.2 206.7L395.8 203.9L393.6 202.5Z" fill="#99c972"/>
<path d="M421.6 205.1L423.8 208.2L426.4 207.8L424.2 204.8Z" fill="#c4d441"/>
<path d="M386.3 205.6L388.5 206.9L391.1 205.3L388.9 203.9Z" fill="#9bca6f"/>
<path d="M416.9 202.2L419.1 205.4L421.6 205.1L419.5 202.0Z" fill="#d5d934"/>
<path d="M381.6 206.1L383.8 207.3L386.3 205.6L384.1 204.3Z" fill="#9dca6b"/>
<path d="M412.2 202.8L414.3 204.6L416.9 202.2L414.7 200.3Z" fill="#d6d934"/>
<path d="M376.8 206.6L379.0 207.8L381.6 206.1L379.4 204.8Z" fill="#9dca6b"/>
<path d="M438.0 215.3L440.2 216.6L442.7 215.8L440.6 214.6Z" fill="#adcd54"/>
<path d="M407.4 203.5L409.6 205.2L412.2 202.8L410.0 200.9Z" fill="#c4d441"/>
<path d="M372.1 207.3L374.3 208.5L376.8 206.6L374.7 205.5Z" fill="#9bca6f"/>
<path d="M433.3 213.1L435.4 216.0L438.0 215.3L435.8 212.5Z" fill="#abcd58"/>
<path d="M402.7 204.4L404.9 206.0L407.4 203.5L405.3 201.7Z" fill="#b4cf4d"/>
<path d="M398.0 205.4L400.1 207.0L402.7 204.4L400.5 202.7Z" fill="#a5cc60"/>
<path d="M428.5 210.8L430.7 213.8L433.3 213.1L431.1 210.3Z" fill="#b0ce50"/>
<path d="M393.2 206.7L395.4 208.2L398.0 205.4L395.8 203.9Z" fill="#98c972"/>
<path d="M423.8 208.2L426.0 211.3L428.5 210.8L426.4 207.8Z" fill="#bad149"/>
<path d="M388.5 206.9L390.7 208.3L393.2 206.7L391.1 205.3Z" fill="#96c976"/>
<path d="M419.1 205.4L421.2 208.6L423.8 208.2L421.6 205.1Z" fill="#c8d53e"/>
<path d="M414.3 204.6L416.5 207.8L419.1 205.4L416.9 202.2Z" fill="#d3d835"/>
<path d="M383.8 207.3L385.9 208.6L388.5 206.9L386.3 205.6Z" fill="#99c971"/>
<path d="M379.0 207.8L381.2 209.0L383.8 207.3L381.6 206.1Z" fill="#9aca70"/>
<path d="M409.6 205.2L411.8 207.0L414.3 204.6L412.2 202.8Z" fill="#cbd63b"/>
<path d="M440.2 216.6L442.4 218.0L444.9 217.0L442.7 215.8Z" fill="#adcd55"/>
<path d="M374.3 208.5L376.5 209.6L379.0 207.8L376.8 206.6Z" fill="#99c971"/>
<path d="M404.9 206.0L407.0 207.7L409.6 205.2L407.4 203.5Z" fill="#bad148"/>
<path d="M435.4 216.0L437.6 217.5L440.2 216.6L438.0 215.3Z" fill="#a7cc5d"/>
<path d="M369.6 209.2L371.7 210.3L374.3 208.5L372.1 207.3Z" fill="#96c976"/>
<path d="M400.1 207.0L402.3 208.6L404.9 206.0L402.7 204.4Z" fill="#abcd57"/>
<path d="M430.7 213.8L432.9 216.7L435.4 216.0L433.3 213.1Z" fill="#a6cc5e"/>
<path d="M426.0 211.3L428.1 214.4L430.7 213.8L428.5 210.8Z" fill="#afce52"/>
<path d="M395.4 208.2L397.6 209.7L400.1 207.0L398.0 205.4Z" fill="#9dca6c"/>
<path d="M390.7 208.3L392.8 209.8L395.4 208.2L393.2 206.7Z" fill="#94c878"/>
<path d="M421.2 208.6L423.4 211.8L426.0 211.3L423.8 208.2Z" fill="#bbd148"/>
<path d="M385.9 208.6L388.1 209.8L390.7 208.3L388.5 206.9Z" fill="#95c877"/>
<path d="M416.5 207.8L418.7 211.0L421.2 208.6L419.1 205.4Z" fill="#c5d440"/>
<path d="M381.2 209.0L383.4 210.2L385.9 208.6L383.8 207.3Z" fill="#97c974"/>
<path d="M411.8 207.0L413.9 210.2L416.5 207.8L414.3 204.6Z" fill="#c8d53e"/>
<path d="M442.4 218.0L444.5 219.3L447.1 218.2L444.9 217.0Z" fill="#accd56"/>
<path d="M376.5 209.6L378.6 210.7L381.2 209.0L379.0 207.8Z" fill="#97c974"/>
<path d="M437.6 217.5L439.8 218.9L442.4 218.0L440.2 216.6Z" fill="#a6cc5f"/>
<path d="M407.0 207.7L409.2 209.4L411.8 207.0L409.6 205.2Z" fill="#c1d343"/>
<path d="M371.7 210.3L373.9 211.3L376.5 209.6L374.3 208.5Z" fill="#95c877"/>
<path d="M402.3 208.6L404.5 210.2L407.0 207.7L404.9 206.0Z" fill="#b1ce4f"/>
<path d="M432.9 216.7L435.1 218.3L437.6 217.5L435.4 216.0Z" fill="#a1cb66"/>
<path d="M367.0 211.4L369.2 212.5L371.7 210.3L369.6 209.2Z" fill="#94c878"/>
<path d="M428.1 214.4L430.3 217.5L432.9 216.7L430.7 213.8Z" fill="#a2cb64"/>
<path d="M397.6 209.7L399.7 211.2L402.3 208.6L400.1 207.0Z" fill="#a2cb65"/>
<path d="M392.8 209.8L395.0 211.3L397.6 209.7L395.4 208.2Z" fill="#97c974"/>
<path d="M423.4 211.8L425.6 215.0L428.1 214.4L426.0 211.3Z" fill="#aece53"/>
<path d="M388.1 209.8L390.3 211.4L392.8 209.8L390.7 208.3Z" fill="#93c879"/>
<path d="M418.7 211.0L420.8 214.2L423.4 211.8L421.2 208.6Z" fill="#b7d04b"/>
<path d="M383.4 210.2L385.5 211.4L388.1 209.8L385.9 208.6Z" fill="#94c878"/>
<path d="M444.5 219.3L446.7 220.6L449.3 219.4L447.1 218.2Z" fill="#accd56"/>
<path d="M413.9 210.2L416.1 213.4L418.7 211.0L416.5 207.8Z" fill="#bbd148"/>
<path d="M378.6 210.7L380.8 211.8L383.4 210.2L381.2 209.0Z" fill="#96c976"/>
<path d="M409.2 209.4L411.4 212.6L413.9 210.2L411.8 207.0Z" fill="#bed246"/>
<path d="M439.8 218.9L442.0 220.3L444.5 219.3L442.4 218.0Z" fill="#a4cc61"/>
<path d="M373.9 211.3L376.1 212.4L378.6 210.7L376.5 209.6Z" fill="#94c878"/>
<path d="M404.5 210.2L406.6 211.7L409.2 209.4L407.0 207.7Z" fill="#b6d04b"/>
<path d="M435.1 218.3L437.2 219.8L439.8 218.9L437.6 217.5Z" fill="#9fca69"/>
<path d="M369.2 212.5L371.3 213.6L373.9 211.3L371.7 210.3Z" fill="#95c877"/>
<path d="M430.3 217.5L432.5 219.1L435.1 218.3L432.9 216.7Z" fill="#9aca6f"/>
<path d="M399.7 211.2L401.9 212.6L404.5 210.2L402.3 208.6Z" fill="#a6cc5e"/>
<path d="M364.4 213.6L366.6 214.7L369.2 212.5L367.0 211.4Z" fill="#97c974"/>
<path d="M395.0 211.3L397.2 212.9L399.7 211.2L397.6 209.7Z" fill="#9aca6f"/>
<path d="M425.6 215.0L427.8 218.2L430.3 217.5L428.1 214.4Z" fill="#9eca6a"/>
<path d="M420.8 214.2L423.0 217.4L425.6 215.0L423.4 211.8Z" fill="#a8cc5c"/>
<path d="M390.3 211.4L392.4 213.0L395.0 211.3L392.8 209.8Z" fill="#94c878"/>
<path d="M385.5 211.4L387.7 213.0L390.3 211.4L388.1 209.8Z" fill="#93c87b"/>
<path d="M446.7 220.6L448.9 221.9L451.4 220.7L449.3 219.4Z" fill="#abcd57"/>
<path d="M416.1 213.4L418.3 216.7L420.8 214.2L418.7 211.0Z" fill="#adcd54"/>
<path d="M380.8 211.8L383.0 212.9L385.5 211.4L383.4 210.2Z" fill="#94c879"/>
<path d="M442.0 220.3L444.1 221.8L446.7 220.6L444.5 219.3Z" fill="#a3cb62"/>
<path d="M411.4 212.6L413.6 215.9L416.1 213.4L413.9 210.2Z" fill="#b1ce4f"/>
<path d="M376.1 212.4L378.2 213.4L380.8 211.8L378.6 210.7Z" fill="#94c879"/>
<path d="M406.6 211.7L408.8 215.0L411.4 212.6L409.2 209.4Z" fill="#b3cf4e"/>
<path d="M437.2 219.8L439.4 221.4L442.0 220.3L439.8 218.9Z" fill="#9dca6c"/>
<path d="M371.3 213.6L373.5 214.7L376.1 212.4L373.9 211.3Z" fill="#96c976"/>
<path d="M432.5 219.1L434.7 220.8L437.2 219.8L435.1 218.3Z" fill="#98c973"/>
<path d="M401.9 212.6L404.1 214.1L406.6 211.7L404.5 210.2Z" fill="#abcd58"/>
<path d="M366.6 214.7L368.8 215.9L371.3 213.6L369.2 212.5Z" fill="#99c971"/>
<path d="M397.2 212.9L399.3 214.4L401.9 212.6L399.7 211.2Z" fill="#9dca6b"/>
<path d="M427.8 218.2L429.9 219.9L432.5 219.1L430.3 217.5Z" fill="#94c878"/>
<path d="M361.9 215.7L364.0 217.0L366.6 214.7L364.4 213.6Z" fill="#9ac970"/>
<path d="M423.0 217.4L425.2 220.7L427.8 218.2L425.6 215.0Z" fill="#97c975"/>
<path d="M392.4 213.0L394.6 214.5L397.2 212.9L395.0 211.3Z" fill="#95c876"/>
<path d="M448.9 221.9L451.0 223.3L453.6 222.0L451.4 220.7Z" fill="#abcd57"/>
<path d="M387.7 213.0L389.9 214.6L392.4 213.0L390.3 211.4Z" fill="#92c87c"/>
<path d="M418.3 216.7L420.5 219.9L423.0 217.4L420.8 214.2Z" fill="#9dca6c"/>
<path d="M383.0 212.9L385.1 214.6L387.7 213.0L385.5 211.4Z" fill="#92c87c"/>
<path d="M444.1 221.8L446.3 223.2L448.9 221.9L446.7 220.6Z" fill="#a2cb64"/>
<path d="M413.6 215.9L415.7 219.1L418.3 216.7L416.1 213.4Z" fill="#a2cb65"/>
<path d="M378.2 213.4L380.4 214.5L383.0 212.9L380.8 211.8Z" fill="#93c87a"/>
<path d="M408.8 215.0L411.0 218.3L413.6 215.9L411.4 212.6Z" fill="#a5cc61"/>
<path d="M439.4 221.4L441.6 222.9L444.1 221.8L442.0 220.3Z" fill="#9bca6f"/>
<path d="M373.5 214.7L375.7 215.8L378.2 213.4L376.1 212.4Z" fill="#97c975"/>
<path d="M404.1 214.1L406.3 217.4L408.8 215.0L406.6 211.7Z" fill="#a6cc5e"/>
<path d="M434.7 220.8L436.8 222.4L439.4 221.4L437.2 219.8Z" fill="#95c877"/>
<path d="M368.8 215.9L370.9 217.1L373.5 214.7L371.3 213.6Z" fill="#9cca6d"/>
<path d="M399.3 214.4L401.5 215.9L404.1 214.1L401.9 212.6Z" fill="#a0cb67"/>
<path d="M429.9 219.9L432.1 221.7L434.7 220.8L432.5 219.1Z" fill="#91c87d"/>
<path d="M364.0 217.0L366.2 218.2L368.8 215.9L366.6 214.7Z" fill="#9eca6b"/>
<path d="M425.2 220.7L427.4 222.5L429.9 219.9L427.8 218.2Z" fill="#8cc784"/>
<path d="M394.6 214.5L396.8 216.1L399.3 214.4L397.2 212.9Z" fill="#96c975"/>
<path d="M451.0 223.3L453.2 224.7L455.8 223.3L453.6 222.0Z" fill="#accd56"/>
<path d="M359.3 217.9L361.5 219.2L364.0 217.0L361.9 215.7Z" fill="#9cca6c"/>
<path d="M389.9 214.6L392.0 216.2L394.6 214.5L392.4 213.0Z" fill="#91c87d"/>
<path d="M420.5 219.9L422.6 223.1L425.2 220.7L423.0 217.4Z" fill="#8dc783"/>
<path d="M446.3 223.2L448.5 224.7L451.0 223.3L448.9 221.9Z" fill="#a2cb64"/>
<path d="M385.1 214.6L387.3 216.3L389.9 214.6L387.7 213.0Z" fill="#8fc780"/>
<path d="M415.7 219.1L417.9 222.4L420.5 219.9L418.3 216.7Z" fill="#92c87b"/>
<path d="M380.4 214.5L382.6 216.2L385.1 214.6L383.0 212.9Z" fill="#91c87d"/>
<path d="M411.0 218.3L413.2 221.6L415.7 219.1L413.6 215.9Z" fill="#96c976"/>
<path d="M441.6 222.9L443.7 224.5L446.3 223.2L444.1 221.8Z" fill="#99c972"/>
<path d="M375.7 215.8L377.8 216.9L380.4 214.5L378.2 213.4Z" fill="#97c974"/>
<path d="M436.8 222.4L439.0 224.1L441.6 222.9L439.4 221.4Z" fill="#92c87b"/>
<path d="M406.3 217.4L408.4 220.7L411.0 218.3L408.8 215.0Z" fill="#98c972"/>
<path d="M401.5 215.9L403.7 219.2L406.3 217.4L404.1 214.1Z" fill="#9bca6f"/>
<path d="M370.9 217.1L373.1 218.2L375.7 215.8L373.5 214.7Z" fill="#9eca6a"/>
<path d="M432.1 221.7L434.3 223.5L436.8 222.4L434.7 220.8Z" fill="#8dc782"/>
<path d="M366.2 218.2L368.4 219.4L370.9 217.1L368.8 215.9Z" fill="#a2cb65"/>
<path d="M427.4 222.5L429.5 224.3L432.1 221.7L429.9 219.9Z" fill="#88c689"/>
<path d="M396.8 216.1L399.0 217.7L401.5 215.9L399.3 214.4Z" fill="#97c974"/>
<path d="M361.5 219.2L363.6 220.4L366.2 218.2L364.0 217.0Z" fill="#a2cb64"/>
<path d="M392.0 216.2L394.2 217.9L396.8 216.1L394.6 214.5Z" fill="#90c77f"/>
<path d="M453.2 224.7L455.4 226.1L457.9 224.6L455.8 223.3Z" fill="#adcd55"/>
<path d="M422.6 223.1L424.8 225.0L427.4 222.5L425.2 220.7Z" fill="#83c592"/>
<path d="M448.5 224.7L450.6 226.1L453.2 224.7L451.0 223.3Z" fill="#a4cc61"/>
<path d="M356.7 220.1L358.9 221.4L361.5 219.2L359.3 217.9Z" fill="#9fcb68"/>
<path d="M387.3 216.3L389.5 217.9L392.0 216.2L389.9 214.6Z" fill="#8cc684"/>
<path d="M417.9 222.4L420.1 225.6L422.6 223.1L420.5 219.9Z" fill="#83c592"/>
<path d="M382.6 216.2L384.8 217.9L387.3 216.3L385.1 214.6Z" fill="#8cc684"/>
<path d="M443.7 224.5L445.9 226.0L448.5 224.7L446.3 223.2Z" fill="#99c971"/>
<path d="M413.2 221.6L415.3 224.8L417.9 222.4L415.7 219.1Z" fill="#87c68b"/>
<path d="M377.8 216.9L380.0 218.6L382.6 216.2L380.4 214.5Z" fill="#95c877"/>
<path d="M439.0 224.1L441.2 225.8L443.7 224.5L441.6 222.9Z" fill="#90c77f"/>
<path d="M408.4 220.7L410.6 224.0L413.2 221.6L411.0 218.3Z" fill="#8ac687"/>
<path d="M373.1 218.2L375.3 219.4L377.8 216.9L375.7 215.8Z" fill="#a0cb67"/>
<path d="M403.7 219.2L405.9 222.5L408.4 220.7L406.3 217.4Z" fill="#8ec782"/>
<path d="M434.3 223.5L436.4 225.3L439.0 224.1L436.8 222.4Z" fill="#8ac687"/>
<path d="M368.4 219.4L370.5 220.6L373.1 218.2L370.9 217.1Z" fill="#a5cc5f"/>
<path d="M399.0 217.7L401.1 221.0L403.7 219.2L401.5 215.9Z" fill="#92c87c"/>
<path d="M429.5 224.3L431.7 226.1L434.3 223.5L432.1 221.7Z" fill="#84c58f"/>
<path d="M363.6 220.4L365.8 221.7L368.4 219.4L366.2 218.2Z" fill="#a7cc5d"/>
<path d="M394.2 217.9L396.4 219.5L399.0 217.7L396.8 216.1Z" fill="#8fc780"/>
<path d="M455.4 226.1L457.6 227.4L460.1 225.9L457.9 224.6Z" fill="#adcd54"/>
<path d="M424.8 225.0L427.0 226.9L429.5 224.3L427.4 222.5Z" fill="#7fc497"/>
<path d="M358.9 221.4L361.1 222.7L363.6 220.4L361.5 219.2Z" fill="#a6cc5e"/>
<path d="M389.5 217.9L391.7 219.6L394.2 217.9L392.0 216.2Z" fill="#89c689"/>
<path d="M450.6 226.1L452.8 227.5L455.4 226.1L453.2 224.7Z" fill="#a6cc5f"/>
<path d="M420.1 225.6L422.2 227.6L424.8 225.0L422.6 223.1Z" fill="#79c3a0"/>
<path d="M354.2 222.1L356.3 223.0L358.9 221.4L356.7 220.1Z" fill="#a5cc60"/>
<path d="M384.8 217.9L386.9 219.6L389.5 217.9L387.3 216.3Z" fill="#87c68b"/>
<path d="M445.9 226.0L448.1 227.5L450.6 226.1L448.5 224.7Z" fill="#9cca6d"/>
<path d="M415.3 224.8L417.5 228.1L420.1 225.6L417.9 222.4Z" fill="#79c3a0"/>
<path d="M380.0 218.6L382.2 220.2L384.8 217.9L382.6 216.2Z" fill="#8fc780"/>
<path d="M441.2 225.8L443.3 227.3L445.9 226.0L443.7 224.5Z" fill="#90c77e"/>
<path d="M410.6 224.0L412.8 227.3L415.3 224.8L413.2 221.6Z" fill="#7cc39b"/>
<path d="M375.3 219.4L377.5 220.9L380.0 218.6L377.8 216.9Z" fill="#9eca6a"/>
<path d="M405.9 222.5L408.0 225.8L410.6 224.0L408.4 220.7Z" fill="#81c495"/>
<path d="M436.4 225.3L438.6 227.0L441.2 225.8L439.0 224.1Z" fill="#86c58c"/>
<path d="M370.5 220.6L372.7 221.8L375.3 219.4L373.1 218.2Z" fill="#a9cd5a"/>
<path d="M431.7 226.1L433.9 228.0L436.4 225.3L434.3 223.5Z" fill="#81c495"/>
<path d="M401.1 221.0L403.3 224.3L405.9 222.5L403.7 219.2Z" fill="#85c58e"/>
<path d="M396.4 219.5L398.6 222.8L401.1 221.0L399.0 217.7Z" fill="#88c689"/>
<path d="M365.8 221.7L368.0 223.0L370.5 220.6L368.4 219.4Z" fill="#adcd55"/>
<path d="M457.6 227.4L459.7 228.8L462.3 227.2L460.1 225.9Z" fill="#aece53"/>
<path d="M427.0 226.9L429.1 228.8L431.7 226.1L429.5 224.3Z" fill="#7bc39d"/>
<path d="M361.1 222.7L363.2 224.1L365.8 221.7L363.6 220.4Z" fill="#adcd54"/>
<path d="M391.7 219.6L393.8 221.3L396.4 219.5L394.2 217.9Z" fill="#86c58d"/>
<path d="M452.8 227.5L455.0 229.0L457.6 227.4L455.4 226.1Z" fill="#a8cc5c"/>
<path d="M422.2 227.6L424.4 229.5L427.0 226.9L424.8 225.0Z" fill="#75c2a5"/>
<path d="M356.3 223.0L358.5 223.8L361.1 222.7L358.9 221.4Z" fill="#b0ce50"/>
<path d="M386.9 219.6L389.1 221.4L391.7 219.6L389.5 217.9Z" fill="#82c492"/>
<path d="M417.5 228.1L419.7 230.1L422.2 227.6L420.1 225.6Z" fill="#71c1aa"/>
<path d="M448.1 227.5L450.3 229.0L452.8 227.5L450.6 226.1Z" fill="#9fca69"/>
<path d="M351.6 224.2L353.8 224.5L356.3 223.0L354.2 222.1Z" fill="#aece53"/>
<path d="M382.2 220.2L384.4 221.8L386.9 219.6L384.8 217.9Z" fill="#88c689"/>
<path d="M443.3 227.3L445.5 228.9L448.1 227.5L445.9 226.0Z" fill="#94c878"/>
<path d="M412.8 227.3L414.9 230.6L417.5 228.1L415.3 224.8Z" fill="#70c1aa"/>
<path d="M438.6 227.0L440.8 228.7L443.3 227.3L441.2 225.8Z" fill="#87c68b"/>
<path d="M408.0 225.8L410.2 229.1L412.8 227.3L410.6 224.0Z" fill="#74c2a6"/>
<path d="M377.5 220.9L379.6 222.5L382.2 220.2L380.0 218.6Z" fill="#97c974"/>
<path d="M372.7 221.8L374.9 223.3L377.5 220.9L375.3 219.4Z" fill="#a7cc5d"/>
<path d="M433.9 228.0L436.0 229.8L438.6 227.0L436.4 225.3Z" fill="#7dc39a"/>
<path d="M403.3 224.3L405.5 227.6L408.0 225.8L405.9 222.5Z" fill="#79c3a0"/>
<path d="M459.7 228.8L461.9 230.5L464.5 228.9L462.3 227.2Z" fill="#accd56"/>
<path d="M368.0 223.0L370.2 224.3L372.7 221.8L370.5 220.6Z" fill="#b2ce4f"/>
<path d="M398.6 222.8L400.7 226.1L403.3 224.3L401.1 221.0Z" fill="#7dc39a"/>
<path d="M429.1 228.8L431.3 230.7L433.9 228.0L431.7 226.1Z" fill="#77c2a3"/>
<path d="M393.8 221.3L396.0 224.6L398.6 222.8L396.4 219.5Z" fill="#7fc497"/>
<path d="M363.2 224.1L365.4 225.4L368.0 223.0L365.8 221.7Z" fill="#b3cf4d"/>
<path d="M455.0 229.0L457.2 230.4L459.7 228.8L457.6 227.4Z" fill="#a9cd5a"/>
<path d="M424.4 229.5L426.6 231.4L429.1 228.8L427.0 226.9Z" fill="#72c1a8"/>
<path d="M358.5 223.8L360.7 224.6L363.2 224.1L361.1 222.7Z" fill="#b9d149"/>
<path d="M389.1 221.4L391.3 223.1L393.8 221.3L391.7 219.6Z" fill="#7dc49a"/>
<path d="M419.7 230.1L421.8 232.1L424.4 229.5L422.2 227.6Z" fill="#6ec0ad"/>
<path d="M450.3 229.0L452.4 230.5L455.0 229.0L452.8 227.5Z" fill="#a2cb64"/>
<path d="M353.8 224.5L355.9 224.9L358.5 223.8L356.3 223.0Z" fill="#bdd246"/>
<path d="M384.4 221.8L386.5 223.5L389.1 221.4L386.9 219.6Z" fill="#82c592"/>
<path d="M445.5 228.9L447.7 230.5L450.3 229.0L448.1 227.5Z" fill="#98c972"/>
<path d="M414.9 230.6L417.1 232.6L419.7 230.1L417.5 228.1Z" fill="#6abfb2"/>
<path d="M349.0 226.2L351.2 226.1L353.8 224.5L351.6 224.2Z" fill="#b6d04c"/>
<path d="M440.8 228.7L443.0 230.3L445.5 228.9L443.3 227.3Z" fill="#8cc784"/>
<path d="M410.2 229.1L412.4 232.4L414.9 230.6L412.8 227.3Z" fill="#6ac0b1"/>
<path d="M379.6 222.5L381.8 224.1L384.4 221.8L382.2 220.2Z" fill="#90c77e"/>
<path d="M436.0 229.8L438.2 231.5L440.8 228.7L438.6 227.0Z" fill="#7dc499"/>
<path d="M374.9 223.3L377.1 224.8L379.6 222.5L377.5 220.9Z" fill="#a0cb68"/>
<path d="M405.5 227.6L407.6 230.9L410.2 229.1L408.0 225.8Z" fill="#6fc1ac"/>
<path d="M461.9 230.5L464.1 232.2L466.6 230.6L464.5 228.9Z" fill="#a8cc5c"/>
<path d="M370.2 224.3L372.3 225.7L374.9 223.3L372.7 221.8Z" fill="#b0ce50"/>
<path d="M400.7 226.1L402.9 229.4L405.5 227.6L403.3 224.3Z" fill="#72c1a8"/>
<path d="M431.3 230.7L433.5 232.6L436.0 229.8L433.9 228.0Z" fill="#74c2a6"/>
<path d="M457.2 230.4L459.3 232.1L461.9 230.5L459.7 228.8Z" fill="#a8cc5c"/>
<path d="M365.4 225.4L367.6 226.7L370.2 224.3L368.0 223.0Z" fill="#b9d149"/>
<path d="M396.0 224.6L398.2 227.9L400.7 226.1L398.6 222.8Z" fill="#75c2a5"/>
<path d="M426.6 231.4L428.8 233.4L431.3 230.7L429.1 228.8Z" fill="#6fc1ab"/>
<path d="M391.3 223.1L393.4 226.4L396.0 224.6L393.8 221.3Z" fill="#76c2a4"/>
<path d="M360.7 224.6L362.9 225.5L365.4 225.4L363.2 224.1Z" fill="#c2d342"/>
<path d="M421.8 232.1L424.0 234.1L426.6 231.4L424.4 229.5Z" fill="#6bc0b0"/>
<path d="M452.4 230.5L454.6 232.0L457.2 230.4L455.0 229.0Z" fill="#a5cc60"/>
<path d="M355.9 224.9L358.1 225.2L360.7 224.6L358.5 223.8Z" fill="#ccd63b"/>
<path d="M386.5 223.5L388.7 225.1L391.3 223.1L389.1 221.4Z" fill="#7cc39b"/>
<path d="M447.7 230.5L449.9 232.1L452.4 230.5L450.3 229.0Z" fill="#9cca6c"/>
<path d="M417.1 232.6L419.3 234.7L421.8 232.1L419.7 230.1Z" fill="#67bfb5"/>
<path d="M351.2 226.1L353.4 226.0L355.9 224.9L353.8 224.5Z" fill="#cad53d"/>
<path d="M381.8 224.1L384.0 225.6L386.5 223.5L384.4 221.8Z" fill="#89c688"/>
<path d="M412.4 232.4L414.5 234.5L417.1 232.6L414.9 230.6Z" fill="#64beb9"/>
<path d="M443.0 230.3L445.1 232.0L447.7 230.5L445.5 228.9Z" fill="#92c87c"/>
<path d="M438.2 231.5L440.4 233.1L443.0 230.3L440.8 228.7Z" fill="#83c592"/>
<path d="M346.5 228.3L348.7 227.7L351.2 226.1L349.0 226.2Z" fill="#bed246"/>
<path d="M377.1 224.8L379.2 226.3L381.8 224.1L379.6 222.5Z" fill="#98c973"/>
<path d="M407.6 230.9L409.8 234.2L412.4 232.4L410.2 229.1Z" fill="#66bfb7"/>
<path d="M433.5 232.6L435.7 234.2L438.2 231.5L436.0 229.8Z" fill="#74c2a6"/>
<path d="M464.1 232.2L466.2 233.8L468.8 232.2L466.6 230.6Z" fill="#a4cc62"/>
<path d="M402.9 229.4L405.1 232.8L407.6 230.9L405.5 227.6Z" fill="#6abfb2"/>
<path d="M372.3 225.7L374.5 227.1L377.1 224.8L374.9 223.3Z" fill="#a8cc5b"/>
<path d="M459.3 232.1L461.5 233.8L464.1 232.2L461.9 230.5Z" fill="#a4cb62"/>
<path d="M367.6 226.7L369.8 228.0L372.3 225.7L370.2 224.3Z" fill="#b8d04a"/>
<path d="M398.2 227.9L400.3 231.3L402.9 229.4L400.7 226.1Z" fill="#6dc0af"/>
<path d="M428.8 233.4L430.9 235.3L433.5 232.6L431.3 230.7Z" fill="#6dc0af"/>
<path d="M362.9 225.5L365.0 226.3L367.6 226.7L365.4 225.4Z" fill="#cbd63b"/>
<path d="M393.4 226.4L395.6 229.7L398.2 227.9L396.0 224.6Z" fill="#6ec0ad"/>
<path d="M424.0 234.1L426.2 236.1L428.8 233.4L426.6 231.4Z" fill="#68bfb4"/>
<path d="M454.6 232.0L456.8 233.7L459.3 232.1L457.2 230.4Z" fill="#a4cc62"/>
<path d="M388.7 225.1L390.9 228.4L393.4 226.4L391.3 223.1Z" fill="#74c2a6"/>
<path d="M358.1 225.2L360.3 225.6L362.9 225.5L360.7 224.6Z" fill="#dada30"/>
<path d="M449.9 232.1L452.0 233.6L454.6 232.0L452.4 230.5Z" fill="#a0cb67"/>
<path d="M419.3 234.7L421.5 236.7L424.0 234.1L421.8 232.1Z" fill="#64beb9"/>
<path d="M353.4 226.0L355.6 225.8L358.1 225.2L355.9 224.9Z" fill="#dedb2e"/>
<path d="M384.0 225.6L386.1 227.2L388.7 225.1L386.5 223.5Z" fill="#82c592"/>
<path d="M414.5 234.5L416.7 236.6L419.3 234.7L417.1 232.6Z" fill="#60bdbd"/>
<path d="M445.1 232.0L447.3 233.6L449.9 232.1L447.7 230.5Z" fill="#97c975"/>
<path d="M379.2 226.3L381.4 227.8L384.0 225.6L381.8 224.1Z" fill="#90c77e"/>
<path d="M440.4 233.1L442.6 234.8L445.1 232.0L443.0 230.3Z" fill="#88c68a"/>
<path d="M348.7 227.7L350.8 227.0L353.4 226.0L351.2 226.1Z" fill="#d7d933"/>
<path d="M409.8 234.2L412.0 236.4L414.5 234.5L412.4 232.4Z" fill="#5ebdbf"/>
<path d="M435.7 234.2L437.8 235.9L440.4 233.1L438.2 231.5Z" fill="#77c2a2"/>
<path d="M466.2 233.8L468.4 235.5L471.0 233.9L468.8 232.2Z" fill="#a0cb67"/>
<path d="M343.9 230.4L346.1 229.2L348.7 227.7L346.5 228.3Z" fill="#c5d440"/>
<path d="M405.1 232.8L407.2 236.1L409.8 234.2L407.6 230.9Z" fill="#61bebc"/>
<path d="M374.5 227.1L376.7 228.5L379.2 226.3L377.1 224.8Z" fill="#a0cb68"/>
<path d="M430.9 235.3L433.1 237.0L435.7 234.2L433.5 232.6Z" fill="#6cc0af"/>
<path d="M461.5 233.8L463.7 235.4L466.2 233.8L464.1 232.2Z" fill="#9fca69"/>
<path d="M400.3 231.3L402.5 234.6L405.1 232.8L402.9 229.4Z" fill="#64beb8"/>
<path d="M369.8 228.0L371.9 229.4L374.5 227.1L372.3 225.7Z" fill="#b0ce50"/>
<path d="M365.0 226.3L367.2 227.6L369.8 228.0L367.6 226.7Z" fill="#ccd63b"/>
<path d="M395.6 229.7L397.8 233.1L400.3 231.3L398.2 227.9Z" fill="#67bfb5"/>
<path d="M426.2 236.1L428.4 238.1L430.9 235.3L428.8 233.4Z" fill="#65bfb7"/>
<path d="M456.8 233.7L458.9 235.4L461.5 233.8L459.3 232.1Z" fill="#9fca69"/>
<path d="M360.3 225.6L362.5 225.9L365.0 226.3L362.9 225.5Z" fill="#e9de25"/>
<path d="M390.9 228.4L393.0 231.8L395.6 229.7L393.4 226.4Z" fill="#6bc0b0"/>
<path d="M452.0 233.6L454.2 235.3L456.8 233.7L454.6 232.0Z" fill="#a0cb67"/>
<path d="M421.5 236.7L423.6 238.8L426.2 236.1L424.0 234.1Z" fill="#61bebc"/>
<path d="M355.6 225.8L357.7 225.7L360.3 225.6L358.1 225.2Z" fill="#f0de20"/>
<path d="M386.1 227.2L388.3 230.5L390.9 228.4L388.7 225.1Z" fill="#77c2a3"/>
<path d="M416.7 236.6L418.9 238.7L421.5 236.7L419.3 234.7Z" fill="#5cbdc1"/>
<path d="M447.3 233.6L449.5 235.2L452.0 233.6L449.9 232.1Z" fill="#9cca6d"/>
<path d="M350.8 227.0L353.0 226.4L355.6 225.8L353.4 226.0Z" fill="#f0e020"/>
<path d="M381.4 227.8L383.6 229.2L386.1 227.2L384.0 225.6Z" fill="#88c689"/>
<path d="M442.6 234.8L444.7 236.4L447.3 233.6L445.1 232.0Z" fill="#8dc783"/>
<path d="M412.0 236.4L414.2 238.5L416.7 236.6L414.5 234.5Z" fill="#59bcc5"/>
<path d="M468.4 235.5L470.6 237.2L473.1 235.6L471.0 233.9Z" fill="#9cca6d"/>
<path d="M346.1 229.2L348.3 228.1L350.8 227.0L348.7 227.7Z" fill="#e4dd29"/>
<path d="M376.7 228.5L378.8 229.9L381.4 227.8L379.2 226.3Z" fill="#97c974"/>
<path d="M407.2 236.1L409.4 238.3L412.0 236.4L409.8 234.2Z" fill="#59bcc5"/>
<path d="M437.8 235.9L440.0 237.6L442.6 234.8L440.4 233.1Z" fill="#7bc39c"/>
<path d="M433.1 237.0L435.3 238.7L437.8 235.9L435.7 234.2Z" fill="#6ec0ad"/>
<path d="M463.7 235.4L465.8 237.1L468.4 235.5L466.2 233.8Z" fill="#9bca6f"/>
<path d="M402.5 234.6L404.7 237.9L407.2 236.1L405.1 232.8Z" fill="#5cbdc1"/>
<path d="M341.4 232.7L343.5 231.7L346.1 229.2L343.9 230.4Z" fill="#c7d53f"/>
<path d="M371.9 229.4L374.1 230.7L376.7 228.5L374.5 227.1Z" fill="#a7cc5d"/>
<path d="M428.4 238.1L430.5 239.8L433.1 237.0L430.9 235.3Z" fill="#65beb8"/>
<path d="M397.8 233.1L399.9 236.4L402.5 234.6L400.3 231.3Z" fill="#5fbdbe"/>
<path d="M367.2 227.6L369.4 229.0L371.9 229.4L369.8 228.0Z" fill="#c4d441"/>
<path d="M458.9 235.4L461.1 237.0L463.7 235.4L461.5 233.8Z" fill="#9aca70"/>
<path d="M362.5 225.9L364.6 227.3L367.2 227.6L365.0 226.3Z" fill="#ecdf23"/>
<path d="M393.0 231.8L395.2 235.1L397.8 233.1L395.6 229.7Z" fill="#62beba"/>
<path d="M454.2 235.3L456.4 237.0L458.9 235.4L456.8 233.7Z" fill="#9bca6f"/>
<path d="M423.6 238.8L425.8 240.8L428.4 238.1L426.2 236.1Z" fill="#5ebdbf"/>
<path d="M357.7 225.7L359.9 225.5L362.5 225.9L360.3 225.6Z" fill="#f0c922"/>
<path d="M418.9 238.7L421.1 240.8L423.6 238.8L421.5 236.7Z" fill="#59bcc5"/>
<path d="M449.5 235.2L451.6 236.9L454.2 235.3L452.0 233.6Z" fill="#9cca6d"/>
<path d="M388.3 230.5L390.5 233.8L393.0 231.8L390.9 228.4Z" fill="#6bc0b0"/>
<path d="M383.6 229.2L385.7 232.5L388.3 230.5L386.1 227.2Z" fill="#7bc39d"/>
<path d="M353.0 226.4L355.2 225.8L357.7 225.7L355.6 225.8Z" fill="#f0c523"/>
<path d="M444.7 236.4L446.9 238.1L449.5 235.2L447.3 233.6Z" fill="#92c87b"/>
<path d="M414.2 238.5L416.3 240.7L418.9 238.7L416.7 236.6Z" fill="#54bbca"/>
<path d="M470.6 237.2L472.8 239.4L475.3 237.8L473.1 235.6Z" fill="#96c976"/>
<path d="M348.3 228.1L350.4 227.0L353.0 226.4L350.8 227.0Z" fill="#f0cc22"/>
<path d="M378.8 229.9L381.0 231.3L383.6 229.2L381.4 227.8Z" fill="#8fc780"/>
<path d="M409.4 238.3L411.6 240.5L414.2 238.5L412.0 236.4Z" fill="#53bbcc"/>
<path d="M440.0 237.6L442.2 239.2L444.7 236.4L442.6 234.8Z" fill="#7fc496"/>
<path d="M465.8 237.1L468.0 238.8L470.6 237.2L468.4 235.5Z" fill="#96c975"/>
<path d="M374.1 230.7L376.3 232.0L378.8 229.9L376.7 228.5Z" fill="#9eca6a"/>
<path d="M404.7 237.9L406.9 240.2L409.4 238.3L407.2 236.1Z" fill="#54bbca"/>
<path d="M343.5 231.7L345.7 230.6L348.3 228.1L346.1 229.2Z" fill="#e7de26"/>
<path d="M435.3 238.7L437.4 240.4L440.0 237.6L437.8 235.9Z" fill="#71c1aa"/>
<path d="M430.5 239.8L432.7 241.5L435.3 238.7L433.1 237.0Z" fill="#66bfb6"/>
<path d="M399.9 236.4L402.1 239.7L404.7 237.9L402.5 234.6Z" fill="#58bcc6"/>
<path d="M338.8 235.1L341.0 234.1L343.5 231.7L341.4 232.7Z" fill="#c4d441"/>
<path d="M369.4 229.0L371.5 230.3L374.1 230.7L371.9 229.4Z" fill="#bcd147"/>
<path d="M461.1 237.0L463.3 238.7L465.8 237.1L463.7 235.4Z" fill="#95c877"/>
<path d="M395.2 235.1L397.4 238.4L399.9 236.4L397.8 233.1Z" fill="#5abcc4"/>
<path d="M364.6 227.3L366.8 228.6L369.4 229.0L367.2 227.6Z" fill="#e3dc2a"/>
<path d="M425.8 240.8L428.0 242.6L430.5 239.8L428.4 238.1Z" fill="#5dbdc1"/>
<path d="M456.4 237.0L458.5 238.6L461.1 237.0L458.9 235.4Z" fill="#95c877"/>
<path d="M359.9 225.5L362.1 226.9L364.6 227.3L362.5 225.9Z" fill="#f0c323"/>
<path d="M421.1 240.8L423.2 242.9L425.8 240.8L423.6 238.8Z" fill="#55bbca"/>
<path d="M451.6 236.9L453.8 238.6L456.4 237.0L454.2 235.3Z" fill="#96c975"/>
<path d="M390.5 233.8L392.7 237.1L395.2 235.1L393.0 231.8Z" fill="#60bdbe"/>
<path d="M446.9 238.1L449.1 239.7L451.6 236.9L449.5 235.2Z" fill="#92c87b"/>
<path d="M355.2 225.8L357.3 225.1L359.9 225.5L357.7 225.7Z" fill="#f0aa25"/>
<path d="M385.7 232.5L387.9 235.8L390.5 233.8L388.3 230.5Z" fill="#6bc0b0"/>
<path d="M416.3 240.7L418.5 242.8L421.1 240.8L418.9 238.7Z" fill="#4fbad0"/>
<path d="M381.0 231.3L383.2 234.5L385.7 232.5L383.6 229.2Z" fill="#7fc497"/>
<path d="M472.8 239.4L474.9 241.5L477.5 239.9L475.3 237.8Z" fill="#8ec781"/>
<path d="M350.4 227.0L352.6 225.9L355.2 225.8L353.0 226.4Z" fill="#f0ac25"/>
<path d="M411.6 240.5L413.8 242.7L416.3 240.7L414.2 238.5Z" fill="#4cb9d3"/>
<path d="M442.2 239.2L444.3 240.9L446.9 238.1L444.7 236.4Z" fill="#83c591"/>
<path d="M468.0 238.8L470.2 240.9L472.8 239.4L470.6 237.2Z" fill="#90c77e"/>
<path d="M345.7 230.6L347.9 229.5L350.4 227.0L348.3 228.1Z" fill="#f0c722"/>
<path d="M376.3 232.0L378.4 233.4L381.0 231.3L378.8 229.9Z" fill="#95c877"/>
<path d="M406.9 240.2L409.0 242.4L411.6 240.5L409.4 238.3Z" fill="#4cb9d3"/>
<path d="M437.4 240.4L439.6 242.1L442.2 239.2L440.0 237.6Z" fill="#73c1a8"/>
<path d="M341.0 234.1L343.1 233.1L345.7 230.6L343.5 231.7Z" fill="#e2dc2b"/>
<path d="M371.5 230.3L373.7 231.6L376.3 232.0L374.1 230.7Z" fill="#b3cf4d"/>
<path d="M402.1 239.7L404.3 242.0L406.9 240.2L404.7 237.9Z" fill="#4fbad0"/>
<path d="M432.7 241.5L434.9 243.2L437.4 240.4L435.3 238.7Z" fill="#67bfb5"/>
<path d="M463.3 238.7L465.5 240.4L468.0 238.8L465.8 237.1Z" fill="#91c87e"/>
<path d="M397.4 238.4L399.6 241.7L402.1 239.7L399.9 236.4Z" fill="#51bace"/>
<path d="M366.8 228.6L369.0 229.9L371.5 230.3L369.4 229.0Z" fill="#dbda30"/>
<path d="M336.2 237.5L338.4 236.5L341.0 234.1L338.8 235.1Z" fill="#c1d343"/>
<path d="M428.0 242.6L430.1 244.3L432.7 241.5L430.5 239.8Z" fill="#5dbdc0"/>
<path d="M458.5 238.6L460.7 240.3L463.3 238.7L461.1 237.0Z" fill="#90c77e"/>
<path d="M423.2 242.9L425.4 244.7L428.0 242.6L425.8 240.8Z" fill="#53bbcc"/>
<path d="M362.1 226.9L364.2 228.2L366.8 228.6L364.6 227.3Z" fill="#f0cc22"/>
<path d="M392.7 237.1L394.8 240.3L397.4 238.4L395.2 235.1Z" fill="#54bbcb"/>
<path d="M453.8 238.6L456.0 240.2L458.5 238.6L456.4 237.0Z" fill="#91c87e"/>
<path d="M449.1 239.7L451.2 241.3L453.8 238.6L451.6 236.9Z" fill="#8cc784"/>
<path d="M357.3 225.1L359.5 226.5L362.1 226.9L359.9 225.5Z" fill="#f0a226"/>
<path d="M387.9 235.8L390.1 239.0L392.7 237.1L390.5 233.8Z" fill="#5dbdc1"/>
<path d="M418.5 242.8L420.7 245.0L423.2 242.9L421.1 240.8Z" fill="#4ab9d6"/>
<path d="M413.8 242.7L415.9 244.9L418.5 242.8L416.3 240.7Z" fill="#46b8db"/>
<path d="M444.3 240.9L446.5 242.5L449.1 239.7L446.9 238.1Z" fill="#83c592"/>
<path d="M474.9 241.5L477.1 243.7L479.7 242.1L477.5 239.9Z" fill="#87c68b"/>
<path d="M352.6 225.9L354.8 224.7L357.3 225.1L355.2 225.8Z" fill="#f08b28"/>
<path d="M383.2 234.5L385.4 237.8L387.9 235.8L385.7 232.5Z" fill="#6bc0b0"/>
<path d="M378.4 233.4L380.6 236.6L383.2 234.5L381.0 231.3Z" fill="#83c592"/>
<path d="M470.2 240.9L472.4 243.1L474.9 241.5L472.8 239.4Z" fill="#89c688"/>
<path d="M347.9 229.5L350.0 228.4L352.6 225.9L350.4 227.0Z" fill="#f0a526"/>
<path d="M409.0 242.4L411.2 244.7L413.8 242.7L411.6 240.5Z" fill="#44b8dd"/>
<path d="M439.6 242.1L441.8 243.8L444.3 240.9L442.2 239.2Z" fill="#75c2a5"/>
<path d="M465.5 240.4L467.6 242.5L470.2 240.9L468.0 238.8Z" fill="#8bc686"/>
<path d="M343.1 233.1L345.3 232.0L347.9 229.5L345.7 230.6Z" fill="#f0d021"/>
<path d="M373.7 231.6L375.9 233.0L378.4 233.4L376.3 232.0Z" fill="#aacd58"/>
<path d="M404.3 242.0L406.5 244.3L409.0 242.4L406.9 240.2Z" fill="#46b8db"/>
<path d="M434.9 243.2L437.0 244.9L439.6 242.1L437.4 240.4Z" fill="#68bfb3"/>
<path d="M369.0 229.9L371.1 231.2L373.7 231.6L371.5 230.3Z" fill="#d2d836"/>
<path d="M399.6 241.7L401.7 243.9L404.3 242.0L402.1 239.7Z" fill="#47b8d9"/>
<path d="M338.4 236.5L340.6 235.5L343.1 233.1L341.0 234.1Z" fill="#dcda2f"/>
<path d="M460.7 240.3L462.9 242.0L465.5 240.4L463.3 238.7Z" fill="#8bc686"/>
<path d="M430.1 244.3L432.3 246.0L434.9 243.2L432.7 241.5Z" fill="#5ebdc0"/>
<path d="M425.4 244.7L427.6 246.4L430.1 244.3L428.0 242.6Z" fill="#52bbcd"/>
<path d="M333.7 239.9L335.8 239.0L338.4 236.5L336.2 237.5Z" fill="#bed245"/>
<path d="M364.2 228.2L366.4 229.5L369.0 229.9L366.8 228.6Z" fill="#f0d621"/>
<path d="M394.8 240.3L397.0 243.6L399.6 241.7L397.4 238.4Z" fill="#48b9d8"/>
<path d="M456.0 240.2L458.2 241.9L460.7 240.3L458.5 238.6Z" fill="#8bc686"/>
<path d="M420.7 245.0L422.8 246.7L425.4 244.7L423.2 242.9Z" fill="#46b8da"/>
<path d="M451.2 241.3L453.4 242.9L456.0 240.2L453.8 238.6Z" fill="#86c58c"/>
<path d="M390.1 239.0L392.3 242.3L394.8 240.3L392.7 237.1Z" fill="#4ebad1"/>
<path d="M359.5 226.5L361.7 227.8L364.2 228.2L362.1 226.9Z" fill="#f0ab25"/>
<path d="M415.9 244.9L418.1 247.1L420.7 245.0L418.5 242.8Z" fill="#3fb7e2"/>
<path d="M446.5 242.5L448.7 244.1L451.2 241.3L449.1 239.7Z" fill="#7dc39a"/>
<path d="M477.1 243.7L479.3 245.8L481.8 244.2L479.7 242.1Z" fill="#7fc496"/>
<path d="M354.8 224.7L356.9 226.1L359.5 226.5L357.3 225.1Z" fill="#ee7e28"/>
<path d="M385.4 237.8L387.5 241.0L390.1 239.0L387.9 235.8Z" fill="#5abcc4"/>
<path d="M411.2 244.7L413.4 246.9L415.9 244.9L413.8 242.7Z" fill="#3cb6e6"/>
<path d="M441.8 243.8L444.0 245.3L446.5 242.5L444.3 240.9Z" fill="#74c2a6"/>
<path d="M472.4 243.1L474.5 245.2L477.1 243.7L474.9 241.5Z" fill="#82c492"/>
<path d="M350.0 228.4L352.2 227.4L354.8 224.7L352.6 225.9Z" fill="#ee8228"/>
<path d="M380.6 236.6L382.8 239.8L385.4 237.8L383.2 234.5Z" fill="#6bc0b0"/>
<path d="M375.9 233.0L378.1 236.3L380.6 236.6L378.4 233.4Z" fill="#96c975"/>
<path d="M345.3 232.0L347.5 231.0L350.0 228.4L347.9 229.5Z" fill="#f0b224"/>
<path d="M406.5 244.3L408.6 246.6L411.2 244.7L409.0 242.4Z" fill="#3cb6e6"/>
<path d="M437.0 244.9L439.2 246.6L441.8 243.8L439.6 242.1Z" fill="#6abfb2"/>
<path d="M467.6 242.5L469.8 244.7L472.4 243.1L470.2 240.9Z" fill="#84c590"/>
<path d="M462.9 242.0L465.1 244.1L467.6 242.5L465.5 240.4Z" fill="#85c58e"/>
<path d="M371.1 231.2L373.3 232.6L375.9 233.0L373.7 231.6Z" fill="#cad53d"/>
<path d="M401.7 243.9L403.9 246.2L406.5 244.3L404.3 242.0Z" fill="#3db6e5"/>
<path d="M340.6 235.5L342.7 234.6L345.3 232.0L343.1 233.1Z" fill="#f0da21"/>
<path d="M432.3 246.0L434.5 247.7L437.0 244.9L434.9 243.2Z" fill="#5ebdbf"/>
<path d="M366.4 229.5L368.6 230.8L371.1 231.2L369.0 229.9Z" fill="#f0df20"/>
<path d="M335.8 239.0L338.0 238.0L340.6 235.5L338.4 236.5Z" fill="#d6d934"/>
<path d="M397.0 243.6L399.2 245.9L401.7 243.9L399.6 241.7Z" fill="#3db6e5"/>
<path d="M427.6 246.4L429.7 248.1L432.3 246.0L430.1 244.3Z" fill="#51bace"/>
<path d="M458.2 241.9L460.3 243.6L462.9 242.0L460.7 240.3Z" fill="#85c58e"/>
<path d="M422.8 246.7L425.0 248.5L427.6 246.4L425.4 244.7Z" fill="#44b8dd"/>
<path d="M453.4 242.9L455.6 244.6L458.2 241.9L456.0 240.2Z" fill="#81c495"/>
<path d="M392.3 242.3L394.4 245.6L397.0 243.6L394.8 240.3Z" fill="#40b7e2"/>
<path d="M331.1 242.3L333.3 241.4L335.8 239.0L333.7 239.9Z" fill="#bbd148"/>
<path d="M361.7 227.8L363.9 229.1L366.4 229.5L364.2 228.2Z" fill="#f0b524"/>
<path d="M418.1 247.1L420.3 248.8L422.8 246.7L420.7 245.0Z" fill="#3cb5e5"/>
<path d="M387.5 241.0L389.7 244.3L392.3 242.3L390.1 239.0Z" fill="#48b9d8"/>
<path d="M448.7 244.1L450.9 245.6L453.4 242.9L451.2 241.3Z" fill="#77c2a3"/>
<path d="M479.3 245.8L481.4 248.0L484.0 246.4L481.8 244.2Z" fill="#78c2a1"/>
<path d="M356.9 226.1L359.1 227.4L361.7 227.8L359.5 226.5Z" fill="#f08a28"/>
<path d="M413.4 246.9L415.5 249.2L418.1 247.1L415.9 244.9Z" fill="#3cb1e3"/>
<path d="M444.0 245.3L446.1 246.8L448.7 244.1L446.5 242.5Z" fill="#6fc1ab"/>
<path d="M474.5 245.2L476.7 247.4L479.3 245.8L477.1 243.7Z" fill="#7bc39d"/>
<path d="M352.2 227.4L354.4 228.8L356.9 226.1L354.8 224.7Z" fill="#ec7428"/>
<path d="M382.8 239.8L385.0 243.0L387.5 241.0L385.4 237.8Z" fill="#57bcc7"/>
<path d="M408.6 246.6L410.8 248.9L413.4 246.9L411.2 244.7Z" fill="#3cb0e3"/>
<path d="M439.2 246.6L441.4 248.1L444.0 245.3L441.8 243.8Z" fill="#68bfb4"/>
<path d="M347.5 231.0L349.6 230.0L352.2 227.4L350.0 228.4Z" fill="#f09327"/>
<path d="M378.1 236.3L380.2 239.6L382.8 239.8L380.6 236.6Z" fill="#78c2a1"/>
<path d="M469.8 244.7L472.0 246.8L474.5 245.2L472.4 243.1Z" fill="#7dc49a"/>
<path d="M373.3 232.6L375.5 236.0L378.1 236.3L375.9 233.0Z" fill="#b8d04a"/>
<path d="M342.7 234.6L344.9 233.6L347.5 231.0L345.3 232.0Z" fill="#f0be23"/>
<path d="M403.9 246.2L406.1 248.5L408.6 246.6L406.5 244.3Z" fill="#3cafe3"/>
<path d="M465.1 244.1L467.2 246.3L469.8 244.7L467.6 242.5Z" fill="#7fc497"/>
<path d="M434.5 247.7L436.7 249.4L439.2 246.6L437.0 244.9Z" fill="#5fbdbf"/>
<path d="M460.3 243.6L462.5 245.7L465.1 244.1L462.9 242.0Z" fill="#80c496"/>
<path d="M368.6 230.8L370.8 232.2L373.3 232.6L371.1 231.2Z" fill="#e8de26"/>
<path d="M338.0 238.0L340.2 237.1L342.7 234.6L340.6 235.5Z" fill="#eddf22"/>
<path d="M399.2 245.9L401.3 248.1L403.9 246.2L401.7 243.9Z" fill="#3cafe2"/>
<path d="M429.7 248.1L431.9 249.9L434.5 247.7L432.3 246.0Z" fill="#50bacf"/>
<path d="M455.6 244.6L457.8 246.2L460.3 243.6L458.2 241.9Z" fill="#7bc39d"/>
<path d="M394.4 245.6L396.6 247.8L399.2 245.9L397.0 243.6Z" fill="#3cafe3"/>
<path d="M363.9 229.1L366.0 230.4L368.6 230.8L366.4 229.5Z" fill="#f0be23"/>
<path d="M333.3 241.4L335.4 240.5L338.0 238.0L335.8 239.0Z" fill="#d0d738"/>
<path d="M425.0 248.5L427.2 250.3L429.7 248.1L427.6 246.4Z" fill="#41b7e0"/>
<path d="M420.3 248.8L422.4 250.6L425.0 248.5L422.8 246.7Z" fill="#3cb2e4"/>
<path d="M389.7 244.3L391.9 247.5L394.4 245.6L392.3 242.3Z" fill="#3cb3e4"/>
<path d="M450.9 245.6L453.0 247.2L455.6 244.6L453.4 242.9Z" fill="#72c1a8"/>
<path d="M359.1 227.4L361.3 228.7L363.9 229.1L361.7 227.8Z" fill="#f09427"/>
<path d="M415.5 249.2L417.7 250.9L420.3 248.8L418.1 247.1Z" fill="#3cace1"/>
<path d="M385.0 243.0L387.1 246.2L389.7 244.3L387.5 241.0Z" fill="#43b7df"/>
<path d="M446.1 246.8L448.3 248.3L450.9 245.6L448.7 244.1Z" fill="#6bc0b0"/>
<path d="M476.7 247.4L478.9 249.5L481.4 248.0L479.3 245.8Z" fill="#74c2a6"/>
<path d="M354.4 228.8L356.6 230.3L359.1 227.4L356.9 226.1Z" fill="#ee8028"/>
<path d="M410.8 248.9L413.0 251.2L415.5 249.2L413.4 246.9Z" fill="#3caae0"/>
<path d="M441.4 248.1L443.6 249.6L446.1 246.8L444.0 245.3Z" fill="#64beb9"/>
<path d="M349.6 230.0L351.8 231.6L354.4 228.8L352.2 227.4Z" fill="#ef8828"/>
<path d="M380.2 239.6L382.4 243.0L385.0 243.0L382.8 239.8Z" fill="#61bebc"/>
<path d="M472.0 246.8L474.1 249.0L476.7 247.4L474.5 245.2Z" fill="#76c2a3"/>
<path d="M406.1 248.5L408.2 250.7L410.8 248.9L408.6 246.6Z" fill="#3ca8df"/>
<path d="M375.5 236.0L377.7 239.5L380.2 239.6L378.1 236.3Z" fill="#99c972"/>
<path d="M344.9 233.6L347.1 232.6L349.6 230.0L347.5 231.0Z" fill="#f0a226"/>
<path d="M436.7 249.4L438.8 250.9L441.4 248.1L439.2 246.6Z" fill="#5dbdc1"/>
<path d="M467.2 246.3L469.4 248.4L472.0 246.8L469.8 244.7Z" fill="#78c2a1"/>
<path d="M370.8 232.2L372.9 235.7L375.5 236.0L373.3 232.6Z" fill="#d5d834"/>
<path d="M340.2 237.1L342.3 236.1L344.9 233.6L342.7 234.6Z" fill="#f0ca22"/>
<path d="M431.9 249.9L434.1 251.6L436.7 249.4L434.5 247.7Z" fill="#4fbad0"/>
<path d="M462.5 245.7L464.7 247.8L467.2 246.3L465.1 244.1Z" fill="#7ac39f"/>
<path d="M401.3 248.1L403.5 250.3L406.1 248.5L403.9 246.2Z" fill="#3ba7de"/>
<path d="M457.8 246.2L459.9 248.3L462.5 245.7L460.3 243.6Z" fill="#75c2a5"/>
<path d="M396.6 247.8L398.8 250.0L401.3 248.1L399.2 245.9Z" fill="#3ba7de"/>
<path d="M335.4 240.5L337.6 239.6L340.2 237.1L338.0 238.0Z" fill="#e4dd29"/>
<path d="M366.0 230.4L368.2 231.8L370.8 232.2L368.6 230.8Z" fill="#f0c822"/>
<path d="M427.2 250.3L429.4 252.0L431.9 249.9L429.7 248.1Z" fill="#3eb7e3"/>
<path d="M361.3 228.7L363.5 230.1L366.0 230.4L363.9 229.1Z" fill="#f09e26"/>
<path d="M391.9 247.5L394.0 249.7L396.6 247.8L394.4 245.6Z" fill="#3ca8df"/>
<path d="M422.4 250.6L424.6 252.4L427.2 250.3L425.0 248.5Z" fill="#3cafe2"/>
<path d="M453.0 247.2L455.2 248.8L457.8 246.2L455.6 244.6Z" fill="#6ec0ad"/>
<path d="M417.7 250.9L419.9 252.7L422.4 250.6L420.3 248.8Z" fill="#3ca8df"/>
<path d="M387.1 246.2L389.3 249.5L391.9 247.5L389.7 244.3Z" fill="#3cade1"/>
<path d="M448.3 248.3L450.5 249.9L453.0 247.2L450.9 245.6Z" fill="#67bfb5"/>
<path d="M356.6 230.3L358.7 231.8L361.3 228.7L359.1 227.4Z" fill="#f08c28"/>
<path d="M413.0 251.2L415.2 253.0L417.7 250.9L415.5 249.2Z" fill="#3ba4dd"/>
<path d="M382.4 243.0L384.6 246.3L387.1 246.2L385.0 243.0Z" fill="#4ab9d6"/>
<path d="M443.6 249.6L445.7 251.0L448.3 248.3L446.1 246.8Z" fill="#60bdbe"/>
<path d="M351.8 231.6L354.0 233.2L356.6 230.3L354.4 228.8Z" fill="#f09327"/>
<path d="M474.1 249.0L476.3 251.1L478.9 249.5L476.7 247.4Z" fill="#71c1a9"/>
<path d="M408.2 250.7L410.4 253.0L413.0 251.2L410.8 248.9Z" fill="#3ba1db"/>
<path d="M377.7 239.5L379.8 242.9L382.4 243.0L380.2 239.6Z" fill="#77c2a2"/>
<path d="M347.1 232.6L349.3 234.4L351.8 231.6L349.6 230.0Z" fill="#f09927"/>
<path d="M438.8 250.9L441.0 252.3L443.6 249.6L441.4 248.1Z" fill="#58bcc6"/>
<path d="M469.4 248.4L471.6 250.5L474.1 249.0L472.0 246.8Z" fill="#73c1a7"/>
<path d="M434.1 251.6L436.3 253.1L438.8 250.9L436.7 249.4Z" fill="#4dbad3"/>
<path d="M342.3 236.1L344.5 235.2L347.1 232.6L344.9 233.6Z" fill="#f0b224"/>
<path d="M372.9 235.7L375.1 239.3L377.7 239.5L375.5 236.0Z" fill="#b8d04a"/>
<path d="M403.5 250.3L405.7 252.5L408.2 250.7L406.1 248.5Z" fill="#3ba0da"/>
<path d="M464.7 247.8L466.8 250.0L469.4 248.4L467.2 246.3Z" fill="#74c2a6"/>
<path d="M459.9 248.3L462.1 250.4L464.7 247.8L462.5 245.7Z" fill="#72c1a9"/>
<path d="M368.2 231.8L370.4 235.4L372.9 235.7L370.8 232.2Z" fill="#f0dd20"/>
<path d="M337.6 239.6L339.8 238.7L342.3 236.1L340.2 237.1Z" fill="#f0d721"/>
<path d="M398.8 250.0L400.9 252.1L403.5 250.3L401.3 248.1Z" fill="#3b9fda"/>
<path d="M429.4 252.0L431.5 253.8L434.1 251.6L431.9 249.9Z" fill="#3cb6e6"/>
<path d="M455.2 248.8L457.4 250.9L459.9 248.3L457.8 246.2Z" fill="#6ac0b1"/>
<path d="M363.5 230.1L365.6 231.4L368.2 231.8L366.0 230.4Z" fill="#f0a825"/>
<path d="M394.0 249.7L396.2 251.8L398.8 250.0L396.6 247.8Z" fill="#3ba0da"/>
<path d="M424.6 252.4L426.8 254.2L429.4 252.0L427.2 250.3Z" fill="#3cace1"/>
<path d="M389.3 249.5L391.5 251.6L394.0 249.7L391.9 247.5Z" fill="#3ba1db"/>
<path d="M419.9 252.7L422.1 254.5L424.6 252.4L422.4 250.6Z" fill="#3ba4dd"/>
<path d="M450.5 249.9L452.6 251.4L455.2 248.8L453.0 247.2Z" fill="#62beba"/>
<path d="M358.7 231.8L360.9 233.3L363.5 230.1L361.3 228.7Z" fill="#f09627"/>
<path d="M415.2 253.0L417.3 254.8L419.9 252.7L417.7 250.9Z" fill="#3b9fda"/>
<path d="M384.6 246.3L386.7 249.6L389.3 249.5L387.1 246.2Z" fill="#3cb0e3"/>
<path d="M445.7 251.0L447.9 252.5L450.5 249.9L448.3 248.3Z" fill="#5bbcc3"/>
<path d="M354.0 233.2L356.2 234.9L358.7 231.8L356.6 230.3Z" fill="#f09d26"/>
<path d="M410.4 253.0L412.6 254.8L415.2 253.0L413.0 251.2Z" fill="#3b9bd8"/>
<path d="M379.8 242.9L382.0 246.3L384.6 246.3L382.4 243.0Z" fill="#5ebdbf"/>
<path d="M349.3 234.4L351.4 236.2L354.0 233.2L351.8 231.6Z" fill="#f0a426"/>
<path d="M441.0 252.3L443.2 253.7L445.7 251.0L443.6 249.6Z" fill="#54bbcb"/>
<path d="M471.6 250.5L473.7 252.7L476.3 251.1L474.1 249.0Z" fill="#6ec0ad"/>
<path d="M436.3 253.1L438.4 254.5L441.0 252.3L438.8 250.9Z" fill="#49b9d7"/>
<path d="M344.5 235.2L346.7 237.1L349.3 234.4L347.1 232.6Z" fill="#f0aa25"/>
<path d="M375.1 239.3L377.3 242.8L379.8 242.9L377.7 239.5Z" fill="#95c877"/>
<path d="M405.7 252.5L407.9 254.8L410.4 253.0L408.2 250.7Z" fill="#3b98d6"/>
<path d="M466.8 250.0L469.0 252.1L471.6 250.5L469.4 248.4Z" fill="#70c1ab"/>
<path d="M400.9 252.1L403.1 254.3L405.7 252.5L403.5 250.3Z" fill="#3b97d6"/>
<path d="M431.5 253.8L433.7 255.2L436.3 253.1L434.1 251.6Z" fill="#3cb4e5"/>
<path d="M462.1 250.4L464.3 252.5L466.8 250.0L464.7 247.8Z" fill="#6ec0ad"/>
<path d="M339.8 238.7L342.0 237.8L344.5 235.2L342.3 236.1Z" fill="#f0c123"/>
<path d="M370.4 235.4L372.5 239.1L375.1 239.3L372.9 235.7Z" fill="#d3d836"/>
<path d="M365.6 231.4L367.8 235.2L370.4 235.4L368.2 231.8Z" fill="#f0bf23"/>
<path d="M426.8 254.2L429.0 255.9L431.5 253.8L429.4 252.0Z" fill="#3ca9df"/>
<path d="M457.4 250.9L459.5 253.0L462.1 250.4L459.9 248.3Z" fill="#67bfb5"/>
<path d="M396.2 251.8L398.4 254.0L400.9 252.1L398.8 250.0Z" fill="#3b97d6"/>
<path d="M452.6 251.4L454.8 253.5L457.4 250.9L455.2 248.8Z" fill="#5fbdbe"/>
<path d="M391.5 251.6L393.6 253.7L396.2 251.8L394.0 249.7Z" fill="#3b98d6"/>
<path d="M422.1 254.5L424.2 256.3L426.8 254.2L424.6 252.4Z" fill="#3ba0db"/>
<path d="M360.9 233.3L363.1 234.8L365.6 231.4L363.5 230.1Z" fill="#f0a026"/>
<path d="M356.2 234.9L358.3 236.5L360.9 233.3L358.7 231.8Z" fill="#f0a725"/>
<path d="M386.7 249.6L388.9 251.9L391.5 251.6L389.3 249.5Z" fill="#3ba4dd"/>
<path d="M417.3 254.8L419.5 256.7L422.1 254.5L419.9 252.7Z" fill="#3b99d7"/>
<path d="M447.9 252.5L450.1 254.0L452.6 251.4L450.5 249.9Z" fill="#57bcc7"/>
<path d="M412.6 254.8L414.8 256.6L417.3 254.8L415.2 253.0Z" fill="#3b96d5"/>
<path d="M382.0 246.3L384.2 249.8L386.7 249.6L384.6 246.3Z" fill="#45b8db"/>
<path d="M351.4 236.2L353.6 238.0L356.2 234.9L354.0 233.2Z" fill="#f0ae25"/>
<path d="M443.2 253.7L445.3 255.2L447.9 252.5L445.7 251.0Z" fill="#50bad0"/>
<path d="M407.9 254.8L410.0 256.6L412.6 254.8L410.4 253.0Z" fill="#3b92d3"/>
<path d="M377.3 242.8L379.4 246.4L382.0 246.3L379.8 242.9Z" fill="#73c1a8"/>
<path d="M438.4 254.5L440.6 256.0L443.2 253.7L441.0 252.3Z" fill="#46b8db"/>
<path d="M346.7 237.1L348.9 239.1L351.4 236.2L349.3 234.4Z" fill="#f0b424"/>
<path d="M469.0 252.1L471.2 254.3L473.7 252.7L471.6 250.5Z" fill="#6bc0b0"/>
<path d="M403.1 254.3L405.3 256.5L407.9 254.8L405.7 252.5Z" fill="#3b8fd2"/>
<path d="M433.7 255.2L435.9 256.7L438.4 254.5L436.3 253.1Z" fill="#3cb3e4"/>
<path d="M464.3 252.5L466.4 254.7L469.0 252.1L466.8 250.0Z" fill="#6abfb2"/>
<path d="M342.0 237.8L344.1 239.9L346.7 237.1L344.5 235.2Z" fill="#f0bb24"/>
<path d="M372.5 239.1L374.7 242.8L377.3 242.8L375.1 239.3Z" fill="#b3cf4e"/>
<path d="M429.0 255.9L431.1 257.4L433.7 255.2L431.5 253.8Z" fill="#3ba7de"/>
<path d="M398.4 254.0L400.6 256.1L403.1 254.3L400.9 252.1Z" fill="#3b8ed1"/>
<path d="M367.8 235.2L370.0 238.9L372.5 239.1L370.4 235.4Z" fill="#eedf22"/>
<path d="M459.5 253.0L461.7 255.1L464.3 252.5L462.1 250.4Z" fill="#64beb8"/>
<path d="M363.1 234.8L365.2 238.2L367.8 235.2L365.6 231.4Z" fill="#f0b624"/>
<path d="M424.2 256.3L426.4 258.1L429.0 255.9L426.8 254.2Z" fill="#3b9cd9"/>
<path d="M454.8 253.5L457.0 255.6L459.5 253.0L457.4 250.9Z" fill="#5dbdc0"/>
<path d="M393.6 253.7L395.8 255.8L398.4 254.0L396.2 251.8Z" fill="#3b8fd2"/>
<path d="M450.1 254.0L452.2 256.1L454.8 253.5L452.6 251.4Z" fill="#54bbcb"/>
<path d="M358.3 236.5L360.5 238.2L363.1 234.8L360.9 233.3Z" fill="#f0b124"/>
<path d="M388.9 251.9L391.1 254.2L393.6 253.7L391.5 251.6Z" fill="#3b9ad8"/>
<path d="M419.5 256.7L421.7 258.5L424.2 256.3L422.1 254.5Z" fill="#3b94d5"/>
<path d="M384.2 249.8L386.3 252.2L388.9 251.9L386.7 249.6Z" fill="#3cb0e3"/>
<path d="M414.8 256.6L416.9 258.4L419.5 256.7L417.3 254.8Z" fill="#3b90d2"/>
<path d="M353.6 238.0L355.8 239.8L358.3 236.5L356.2 234.9Z" fill="#f0b824"/>
<path d="M445.3 255.2L447.5 256.6L450.1 254.0L447.9 252.5Z" fill="#4bb9d5"/>
<path d="M410.0 256.6L412.2 258.4L414.8 256.6L412.6 254.8Z" fill="#3b8dd1"/>
<path d="M379.4 246.4L381.6 250.0L384.2 249.8L382.0 246.3Z" fill="#58bcc6"/>
<path d="M440.6 256.0L442.8 257.4L445.3 255.2L443.2 253.7Z" fill="#42b7df"/>
<path d="M348.9 239.1L351.0 241.1L353.6 238.0L351.4 236.2Z" fill="#f0be23"/>
<path d="M405.3 256.5L407.5 258.3L410.0 256.6L407.9 254.8Z" fill="#3a88ce"/>
<path d="M435.9 256.7L438.0 258.2L440.6 256.0L438.4 254.5Z" fill="#3cb1e4"/>
<path d="M466.4 254.7L468.6 256.8L471.2 254.3L469.0 252.1Z" fill="#66bfb6"/>
<path d="M374.7 242.8L376.9 246.4L379.4 246.4L377.3 242.8Z" fill="#8dc783"/>
<path d="M344.1 239.9L346.3 242.0L348.9 239.1L346.7 237.1Z" fill="#f0c523"/>
<path d="M431.1 257.4L433.3 258.9L435.9 256.7L433.7 255.2Z" fill="#3ba7de"/>
<path d="M400.6 256.1L402.7 258.3L405.3 256.5L403.1 254.3Z" fill="#3a85cd"/>
<path d="M370.0 238.9L372.1 242.7L374.7 242.8L372.5 239.1Z" fill="#ccd63b"/>
<path d="M461.7 255.1L463.9 257.2L466.4 254.7L464.3 252.5Z" fill="#61bebc"/>
<path d="M426.4 258.1L428.6 259.6L431.1 257.4L429.0 255.9Z" fill="#3b9ad8"/>
<path d="M395.8 255.8L398.0 257.9L400.6 256.1L398.4 254.0Z" fill="#3a85cd"/>
<path d="M457.0 255.6L459.2 257.6L461.7 255.1L459.5 253.0Z" fill="#5bbcc3"/>
<path d="M365.2 238.2L367.4 241.7L370.0 238.9L367.8 235.2Z" fill="#f0d921"/>
<path d="M360.5 238.2L362.7 241.3L365.2 238.2L363.1 234.8Z" fill="#f0c423"/>
<path d="M421.7 258.5L423.8 260.3L426.4 258.1L424.2 256.3Z" fill="#3b8fd2"/>
<path d="M452.2 256.1L454.4 258.1L457.0 255.6L454.8 253.5Z" fill="#53bbcc"/>
<path d="M391.1 254.2L393.3 256.4L395.8 255.8L393.6 253.7Z" fill="#3b91d3"/>
<path d="M386.3 252.2L388.5 254.6L391.1 254.2L388.9 251.9Z" fill="#3ba6de"/>
<path d="M416.9 258.4L419.1 260.2L421.7 258.5L419.5 256.7Z" fill="#3b8bd0"/>
<path d="M447.5 256.6L449.7 258.7L452.2 256.1L450.1 254.0Z" fill="#49b9d7"/>
<path d="M355.8 239.8L357.9 241.6L360.5 238.2L358.3 236.5Z" fill="#f0c223"/>
<path d="M381.6 250.0L383.8 252.5L386.3 252.2L384.2 249.8Z" fill="#44b8dd"/>
<path d="M442.8 257.4L444.9 258.9L447.5 256.6L445.3 255.2Z" fill="#3fb7e3"/>
<path d="M351.0 241.1L353.2 243.0L355.8 239.8L353.6 238.0Z" fill="#f0c822"/>
<path d="M412.2 258.4L414.4 260.1L416.9 258.4L414.8 256.6Z" fill="#3a88ce"/>
<path d="M407.5 258.3L409.6 260.1L412.2 258.4L410.0 256.6Z" fill="#3a84cc"/>
<path d="M438.0 258.2L440.2 259.7L442.8 257.4L440.6 256.0Z" fill="#3cb0e3"/>
<path d="M376.9 246.4L379.1 250.1L381.6 250.0L379.4 246.4Z" fill="#6ac0b1"/>
<path d="M346.3 242.0L348.5 244.1L351.0 241.1L348.9 239.1Z" fill="#f0cf22"/>
<path d="M402.7 258.3L404.9 260.1L407.5 258.3L405.3 256.5Z" fill="#3a7fca"/>
<path d="M433.3 258.9L435.5 260.5L438.0 258.2L435.9 256.7Z" fill="#3ba6de"/>
<path d="M372.1 242.7L374.3 246.5L376.9 246.4L374.7 242.8Z" fill="#a8cc5b"/>
<path d="M463.9 257.2L466.1 259.3L468.6 256.8L466.4 254.7Z" fill="#5ebdbf"/>
<path d="M428.6 259.6L430.7 261.2L433.3 258.9L431.1 257.4Z" fill="#3b9bd8"/>
<path d="M398.0 257.9L400.2 260.1L402.7 258.3L400.6 256.1Z" fill="#3a7cc8"/>
<path d="M459.2 257.6L461.3 259.7L463.9 257.2L461.7 255.1Z" fill="#59bcc5"/>
<path d="M367.4 241.7L369.6 245.1L372.1 242.7L370.0 238.9Z" fill="#d6d933"/>
<path d="M423.8 260.3L426.0 261.8L428.6 259.6L426.4 258.1Z" fill="#3b8dd1"/>
<path d="M393.3 256.4L395.4 258.7L398.0 257.9L395.8 255.8Z" fill="#3a87ce"/>
<path d="M362.7 241.3L364.8 244.4L367.4 241.7L365.2 238.2Z" fill="#efe021"/>
<path d="M454.4 258.1L456.6 260.2L459.2 257.6L457.0 255.6Z" fill="#51bace"/>
<path d="M357.9 241.6L360.1 244.3L362.7 241.3L360.5 238.2Z" fill="#f0d321"/>
<path d="M419.1 260.2L421.3 262.0L423.8 260.3L421.7 258.5Z" fill="#3a85cd"/>
<path d="M388.5 254.6L390.7 257.0L393.3 256.4L391.1 254.2Z" fill="#3b9dd9"/>
<path d="M449.7 258.7L451.9 260.7L454.4 258.1L452.2 256.1Z" fill="#48b9d8"/>
<path d="M444.9 258.9L447.1 260.9L449.7 258.7L447.5 256.6Z" fill="#3db6e5"/>
<path d="M383.8 252.5L386.0 255.0L388.5 254.6L386.3 252.2Z" fill="#3cb3e4"/>
<path d="M353.2 243.0L355.4 245.0L357.9 241.6L355.8 239.8Z" fill="#f0d321"/>
<path d="M414.4 260.1L416.5 261.9L419.1 260.2L416.9 258.4Z" fill="#3a83cc"/>
<path d="M409.6 260.1L411.8 261.9L414.4 260.1L412.2 258.4Z" fill="#3a80ca"/>
<path d="M440.2 259.7L442.4 261.2L444.9 258.9L442.8 257.4Z" fill="#3cafe2"/>
<path d="M379.1 250.1L381.2 252.8L383.8 252.5L381.6 250.0Z" fill="#56bbc9"/>
<path d="M348.5 244.1L350.6 246.2L353.2 243.0L351.0 241.1Z" fill="#f0d921"/>
<path d="M404.9 260.1L407.1 261.9L409.6 260.1L407.5 258.3Z" fill="#3a7cc8"/>
<path d="M435.5 260.5L437.6 262.0L440.2 259.7L438.0 258.2Z" fill="#3ba6de"/>
<path d="M374.3 246.5L376.5 250.3L379.1 250.1L376.9 246.4Z" fill="#7fc497"/>
<path d="M400.2 260.1L402.3 261.8L404.9 260.1L402.7 258.3Z" fill="#3979c6"/>
<path d="M430.7 261.2L432.9 262.7L435.5 260.5L433.3 258.9Z" fill="#3b9bd8"/>
<path d="M369.6 245.1L371.8 248.6L374.3 246.5L372.1 242.7Z" fill="#b6d04c"/>
<path d="M461.3 259.7L463.5 261.8L466.1 259.3L463.9 257.2Z" fill="#56bbc8"/>
<path d="M426.0 261.8L428.2 263.4L430.7 261.2L428.6 259.6Z" fill="#3b8fd2"/>
<path d="M395.4 258.7L397.6 260.9L400.2 260.1L398.0 257.9Z" fill="#3a7ec9"/>
<path d="M364.8 244.4L367.0 247.5L369.6 245.1L367.4 241.7Z" fill="#d3d836"/>
<path d="M456.6 260.2L458.8 262.3L461.3 259.7L459.2 257.6Z" fill="#50bacf"/>
<path d="M421.3 262.0L423.4 263.5L426.0 261.8L423.8 260.3Z" fill="#3a83cc"/>
<path d="M390.7 257.0L392.9 259.4L395.4 258.7L393.3 256.4Z" fill="#3b94d5"/>
<path d="M360.1 244.3L362.3 247.1L364.8 244.4L362.7 241.3Z" fill="#e6dd27"/>
<path d="M451.9 260.7L454.0 262.8L456.6 260.2L454.4 258.1Z" fill="#48b8d8"/>
<path d="M355.4 245.0L357.5 247.4L360.1 244.3L357.9 241.6Z" fill="#efe020"/>
<path d="M447.1 260.9L449.3 262.9L451.9 260.7L449.7 258.7Z" fill="#3eb6e4"/>
<path d="M386.0 255.0L388.1 257.6L390.7 257.0L388.5 254.6Z" fill="#3caae0"/>
<path d="M416.5 261.9L418.7 263.7L421.3 262.0L419.1 260.2Z" fill="#3a7ec9"/>
<path d="M442.4 261.2L444.6 263.1L447.1 260.9L444.9 258.9Z" fill="#3caee2"/>
<path d="M381.2 252.8L383.4 255.5L386.0 255.0L383.8 252.5Z" fill="#49b9d7"/>
<path d="M411.8 261.9L414.0 263.7L416.5 261.9L414.4 260.1Z" fill="#3a7cc8"/>
<path d="M350.6 246.2L352.8 248.4L355.4 245.0L353.2 243.0Z" fill="#eddf22"/>
<path d="M437.6 262.0L439.8 263.5L442.4 261.2L440.2 259.7Z" fill="#3ba5dd"/>
<path d="M376.5 250.3L378.7 253.1L381.2 252.8L379.1 250.1Z" fill="#67bfb5"/>
<path d="M407.1 261.9L409.2 263.6L411.8 261.9L409.6 260.1Z" fill="#397ac6"/>
<path d="M402.3 261.8L404.5 263.6L407.1 261.9L404.9 260.1Z" fill="#3977c4"/>
<path d="M432.9 262.7L435.1 264.2L437.6 262.0L435.5 260.5Z" fill="#3b9cd8"/>
<path d="M371.8 248.6L373.9 252.0L376.5 250.3L374.3 246.5Z" fill="#90c77f"/>
<path d="M397.6 260.9L399.8 262.7L402.3 261.8L400.2 260.1Z" fill="#397ac6"/>
<path d="M428.2 263.4L430.4 264.9L432.9 262.7L430.7 261.2Z" fill="#3b90d2"/>
<path d="M367.0 247.5L369.2 250.6L371.8 248.6L369.6 245.1Z" fill="#b8d04a"/>
<path d="M458.8 262.3L460.9 264.3L463.5 261.8L461.3 259.7Z" fill="#4fbad1"/>
<path d="M423.4 263.5L425.6 265.0L428.2 263.4L426.0 261.8Z" fill="#3a86cd"/>
<path d="M392.9 259.4L395.0 261.8L397.6 260.9L395.4 258.7Z" fill="#3b8bd0"/>
<path d="M362.3 247.1L364.5 249.9L367.0 247.5L364.8 244.4Z" fill="#d0d738"/>
<path d="M454.0 262.8L456.2 264.8L458.8 262.3L456.6 260.2Z" fill="#48b8d9"/>
<path d="M388.1 257.6L390.3 260.1L392.9 259.4L390.7 257.0Z" fill="#3ba1db"/>
<path d="M418.7 263.7L420.9 265.2L423.4 263.5L421.3 262.0Z" fill="#3a7dc8"/>
<path d="M449.3 262.9L451.5 264.9L454.0 262.8L451.9 260.7Z" fill="#3eb6e4"/>
<path d="M357.5 247.4L359.7 249.8L362.3 247.1L360.1 244.3Z" fill="#dedb2d"/>
<path d="M352.8 248.4L355.0 250.5L357.5 247.4L355.4 245.0Z" fill="#e2dc2b"/>
<path d="M414.0 263.7L416.1 265.5L418.7 263.7L416.5 261.9Z" fill="#3979c6"/>
<path d="M444.6 263.1L446.7 265.1L449.3 262.9L447.1 260.9Z" fill="#3cb0e3"/>
<path d="M383.4 255.5L385.6 258.2L388.1 257.6L386.0 255.0Z" fill="#3db6e5"/>
<path d="M439.8 263.5L442.0 265.3L444.6 263.1L442.4 261.2Z" fill="#3ba6de"/>
<path d="M378.7 253.1L380.8 255.9L383.4 255.5L381.2 252.8Z" fill="#5bbdc2"/>
<path d="M409.2 263.6L411.4 265.4L414.0 263.7L411.8 261.9Z" fill="#3978c5"/>
<path d="M435.1 264.2L437.3 265.7L439.8 263.5L437.6 262.0Z" fill="#3b9cd9"/>
<path d="M404.5 263.6L406.7 265.4L409.2 263.6L407.1 261.9Z" fill="#3876c3"/>
<path d="M373.9 252.0L376.1 254.7L378.7 253.1L376.5 250.3Z" fill="#74c2a6"/>
<path d="M399.8 262.7L401.9 264.6L404.5 263.6L402.3 261.8Z" fill="#3978c5"/>
<path d="M430.4 264.9L432.5 266.5L435.1 264.2L432.9 262.7Z" fill="#3b92d3"/>
<path d="M369.2 250.6L371.4 253.7L373.9 252.0L371.8 248.6Z" fill="#98c973"/>
<path d="M395.0 261.8L397.2 263.7L399.8 262.7L397.6 260.9Z" fill="#3a84cc"/>
<path d="M425.6 265.0L427.8 266.6L430.4 264.9L428.2 263.4Z" fill="#3a88ce"/>
<path d="M364.5 249.9L366.6 252.7L369.2 250.6L367.0 247.5Z" fill="#bad149"/>
<path d="M456.2 264.8L458.4 266.8L460.9 264.3L458.8 262.3Z" fill="#47b8d9"/>
<path d="M390.3 260.1L392.5 262.7L395.0 261.8L392.9 259.4Z" fill="#3b99d7"/>
<path d="M420.9 265.2L423.1 266.7L425.6 265.0L423.4 263.5Z" fill="#3a80ca"/>
<path d="M451.5 264.9L453.6 266.9L456.2 264.8L454.0 262.8Z" fill="#3fb7e3"/>
<path d="M359.7 249.8L361.9 252.3L364.5 249.9L362.3 247.1Z" fill="#cdd63a"/>
<path d="M416.1 265.5L418.3 266.9L420.9 265.2L418.7 263.7Z" fill="#3979c6"/>
<path d="M385.6 258.2L387.7 260.9L390.3 260.1L388.1 257.6Z" fill="#3caee2"/>
<path d="M446.7 265.1L448.9 267.0L451.5 264.9L449.3 262.9Z" fill="#3cb1e3"/>
<path d="M355.0 250.5L357.2 252.6L359.7 249.8L357.5 247.4Z" fill="#d6d934"/>
<path d="M442.0 265.3L444.2 267.2L446.7 265.1L444.6 263.1Z" fill="#3ca8df"/>
<path d="M411.4 265.4L413.6 267.2L416.1 265.5L414.0 263.7Z" fill="#3876c4"/>
<path d="M380.8 255.9L383.0 258.8L385.6 258.2L383.4 255.5Z" fill="#50bad0"/>
<path d="M437.3 265.7L439.4 267.6L442.0 265.3L439.8 263.5Z" fill="#3b9ed9"/>
<path d="M406.7 265.4L408.8 267.2L411.4 265.4L409.2 263.6Z" fill="#3874c2"/>
<path d="M376.1 254.7L378.3 257.4L380.8 255.9L378.7 253.1Z" fill="#69bfb3"/>
<path d="M432.5 266.5L434.7 268.0L437.3 265.7L435.1 264.2Z" fill="#3b93d4"/>
<path d="M371.4 253.7L373.5 256.3L376.1 254.7L373.9 252.0Z" fill="#7fc496"/>
<path d="M401.9 264.6L404.1 266.4L406.7 265.4L404.5 263.6Z" fill="#3876c4"/>
<path d="M397.2 263.7L399.4 265.5L401.9 264.6L399.8 262.7Z" fill="#3a7fca"/>
<path d="M427.8 266.6L430.0 268.1L432.5 266.5L430.4 264.9Z" fill="#3a8acf"/>
<path d="M366.6 252.7L368.8 255.4L371.4 253.7L369.2 250.6Z" fill="#a1cb66"/>
<path d="M392.5 262.7L394.6 264.6L397.2 263.7L395.0 261.8Z" fill="#3b91d3"/>
<path d="M423.1 266.7L425.2 268.2L427.8 266.6L425.6 265.0Z" fill="#3a83cb"/>
<path d="M361.9 252.3L364.1 254.7L366.6 252.7L364.5 249.9Z" fill="#bcd147"/>
<path d="M453.6 266.9L455.8 268.8L458.4 266.8L456.2 264.8Z" fill="#3fb7e2"/>
<path d="M418.3 266.9L420.5 268.4L423.1 266.7L420.9 265.2Z" fill="#3a7bc7"/>
<path d="M387.7 260.9L389.9 263.6L392.5 262.7L390.3 260.1Z" fill="#3ba6de"/>
<path d="M448.9 267.0L451.1 268.9L453.6 266.9L451.5 264.9Z" fill="#3cb2e4"/>
<path d="M357.2 252.6L359.3 254.7L361.9 252.3L359.7 249.8Z" fill="#cad53d"/>
<path d="M413.6 267.2L415.8 268.6L418.3 266.9L416.1 265.5Z" fill="#3876c4"/>
<path d="M383.0 258.8L385.2 261.6L387.7 260.9L385.6 258.2Z" fill="#44b8dd"/>
<path d="M444.2 267.2L446.3 269.1L448.9 267.0L446.7 265.1Z" fill="#3caae0"/>
<path d="M439.4 267.6L441.6 269.4L444.2 267.2L442.0 265.3Z" fill="#3ba0db"/>
<path d="M408.8 267.2L411.0 268.9L413.6 267.2L411.4 265.4Z" fill="#3772c1"/>
<path d="M378.3 257.4L380.4 260.1L383.0 258.8L380.8 255.9Z" fill="#5dbdc0"/>
<path d="M434.7 268.0L436.9 269.8L439.4 267.6L437.3 265.7Z" fill="#3b95d5"/>
<path d="M373.5 256.3L375.7 258.9L378.3 257.4L376.1 254.7Z" fill="#71c1aa"/>
<path d="M404.1 266.4L406.3 268.2L408.8 267.2L406.7 265.4Z" fill="#3874c2"/>
<path d="M430.0 268.1L432.1 269.6L434.7 268.0L432.5 266.5Z" fill="#3b8cd0"/>
<path d="M399.4 265.5L401.5 267.3L404.1 266.4L401.9 264.6Z" fill="#3a7bc7"/>
<path d="M368.8 255.4L371.0 257.9L373.5 256.3L371.4 253.7Z" fill="#8bc686"/>
<path d="M394.6 264.6L396.8 266.4L399.4 265.5L397.2 263.7Z" fill="#3b8bd0"/>
<path d="M425.2 268.2L427.4 269.7L430.0 268.1L427.8 266.6Z" fill="#3a85cd"/>
<path d="M364.1 254.7L366.2 257.2L368.8 255.4L366.6 252.7Z" fill="#a9cd5a"/>
<path d="M389.9 263.6L392.1 265.5L394.6 264.6L392.5 262.7Z" fill="#3b9eda"/>
<path d="M420.5 268.4L422.7 269.8L425.2 268.2L423.1 266.7Z" fill="#3a7dc9"/>
<path d="M359.3 254.7L361.5 256.8L364.1 254.7L361.9 252.3Z" fill="#bdd246"/>
<path d="M451.1 268.9L453.2 270.9L455.8 268.8L453.6 266.9Z" fill="#3cb3e4"/>
<path d="M415.8 268.6L417.9 270.1L420.5 268.4L418.3 266.9Z" fill="#3978c5"/>
<path d="M385.2 261.6L387.3 264.4L389.9 263.6L387.7 260.9Z" fill="#3cb3e5"/>
<path d="M446.3 269.1L448.5 271.0L451.1 268.9L448.9 267.0Z" fill="#3cace1"/>
<path d="M411.0 268.9L413.2 270.3L415.8 268.6L413.6 267.2Z" fill="#3773c1"/>
<path d="M380.4 260.1L382.6 262.8L385.2 261.6L383.0 258.8Z" fill="#51bace"/>
<path d="M441.6 269.4L443.8 271.2L446.3 269.1L444.2 267.2Z" fill="#3ba3dc"/>
<path d="M436.9 269.8L439.0 271.6L441.6 269.4L439.4 267.6Z" fill="#3b99d7"/>
<path d="M406.3 268.2L408.5 270.0L411.0 268.9L408.8 267.2Z" fill="#3772c1"/>
<path d="M375.7 258.9L377.9 261.4L380.4 260.1L378.3 257.4Z" fill="#65beb7"/>
<path d="M432.1 269.6L434.3 271.4L436.9 269.8L434.7 268.0Z" fill="#3b8fd2"/>
<path d="M401.5 267.3L403.7 269.2L406.3 268.2L404.1 266.4Z" fill="#3979c6"/>
<path d="M371.0 257.9L373.1 260.3L375.7 258.9L373.5 256.3Z" fill="#7ac39e"/>
<path d="M396.8 266.4L399.0 268.3L401.5 267.3L399.4 265.5Z" fill="#3a84cc"/>
<path d="M427.4 269.7L429.6 271.2L432.1 269.6L430.0 268.1Z" fill="#3a88ce"/>
<path d="M366.2 257.2L368.4 259.5L371.0 257.9L368.8 255.4Z" fill="#96c975"/>
<path d="M392.1 265.5L394.3 267.4L396.8 266.4L394.6 264.6Z" fill="#3b96d6"/>
<path d="M422.7 269.8L424.8 271.3L427.4 269.7L425.2 268.2Z" fill="#3a81ca"/>
<path d="M361.5 256.8L363.7 258.9L366.2 257.2L364.1 254.7Z" fill="#b1ce4f"/>
<path d="M387.3 264.4L389.5 266.4L392.1 265.5L389.9 263.6Z" fill="#3cabe0"/>
<path d="M417.9 270.1L420.1 271.5L422.7 269.8L420.5 268.4Z" fill="#397ac6"/>
<path d="M448.5 271.0L450.7 272.9L453.2 270.9L451.1 268.9Z" fill="#3caee2"/>
<path d="M413.2 270.3L415.4 271.7L417.9 270.1L415.8 268.6Z" fill="#3875c3"/>
<path d="M382.6 262.8L384.8 265.5L387.3 264.4L385.2 261.6Z" fill="#45b8db"/>
<path d="M443.8 271.2L445.9 273.1L448.5 271.0L446.3 269.1Z" fill="#3ba6de"/>
<path d="M408.5 270.0L410.6 271.4L413.2 270.3L411.0 268.9Z" fill="#3772c1"/>
<path d="M377.9 261.4L380.0 264.0L382.6 262.8L380.4 260.1Z" fill="#59bcc5"/>
<path d="M439.0 271.6L441.2 273.3L443.8 271.2L441.6 269.4Z" fill="#3b9cd9"/>
<path d="M434.3 271.4L436.5 273.2L439.0 271.6L436.9 269.8Z" fill="#3b93d4"/>
<path d="M403.7 269.2L405.9 271.0L408.5 270.0L406.3 268.2Z" fill="#3876c4"/>
<path d="M373.1 260.3L375.3 262.7L377.9 261.4L375.7 258.9Z" fill="#6dc0ae"/>
<path d="M429.6 271.2L431.7 273.0L434.3 271.4L432.1 269.6Z" fill="#3b8bd0"/>
<path d="M399.0 268.3L401.2 270.2L403.7 269.2L401.5 267.3Z" fill="#3a7ec9"/>
<path d="M368.4 259.5L370.6 261.8L373.1 260.3L371.0 257.9Z" fill="#85c58e"/>
<path d="M424.8 271.3L427.0 272.8L429.6 271.2L427.4 269.7Z" fill="#3a84cc"/>
<path d="M363.7 258.9L365.8 261.1L368.4 259.5L366.2 257.2Z" fill="#a2cb65"/>
<path d="M394.3 267.4L396.4 269.3L399.0 268.3L396.8 266.4Z" fill="#3b8fd2"/>
<path d="M389.5 266.4L391.7 268.3L394.3 267.4L392.1 265.5Z" fill="#3ba2dc"/>
<path d="M420.1 271.5L422.3 272.9L424.8 271.3L422.7 269.8Z" fill="#3a7cc8"/>
<path d="M384.8 265.5L387.0 267.6L389.5 266.4L387.3 264.4Z" fill="#3cb4e5"/>
<path d="M415.4 271.7L417.5 273.1L420.1 271.5L417.9 270.1Z" fill="#3977c5"/>
<path d="M445.9 273.1L448.1 274.9L450.7 272.9L448.5 271.0Z" fill="#3ca9df"/>
<path d="M410.6 271.4L412.8 272.8L415.4 271.7L413.2 270.3Z" fill="#3874c3"/>
<path d="M380.0 264.0L382.2 266.6L384.8 265.5L382.6 262.8Z" fill="#4db9d3"/>
<path d="M441.2 273.3L443.4 275.1L445.9 273.1L443.8 271.2Z" fill="#3ba0db"/>
<path d="M405.9 271.0L408.1 272.4L410.6 271.4L408.5 270.0Z" fill="#3875c3"/>
<path d="M436.5 273.2L438.6 275.0L441.2 273.3L439.0 271.6Z" fill="#3b97d6"/>
<path d="M375.3 262.7L377.5 265.2L380.0 264.0L377.9 261.4Z" fill="#61bebc"/>
<path d="M401.2 270.2L403.3 272.1L405.9 271.0L403.7 269.2Z" fill="#397ac6"/>
<path d="M431.7 273.0L433.9 274.8L436.5 273.2L434.3 271.4Z" fill="#3b8fd2"/>
<path d="M370.6 261.8L372.7 264.1L375.3 262.7L373.1 260.3Z" fill="#75c2a5"/>
<path d="M427.0 272.8L429.2 274.6L431.7 273.0L429.6 271.2Z" fill="#3a88ce"/>
<path d="M365.8 261.1L368.0 263.2L370.6 261.8L368.4 259.5Z" fill="#90c77e"/>
<path d="M396.4 269.3L398.6 271.2L401.2 270.2L399.0 268.3Z" fill="#3a87ce"/>
<path d="M422.3 272.9L424.4 274.3L427.0 272.8L424.8 271.3Z" fill="#3a80ca"/>
<path d="M391.7 268.3L393.9 270.3L396.4 269.3L394.3 267.4Z" fill="#3b99d7"/>
<path d="M387.0 267.6L389.1 269.8L391.7 268.3L389.5 266.4Z" fill="#3caae0"/>
<path d="M417.5 273.1L419.7 274.5L422.3 272.9L420.1 271.5Z" fill="#397ac6"/>
<path d="M382.2 266.6L384.4 268.9L387.0 267.6L384.8 265.5Z" fill="#40b7e2"/>
<path d="M412.8 272.8L415.0 274.2L417.5 273.1L415.4 271.7Z" fill="#3876c4"/>
<path d="M443.4 275.1L445.6 276.9L448.1 274.9L445.9 273.1Z" fill="#3ba3dc"/>
<path d="M408.1 272.4L410.2 273.8L412.8 272.8L410.6 271.4Z" fill="#3977c4"/>
<path d="M438.6 275.0L440.8 276.8L443.4 275.1L441.2 273.3Z" fill="#3b9bd8"/>
<path d="M377.5 265.2L379.7 267.6L382.2 266.6L380.0 264.0Z" fill="#54bbca"/>
<path d="M403.3 272.1L405.5 273.5L408.1 272.4L405.9 271.0Z" fill="#3978c5"/>
<path d="M372.7 264.1L374.9 266.4L377.5 265.2L375.3 262.7Z" fill="#68bfb4"/>
<path d="M433.9 274.8L436.1 276.7L438.6 275.0L436.5 273.2Z" fill="#3b93d4"/>
<path d="M429.2 274.6L431.3 276.5L433.9 274.8L431.7 273.0Z" fill="#3b8bd0"/>
<path d="M398.6 271.2L400.8 273.1L403.3 272.1L401.2 270.2Z" fill="#3a7fca"/>
<path d="M368.0 263.2L370.2 265.4L372.7 264.1L370.6 261.8Z" fill="#7fc497"/>
<path d="M424.4 274.3L426.6 276.2L429.2 274.6L427.0 272.8Z" fill="#3a84cc"/>
<path d="M393.9 270.3L396.0 272.2L398.6 271.2L396.4 269.3Z" fill="#3b90d2"/>
<path d="M419.7 274.5L421.9 275.9L424.4 274.3L422.3 272.9Z" fill="#3a7cc8"/>
<path d="M389.1 269.8L391.3 271.9L393.9 270.3L391.7 268.3Z" fill="#3ba0db"/>
<path d="M384.4 268.9L386.6 271.2L389.1 269.8L387.0 267.6Z" fill="#3cafe2"/>
<path d="M415.0 274.2L417.1 275.6L419.7 274.5L417.5 273.1Z" fill="#3979c5"/>
<path d="M379.7 267.6L381.8 270.1L384.4 268.9L382.2 266.6Z" fill="#47b8d9"/>
<path d="M410.2 273.8L412.4 275.3L415.0 274.2L412.8 272.8Z" fill="#3978c5"/>
<path d="M440.8 276.8L443.0 278.6L445.6 276.9L443.4 275.1Z" fill="#3b9fda"/>
<path d="M374.9 266.4L377.1 268.7L379.7 267.6L377.5 265.2Z" fill="#5cbdc2"/>
<path d="M405.5 273.5L407.7 274.9L410.2 273.8L408.1 272.4Z" fill="#3979c6"/>
<path d="M436.1 276.7L438.3 278.5L440.8 276.8L438.6 275.0Z" fill="#3b97d6"/>
<path d="M370.2 265.4L372.4 267.5L374.9 266.4L372.7 264.1Z" fill="#70c1ab"/>
<path d="M400.8 273.1L402.9 274.5L405.5 273.5L403.3 272.1Z" fill="#3a7bc8"/>
<path d="M431.3 276.5L433.5 278.3L436.1 276.7L433.9 274.8Z" fill="#3b8fd2"/>
<path d="M426.6 276.2L428.8 278.1L431.3 276.5L429.2 274.6Z" fill="#3a88ce"/>
<path d="M396.0 272.2L398.2 274.1L400.8 273.1L398.6 271.2Z" fill="#3a87ce"/>
<path d="M421.9 275.9L424.0 277.8L426.6 276.2L424.4 274.3Z" fill="#3a80ca"/>
<path d="M391.3 271.9L393.5 274.0L396.0 272.2L393.9 270.3Z" fill="#3b97d6"/>
<path d="M417.1 275.6L419.3 277.0L421.9 275.9L419.7 274.5Z" fill="#3a7bc7"/>
<path d="M386.6 271.2L388.7 273.5L391.3 271.9L389.1 269.8Z" fill="#3ba6de"/>
<path d="M381.8 270.1L384.0 272.6L386.6 271.2L384.4 268.9Z" fill="#3cb4e5"/>
<path d="M412.4 275.3L414.6 276.7L417.1 275.6L415.0 274.2Z" fill="#3979c6"/>
<path d="M377.1 268.7L379.3 271.3L381.8 270.1L379.7 267.6Z" fill="#4fbad1"/>
<path d="M407.7 274.9L409.8 276.3L412.4 275.3L410.2 273.8Z" fill="#3979c6"/>
<path d="M438.3 278.5L440.4 280.3L443.0 278.6L440.8 276.8Z" fill="#3b9bd8"/>
<path d="M372.4 267.5L374.5 269.7L377.1 268.7L374.9 266.4Z" fill="#63beba"/>
<path d="M402.9 274.5L405.1 276.0L407.7 274.9L405.5 273.5Z" fill="#3a7bc7"/>
<path d="M433.5 278.3L435.7 280.2L438.3 278.5L436.1 276.7Z" fill="#3b93d4"/>
<path d="M398.2 274.1L400.4 275.6L402.9 274.5L400.8 273.1Z" fill="#3a81ca"/>
<path d="M428.8 278.1L431.0 280.0L433.5 278.3L431.3 276.5Z" fill="#3b8bd0"/>
<path d="M393.5 274.0L395.6 276.1L398.2 274.1L396.0 272.2Z" fill="#3b8dd1"/>
<path d="M424.0 277.8L426.2 279.7L428.8 278.1L426.6 276.2Z" fill="#3a84cc"/>
<path d="M419.3 277.0L421.5 278.8L424.0 277.8L421.9 275.9Z" fill="#3a7dc8"/>
<path d="M388.7 273.5L390.9 275.8L393.5 274.0L391.3 271.9Z" fill="#3b9cd9"/>
<path d="M384.0 272.6L386.2 275.1L388.7 273.5L386.6 271.2Z" fill="#3cabe0"/>
<path d="M414.6 276.7L416.7 278.1L419.3 277.0L417.1 275.6Z" fill="#397ac7"/>
<path d="M379.3 271.3L381.4 274.0L384.0 272.6L381.8 270.1Z" fill="#41b7e0"/>
<path d="M409.8 276.3L412.0 277.8L414.6 276.7L412.4 275.3Z" fill="#3979c6"/>
<path d="M374.5 269.7L376.7 272.6L379.3 271.3L377.1 268.7Z" fill="#56bbc8"/>
<path d="M405.1 276.0L407.3 277.4L409.8 276.3L407.7 274.9Z" fill="#397ac7"/>
<path d="M435.7 280.2L437.9 282.1L440.4 280.3L438.3 278.5Z" fill="#3b97d6"/>
<path d="M400.4 275.6L402.5 277.0L405.1 276.0L402.9 274.5Z" fill="#3a7ec9"/>
<path d="M431.0 280.0L433.1 281.9L435.7 280.2L433.5 278.3Z" fill="#3b8fd2"/>
<path d="M395.6 276.1L397.8 277.6L400.4 275.6L398.2 274.1Z" fill="#3a87cd"/>
<path d="M426.2 279.7L428.4 281.7L431.0 280.0L428.8 278.1Z" fill="#3a88ce"/>
<path d="M421.5 278.8L423.7 280.7L426.2 279.7L424.0 277.8Z" fill="#3a81ca"/>
<path d="M390.9 275.8L393.1 278.1L395.6 276.1L393.5 274.0Z" fill="#3b93d4"/>
<path d="M416.7 278.1L418.9 279.9L421.5 278.8L419.3 277.0Z" fill="#3a7bc8"/>
<path d="M386.2 275.1L388.3 277.6L390.9 275.8L388.7 273.5Z" fill="#3ba2dc"/>
<path d="M412.0 277.8L414.2 279.2L416.7 278.1L414.6 276.7Z" fill="#3979c6"/>
<path d="M381.4 274.0L383.6 276.7L386.2 275.1L384.0 272.6Z" fill="#3cb0e3"/>
<path d="M376.7 272.6L378.9 275.5L381.4 274.0L379.3 271.3Z" fill="#49b9d7"/>
<path d="M407.3 277.4L409.5 278.8L412.0 277.8L409.8 276.3Z" fill="#397ac6"/>
<path d="M402.5 277.0L404.7 278.5L407.3 277.4L405.1 276.0Z" fill="#3a7bc8"/>
<path d="M433.1 281.9L435.3 283.8L437.9 282.1L435.7 280.2Z" fill="#3b93d4"/>
<path d="M397.8 277.6L400.0 279.0L402.5 277.0L400.4 275.6Z" fill="#3a82cb"/>
<path d="M428.4 281.7L430.6 283.6L433.1 281.9L431.0 280.0Z" fill="#3b8bd0"/>
<path d="M393.1 278.1L395.2 279.6L397.8 277.6L395.6 276.1Z" fill="#3b8cd0"/>
<path d="M423.7 280.7L425.8 282.5L428.4 281.7L426.2 279.7Z" fill="#3a84cc"/>
<path d="M388.3 277.6L390.5 280.1L393.1 278.1L390.9 275.8Z" fill="#3b99d7"/>
<path d="M418.9 279.9L421.1 281.6L423.7 280.7L421.5 278.8Z" fill="#3a7ec9"/>
<path d="M414.2 279.2L416.4 280.9L418.9 279.9L416.7 278.1Z" fill="#3a7ac7"/>
<path d="M383.6 276.7L385.8 279.4L388.3 277.6L386.2 275.1Z" fill="#3ba7de"/>
<path d="M378.9 275.5L381.0 278.3L383.6 276.7L381.4 274.0Z" fill="#3cb6e6"/>
<path d="M409.5 278.8L411.6 280.3L414.2 279.2L412.0 277.8Z" fill="#3979c6"/>
<path d="M404.7 278.5L406.9 279.9L409.5 278.8L407.3 277.4Z" fill="#397ac6"/>
<path d="M400.0 279.0L402.2 280.5L404.7 278.5L402.5 277.0Z" fill="#3a7ec9"/>
<path d="M430.6 283.6L432.7 285.5L435.3 283.8L433.1 281.9Z" fill="#3b8fd2"/>
<path d="M395.2 279.6L397.4 281.0L400.0 279.0L397.8 277.6Z" fill="#3a88ce"/>
<path d="M425.8 282.5L428.0 284.4L430.6 283.6L428.4 281.7Z" fill="#3a88ce"/>
<path d="M390.5 280.1L392.7 281.6L395.2 279.6L393.1 278.1Z" fill="#3b92d3"/>
<path d="M421.1 281.6L423.3 283.4L425.8 282.5L423.7 280.7Z" fill="#3a81cb"/>
<path d="M416.4 280.9L418.5 282.6L421.1 281.6L418.9 279.9Z" fill="#3a7cc8"/>
<path d="M385.8 279.4L387.9 282.1L390.5 280.1L388.3 277.6Z" fill="#3b9eda"/>
<path d="M411.6 280.3L413.8 281.9L416.4 280.9L414.2 279.2Z" fill="#3979c6"/>
<path d="M381.0 278.3L383.2 281.2L385.8 279.4L383.6 276.7Z" fill="#3cade1"/>
<path d="M406.9 279.9L409.1 281.3L411.6 280.3L409.5 278.8Z" fill="#3978c5"/>
<path d="M402.2 280.5L404.3 281.9L406.9 279.9L404.7 278.5Z" fill="#3a7bc7"/>
<path d="M397.4 281.0L399.6 282.5L402.2 280.5L400.0 279.0Z" fill="#3a83cc"/>
<path d="M428.0 284.4L430.2 286.2L432.7 285.5L430.6 283.6Z" fill="#3b8cd0"/>
<path d="M392.7 281.6L394.9 283.0L397.4 281.0L395.2 279.6Z" fill="#3b8dd1"/>
<path d="M423.3 283.4L425.4 285.2L428.0 284.4L425.8 282.5Z" fill="#3a85cc"/>
<path d="M387.9 282.1L390.1 283.6L392.7 281.6L390.5 280.1Z" fill="#3b97d6"/>
<path d="M418.5 282.6L420.7 284.3L423.3 283.4L421.1 281.6Z" fill="#3a7ec9"/>
<path d="M383.2 281.2L385.4 284.1L387.9 282.1L385.8 279.4Z" fill="#3ba4dd"/>
<path d="M413.8 281.9L416.0 283.5L418.5 282.6L416.4 280.9Z" fill="#3a7ac7"/>
<path d="M409.1 281.3L411.2 282.9L413.8 281.9L411.6 280.3Z" fill="#3978c5"/>
<path d="M404.3 281.9L406.5 283.4L409.1 281.3L406.9 279.9Z" fill="#3979c6"/>
<path d="M399.6 282.5L401.8 283.9L404.3 281.9L402.2 280.5Z" fill="#3a7fc9"/>
<path d="M394.9 283.0L397.0 284.5L399.6 282.5L397.4 281.0Z" fill="#3a88ce"/>
<path d="M425.4 285.2L427.6 286.9L430.2 286.2L428.0 284.4Z" fill="#3a88ce"/>
<path d="M390.1 283.6L392.3 285.0L394.9 283.0L392.7 281.6Z" fill="#3b92d3"/>
<path d="M420.7 284.3L422.9 286.0L425.4 285.2L423.3 283.4Z" fill="#3a81cb"/>
<path d="M385.4 284.1L387.6 285.6L390.1 283.6L387.9 282.1Z" fill="#3b9dd9"/>
<path d="M416.0 283.5L418.1 285.1L420.7 284.3L418.5 282.6Z" fill="#3a7cc8"/>
<path d="M411.2 282.9L413.4 284.5L416.0 283.5L413.8 281.9Z" fill="#3979c6"/>
<path d="M406.5 283.4L408.7 284.9L411.2 282.9L409.1 281.3Z" fill="#3978c5"/>
<path d="M401.8 283.9L403.9 285.4L406.5 283.4L404.3 281.9Z" fill="#3a7bc7"/>
<path d="M397.0 284.5L399.2 285.9L401.8 283.9L399.6 282.5Z" fill="#3a83cc"/>
<path d="M392.3 285.0L394.5 286.5L397.0 284.5L394.9 283.0Z" fill="#3b8dd1"/>
<path d="M422.9 286.0L425.0 287.7L427.6 286.9L425.4 285.2Z" fill="#3a84cc"/>
<path d="M387.6 285.6L389.7 287.0L392.3 285.0L390.1 283.6Z" fill="#3b97d6"/>
<path d="M418.1 285.1L420.3 286.8L422.9 286.0L420.7 284.3Z" fill="#3a7ec9"/>
<path d="M413.4 284.5L415.6 286.0L418.1 285.1L416.0 283.5Z" fill="#3a7ac7"/>
<path d="M408.7 284.9L410.8 286.4L413.4 284.5L411.2 282.9Z" fill="#3979c6"/>
<path d="M403.9 285.4L406.1 286.9L408.7 284.9L406.5 283.4Z" fill="#397ac7"/>
<path d="M399.2 285.9L401.4 287.4L403.9 285.4L401.8 283.9Z" fill="#3a7ec9"/>
<path d="M394.5 286.5L396.6 287.9L399.2 285.9L397.0 284.5Z" fill="#3a88ce"/>
<path d="M389.7 287.0L391.9 288.5L394.5 286.5L392.3 285.0Z" fill="#3b92d3"/>
<path d="M420.3 286.8L422.5 288.4L425.0 287.7L422.9 286.0Z" fill="#3a81ca"/>
<path d="M415.6 286.0L417.7 287.6L420.3 286.8L418.1 285.1Z" fill="#3a7bc8"/>
<path d="M410.8 286.4L413.0 288.0L415.6 286.0L413.4 284.5Z" fill="#397ac6"/>
<path d="M406.1 286.9L408.3 288.4L410.8 286.4L408.7 284.9Z" fill="#397ac6"/>
<path d="M401.4 287.4L403.5 288.9L406.1 286.9L403.9 285.4Z" fill="#3a7cc8"/>
<path d="M396.6 287.9L398.8 289.4L401.4 287.4L399.2 285.9Z" fill="#3a82cb"/>
<path d="M391.9 288.5L394.1 289.9L396.6 287.9L394.5 286.5Z" fill="#3b8cd0"/>
<path d="M417.7 287.6L419.9 289.1L422.5 288.4L420.3 286.8Z" fill="#3a7dc8"/>
<path d="M413.0 288.0L415.2 289.5L417.7 287.6L415.6 286.0Z" fill="#397ac7"/>
<path d="M408.3 288.4L410.4 289.9L413.0 288.0L410.8 286.4Z" fill="#397ac6"/>
<path d="M403.5 288.9L405.7 290.4L408.3 288.4L406.1 286.9Z" fill="#3a7bc7"/>
<path d="M398.8 289.4L401.0 290.9L403.5 288.9L401.4 287.4Z" fill="#3a7ec9"/>
<path d="M394.1 289.9L396.2 291.4L398.8 289.4L396.6 287.9Z" fill="#3a87cd"/>
<path d="M415.2 289.5L417.4 291.0L419.9 289.1L417.7 287.6Z" fill="#3a7bc7"/>
<path d="M410.4 289.9L412.6 291.5L415.2 289.5L413.0 288.0Z" fill="#3979c6"/>
<path d="M405.7 290.4L407.9 291.9L410.4 289.9L408.3 288.4Z" fill="#397ac6"/>
<path d="M401.0 290.9L403.1 292.4L405.7 290.4L403.5 288.9Z" fill="#3a7bc8"/>
<path d="M396.2 291.4L398.4 292.9L401.0 290.9L398.8 289.4Z" fill="#3a81cb"/>
<path d="M412.6 291.5L414.8 293.0L417.4 291.0L415.2 289.5Z" fill="#3979c6"/>
<path d="M407.9 291.9L410.1 293.4L412.6 291.5L410.4 289.9Z" fill="#3979c6"/>
<path d="M403.1 292.4L405.3 293.9L407.9 291.9L405.7 290.4Z" fill="#397ac6"/>
<path d="M398.4 292.9L400.6 294.4L403.1 292.4L401.0 290.9Z" fill="#3a7cc8"/>
<path d="M410.1 293.4L412.2 294.9L414.8 293.0L412.6 291.5Z" fill="#3978c5"/>
<path d="M405.3 293.9L407.5 295.4L410.1 293.4L407.9 291.9Z" fill="#3978c5"/>
<path d="M400.6 294.4L402.8 295.9L405.3 293.9L403.1 292.4Z" fill="#397ac6"/>
<path d="M407.5 295.4L409.7 296.9L412.2 294.9L410.1 293.4Z" fill="#3876c4"/>
<path d="M402.8 295.9L404.9 297.3L407.5 295.4L405.3 293.9Z" fill="#3977c4"/>
<path d="M404.9 297.3L407.1 298.8L409.7 296.9L407.5 295.4Z" fill="#3874c3"/>
<polyline points="331.10,242.31 333.66,239.92 336.23,237.52 338.79,235.13 341.35,232.74 343.92,230.35 346.48,228.30 349.04,226.24 351.61,224.18 354.17,222.13 356.73,220.07 359.30,217.90 361.86,215.73 364.42,213.57 366.99,211.40 369.55,209.23 372.11,207.34 374.68,205.45 377.24,203.56 379.80,201.67 382.37,199.78 384.93,197.00 387.49,194.22 390.06,191.44 392.62,188.66 395.18,185.88 397.75,183.27 400.31,180.65 402.87,178.04 405.44,175.43 408.00,172.81" fill="none" stroke="#ffffff" stroke-opacity="0.5" stroke-width="0.6"/>
<polyline points="341.96,237.81 344.52,235.20 347.08,232.58 349.65,229.97 352.21,227.35 354.77,224.74 357.34,225.14 359.90,225.53 362.46,225.92 365.03,226.32 367.59,226.71 370.15,224.27 372.72,221.82 375.28,219.37 377.84,216.93 380.41,214.48 382.97,212.93 385.53,211.37 388.10,209.82 390.66,208.26 393.22,206.71 395.79,203.87 398.35,201.03 400.91,198.20 403.48,195.36 406.04,192.52 408.60,191.69 411.17,190.86 413.73,190.03 416.29,189.20 418.86,188.37" fill="none" stroke="#ffffff" stroke-opacity="0.5" stroke-width="0.6"/>
<polyline points="352.81,248.35 355.38,244.96 357.94,241.56 360.50,238.17 363.07,234.78 365.63,231.38 368.19,231.78 370.76,232.17 373.32,232.57 375.88,232.96 378.45,233.36 381.01,231.30 383.57,229.24 386.14,227.19 388.70,225.13 391.26,223.07 393.83,221.28 396.39,219.49 398.95,217.71 401.52,215.92 404.08,214.13 406.64,211.75 409.21,209.37 411.77,206.99 414.33,204.61 416.90,202.23 419.46,202.05 422.02,201.86 424.59,201.68 427.15,201.49 429.71,201.31" fill="none" stroke="#ffffff" stroke-opacity="0.5" stroke-width="0.6"/>
<polyline points="363.67,258.89 366.23,257.17 368.80,255.45 371.36,253.72 373.92,252.00 376.49,250.28 379.05,250.12 381.61,249.96 384.18,249.79 386.74,249.63 389.30,249.47 391.87,247.52 394.43,245.58 396.99,243.63 399.56,241.69 402.12,239.74 404.68,237.91 407.25,236.07 409.81,234.24 412.37,232.41 414.94,230.57 417.50,228.09 420.06,225.61 422.63,223.13 425.19,220.65 427.75,218.17 430.32,217.45 432.88,216.74 435.44,216.02 438.01,215.30 440.57,214.58" fill="none" stroke="#ffffff" stroke-opacity="0.5" stroke-width="0.6"/>
<polyline points="374.53,269.71 377.09,268.66 379.66,267.60 382.22,266.55 384.78,265.50 387.35,264.44 389.91,263.57 392.47,262.69 395.04,261.82 397.60,260.94 400.16,260.06 402.73,258.30 405.29,256.53 407.85,254.76 410.42,253.00 412.98,251.23 415.54,249.15 418.11,247.07 420.67,244.99 423.23,242.92 425.80,240.84 428.36,238.08 430.92,235.32 433.49,232.56 436.05,229.80 438.61,227.05 441.18,225.77 443.74,224.49 446.30,223.22 448.87,221.94 451.43,220.66" fill="none" stroke="#ffffff" stroke-opacity="0.5" stroke-width="0.6"/>
<polyline points="385.39,284.10 387.95,282.11 390.51,280.12 393.08,278.13 395.64,276.14 398.20,274.15 400.77,273.11 403.33,272.06 405.89,271.02 408.46,269.98 411.02,268.93 413.58,267.20 416.15,265.47 418.71,263.73 421.27,262.00 423.84,260.27 426.40,258.10 428.96,255.93 431.53,253.76 434.09,251.60 436.65,249.43 439.22,246.59 441.78,243.76 444.34,240.92 446.91,238.08 449.47,235.25 452.03,233.64 454.60,232.03 457.16,230.41 459.72,228.80 462.29,227.19" fill="none" stroke="#ffffff" stroke-opacity="0.5" stroke-width="0.6"/>
<polyline points="396.24,291.41 398.81,289.40 401.37,287.38 403.93,285.37 406.50,283.36 409.06,281.35 411.62,280.26 414.19,279.17 416.75,278.09 419.31,277.00 421.88,275.91 424.44,274.33 427.00,272.76 429.57,271.18 432.13,269.60 434.69,268.02 437.26,265.75 439.82,263.47 442.38,261.19 444.95,258.91 447.51,256.63 450.07,254.01 452.64,251.40 455.20,248.79 457.76,246.17 460.33,243.56 462.89,241.97 465.45,240.38 468.02,238.80 470.58,237.21 473.14,235.62" fill="none" stroke="#ffffff" stroke-opacity="0.5" stroke-width="0.6"/>
<polyline points="407.10,298.83 409.66,296.88 412.23,294.94 414.79,292.99 417.35,291.05 419.92,289.10 422.48,288.38 425.04,287.67 427.61,286.95 430.17,286.23 432.73,285.51 435.30,283.78 437.86,282.06 440.42,280.34 442.99,278.62 445.55,276.89 448.11,274.88 450.68,272.87 453.24,270.86 455.80,268.85 458.37,266.84 460.93,264.32 463.49,261.81 466.06,259.30 468.62,256.78 471.18,254.27 473.75,252.69 476.31,251.11 478.87,249.54 481.44,247.96 484.00,246.38" fill="none" stroke="#ffffff" stroke-opacity="0.5" stroke-width="0.6"/>
<polyline points="331.10,242.31 333.27,241.41 335.44,240.51 337.61,239.61 339.79,238.71 341.96,237.81 344.13,239.92 346.30,242.03 348.47,244.13 350.64,246.24 352.81,248.35 354.99,250.46 357.16,252.57 359.33,254.68 361.50,256.78 363.67,258.89 365.84,261.06 368.01,263.22 370.19,265.38 372.36,267.55 374.53,269.71 376.70,272.59 378.87,275.47 381.04,278.34 383.21,281.22 385.39,284.10 387.56,285.56 389.73,287.02 391.90,288.48 394.07,289.95 396.24,291.41 398.41,292.89 400.59,294.38 402.76,295.86 404.93,297.35 407.10,298.83" fill="none" stroke="#ffffff" stroke-opacity="0.5" stroke-width="0.6"/>
<polyline points="343.92,230.35 346.09,229.23 348.26,228.11 350.43,226.99 352.60,225.86 354.77,224.74 356.95,226.07 359.12,227.40 361.29,228.73 363.46,230.06 365.63,231.38 367.80,235.16 369.97,238.94 372.15,242.72 374.32,246.50 376.49,250.28 378.66,253.11 380.83,255.95 383.00,258.78 385.17,261.61 387.35,264.44 389.52,266.38 391.69,268.32 393.86,270.27 396.03,272.21 398.20,274.15 400.37,275.59 402.55,277.03 404.72,278.47 406.89,279.91 409.06,281.35 411.23,282.90 413.40,284.45 415.57,286.00 417.75,287.55 419.92,289.10" fill="none" stroke="#ffffff" stroke-opacity="0.5" stroke-width="0.6"/>
<polyline points="356.73,220.07 358.90,221.40 361.08,222.73 363.25,224.06 365.42,225.38 367.59,226.71 369.76,228.04 371.93,229.37 374.10,230.70 376.28,232.03 378.45,233.36 380.62,236.58 382.79,239.80 384.96,243.02 387.13,246.24 389.30,249.47 391.48,251.59 393.65,253.71 395.82,255.83 397.99,257.94 400.16,260.06 402.33,261.84 404.50,263.61 406.68,265.39 408.85,267.16 411.02,268.93 413.19,270.33 415.36,271.73 417.53,273.12 419.70,274.52 421.88,275.91 424.05,277.83 426.22,279.75 428.39,281.67 430.56,283.59 432.73,285.51" fill="none" stroke="#ffffff" stroke-opacity="0.5" stroke-width="0.6"/>
<polyline points="369.55,209.23 371.72,210.28 373.89,211.33 376.06,212.38 378.24,213.43 380.41,214.48 382.58,216.20 384.75,217.92 386.92,219.64 389.09,221.35 391.26,223.07 393.44,226.41 395.61,229.74 397.78,233.07 399.95,236.41 402.12,239.74 404.29,242.04 406.46,244.34 408.64,246.63 410.81,248.93 412.98,251.23 415.15,253.04 417.32,254.85 419.49,256.65 421.66,258.46 423.84,260.27 426.01,261.82 428.18,263.37 430.35,264.92 432.52,266.47 434.69,268.02 436.86,269.80 439.04,271.57 441.21,273.35 443.38,275.12 445.55,276.89" fill="none" stroke="#ffffff" stroke-opacity="0.5" stroke-width="0.6"/>
<polyline points="382.37,199.78 384.54,201.17 386.71,202.55 388.88,203.94 391.05,205.32 393.22,206.71 395.40,208.19 397.57,209.67 399.74,211.16 401.91,212.64 404.08,214.13 406.25,217.42 408.42,220.71 410.60,224.00 412.77,227.28 414.94,230.57 417.11,232.63 419.28,234.68 421.45,236.73 423.62,238.78 425.80,240.84 427.97,242.55 430.14,244.27 432.31,245.99 434.48,247.71 436.65,249.43 438.82,250.87 441.00,252.31 443.17,253.75 445.34,255.19 447.51,256.63 449.68,258.67 451.85,260.71 454.02,262.75 456.20,264.79 458.37,266.84" fill="none" stroke="#ffffff" stroke-opacity="0.5" stroke-width="0.6"/>
<polyline points="395.18,185.88 397.35,187.21 399.53,188.54 401.70,189.87 403.87,191.20 406.04,192.52 408.21,194.47 410.38,196.41 412.55,198.35 414.73,200.29 416.90,202.23 419.07,205.42 421.24,208.61 423.41,211.80 425.58,214.99 427.75,218.17 429.93,219.95 432.10,221.72 434.27,223.50 436.44,225.27 438.61,227.05 440.78,228.69 442.95,230.33 445.13,231.97 447.30,233.61 449.47,235.25 451.64,236.91 453.81,238.57 455.98,240.24 458.15,241.90 460.33,243.56 462.50,245.70 464.67,247.84 466.84,249.99 469.01,252.13 471.18,254.27" fill="none" stroke="#ffffff" stroke-opacity="0.5" stroke-width="0.6"/>
<polyline points="408.00,172.81 410.17,175.92 412.34,179.04 414.51,182.15 416.69,185.26 418.86,188.37 421.03,190.96 423.20,193.54 425.37,196.13 427.54,198.72 429.71,201.31 431.89,203.96 434.06,206.61 436.23,209.27 438.40,211.92 440.57,214.58 442.74,215.79 444.91,217.01 447.09,218.23 449.26,219.44 451.43,220.66 453.60,221.97 455.77,223.27 457.94,224.58 460.11,225.89 462.29,227.19 464.46,228.88 466.63,230.56 468.80,232.25 470.97,233.93 473.14,235.62 475.31,237.77 477.49,239.92 479.66,242.08 481.83,244.23 484.00,246.38" fill="none" stroke="#ffffff" stroke-opacity="0.5" stroke-width="0.6"/>
<circle cx="331.1" cy="242.3" r="0.65" fill="#263545"/>
<circle cx="343.9" cy="230.4" r="0.65" fill="#263545"/>
<circle cx="356.7" cy="220.1" r="0.65" fill="#263545"/>
<circle cx="369.6" cy="209.2" r="0.65" fill="#263545"/>
<circle cx="382.4" cy="199.8" r="0.65" fill="#263545"/>
<circle cx="395.2" cy="185.9" r="0.65" fill="#263545"/>
<circle cx="408.0" cy="172.8" r="0.65" fill="#263545"/>
<circle cx="342.0" cy="237.8" r="0.65" fill="#263545"/>
<circle cx="354.8" cy="224.7" r="0.65" fill="#263545"/>
<circle cx="367.6" cy="226.7" r="0.65" fill="#263545"/>
<circle cx="380.4" cy="214.5" r="0.65" fill="#263545"/>
<circle cx="393.2" cy="206.7" r="0.65" fill="#263545"/>
<circle cx="406.0" cy="192.5" r="0.65" fill="#263545"/>
<circle cx="418.9" cy="188.4" r="0.65" fill="#263545"/>
<circle cx="352.8" cy="248.4" r="0.65" fill="#263545"/>
<circle cx="365.6" cy="231.4" r="0.65" fill="#263545"/>
<circle cx="378.4" cy="233.4" r="0.65" fill="#263545"/>
<circle cx="391.3" cy="223.1" r="0.65" fill="#263545"/>
<circle cx="404.1" cy="214.1" r="0.65" fill="#263545"/>
<circle cx="416.9" cy="202.2" r="0.65" fill="#263545"/>
<circle cx="429.7" cy="201.3" r="0.65" fill="#263545"/>
<circle cx="363.7" cy="258.9" r="0.65" fill="#263545"/>
<circle cx="376.5" cy="250.3" r="0.65" fill="#263545"/>
<circle cx="389.3" cy="249.5" r="0.65" fill="#263545"/>
<circle cx="402.1" cy="239.7" r="0.65" fill="#263545"/>
<circle cx="414.9" cy="230.6" r="0.65" fill="#263545"/>
<circle cx="427.8" cy="218.2" r="0.65" fill="#263545"/>
<circle cx="440.6" cy="214.6" r="0.65" fill="#263545"/>
<circle cx="374.5" cy="269.7" r="0.65" fill="#263545"/>
<circle cx="387.3" cy="264.4" r="0.65" fill="#263545"/>
<circle cx="400.2" cy="260.1" r="0.65" fill="#263545"/>
<circle cx="413.0" cy="251.2" r="0.65" fill="#263545"/>
<circle cx="425.8" cy="240.8" r="0.65" fill="#263545"/>
<circle cx="438.6" cy="227.0" r="0.65" fill="#263545"/>
<circle cx="451.4" cy="220.7" r="0.65" fill="#263545"/>
<circle cx="385.4" cy="284.1" r="0.65" fill="#263545"/>
<circle cx="398.2" cy="274.1" r="0.65" fill="#263545"/>
<circle cx="411.0" cy="268.9" r="0.65" fill="#263545"/>
<circle cx="423.8" cy="260.3" r="0.65" fill="#263545"/>
<circle cx="436.7" cy="249.4" r="0.65" fill="#263545"/>
<circle cx="449.5" cy="235.2" r="0.65" fill="#263545"/>
<circle cx="462.3" cy="227.2" r="0.65" fill="#263545"/>
<circle cx="396.2" cy="291.4" r="0.65" fill="#263545"/>
<circle cx="409.1" cy="281.3" r="0.65" fill="#263545"/>
<circle cx="421.9" cy="275.9" r="0.65" fill="#263545"/>
<circle cx="434.7" cy="268.0" r="0.65" fill="#263545"/>
<circle cx="447.5" cy="256.6" r="0.65" fill="#263545"/>
<circle cx="460.3" cy="243.6" r="0.65" fill="#263545"/>
<circle cx="473.1" cy="235.6" r="0.65" fill="#263545"/>
<circle cx="407.1" cy="298.8" r="0.65" fill="#263545"/>
<circle cx="419.9" cy="289.1" r="0.65" fill="#263545"/>
<circle cx="432.7" cy="285.5" r="0.65" fill="#263545"/>
<circle cx="445.6" cy="276.9" r="0.65" fill="#263545"/>
<circle cx="458.4" cy="266.8" r="0.65" fill="#263545"/>
<circle cx="471.2" cy="254.3" r="0.65" fill="#263545"/>
<circle cx="484.0" cy="246.4" r="0.65" fill="#263545"/>
<line x1="331.10" y1="265.70" x2="331.10" y2="210.00" stroke="#555" stroke-width="0.5"/>
<line x1="329.10" y1="265.70" x2="331.10" y2="265.70" stroke="#555" stroke-width="0.5"/>
<text x="327.60" y="267.80" font-size="5.9" text-anchor="end" font-weight="normal" fill="#333" >0</text>
<line x1="329.10" y1="237.85" x2="331.10" y2="237.85" stroke="#555" stroke-width="0.5"/>
<text x="327.60" y="239.95" font-size="5.9" text-anchor="end" font-weight="normal" fill="#333" >50</text>
<line x1="329.10" y1="210.00" x2="331.10" y2="210.00" stroke="#555" stroke-width="0.5"/>
<text x="327.60" y="212.10" font-size="5.9" text-anchor="end" font-weight="normal" fill="#333" >100</text>
<line x1="331.10" y1="265.70" x2="407.10" y2="304.40" stroke="#555" stroke-width="0.5"/>
<line x1="407.10" y1="304.40" x2="484.00" y2="266.10" stroke="#555" stroke-width="0.5"/>
<text x="320.60" y="273.90" font-size="5.9" text-anchor="middle" font-weight="normal" fill="#333" >0</text>
<text x="331.46" y="279.43" font-size="5.9" text-anchor="middle" font-weight="normal" fill="#333" >0.001</text>
<text x="342.31" y="284.96" font-size="5.9" text-anchor="middle" font-weight="normal" fill="#333" >0.003</text>
<text x="353.17" y="290.49" font-size="5.9" text-anchor="middle" font-weight="normal" fill="#333" >0.01</text>
<text x="364.03" y="296.01" font-size="5.9" text-anchor="middle" font-weight="normal" fill="#333" >0.03</text>
<text x="374.89" y="301.54" font-size="5.9" text-anchor="middle" font-weight="normal" fill="#333" >0.1</text>
<text x="385.74" y="307.07" font-size="5.9" text-anchor="middle" font-weight="normal" fill="#333" >0.3</text>
<text x="396.60" y="312.60" font-size="5.9" text-anchor="middle" font-weight="normal" fill="#333" >1</text>
<text x="410.90" y="312.90" font-size="5.9" text-anchor="start" font-weight="normal" fill="#333" >10</text>
<text x="423.72" y="306.52" font-size="5.9" text-anchor="start" font-weight="normal" fill="#333" >3</text>
<text x="436.53" y="300.13" font-size="5.9" text-anchor="start" font-weight="normal" fill="#333" >1</text>
<text x="449.35" y="293.75" font-size="5.9" text-anchor="start" font-weight="normal" fill="#333" >0.3</text>
<text x="462.17" y="287.37" font-size="5.9" text-anchor="start" font-weight="normal" fill="#333" >0.1</text>
<text x="474.98" y="280.98" font-size="5.9" text-anchor="start" font-weight="normal" fill="#333" >0.03</text>
<text x="487.80" y="274.60" font-size="5.9" text-anchor="start" font-weight="normal" fill="#333" >0</text>
<defs><linearGradient id="cb173" x1="0" x2="0" y1="0" y2="1"><stop offset="0.000" stop-color="#2a388a"/><stop offset="0.120" stop-color="#2e50a8"/><stop offset="0.300" stop-color="#3a7cc8"/><stop offset="0.420" stop-color="#3cb6e6"/><stop offset="0.500" stop-color="#76c2a4"/><stop offset="0.560" stop-color="#b0ce50"/><stop offset="0.640" stop-color="#f0e020"/><stop offset="0.740" stop-color="#f08c28"/><stop offset="0.840" stop-color="#e02828"/><stop offset="1.000" stop-color="#8a1818"/></linearGradient></defs>
<rect x="495.6" y="173.4" width="7.4" height="132.1" fill="url(#cb173)"/>
<text x="511.20" y="215.60" font-size="6.4" text-anchor="middle" font-weight="normal" fill="#333" transform="rotate(-90 511.2 215.6)" >Synergy</text>
<text x="511.20" y="259.50" font-size="6.4" text-anchor="middle" font-weight="normal" fill="#333" transform="rotate(-90 511.2 259.5)" >Antagonism</text>
<text x="408.60" y="169.90" font-size="6.15" text-anchor="middle" font-weight="bold" fill="#1a1a1a" >BW5147 Decitabine vs. Tolinapant</text>
<text x="351.60" y="312.60" font-size="6.6" text-anchor="middle" font-weight="normal" fill="#333" >DAC [µmol/L]</text>
<text x="460.50" y="313.80" font-size="6.6" text-anchor="middle" font-weight="normal" fill="#333" >Tolinapant [µmol/L]</text>
<text x="315.90" y="231.30" font-size="6.1" text-anchor="middle" font-weight="normal" fill="#333" transform="rotate(-90 315.9 231.3)" >% Control</text>
<text transform="translate(310.6 171.9) scale(0.82 1)" font-size="13.2" font-weight="bold" fill="#4d4d4d">D</text>
<polyline points="329.30,496.52 333.94,495.66 338.57,494.80 343.21,493.94 347.84,493.21 352.48,492.47 357.12,491.74 361.75,491.12 366.39,490.51 371.02,489.90 375.66,489.04 380.30,488.18 384.93,487.32 389.57,486.40 394.20,485.48 398.84,484.56 403.48,483.76 408.11,482.97 412.75,482.17 417.38,481.92 422.02,481.68 426.66,481.43 431.29,481.43 435.93,481.43 440.56,481.43 445.20,481.31 449.84,481.19 454.47,481.06 459.11,480.82 463.74,480.57 468.38,480.33 473.02,479.96 477.65,479.59 482.29,479.22 486.92,478.00 491.56,476.77 496.20,475.54" fill="none" stroke="#111111" stroke-width="1.3"/>
<path d="M329.30 495.88V497.16M328.30 495.88H330.30M328.30 497.16H330.30" stroke="#111111" stroke-width="0.5" opacity="0.6"/>
<polygon points="329.30,498.42 331.20,495.00 327.40,495.00" fill="#111111"/>
<path d="M333.94 495.01V496.31M332.94 495.01H334.94M332.94 496.31H334.94" stroke="#111111" stroke-width="0.5" opacity="0.6"/>
<polygon points="333.94,497.56 335.84,494.14 332.04,494.14" fill="#111111"/>
<path d="M338.57 494.14V495.46M337.57 494.14H339.57M337.57 495.46H339.57" stroke="#111111" stroke-width="0.5" opacity="0.6"/>
<polygon points="338.57,496.70 340.47,493.28 336.67,493.28" fill="#111111"/>
<path d="M343.21 493.28V494.61M342.21 493.28H344.21M342.21 494.61H344.21" stroke="#111111" stroke-width="0.5" opacity="0.6"/>
<polygon points="343.21,495.84 345.11,492.42 341.31,492.42" fill="#111111"/>
<path d="M347.84 492.53V493.88M346.84 492.53H348.84M346.84 493.88H348.84" stroke="#111111" stroke-width="0.5" opacity="0.6"/>
<polygon points="347.84,495.11 349.74,491.69 345.94,491.69" fill="#111111"/>
<path d="M352.48 491.79V493.16M351.48 491.79H353.48M351.48 493.16H353.48" stroke="#111111" stroke-width="0.5" opacity="0.6"/>
<polygon points="352.48,494.37 354.38,490.95 350.58,490.95" fill="#111111"/>
<path d="M357.12 491.04V492.43M356.12 491.04H358.12M356.12 492.43H358.12" stroke="#111111" stroke-width="0.5" opacity="0.6"/>
<polygon points="357.12,493.64 359.02,490.22 355.22,490.22" fill="#111111"/>
<path d="M361.75 490.42V491.82M360.75 490.42H362.75M360.75 491.82H362.75" stroke="#111111" stroke-width="0.5" opacity="0.6"/>
<polygon points="361.75,493.02 363.65,489.60 359.85,489.60" fill="#111111"/>
<path d="M366.39 489.80V491.21M365.39 489.80H367.39M365.39 491.21H367.39" stroke="#111111" stroke-width="0.5" opacity="0.6"/>
<polygon points="366.39,492.41 368.29,488.99 364.49,488.99" fill="#111111"/>
<path d="M371.02 489.18V490.61M370.02 489.18H372.02M370.02 490.61H372.02" stroke="#111111" stroke-width="0.5" opacity="0.6"/>
<polygon points="371.02,491.80 372.92,488.38 369.12,488.38" fill="#111111"/>
<path d="M375.66 488.32V489.76M374.66 488.32H376.66M374.66 489.76H376.66" stroke="#111111" stroke-width="0.5" opacity="0.6"/>
<polygon points="375.66,490.94 377.56,487.52 373.76,487.52" fill="#111111"/>
<path d="M380.30 487.45V488.91M379.30 487.45H381.30M379.30 488.91H381.30" stroke="#111111" stroke-width="0.5" opacity="0.6"/>
<polygon points="380.30,490.08 382.20,486.66 378.40,486.66" fill="#111111"/>
<path d="M384.93 486.58V488.06M383.93 486.58H385.93M383.93 488.06H385.93" stroke="#111111" stroke-width="0.5" opacity="0.6"/>
<polygon points="384.93,489.22 386.83,485.80 383.03,485.80" fill="#111111"/>
<path d="M389.57 485.65V487.15M388.57 485.65H390.57M388.57 487.15H390.57" stroke="#111111" stroke-width="0.5" opacity="0.6"/>
<polygon points="389.57,488.30 391.47,484.88 387.67,484.88" fill="#111111"/>
<path d="M394.20 484.72V486.24M393.20 484.72H395.20M393.20 486.24H395.20" stroke="#111111" stroke-width="0.5" opacity="0.6"/>
<polygon points="394.20,487.38 396.10,483.96 392.30,483.96" fill="#111111"/>
<path d="M398.84 483.79V485.33M397.84 483.79H399.84M397.84 485.33H399.84" stroke="#111111" stroke-width="0.5" opacity="0.6"/>
<polygon points="398.84,486.46 400.74,483.04 396.94,483.04" fill="#111111"/>
<path d="M403.48 482.98V484.54M402.48 482.98H404.48M402.48 484.54H404.48" stroke="#111111" stroke-width="0.5" opacity="0.6"/>
<polygon points="403.48,485.66 405.38,482.24 401.58,482.24" fill="#111111"/>
<path d="M408.11 482.18V483.75M407.11 482.18H409.11M407.11 483.75H409.11" stroke="#111111" stroke-width="0.5" opacity="0.6"/>
<polygon points="408.11,484.87 410.01,481.45 406.21,481.45" fill="#111111"/>
<path d="M412.75 481.37V482.96M411.75 481.37H413.75M411.75 482.96H413.75" stroke="#111111" stroke-width="0.5" opacity="0.6"/>
<polygon points="412.75,484.07 414.65,480.65 410.85,480.65" fill="#111111"/>
<path d="M417.38 481.12V482.72M416.38 481.12H418.38M416.38 482.72H418.38" stroke="#111111" stroke-width="0.5" opacity="0.6"/>
<polygon points="417.38,483.82 419.28,480.40 415.48,480.40" fill="#111111"/>
<path d="M422.02 480.88V482.48M421.02 480.88H423.02M421.02 482.48H423.02" stroke="#111111" stroke-width="0.5" opacity="0.6"/>
<polygon points="422.02,483.58 423.92,480.16 420.12,480.16" fill="#111111"/>
<path d="M426.66 480.63V482.24M425.66 480.63H427.66M425.66 482.24H427.66" stroke="#111111" stroke-width="0.5" opacity="0.6"/>
<polygon points="426.66,483.33 428.56,479.91 424.76,479.91" fill="#111111"/>
<path d="M431.29 480.63V482.24M430.29 480.63H432.29M430.29 482.24H432.29" stroke="#111111" stroke-width="0.5" opacity="0.6"/>
<polygon points="431.29,483.33 433.19,479.91 429.39,479.91" fill="#111111"/>
<path d="M435.93 480.63V482.24M434.93 480.63H436.93M434.93 482.24H436.93" stroke="#111111" stroke-width="0.5" opacity="0.6"/>
<polygon points="435.93,483.33 437.83,479.91 434.03,479.91" fill="#111111"/>
<path d="M440.56 480.63V482.24M439.56 480.63H441.56M439.56 482.24H441.56" stroke="#111111" stroke-width="0.5" opacity="0.6"/>
<polygon points="440.56,483.33 442.46,479.91 438.66,479.91" fill="#111111"/>
<path d="M445.20 480.50V482.11M444.20 480.50H446.20M444.20 482.11H446.20" stroke="#111111" stroke-width="0.5" opacity="0.6"/>
<polygon points="445.20,483.21 447.10,479.79 443.30,479.79" fill="#111111"/>
<path d="M449.84 480.38V481.99M448.84 480.38H450.84M448.84 481.99H450.84" stroke="#111111" stroke-width="0.5" opacity="0.6"/>
<polygon points="449.84,483.09 451.74,479.67 447.94,479.67" fill="#111111"/>
<path d="M454.47 480.26V481.87M453.47 480.26H455.47M453.47 481.87H455.47" stroke="#111111" stroke-width="0.5" opacity="0.6"/>
<polygon points="454.47,482.96 456.37,479.54 452.57,479.54" fill="#111111"/>
<path d="M459.11 480.01V481.63M458.11 480.01H460.11M458.11 481.63H460.11" stroke="#111111" stroke-width="0.5" opacity="0.6"/>
<polygon points="459.11,482.72 461.01,479.30 457.21,479.30" fill="#111111"/>
<path d="M463.74 479.76V481.39M462.74 479.76H464.74M462.74 481.39H464.74" stroke="#111111" stroke-width="0.5" opacity="0.6"/>
<polygon points="463.74,482.47 465.64,479.05 461.84,479.05" fill="#111111"/>
<path d="M468.38 479.51V481.14M467.38 479.51H469.38M467.38 481.14H469.38" stroke="#111111" stroke-width="0.5" opacity="0.6"/>
<polygon points="468.38,482.23 470.28,478.81 466.48,478.81" fill="#111111"/>
<path d="M473.02 479.14V480.78M472.02 479.14H474.02M472.02 480.78H474.02" stroke="#111111" stroke-width="0.5" opacity="0.6"/>
<polygon points="473.02,481.86 474.92,478.44 471.12,478.44" fill="#111111"/>
<path d="M477.65 478.77V480.42M476.65 478.77H478.65M476.65 480.42H478.65" stroke="#111111" stroke-width="0.5" opacity="0.6"/>
<polygon points="477.65,481.49 479.55,478.07 475.75,478.07" fill="#111111"/>
<path d="M482.29 478.40V480.05M481.29 478.40H483.29M481.29 480.05H483.29" stroke="#111111" stroke-width="0.5" opacity="0.6"/>
<polygon points="482.29,481.12 484.19,477.70 480.39,477.70" fill="#111111"/>
<path d="M486.92 477.16V478.84M485.92 477.16H487.92M485.92 478.84H487.92" stroke="#111111" stroke-width="0.5" opacity="0.6"/>
<polygon points="486.92,479.90 488.82,476.48 485.02,476.48" fill="#111111"/>
<path d="M491.56 475.92V477.63M490.56 475.92H492.56M490.56 477.63H492.56" stroke="#111111" stroke-width="0.5" opacity="0.6"/>
<polygon points="491.56,478.67 493.46,475.25 489.66,475.25" fill="#111111"/>
<path d="M496.20 474.68V476.41M495.20 474.68H497.20M495.20 476.41H497.20" stroke="#111111" stroke-width="0.5" opacity="0.6"/>
<polygon points="496.20,477.44 498.10,474.02 494.30,474.02" fill="#111111"/>
<polyline points="329.30,496.52 333.94,495.66 338.57,494.80 343.21,493.94 347.84,493.27 352.48,492.59 357.12,491.92 361.75,491.00 366.39,490.08 371.02,489.16 375.66,487.63 380.30,486.09 384.93,484.56 389.57,482.66 394.20,480.76 398.84,478.86 403.48,477.69 408.11,476.53 412.75,475.36 417.38,474.69 422.02,474.01 426.66,473.34 431.29,472.97 435.93,472.60 440.56,472.23 445.20,471.99 449.84,471.74 454.47,471.50 459.11,471.25 463.74,471.01 468.38,470.76 473.02,470.27 477.65,469.78 482.29,469.29 486.92,468.06 491.56,466.83 496.20,465.61" fill="none" stroke="#2b2f8f" stroke-width="1.3"/>
<path d="M329.30 495.88V497.16M328.30 495.88H330.30M328.30 497.16H330.30" stroke="#2b2f8f" stroke-width="0.5" opacity="0.6"/>
<circle cx="329.30" cy="496.52" r="1.80" fill="#2b2f8f"/>
<path d="M333.94 495.01V496.31M332.94 495.01H334.94M332.94 496.31H334.94" stroke="#2b2f8f" stroke-width="0.5" opacity="0.6"/>
<circle cx="333.94" cy="495.66" r="1.80" fill="#2b2f8f"/>
<path d="M338.57 494.14V495.46M337.57 494.14H339.57M337.57 495.46H339.57" stroke="#2b2f8f" stroke-width="0.5" opacity="0.6"/>
<circle cx="338.57" cy="494.80" r="1.80" fill="#2b2f8f"/>
<path d="M343.21 493.28V494.61M342.21 493.28H344.21M342.21 494.61H344.21" stroke="#2b2f8f" stroke-width="0.5" opacity="0.6"/>
<circle cx="343.21" cy="493.94" r="1.80" fill="#2b2f8f"/>
<path d="M347.84 492.59V493.94M346.84 492.59H348.84M346.84 493.94H348.84" stroke="#2b2f8f" stroke-width="0.5" opacity="0.6"/>
<circle cx="347.84" cy="493.27" r="1.80" fill="#2b2f8f"/>
<path d="M352.48 491.91V493.28M351.48 491.91H353.48M351.48 493.28H353.48" stroke="#2b2f8f" stroke-width="0.5" opacity="0.6"/>
<circle cx="352.48" cy="492.59" r="1.80" fill="#2b2f8f"/>
<path d="M357.12 491.23V492.61M356.12 491.23H358.12M356.12 492.61H358.12" stroke="#2b2f8f" stroke-width="0.5" opacity="0.6"/>
<circle cx="357.12" cy="491.92" r="1.80" fill="#2b2f8f"/>
<path d="M361.75 490.30V491.70M360.75 490.30H362.75M360.75 491.70H362.75" stroke="#2b2f8f" stroke-width="0.5" opacity="0.6"/>
<circle cx="361.75" cy="491.00" r="1.80" fill="#2b2f8f"/>
<path d="M366.39 489.37V490.79M365.39 489.37H367.39M365.39 490.79H367.39" stroke="#2b2f8f" stroke-width="0.5" opacity="0.6"/>
<circle cx="366.39" cy="490.08" r="1.80" fill="#2b2f8f"/>
<path d="M371.02 488.44V489.88M370.02 488.44H372.02M370.02 489.88H372.02" stroke="#2b2f8f" stroke-width="0.5" opacity="0.6"/>
<circle cx="371.02" cy="489.16" r="1.80" fill="#2b2f8f"/>
<path d="M375.66 486.89V488.36M374.66 486.89H376.66M374.66 488.36H376.66" stroke="#2b2f8f" stroke-width="0.5" opacity="0.6"/>
<circle cx="375.66" cy="487.63" r="1.80" fill="#2b2f8f"/>
<path d="M380.30 485.34V486.85M379.30 485.34H381.30M379.30 486.85H381.30" stroke="#2b2f8f" stroke-width="0.5" opacity="0.6"/>
<circle cx="380.30" cy="486.09" r="1.80" fill="#2b2f8f"/>
<path d="M384.93 483.79V485.33M383.93 483.79H385.93M383.93 485.33H385.93" stroke="#2b2f8f" stroke-width="0.5" opacity="0.6"/>
<circle cx="384.93" cy="484.56" r="1.80" fill="#2b2f8f"/>
<path d="M389.57 481.87V483.45M388.57 481.87H390.57M388.57 483.45H390.57" stroke="#2b2f8f" stroke-width="0.5" opacity="0.6"/>
<circle cx="389.57" cy="482.66" r="1.80" fill="#2b2f8f"/>
<path d="M394.20 479.95V481.57M393.20 479.95H395.20M393.20 481.57H395.20" stroke="#2b2f8f" stroke-width="0.5" opacity="0.6"/>
<circle cx="394.20" cy="480.76" r="1.80" fill="#2b2f8f"/>
<path d="M398.84 478.02V479.69M397.84 478.02H399.84M397.84 479.69H399.84" stroke="#2b2f8f" stroke-width="0.5" opacity="0.6"/>
<circle cx="398.84" cy="478.86" r="1.80" fill="#2b2f8f"/>
<path d="M403.48 476.85V478.54M402.48 476.85H404.48M402.48 478.54H404.48" stroke="#2b2f8f" stroke-width="0.5" opacity="0.6"/>
<circle cx="403.48" cy="477.69" r="1.80" fill="#2b2f8f"/>
<path d="M408.11 475.67V477.38M407.11 475.67H409.11M407.11 477.38H409.11" stroke="#2b2f8f" stroke-width="0.5" opacity="0.6"/>
<circle cx="408.11" cy="476.53" r="1.80" fill="#2b2f8f"/>
<path d="M412.75 474.49V476.23M411.75 474.49H413.75M411.75 476.23H413.75" stroke="#2b2f8f" stroke-width="0.5" opacity="0.6"/>
<circle cx="412.75" cy="475.36" r="1.80" fill="#2b2f8f"/>
<path d="M417.38 473.81V475.56M416.38 473.81H418.38M416.38 475.56H418.38" stroke="#2b2f8f" stroke-width="0.5" opacity="0.6"/>
<circle cx="417.38" cy="474.69" r="1.80" fill="#2b2f8f"/>
<path d="M422.02 473.13V474.90M421.02 473.13H423.02M421.02 474.90H423.02" stroke="#2b2f8f" stroke-width="0.5" opacity="0.6"/>
<circle cx="422.02" cy="474.01" r="1.80" fill="#2b2f8f"/>
<path d="M426.66 472.44V474.23M425.66 472.44H427.66M425.66 474.23H427.66" stroke="#2b2f8f" stroke-width="0.5" opacity="0.6"/>
<circle cx="426.66" cy="473.34" r="1.80" fill="#2b2f8f"/>
<path d="M431.29 472.07V473.86M430.29 472.07H432.29M430.29 473.86H432.29" stroke="#2b2f8f" stroke-width="0.5" opacity="0.6"/>
<circle cx="431.29" cy="472.97" r="1.80" fill="#2b2f8f"/>
<path d="M435.93 471.70V473.50M434.93 471.70H436.93M434.93 473.50H436.93" stroke="#2b2f8f" stroke-width="0.5" opacity="0.6"/>
<circle cx="435.93" cy="472.60" r="1.80" fill="#2b2f8f"/>
<path d="M440.56 471.33V473.14M439.56 471.33H441.56M439.56 473.14H441.56" stroke="#2b2f8f" stroke-width="0.5" opacity="0.6"/>
<circle cx="440.56" cy="472.23" r="1.80" fill="#2b2f8f"/>
<path d="M445.20 471.08V472.89M444.20 471.08H446.20M444.20 472.89H446.20" stroke="#2b2f8f" stroke-width="0.5" opacity="0.6"/>
<circle cx="445.20" cy="471.99" r="1.80" fill="#2b2f8f"/>
<path d="M449.84 470.83V472.65M448.84 470.83H450.84M448.84 472.65H450.84" stroke="#2b2f8f" stroke-width="0.5" opacity="0.6"/>
<circle cx="449.84" cy="471.74" r="1.80" fill="#2b2f8f"/>
<path d="M454.47 470.58V472.41M453.47 470.58H455.47M453.47 472.41H455.47" stroke="#2b2f8f" stroke-width="0.5" opacity="0.6"/>
<circle cx="454.47" cy="471.50" r="1.80" fill="#2b2f8f"/>
<path d="M459.11 470.34V472.17M458.11 470.34H460.11M458.11 472.17H460.11" stroke="#2b2f8f" stroke-width="0.5" opacity="0.6"/>
<circle cx="459.11" cy="471.25" r="1.80" fill="#2b2f8f"/>
<path d="M463.74 470.09V471.92M462.74 470.09H464.74M462.74 471.92H464.74" stroke="#2b2f8f" stroke-width="0.5" opacity="0.6"/>
<circle cx="463.74" cy="471.01" r="1.80" fill="#2b2f8f"/>
<path d="M468.38 469.84V471.68M467.38 469.84H469.38M467.38 471.68H469.38" stroke="#2b2f8f" stroke-width="0.5" opacity="0.6"/>
<circle cx="468.38" cy="470.76" r="1.80" fill="#2b2f8f"/>
<path d="M473.02 469.34V471.19M472.02 469.34H474.02M472.02 471.19H474.02" stroke="#2b2f8f" stroke-width="0.5" opacity="0.6"/>
<circle cx="473.02" cy="470.27" r="1.80" fill="#2b2f8f"/>
<path d="M477.65 468.85V470.71M476.65 468.85H478.65M476.65 470.71H478.65" stroke="#2b2f8f" stroke-width="0.5" opacity="0.6"/>
<circle cx="477.65" cy="469.78" r="1.80" fill="#2b2f8f"/>
<path d="M482.29 468.35V470.22M481.29 468.35H483.29M481.29 470.22H483.29" stroke="#2b2f8f" stroke-width="0.5" opacity="0.6"/>
<circle cx="482.29" cy="469.29" r="1.80" fill="#2b2f8f"/>
<path d="M486.92 467.11V469.01M485.92 467.11H487.92M485.92 469.01H487.92" stroke="#2b2f8f" stroke-width="0.5" opacity="0.6"/>
<circle cx="486.92" cy="468.06" r="1.80" fill="#2b2f8f"/>
<path d="M491.56 465.87V467.80M490.56 465.87H492.56M490.56 467.80H492.56" stroke="#2b2f8f" stroke-width="0.5" opacity="0.6"/>
<circle cx="491.56" cy="466.83" r="1.80" fill="#2b2f8f"/>
<path d="M496.20 464.63V466.58M495.20 464.63H497.20M495.20 466.58H497.20" stroke="#2b2f8f" stroke-width="0.5" opacity="0.6"/>
<circle cx="496.20" cy="465.61" r="1.80" fill="#2b2f8f"/>
<polyline points="329.30,496.52 333.94,495.42 338.57,494.31 343.21,493.21 347.84,492.59 352.48,491.98 357.12,491.37 361.75,490.75 366.39,490.14 371.02,489.53 375.66,488.67 380.30,487.81 384.93,486.95 389.57,485.23 394.20,483.52 398.84,481.80 403.48,480.45 408.11,479.10 412.75,477.75 417.38,476.89 422.02,476.03 426.66,475.18 431.29,474.56 435.93,473.95 440.56,473.34 445.20,472.11 449.84,470.88 454.47,469.66 459.11,468.31 463.74,466.96 468.38,465.61 473.02,463.58 477.65,461.56 482.29,458.98 486.92,456.41 491.56,448.31 496.20,445.37" fill="none" stroke="#b52025" stroke-width="1.3"/>
<path d="M329.30 495.88V497.16M328.30 495.88H330.30M328.30 497.16H330.30" stroke="#b52025" stroke-width="0.5" opacity="0.6"/>
<rect x="327.70" y="494.92" width="3.20" height="3.20" fill="#b52025"/>
<path d="M333.94 494.76V496.07M332.94 494.76H334.94M332.94 496.07H334.94" stroke="#b52025" stroke-width="0.5" opacity="0.6"/>
<rect x="332.34" y="493.82" width="3.20" height="3.20" fill="#b52025"/>
<path d="M338.57 493.65V494.98M337.57 493.65H339.57M337.57 494.98H339.57" stroke="#b52025" stroke-width="0.5" opacity="0.6"/>
<rect x="336.97" y="492.71" width="3.20" height="3.20" fill="#b52025"/>
<path d="M343.21 492.53V493.88M342.21 492.53H344.21M342.21 493.88H344.21" stroke="#b52025" stroke-width="0.5" opacity="0.6"/>
<rect x="341.61" y="491.61" width="3.20" height="3.20" fill="#b52025"/>
<path d="M347.84 491.91V493.28M346.84 491.91H348.84M346.84 493.28H348.84" stroke="#b52025" stroke-width="0.5" opacity="0.6"/>
<rect x="346.24" y="490.99" width="3.20" height="3.20" fill="#b52025"/>
<path d="M352.48 491.29V492.67M351.48 491.29H353.48M351.48 492.67H353.48" stroke="#b52025" stroke-width="0.5" opacity="0.6"/>
<rect x="350.88" y="490.38" width="3.20" height="3.20" fill="#b52025"/>
<path d="M357.12 490.67V492.06M356.12 490.67H358.12M356.12 492.06H358.12" stroke="#b52025" stroke-width="0.5" opacity="0.6"/>
<rect x="355.52" y="489.77" width="3.20" height="3.20" fill="#b52025"/>
<path d="M361.75 490.05V491.46M360.75 490.05H362.75M360.75 491.46H362.75" stroke="#b52025" stroke-width="0.5" opacity="0.6"/>
<rect x="360.15" y="489.15" width="3.20" height="3.20" fill="#b52025"/>
<path d="M366.39 489.43V490.85M365.39 489.43H367.39M365.39 490.85H367.39" stroke="#b52025" stroke-width="0.5" opacity="0.6"/>
<rect x="364.79" y="488.54" width="3.20" height="3.20" fill="#b52025"/>
<path d="M371.02 488.81V490.24M370.02 488.81H372.02M370.02 490.24H372.02" stroke="#b52025" stroke-width="0.5" opacity="0.6"/>
<rect x="369.42" y="487.93" width="3.20" height="3.20" fill="#b52025"/>
<path d="M375.66 487.94V489.39M374.66 487.94H376.66M374.66 489.39H376.66" stroke="#b52025" stroke-width="0.5" opacity="0.6"/>
<rect x="374.06" y="487.07" width="3.20" height="3.20" fill="#b52025"/>
<path d="M380.30 487.08V488.55M379.30 487.08H381.30M379.30 488.55H381.30" stroke="#b52025" stroke-width="0.5" opacity="0.6"/>
<rect x="378.70" y="486.21" width="3.20" height="3.20" fill="#b52025"/>
<path d="M384.93 486.21V487.70M383.93 486.21H385.93M383.93 487.70H385.93" stroke="#b52025" stroke-width="0.5" opacity="0.6"/>
<rect x="383.33" y="485.35" width="3.20" height="3.20" fill="#b52025"/>
<path d="M389.57 484.47V486.00M388.57 484.47H390.57M388.57 486.00H390.57" stroke="#b52025" stroke-width="0.5" opacity="0.6"/>
<rect x="387.97" y="483.63" width="3.20" height="3.20" fill="#b52025"/>
<path d="M394.20 482.74V484.30M393.20 482.74H395.20M393.20 484.30H395.20" stroke="#b52025" stroke-width="0.5" opacity="0.6"/>
<rect x="392.60" y="481.92" width="3.20" height="3.20" fill="#b52025"/>
<path d="M398.84 481.00V482.60M397.84 481.00H399.84M397.84 482.60H399.84" stroke="#b52025" stroke-width="0.5" opacity="0.6"/>
<rect x="397.24" y="480.20" width="3.20" height="3.20" fill="#b52025"/>
<path d="M403.48 479.64V481.27M402.48 479.64H404.48M402.48 481.27H404.48" stroke="#b52025" stroke-width="0.5" opacity="0.6"/>
<rect x="401.88" y="478.85" width="3.20" height="3.20" fill="#b52025"/>
<path d="M408.11 478.27V479.93M407.11 478.27H409.11M407.11 479.93H409.11" stroke="#b52025" stroke-width="0.5" opacity="0.6"/>
<rect x="406.51" y="477.50" width="3.20" height="3.20" fill="#b52025"/>
<path d="M412.75 476.91V478.60M411.75 476.91H413.75M411.75 478.60H413.75" stroke="#b52025" stroke-width="0.5" opacity="0.6"/>
<rect x="411.15" y="476.15" width="3.20" height="3.20" fill="#b52025"/>
<path d="M417.38 476.04V477.75M416.38 476.04H418.38M416.38 477.75H418.38" stroke="#b52025" stroke-width="0.5" opacity="0.6"/>
<rect x="415.78" y="475.29" width="3.20" height="3.20" fill="#b52025"/>
<path d="M422.02 475.17V476.90M421.02 475.17H423.02M421.02 476.90H423.02" stroke="#b52025" stroke-width="0.5" opacity="0.6"/>
<rect x="420.42" y="474.43" width="3.20" height="3.20" fill="#b52025"/>
<path d="M426.66 474.30V476.05M425.66 474.30H427.66M425.66 476.05H427.66" stroke="#b52025" stroke-width="0.5" opacity="0.6"/>
<rect x="425.06" y="473.58" width="3.20" height="3.20" fill="#b52025"/>
<path d="M431.29 473.68V475.44M430.29 473.68H432.29M430.29 475.44H432.29" stroke="#b52025" stroke-width="0.5" opacity="0.6"/>
<rect x="429.69" y="472.96" width="3.20" height="3.20" fill="#b52025"/>
<path d="M435.93 473.06V474.83M434.93 473.06H436.93M434.93 474.83H436.93" stroke="#b52025" stroke-width="0.5" opacity="0.6"/>
<rect x="434.33" y="472.35" width="3.20" height="3.20" fill="#b52025"/>
<path d="M440.56 472.44V474.23M439.56 472.44H441.56M439.56 474.23H441.56" stroke="#b52025" stroke-width="0.5" opacity="0.6"/>
<rect x="438.96" y="471.74" width="3.20" height="3.20" fill="#b52025"/>
<path d="M445.20 471.20V473.01M444.20 471.20H446.20M444.20 473.01H446.20" stroke="#b52025" stroke-width="0.5" opacity="0.6"/>
<rect x="443.60" y="470.51" width="3.20" height="3.20" fill="#b52025"/>
<path d="M449.84 469.96V471.80M448.84 469.96H450.84M448.84 471.80H450.84" stroke="#b52025" stroke-width="0.5" opacity="0.6"/>
<rect x="448.24" y="469.28" width="3.20" height="3.20" fill="#b52025"/>
<path d="M454.47 468.72V470.59M453.47 468.72H455.47M453.47 470.59H455.47" stroke="#b52025" stroke-width="0.5" opacity="0.6"/>
<rect x="452.87" y="468.06" width="3.20" height="3.20" fill="#b52025"/>
<path d="M459.11 467.36V469.25M458.11 467.36H460.11M458.11 469.25H460.11" stroke="#b52025" stroke-width="0.5" opacity="0.6"/>
<rect x="457.51" y="466.71" width="3.20" height="3.20" fill="#b52025"/>
<path d="M463.74 466.00V467.92M462.74 466.00H464.74M462.74 467.92H464.74" stroke="#b52025" stroke-width="0.5" opacity="0.6"/>
<rect x="462.14" y="465.36" width="3.20" height="3.20" fill="#b52025"/>
<path d="M468.38 464.63V466.58M467.38 464.63H469.38M467.38 466.58H469.38" stroke="#b52025" stroke-width="0.5" opacity="0.6"/>
<rect x="466.78" y="464.01" width="3.20" height="3.20" fill="#b52025"/>
<path d="M473.02 462.59V464.58M472.02 462.59H474.02M472.02 464.58H474.02" stroke="#b52025" stroke-width="0.5" opacity="0.6"/>
<rect x="471.42" y="461.98" width="3.20" height="3.20" fill="#b52025"/>
<path d="M477.65 460.54V462.58M476.65 460.54H478.65M476.65 462.58H478.65" stroke="#b52025" stroke-width="0.5" opacity="0.6"/>
<rect x="476.05" y="459.96" width="3.20" height="3.20" fill="#b52025"/>
<path d="M482.29 457.94V460.03M481.29 457.94H483.29M481.29 460.03H483.29" stroke="#b52025" stroke-width="0.5" opacity="0.6"/>
<rect x="480.69" y="457.38" width="3.20" height="3.20" fill="#b52025"/>
<path d="M486.92 455.33V457.48M485.92 455.33H487.92M485.92 457.48H487.92" stroke="#b52025" stroke-width="0.5" opacity="0.6"/>
<rect x="485.32" y="454.81" width="3.20" height="3.20" fill="#b52025"/>
<path d="M491.56 447.15V449.48M490.56 447.15H492.56M490.56 449.48H492.56" stroke="#b52025" stroke-width="0.5" opacity="0.6"/>
<rect x="489.96" y="446.71" width="3.20" height="3.20" fill="#b52025"/>
<path d="M496.20 444.17V446.56M495.20 444.17H497.20M495.20 446.56H497.20" stroke="#b52025" stroke-width="0.5" opacity="0.6"/>
<rect x="494.60" y="443.77" width="3.20" height="3.20" fill="#b52025"/>
<polyline points="329.30,496.52 333.94,495.66 338.57,494.80 343.21,493.94 347.84,492.96 352.48,491.98 357.12,491.00 361.75,489.65 366.39,488.30 371.02,486.95 375.66,484.62 380.30,482.29 384.93,479.96 389.57,476.65 394.20,473.34 398.84,470.02 403.48,467.08 408.11,464.14 412.75,461.19 417.38,458.98 422.02,456.78 426.66,454.57 431.29,452.11 435.93,449.66 440.56,447.21 445.20,444.02 449.84,440.83 454.47,437.64 459.11,433.96 463.74,430.28 468.38,426.60 473.02,423.66 477.65,420.71 482.29,417.03 486.92,411.14 491.56,399.37 496.20,392.74" fill="none" stroke="#1b7a4a" stroke-width="1.3"/>
<path d="M329.30 495.88V497.16M328.30 495.88H330.30M328.30 497.16H330.30" stroke="#1b7a4a" stroke-width="0.5" opacity="0.6"/>
<polygon points="329.30,494.62 331.20,498.04 327.40,498.04" fill="#1b7a4a"/>
<path d="M333.94 495.01V496.31M332.94 495.01H334.94M332.94 496.31H334.94" stroke="#1b7a4a" stroke-width="0.5" opacity="0.6"/>
<polygon points="333.94,493.76 335.84,497.18 332.04,497.18" fill="#1b7a4a"/>
<path d="M338.57 494.14V495.46M337.57 494.14H339.57M337.57 495.46H339.57" stroke="#1b7a4a" stroke-width="0.5" opacity="0.6"/>
<polygon points="338.57,492.90 340.47,496.32 336.67,496.32" fill="#1b7a4a"/>
<path d="M343.21 493.28V494.61M342.21 493.28H344.21M342.21 494.61H344.21" stroke="#1b7a4a" stroke-width="0.5" opacity="0.6"/>
<polygon points="343.21,492.04 345.11,495.46 341.31,495.46" fill="#1b7a4a"/>
<path d="M347.84 492.28V493.64M346.84 492.28H348.84M346.84 493.64H348.84" stroke="#1b7a4a" stroke-width="0.5" opacity="0.6"/>
<polygon points="347.84,491.06 349.74,494.48 345.94,494.48" fill="#1b7a4a"/>
<path d="M352.48 491.29V492.67M351.48 491.29H353.48M351.48 492.67H353.48" stroke="#1b7a4a" stroke-width="0.5" opacity="0.6"/>
<polygon points="352.48,490.08 354.38,493.50 350.58,493.50" fill="#1b7a4a"/>
<path d="M357.12 490.30V491.70M356.12 490.30H358.12M356.12 491.70H358.12" stroke="#1b7a4a" stroke-width="0.5" opacity="0.6"/>
<polygon points="357.12,489.10 359.02,492.52 355.22,492.52" fill="#1b7a4a"/>
<path d="M361.75 488.94V490.37M360.75 488.94H362.75M360.75 490.37H362.75" stroke="#1b7a4a" stroke-width="0.5" opacity="0.6"/>
<polygon points="361.75,487.75 363.65,491.17 359.85,491.17" fill="#1b7a4a"/>
<path d="M366.39 487.57V489.03M365.39 487.57H367.39M365.39 489.03H367.39" stroke="#1b7a4a" stroke-width="0.5" opacity="0.6"/>
<polygon points="366.39,486.40 368.29,489.82 364.49,489.82" fill="#1b7a4a"/>
<path d="M371.02 486.21V487.70M370.02 486.21H372.02M370.02 487.70H372.02" stroke="#1b7a4a" stroke-width="0.5" opacity="0.6"/>
<polygon points="371.02,485.05 372.92,488.47 369.12,488.47" fill="#1b7a4a"/>
<path d="M375.66 483.85V485.39M374.66 483.85H376.66M374.66 485.39H376.66" stroke="#1b7a4a" stroke-width="0.5" opacity="0.6"/>
<polygon points="375.66,482.72 377.56,486.14 373.76,486.14" fill="#1b7a4a"/>
<path d="M380.30 481.50V483.09M379.30 481.50H381.30M379.30 483.09H381.30" stroke="#1b7a4a" stroke-width="0.5" opacity="0.6"/>
<polygon points="380.30,480.39 382.20,483.81 378.40,483.81" fill="#1b7a4a"/>
<path d="M384.93 479.14V480.78M383.93 479.14H385.93M383.93 480.78H385.93" stroke="#1b7a4a" stroke-width="0.5" opacity="0.6"/>
<polygon points="384.93,478.06 386.83,481.48 383.03,481.48" fill="#1b7a4a"/>
<path d="M389.57 475.79V477.50M388.57 475.79H390.57M388.57 477.50H390.57" stroke="#1b7a4a" stroke-width="0.5" opacity="0.6"/>
<polygon points="389.57,474.75 391.47,478.17 387.67,478.17" fill="#1b7a4a"/>
<path d="M394.20 472.44V474.23M393.20 472.44H395.20M393.20 474.23H395.20" stroke="#1b7a4a" stroke-width="0.5" opacity="0.6"/>
<polygon points="394.20,471.44 396.10,474.86 392.30,474.86" fill="#1b7a4a"/>
<path d="M398.84 469.10V470.95M397.84 469.10H399.84M397.84 470.95H399.84" stroke="#1b7a4a" stroke-width="0.5" opacity="0.6"/>
<polygon points="398.84,468.12 400.74,471.54 396.94,471.54" fill="#1b7a4a"/>
<path d="M403.48 466.12V468.04M402.48 466.12H404.48M402.48 468.04H404.48" stroke="#1b7a4a" stroke-width="0.5" opacity="0.6"/>
<polygon points="403.48,465.18 405.38,468.60 401.58,468.60" fill="#1b7a4a"/>
<path d="M408.11 463.14V465.13M407.11 463.14H409.11M407.11 465.13H409.11" stroke="#1b7a4a" stroke-width="0.5" opacity="0.6"/>
<polygon points="408.11,462.24 410.01,465.66 406.21,465.66" fill="#1b7a4a"/>
<path d="M412.75 460.17V462.22M411.75 460.17H413.75M411.75 462.22H413.75" stroke="#1b7a4a" stroke-width="0.5" opacity="0.6"/>
<polygon points="412.75,459.29 414.65,462.71 410.85,462.71" fill="#1b7a4a"/>
<path d="M417.38 457.94V460.03M416.38 457.94H418.38M416.38 460.03H418.38" stroke="#1b7a4a" stroke-width="0.5" opacity="0.6"/>
<polygon points="417.38,457.08 419.28,460.50 415.48,460.50" fill="#1b7a4a"/>
<path d="M422.02 455.70V457.85M421.02 455.70H423.02M421.02 457.85H423.02" stroke="#1b7a4a" stroke-width="0.5" opacity="0.6"/>
<polygon points="422.02,454.88 423.92,458.30 420.12,458.30" fill="#1b7a4a"/>
<path d="M426.66 453.47V455.66M425.66 453.47H427.66M425.66 455.66H427.66" stroke="#1b7a4a" stroke-width="0.5" opacity="0.6"/>
<polygon points="426.66,452.67 428.56,456.09 424.76,456.09" fill="#1b7a4a"/>
<path d="M431.29 450.99V453.24M430.29 450.99H432.29M430.29 453.24H432.29" stroke="#1b7a4a" stroke-width="0.5" opacity="0.6"/>
<polygon points="431.29,450.21 433.19,453.63 429.39,453.63" fill="#1b7a4a"/>
<path d="M435.93 448.51V450.81M434.93 448.51H436.93M434.93 450.81H436.93" stroke="#1b7a4a" stroke-width="0.5" opacity="0.6"/>
<polygon points="435.93,447.76 437.83,451.18 434.03,451.18" fill="#1b7a4a"/>
<path d="M440.56 446.03V448.38M439.56 446.03H441.56M439.56 448.38H441.56" stroke="#1b7a4a" stroke-width="0.5" opacity="0.6"/>
<polygon points="440.56,445.31 442.46,448.73 438.66,448.73" fill="#1b7a4a"/>
<path d="M445.20 442.81V445.23M444.20 442.81H446.20M444.20 445.23H446.20" stroke="#1b7a4a" stroke-width="0.5" opacity="0.6"/>
<polygon points="445.20,442.12 447.10,445.54 443.30,445.54" fill="#1b7a4a"/>
<path d="M449.84 439.58V442.07M448.84 439.58H450.84M448.84 442.07H450.84" stroke="#1b7a4a" stroke-width="0.5" opacity="0.6"/>
<polygon points="449.84,438.93 451.74,442.35 447.94,442.35" fill="#1b7a4a"/>
<path d="M454.47 436.36V438.92M453.47 436.36H455.47M453.47 438.92H455.47" stroke="#1b7a4a" stroke-width="0.5" opacity="0.6"/>
<polygon points="454.47,435.74 456.37,439.16 452.57,439.16" fill="#1b7a4a"/>
<path d="M459.11 432.64V435.28M458.11 432.64H460.11M458.11 435.28H460.11" stroke="#1b7a4a" stroke-width="0.5" opacity="0.6"/>
<polygon points="459.11,432.06 461.01,435.48 457.21,435.48" fill="#1b7a4a"/>
<path d="M463.74 428.92V431.64M462.74 428.92H464.74M462.74 431.64H464.74" stroke="#1b7a4a" stroke-width="0.5" opacity="0.6"/>
<polygon points="463.74,428.38 465.64,431.80 461.84,431.80" fill="#1b7a4a"/>
<path d="M468.38 425.20V428.00M467.38 425.20H469.38M467.38 428.00H469.38" stroke="#1b7a4a" stroke-width="0.5" opacity="0.6"/>
<polygon points="468.38,424.70 470.28,428.12 466.48,428.12" fill="#1b7a4a"/>
<path d="M473.02 422.22V425.09M472.02 422.22H474.02M472.02 425.09H474.02" stroke="#1b7a4a" stroke-width="0.5" opacity="0.6"/>
<polygon points="473.02,421.76 474.92,425.18 471.12,425.18" fill="#1b7a4a"/>
<path d="M477.65 419.25V422.18M476.65 419.25H478.65M476.65 422.18H478.65" stroke="#1b7a4a" stroke-width="0.5" opacity="0.6"/>
<polygon points="477.65,418.81 479.55,422.23 475.75,422.23" fill="#1b7a4a"/>
<path d="M482.29 415.53V418.54M481.29 415.53H483.29M481.29 418.54H483.29" stroke="#1b7a4a" stroke-width="0.5" opacity="0.6"/>
<polygon points="482.29,415.13 484.19,418.55 480.39,418.55" fill="#1b7a4a"/>
<path d="M486.92 409.58V412.71M485.92 409.58H487.92M485.92 412.71H487.92" stroke="#1b7a4a" stroke-width="0.5" opacity="0.6"/>
<polygon points="486.92,409.24 488.82,412.66 485.02,412.66" fill="#1b7a4a"/>
<path d="M491.56 397.67V401.06M490.56 397.67H492.56M490.56 401.06H492.56" stroke="#1b7a4a" stroke-width="0.5" opacity="0.6"/>
<polygon points="491.56,397.47 493.46,400.89 489.66,400.89" fill="#1b7a4a"/>
<path d="M496.20 390.98V394.51M495.20 390.98H497.20M495.20 394.51H497.20" stroke="#1b7a4a" stroke-width="0.5" opacity="0.6"/>
<polygon points="496.20,390.84 498.10,394.26 494.30,394.26" fill="#1b7a4a"/>
<line x1="329.30" y1="372.00" x2="329.30" y2="500.70" stroke="#222" stroke-width="1.1"/>
<line x1="328.80" y1="500.20" x2="496.20" y2="500.20" stroke="#222" stroke-width="1.1"/>
<line x1="325.60" y1="500.20" x2="329.30" y2="500.20" stroke="#222" stroke-width="1"/>
<text x="323.80" y="503.00" font-size="8" text-anchor="end" font-weight="bold" fill="#1a1a1a" >0</text>
<line x1="325.60" y1="481.80" x2="329.30" y2="481.80" stroke="#222" stroke-width="1"/>
<text x="323.80" y="484.60" font-size="8" text-anchor="end" font-weight="bold" fill="#1a1a1a" >5</text>
<line x1="325.60" y1="463.40" x2="329.30" y2="463.40" stroke="#222" stroke-width="1"/>
<text x="323.80" y="466.20" font-size="8" text-anchor="end" font-weight="bold" fill="#1a1a1a" >10</text>
<line x1="325.60" y1="445.00" x2="329.30" y2="445.00" stroke="#222" stroke-width="1"/>
<text x="323.80" y="447.80" font-size="8" text-anchor="end" font-weight="bold" fill="#1a1a1a" >15</text>
<line x1="325.60" y1="426.60" x2="329.30" y2="426.60" stroke="#222" stroke-width="1"/>
<text x="323.80" y="429.40" font-size="8" text-anchor="end" font-weight="bold" fill="#1a1a1a" >20</text>
<line x1="325.60" y1="408.20" x2="329.30" y2="408.20" stroke="#222" stroke-width="1"/>
<text x="323.80" y="411.00" font-size="8" text-anchor="end" font-weight="bold" fill="#1a1a1a" >25</text>
<line x1="325.60" y1="389.80" x2="329.30" y2="389.80" stroke="#222" stroke-width="1"/>
<text x="323.80" y="392.60" font-size="8" text-anchor="end" font-weight="bold" fill="#1a1a1a" >30</text>
<line x1="325.60" y1="371.40" x2="329.30" y2="371.40" stroke="#222" stroke-width="1"/>
<text x="323.80" y="374.20" font-size="8" text-anchor="end" font-weight="bold" fill="#1a1a1a" >35</text>
<line x1="329.30" y1="500.20" x2="329.30" y2="503.80" stroke="#222" stroke-width="1"/>
<text x="329.30" y="514.50" font-size="8" text-anchor="middle" font-weight="bold" fill="#1a1a1a" >0</text>
<line x1="357.12" y1="500.20" x2="357.12" y2="503.80" stroke="#222" stroke-width="1"/>
<text x="357.12" y="514.50" font-size="8" text-anchor="middle" font-weight="bold" fill="#1a1a1a" >12</text>
<line x1="384.93" y1="500.20" x2="384.93" y2="503.80" stroke="#222" stroke-width="1"/>
<text x="384.93" y="514.50" font-size="8" text-anchor="middle" font-weight="bold" fill="#1a1a1a" >24</text>
<line x1="412.75" y1="500.20" x2="412.75" y2="503.80" stroke="#222" stroke-width="1"/>
<text x="412.75" y="514.50" font-size="8" text-anchor="middle" font-weight="bold" fill="#1a1a1a" >36</text>
<line x1="440.56" y1="500.20" x2="440.56" y2="503.80" stroke="#222" stroke-width="1"/>
<text x="440.56" y="514.50" font-size="8" text-anchor="middle" font-weight="bold" fill="#1a1a1a" >48</text>
<line x1="468.38" y1="500.20" x2="468.38" y2="503.80" stroke="#222" stroke-width="1"/>
<text x="468.38" y="514.50" font-size="8" text-anchor="middle" font-weight="bold" fill="#1a1a1a" >60</text>
<line x1="496.20" y1="500.20" x2="496.20" y2="503.80" stroke="#222" stroke-width="1"/>
<text x="496.20" y="514.50" font-size="8" text-anchor="middle" font-weight="bold" fill="#1a1a1a" >72</text>
<text x="413.00" y="528.20" font-size="7.8" text-anchor="middle" font-weight="bold" fill="#1a1a1a" >Time (h)</text>
<text x="310.50" y="435.40" font-size="8.55" text-anchor="middle" font-weight="bold" fill="#1a1a1a" transform="rotate(-90 310.5 435.4)" >Normalised Cytotox Signal</text>
<text x="413.00" y="361.00" font-size="10.4" text-anchor="middle" font-weight="bold" fill="#1a1a1a" textLength="38" lengthAdjust="spacingAndGlyphs">H9 Cells</text>
<line x1="394.00" y1="362.00" x2="432.50" y2="362.00" stroke="#1a1a1a" stroke-width="0.9"/>
<line x1="342.00" y1="373.25" x2="352.50" y2="373.25" stroke="#1b7a4a" stroke-width="1.3"/>
<polygon points="347.20,371.35 349.10,374.77 345.30,374.77" fill="#1b7a4a"/>
<text x="359.30" y="376.05" font-size="7.45" text-anchor="start" font-weight="bold" fill="#1a1a1a" >Tolinapant + DAC</text>
<line x1="342.00" y1="385.50" x2="352.50" y2="385.50" stroke="#b52025" stroke-width="1.3"/>
<rect x="345.60" y="383.90" width="3.20" height="3.20" fill="#b52025"/>
<text x="359.30" y="388.30" font-size="7.45" text-anchor="start" font-weight="bold" fill="#1a1a1a" >DAC</text>
<line x1="342.00" y1="397.75" x2="352.50" y2="397.75" stroke="#2b2f8f" stroke-width="1.3"/>
<circle cx="347.20" cy="397.75" r="1.80" fill="#2b2f8f"/>
<text x="359.30" y="400.55" font-size="7.45" text-anchor="start" font-weight="bold" fill="#1a1a1a" >Tolinapant</text>
<line x1="342.00" y1="410.00" x2="352.50" y2="410.00" stroke="#111111" stroke-width="1.3"/>
<polygon points="347.20,411.90 349.10,408.48 345.30,408.48" fill="#111111"/>
<text x="359.30" y="412.80" font-size="7.45" text-anchor="start" font-weight="bold" fill="#1a1a1a" >DMSO Control</text>
<text x="491.50" y="375.30" font-size="7.45" text-anchor="middle" font-weight="bold" fill="#1b7a4a" >Tolinapant</text>
<text x="491.80" y="385.60" font-size="7.45" text-anchor="middle" font-weight="bold" fill="#1b7a4a" >+ DAC</text>
<text transform="translate(310.7 332.6) scale(0.82 1)" font-size="13.2" font-weight="bold" fill="#4d4d4d">F</text>
<text transform="translate(0.4 331.5) scale(0.82 1)" font-size="13.2" font-weight="bold" fill="#4d4d4d">E</text>
<defs><linearGradient id="ck" x1="0" x2="1" y1="0" y2="0"><stop offset="0" stop-color="#e8101a"/><stop offset="0.5" stop-color="#dcdcdc"/><stop offset="1" stop-color="#3a4a9e"/></linearGradient></defs>
<rect x="37.1" y="340.2" width="46" height="25" fill="url(#ck)"/>
<text x="60.10" y="338.20" font-size="4.4" text-anchor="middle" font-weight="bold" fill="#1a1a1a" >Color Key</text>
<text x="38.60" y="345.40" font-size="4.2" text-anchor="start" font-weight="bold" fill="#fff" >Antagonism</text>
<text x="81.50" y="345.40" font-size="4.2" text-anchor="end" font-weight="bold" fill="#fff" >Synergy</text>
<line x1="42.30" y1="365.20" x2="42.30" y2="367.40" stroke="#444" stroke-width="0.4"/>
<text x="42.30" y="373.00" font-size="4.2" text-anchor="middle" font-weight="normal" fill="#333" >-2</text>
<line x1="51.20" y1="365.20" x2="51.20" y2="367.40" stroke="#444" stroke-width="0.4"/>
<text x="51.20" y="373.00" font-size="4.2" text-anchor="middle" font-weight="normal" fill="#333" >-1</text>
<line x1="60.10" y1="365.20" x2="60.10" y2="367.40" stroke="#444" stroke-width="0.4"/>
<text x="60.10" y="373.00" font-size="4.2" text-anchor="middle" font-weight="normal" fill="#333" >0</text>
<line x1="69.00" y1="365.20" x2="69.00" y2="367.40" stroke="#444" stroke-width="0.4"/>
<text x="69.00" y="373.00" font-size="4.2" text-anchor="middle" font-weight="normal" fill="#333" >1</text>
<line x1="77.90" y1="365.20" x2="77.90" y2="367.40" stroke="#444" stroke-width="0.4"/>
<text x="77.90" y="373.00" font-size="4.2" text-anchor="middle" font-weight="normal" fill="#333" >2</text>
<text x="60.10" y="379.20" font-size="4.0" text-anchor="middle" font-weight="normal" fill="#333" >Value</text>
<text x="100.10" y="346.30" font-size="6.9" text-anchor="start" font-weight="bold" fill="#1a1a1a" >Tolinapant + DAC: Delta AUC</text>
<rect x="86.8" y="386.1" width="120.72" height="111.00" fill="#d4d4d4"/>
<rect x="86.80" y="386.10" width="15.69" height="22.80" fill="#d4d4d4"/>
<rect x="101.89" y="386.10" width="15.69" height="22.80" fill="#c9c9d8"/>
<rect x="116.98" y="386.10" width="15.69" height="22.80" fill="#c2c2dc"/>
<rect x="132.07" y="386.10" width="15.69" height="22.80" fill="#b9b9dc"/>
<rect x="147.16" y="386.10" width="15.69" height="22.80" fill="#a9a9dd"/>
<rect x="162.25" y="386.10" width="15.69" height="22.80" fill="#9d9dd8"/>
<rect x="177.34" y="386.10" width="15.69" height="22.80" fill="#8989cc"/>
<rect x="192.43" y="386.10" width="15.69" height="22.80" fill="#6d6dbd"/>
<rect x="86.80" y="408.30" width="15.69" height="22.80" fill="#d4d4d4"/>
<rect x="101.89" y="408.30" width="15.69" height="22.80" fill="#d8caca"/>
<rect x="116.98" y="408.30" width="15.69" height="22.80" fill="#c6c6d9"/>
<rect x="132.07" y="408.30" width="15.69" height="22.80" fill="#bebed9"/>
<rect x="147.16" y="408.30" width="15.69" height="22.80" fill="#b2b2dc"/>
<rect x="162.25" y="408.30" width="15.69" height="22.80" fill="#b0b0dc"/>
<rect x="177.34" y="408.30" width="15.69" height="22.80" fill="#8a8acd"/>
<rect x="192.43" y="408.30" width="15.69" height="22.80" fill="#5a5ab1"/>
<rect x="86.80" y="430.50" width="15.69" height="22.80" fill="#d4d4d4"/>
<rect x="101.89" y="430.50" width="15.69" height="22.80" fill="#d3d3d3"/>
<rect x="116.98" y="430.50" width="15.69" height="22.80" fill="#a9a9dc"/>
<rect x="132.07" y="430.50" width="15.69" height="22.80" fill="#9f9fd8"/>
<rect x="147.16" y="430.50" width="15.69" height="22.80" fill="#7d7dc5"/>
<rect x="162.25" y="430.50" width="15.69" height="22.80" fill="#7070bd"/>
<rect x="177.34" y="430.50" width="15.69" height="22.80" fill="#6f6fb9"/>
<rect x="192.43" y="430.50" width="15.69" height="22.80" fill="#6a6ab8"/>
<rect x="86.80" y="452.70" width="15.69" height="22.80" fill="#d4d4d4"/>
<rect x="101.89" y="452.70" width="15.69" height="22.80" fill="#dbc8c8"/>
<rect x="116.98" y="452.70" width="15.69" height="22.80" fill="#d5d5d5"/>
<rect x="132.07" y="452.70" width="15.69" height="22.80" fill="#b1b1dc"/>
<rect x="147.16" y="452.70" width="15.69" height="22.80" fill="#8282c8"/>
<rect x="162.25" y="452.70" width="15.69" height="22.80" fill="#5a5ab1"/>
<rect x="177.34" y="452.70" width="15.69" height="22.80" fill="#5252a9"/>
<rect x="192.43" y="452.70" width="15.69" height="22.80" fill="#3149a0"/>
<rect x="86.80" y="474.90" width="15.69" height="22.80" fill="#d4d4d4"/>
<rect x="101.89" y="474.90" width="15.69" height="22.80" fill="#dccaca"/>
<rect x="116.98" y="474.90" width="15.69" height="22.80" fill="#dcbebe"/>
<rect x="132.07" y="474.90" width="15.69" height="22.80" fill="#dcbebe"/>
<rect x="147.16" y="474.90" width="15.69" height="22.80" fill="#dcc6c6"/>
<rect x="162.25" y="474.90" width="15.69" height="22.80" fill="#dcc6c6"/>
<rect x="177.34" y="474.90" width="15.69" height="22.80" fill="#d5d5d5"/>
<rect x="192.43" y="474.90" width="15.69" height="22.80" fill="#b1b1dc"/>
<text x="208.80" y="399.40" font-size="6.2" text-anchor="start" font-weight="normal" fill="#222" >HuT-78</text>
<text x="208.80" y="421.60" font-size="6.2" text-anchor="start" font-weight="normal" fill="#222" >MJ</text>
<text x="208.80" y="443.80" font-size="6.2" text-anchor="start" font-weight="normal" fill="#222" >HuT-102</text>
<text x="208.80" y="466.00" font-size="6.2" text-anchor="start" font-weight="normal" fill="#222" >H9</text>
<text x="208.80" y="488.20" font-size="6.2" text-anchor="start" font-weight="normal" fill="#222" >HH</text>
<line x1="75.70" y1="397.20" x2="84.60" y2="397.20" stroke="#8a8a8a" stroke-width="0.6"/>
<line x1="75.70" y1="419.40" x2="84.60" y2="419.40" stroke="#8a8a8a" stroke-width="0.6"/>
<line x1="75.70" y1="397.20" x2="75.70" y2="419.40" stroke="#8a8a8a" stroke-width="0.6"/>
<line x1="66.80" y1="408.30" x2="75.70" y2="408.30" stroke="#8a8a8a" stroke-width="0.6"/>
<line x1="66.80" y1="441.60" x2="84.60" y2="441.60" stroke="#8a8a8a" stroke-width="0.6"/>
<line x1="66.80" y1="408.30" x2="66.80" y2="441.60" stroke="#8a8a8a" stroke-width="0.6"/>
<line x1="50.80" y1="424.95" x2="66.80" y2="424.95" stroke="#8a8a8a" stroke-width="0.6"/>
<line x1="50.80" y1="463.80" x2="84.60" y2="463.80" stroke="#8a8a8a" stroke-width="0.6"/>
<line x1="50.80" y1="424.95" x2="50.80" y2="463.80" stroke="#8a8a8a" stroke-width="0.6"/>
<line x1="22.90" y1="444.38" x2="50.80" y2="444.38" stroke="#8a8a8a" stroke-width="0.6"/>
<line x1="22.90" y1="486.00" x2="84.60" y2="486.00" stroke="#8a8a8a" stroke-width="0.6"/>
<line x1="22.90" y1="444.38" x2="22.90" y2="486.00" stroke="#8a8a8a" stroke-width="0.6"/>
<text x="96.34" y="501.50" font-size="4.9" text-anchor="end" font-weight="bold" fill="#1a1a1a" transform="rotate(-45 96.345 501.5)" >0 µmol/L</text>
<text x="111.44" y="501.50" font-size="4.9" text-anchor="end" font-weight="bold" fill="#1a1a1a" transform="rotate(-45 111.435 501.5)" >0.01 µmol/L</text>
<text x="126.53" y="501.50" font-size="4.9" text-anchor="end" font-weight="bold" fill="#1a1a1a" transform="rotate(-45 126.525 501.5)" >0.03 µmol/L</text>
<text x="141.62" y="501.50" font-size="4.9" text-anchor="end" font-weight="bold" fill="#1a1a1a" transform="rotate(-45 141.615 501.5)" >0.1 µmol/L</text>
<text x="156.70" y="501.50" font-size="4.9" text-anchor="end" font-weight="bold" fill="#1a1a1a" transform="rotate(-45 156.70499999999998 501.5)" >0.3 µmol/L</text>
<text x="171.80" y="501.50" font-size="4.9" text-anchor="end" font-weight="bold" fill="#1a1a1a" transform="rotate(-45 171.79500000000002 501.5)" >1 µmol/L</text>
<text x="186.88" y="501.50" font-size="4.9" text-anchor="end" font-weight="bold" fill="#1a1a1a" transform="rotate(-45 186.885 501.5)" >3 µmol/L</text>
<text x="201.97" y="501.50" font-size="4.9" text-anchor="end" font-weight="bold" fill="#1a1a1a" transform="rotate(-45 201.975 501.5)" >10 µmol/L</text>
<text x="148.50" y="525.60" font-size="6.0" text-anchor="middle" font-weight="bold" fill="#1a1a1a" >[Tolinapant]</text>
<polygon points="91.5,535.6 202.4,535.6 202.4,523.2" fill="#262626"/>
</svg></body></html>
